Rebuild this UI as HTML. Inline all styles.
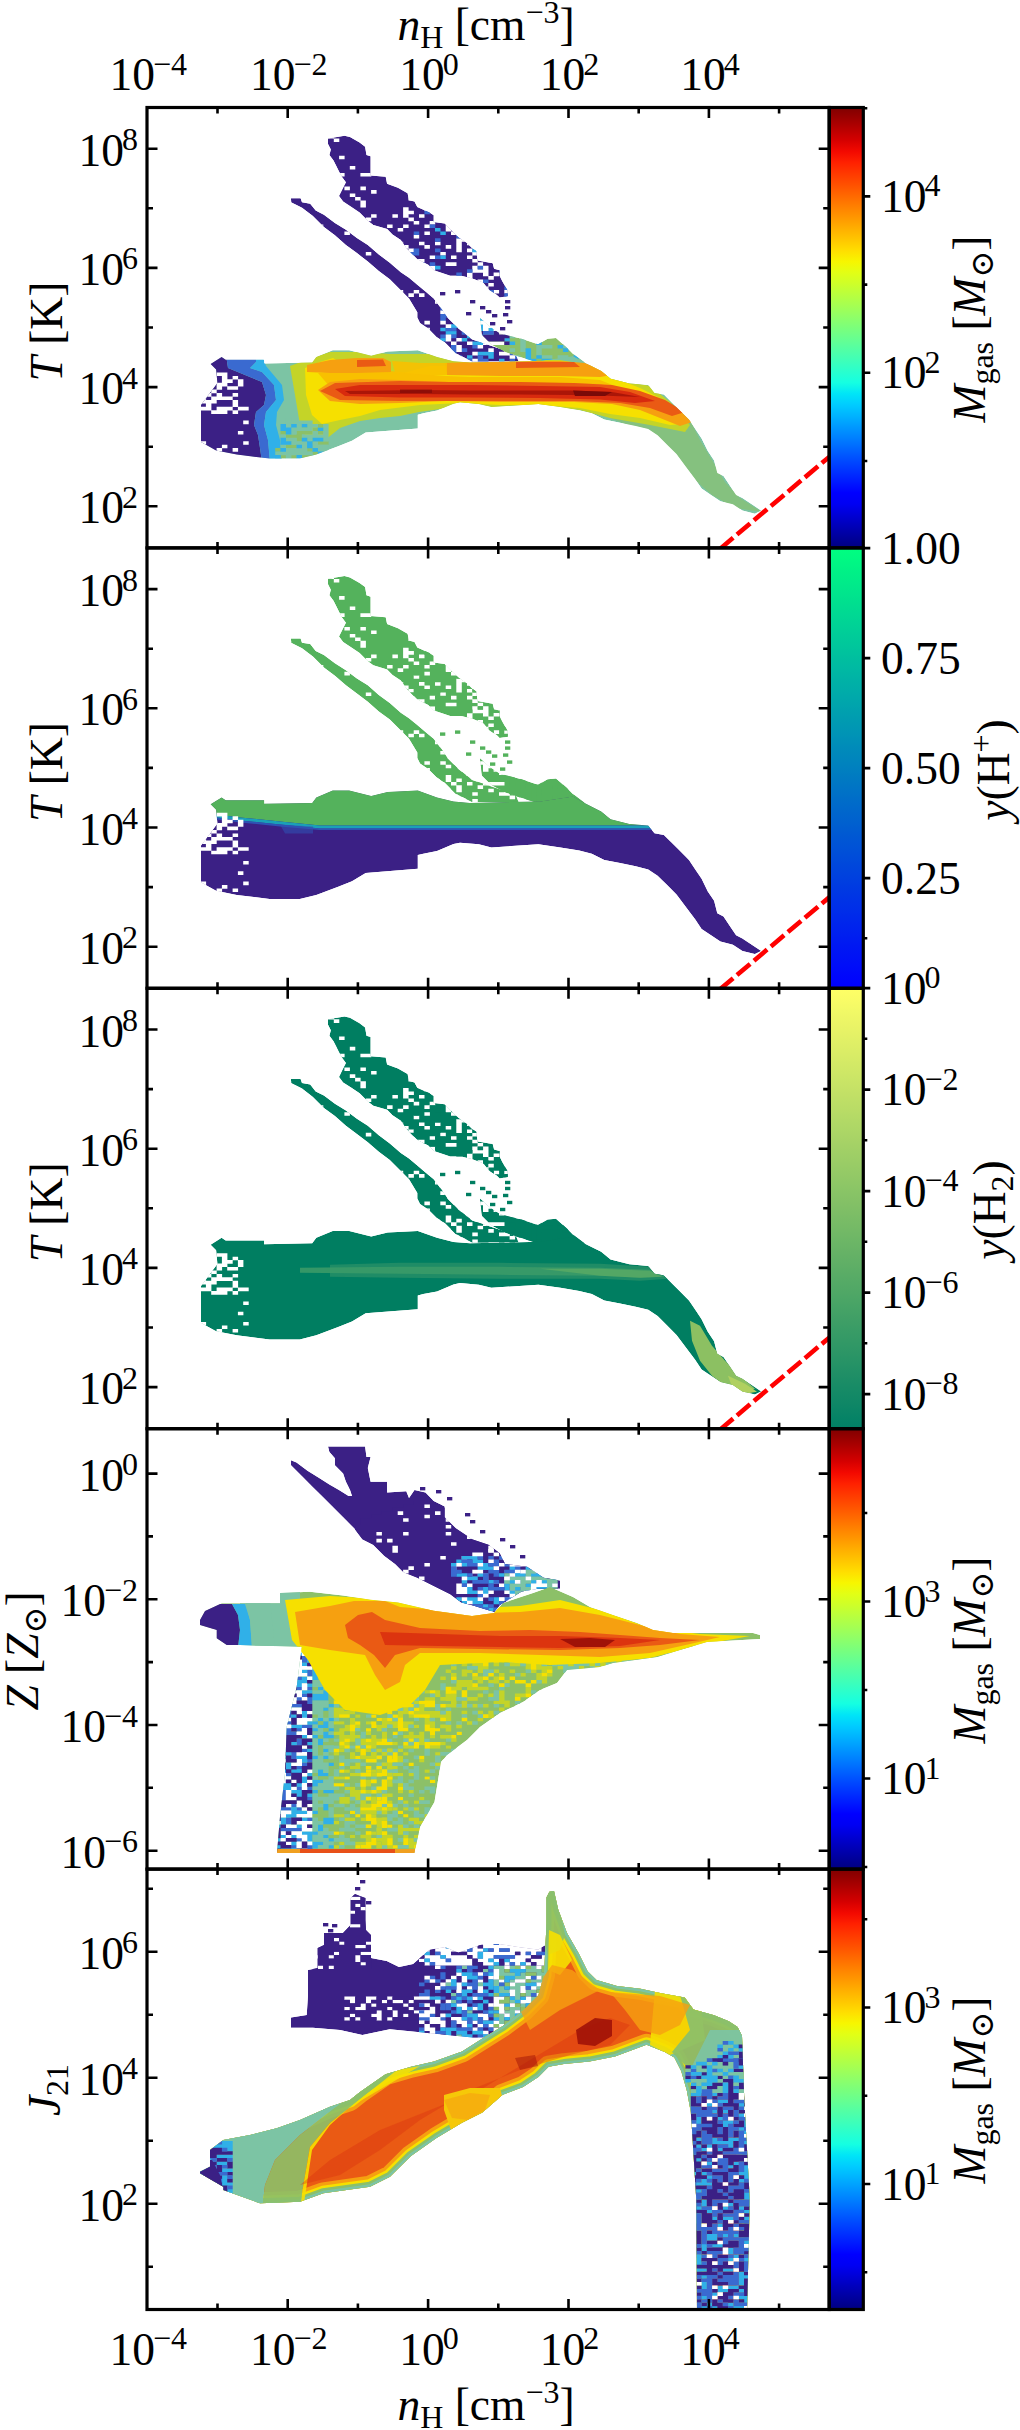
<!DOCTYPE html>
<html><head><meta charset="utf-8"><title>Phase diagrams</title>
<style>html,body{margin:0;padding:0;background:#fff;}svg{display:block;}</style>
</head><body>
<svg width="1020" height="2430" viewBox="0 0 1020 2430">
<defs><linearGradient id="gjet" x1="0" y1="0" x2="0" y2="1"><stop offset="0.0000" stop-color="#800000"/><stop offset="0.0250" stop-color="#9c0000"/><stop offset="0.0500" stop-color="#b90000"/><stop offset="0.0750" stop-color="#d60000"/><stop offset="0.1000" stop-color="#f30900"/><stop offset="0.1250" stop-color="#ff2100"/><stop offset="0.1500" stop-color="#ff3900"/><stop offset="0.1750" stop-color="#ff5000"/><stop offset="0.2000" stop-color="#ff6800"/><stop offset="0.2250" stop-color="#ff8000"/><stop offset="0.2500" stop-color="#ff9700"/><stop offset="0.2750" stop-color="#ffaf00"/><stop offset="0.3000" stop-color="#ffc600"/><stop offset="0.3250" stop-color="#ffde00"/><stop offset="0.3500" stop-color="#f7f600"/><stop offset="0.3750" stop-color="#e2ff15"/><stop offset="0.4000" stop-color="#ceff29"/><stop offset="0.4250" stop-color="#b9ff3e"/><stop offset="0.4500" stop-color="#a5ff52"/><stop offset="0.4750" stop-color="#90ff67"/><stop offset="0.5000" stop-color="#7bff7b"/><stop offset="0.5250" stop-color="#67ff90"/><stop offset="0.5500" stop-color="#52ffa5"/><stop offset="0.5750" stop-color="#3effb9"/><stop offset="0.6000" stop-color="#29ffce"/><stop offset="0.6250" stop-color="#15ffe2"/><stop offset="0.6500" stop-color="#00e5f7"/><stop offset="0.6750" stop-color="#00ccff"/><stop offset="0.7000" stop-color="#00b3ff"/><stop offset="0.7250" stop-color="#0099ff"/><stop offset="0.7500" stop-color="#0080ff"/><stop offset="0.7750" stop-color="#0066ff"/><stop offset="0.8000" stop-color="#004cff"/><stop offset="0.8250" stop-color="#0033ff"/><stop offset="0.8500" stop-color="#001aff"/><stop offset="0.8750" stop-color="#0000ff"/><stop offset="0.9000" stop-color="#0000f3"/><stop offset="0.9250" stop-color="#0000d6"/><stop offset="0.9500" stop-color="#0000b9"/><stop offset="0.9750" stop-color="#00009c"/><stop offset="1.0000" stop-color="#000080"/></linearGradient><linearGradient id="gwin" x1="0" y1="0" x2="0" y2="1"><stop offset="0.0000" stop-color="#00ff80"/><stop offset="0.0250" stop-color="#00f983"/><stop offset="0.0500" stop-color="#00f286"/><stop offset="0.0750" stop-color="#00ec89"/><stop offset="0.1000" stop-color="#00e68c"/><stop offset="0.1250" stop-color="#00df8f"/><stop offset="0.1500" stop-color="#00d993"/><stop offset="0.1750" stop-color="#00d296"/><stop offset="0.2000" stop-color="#00cc99"/><stop offset="0.2250" stop-color="#00c69c"/><stop offset="0.2500" stop-color="#00bf9f"/><stop offset="0.2750" stop-color="#00b9a3"/><stop offset="0.3000" stop-color="#00b2a6"/><stop offset="0.3250" stop-color="#00aca9"/><stop offset="0.3500" stop-color="#00a6ac"/><stop offset="0.3750" stop-color="#009faf"/><stop offset="0.4000" stop-color="#0099b2"/><stop offset="0.4250" stop-color="#0093b6"/><stop offset="0.4500" stop-color="#008cb9"/><stop offset="0.4750" stop-color="#0086bc"/><stop offset="0.5000" stop-color="#0080bf"/><stop offset="0.5250" stop-color="#0079c2"/><stop offset="0.5500" stop-color="#0073c6"/><stop offset="0.5750" stop-color="#006cc9"/><stop offset="0.6000" stop-color="#0066cc"/><stop offset="0.6250" stop-color="#0060cf"/><stop offset="0.6500" stop-color="#0059d2"/><stop offset="0.6750" stop-color="#0053d6"/><stop offset="0.7000" stop-color="#004dd9"/><stop offset="0.7250" stop-color="#0046dc"/><stop offset="0.7500" stop-color="#0040df"/><stop offset="0.7750" stop-color="#0039e2"/><stop offset="0.8000" stop-color="#0033e6"/><stop offset="0.8250" stop-color="#002de9"/><stop offset="0.8500" stop-color="#0026ec"/><stop offset="0.8750" stop-color="#0020ef"/><stop offset="0.9000" stop-color="#0019f2"/><stop offset="0.9250" stop-color="#0013f5"/><stop offset="0.9500" stop-color="#000df9"/><stop offset="0.9750" stop-color="#0006fc"/><stop offset="1.0000" stop-color="#0000ff"/></linearGradient><linearGradient id="gsum" x1="0" y1="0" x2="0" y2="1"><stop offset="0.0000" stop-color="#ffff66"/><stop offset="0.0250" stop-color="#f9fc66"/><stop offset="0.0500" stop-color="#f2f966"/><stop offset="0.0750" stop-color="#ecf566"/><stop offset="0.1000" stop-color="#e6f266"/><stop offset="0.1250" stop-color="#dfef66"/><stop offset="0.1500" stop-color="#d9ec66"/><stop offset="0.1750" stop-color="#d2e966"/><stop offset="0.2000" stop-color="#cce666"/><stop offset="0.2250" stop-color="#c6e266"/><stop offset="0.2500" stop-color="#bfdf66"/><stop offset="0.2750" stop-color="#b9dc66"/><stop offset="0.3000" stop-color="#b2d966"/><stop offset="0.3250" stop-color="#acd666"/><stop offset="0.3500" stop-color="#a6d266"/><stop offset="0.3750" stop-color="#9fcf66"/><stop offset="0.4000" stop-color="#99cc66"/><stop offset="0.4250" stop-color="#93c966"/><stop offset="0.4500" stop-color="#8cc666"/><stop offset="0.4750" stop-color="#86c266"/><stop offset="0.5000" stop-color="#80bf66"/><stop offset="0.5250" stop-color="#79bc66"/><stop offset="0.5500" stop-color="#73b966"/><stop offset="0.5750" stop-color="#6cb666"/><stop offset="0.6000" stop-color="#66b266"/><stop offset="0.6250" stop-color="#60af66"/><stop offset="0.6500" stop-color="#59ac66"/><stop offset="0.6750" stop-color="#53a966"/><stop offset="0.7000" stop-color="#4da666"/><stop offset="0.7250" stop-color="#46a366"/><stop offset="0.7500" stop-color="#409f66"/><stop offset="0.7750" stop-color="#399c66"/><stop offset="0.8000" stop-color="#339966"/><stop offset="0.8250" stop-color="#2d9666"/><stop offset="0.8500" stop-color="#269366"/><stop offset="0.8750" stop-color="#208f66"/><stop offset="0.9000" stop-color="#198c66"/><stop offset="0.9250" stop-color="#138966"/><stop offset="0.9500" stop-color="#0d8666"/><stop offset="0.9750" stop-color="#068366"/><stop offset="1.0000" stop-color="#008066"/></linearGradient><clipPath id="clip0"><rect x="147.0" y="107.5" width="682.2" height="440.4"/></clipPath><clipPath id="clip1"><rect x="147.0" y="547.9" width="682.2" height="440.4"/></clipPath><clipPath id="clip2"><rect x="147.0" y="988.3" width="682.2" height="440.4"/></clipPath><clipPath id="clip3"><rect x="147.0" y="1428.7" width="682.2" height="440.4"/></clipPath><clipPath id="clip4"><rect x="147.0" y="1869.1" width="682.2" height="440.4"/></clipPath><clipPath id="cpl0"><polygon points="328.0,138.4 344.5,135.7 350.0,137.0 359.6,142.5 365.1,146.7 366.5,154.9 370.6,156.3 370.6,175.5 385.7,176.8 387.1,183.7 398.0,187.8 407.6,193.3 409.0,200.2 414.5,201.6 417.3,207.0 429.6,212.5 433.7,215.3 433.7,222.1 444.7,223.5 450.2,229.0 458.4,237.2 466.7,242.7 472.2,248.2 476.3,251.0 477.6,260.6 492.7,263.3 494.1,268.8 499.6,270.2 499.6,275.7 502.3,281.2 507.8,290.8 507.8,296.3 499.6,297.6 496.9,294.9 488.6,289.4 483.1,282.5 472.2,278.4 461.2,275.7 450.2,275.7 442.0,272.9 433.7,270.2 428.2,264.7 417.3,259.2 411.8,253.7 406.3,248.2 400.8,240.0 392.5,234.5 387.1,229.0 373.3,224.9 367.8,220.8 359.6,212.5 351.4,207.0 343.1,201.6 339.0,196.1 343.1,187.8 345.9,182.3 341.8,176.8 339.0,171.4 336.3,165.9 333.5,160.4 329.4,154.9 330.8,149.4 328.0,143.9"/></clipPath><clipPath id="cst0"><polygon points="291.0,198.2 300.6,198.2 302.0,202.3 310.2,203.7 315.7,210.6 323.9,214.7 334.9,222.9 345.9,229.8 356.9,238.0 367.8,244.9 378.8,254.5 389.8,262.7 400.8,272.3 409.0,277.8 417.3,284.7 425.5,291.6 433.7,298.4 442.0,309.4 447.4,317.6 458.4,328.6 472.2,339.6 488.6,345.1 505.1,350.6 516.1,356.1 518.8,361.6 472.2,361.6 455.7,353.3 444.7,342.3 436.5,336.9 428.2,328.6 420.0,323.1 417.3,317.6 417.3,312.2 409.0,298.4 400.8,290.2 389.8,279.2 378.8,271.0 367.8,261.4 356.9,253.1 345.9,244.9 334.9,235.3 323.9,227.1 312.9,216.1 302.0,207.8 291.0,202.3"/></clipPath><clipPath id="cbr0"><polygon points="480.0,318.0 491.4,327.8 499.6,333.3 521.6,338.8 538.0,344.3 547.6,338.8 556.0,338.0 566.7,347.4 572.9,353.7 585.5,363.1 560.0,363.0 536.0,362.0 520.0,357.0 505.0,352.0 492.0,345.0 482.0,335.0"/></clipPath><clipPath id="cm0"><polygon points="210.6,363.9 221.6,357.0 225.7,359.8 264.1,359.8 264.1,363.4 312.2,362.5 316.3,357.0 332.7,350.2 349.2,350.2 371.2,355.7 387.6,351.6 417.8,350.2 437.0,357.0 453.5,361.2 470.0,362.5 540.0,361.0 572.9,356.0 585.5,363.1 601.2,371.0 610.6,378.8 629.4,383.5 648.2,385.1 654.5,392.9 663.9,394.5 673.3,403.9 679.6,410.2 689.0,419.6 695.3,429.0 701.6,438.4 707.8,451.0 714.1,460.4 717.3,472.9 723.5,476.1 729.8,485.5 736.1,494.9 742.4,498.0 751.8,504.3 761.2,510.6 754.9,513.7 742.4,510.6 732.9,504.3 720.4,501.2 711.0,494.9 701.6,488.6 695.3,479.2 685.9,466.7 676.5,454.1 667.1,444.7 657.6,435.3 648.2,429.0 635.7,425.9 620.0,422.7 604.3,419.6 591.8,413.3 579.2,410.2 560.4,407.0 538.4,403.9 491.4,407.0 478.8,403.9 460.0,402.3 453.5,403.7 437.0,410.6 423.3,413.3 417.8,414.7 417.8,428.4 365.7,432.5 352.0,440.8 338.2,446.3 316.3,454.5 299.8,458.6 269.6,458.6 236.7,454.5 216.1,450.4 201.0,442.1 201.0,405.1 209.2,394.1 217.4,383.1 216.1,369.4"/></clipPath><clipPath id="cpl440"><polygon points="328.0,578.8 344.5,576.1 350.0,577.4 359.6,582.9 365.1,587.1 366.5,595.3 370.6,596.7 370.6,615.9 385.7,617.2 387.1,624.1 398.0,628.2 407.6,633.7 409.0,640.6 414.5,642.0 417.3,647.4 429.6,652.9 433.7,655.7 433.7,662.5 444.7,663.9 450.2,669.4 458.4,677.6 466.7,683.1 472.2,688.6 476.3,691.4 477.6,701.0 492.7,703.7 494.1,709.2 499.6,710.6 499.6,716.1 502.3,721.6 507.8,731.2 507.8,736.7 499.6,738.0 496.9,735.3 488.6,729.8 483.1,722.9 472.2,718.8 461.2,716.1 450.2,716.1 442.0,713.3 433.7,710.6 428.2,705.1 417.3,699.6 411.8,694.1 406.3,688.6 400.8,680.4 392.5,674.9 387.1,669.4 373.3,665.3 367.8,661.2 359.6,652.9 351.4,647.4 343.1,642.0 339.0,636.5 343.1,628.2 345.9,622.7 341.8,617.2 339.0,611.8 336.3,606.3 333.5,600.8 329.4,595.3 330.8,589.8 328.0,584.3"/></clipPath><clipPath id="cst440"><polygon points="291.0,638.6 300.6,638.6 302.0,642.7 310.2,644.1 315.7,651.0 323.9,655.1 334.9,663.3 345.9,670.2 356.9,678.4 367.8,685.3 378.8,694.9 389.8,703.1 400.8,712.7 409.0,718.2 417.3,725.1 425.5,732.0 433.7,738.8 442.0,749.8 447.4,758.0 458.4,769.0 472.2,780.0 488.6,785.5 505.1,791.0 516.1,796.5 518.8,802.0 472.2,802.0 455.7,793.7 444.7,782.7 436.5,777.3 428.2,769.0 420.0,763.5 417.3,758.0 417.3,752.6 409.0,738.8 400.8,730.6 389.8,719.6 378.8,711.4 367.8,701.8 356.9,693.5 345.9,685.3 334.9,675.7 323.9,667.5 312.9,656.5 302.0,648.2 291.0,642.7"/></clipPath><clipPath id="cbr440"><polygon points="480.0,758.4 491.4,768.2 499.6,773.7 521.6,779.2 538.0,784.7 547.6,779.2 556.0,778.4 566.7,787.8 572.9,794.1 585.5,803.5 560.0,803.4 536.0,802.4 520.0,797.4 505.0,792.4 492.0,785.4 482.0,775.4"/></clipPath><clipPath id="cm1"><polygon points="210.6,804.3 221.6,797.4 225.7,800.2 264.1,800.2 264.1,803.8 312.2,802.9 316.3,797.4 332.7,790.6 349.2,790.6 371.2,796.1 387.6,792.0 417.8,790.6 437.0,797.4 453.5,801.6 470.0,802.9 540.0,801.4 572.9,796.4 585.5,803.5 601.2,811.4 610.6,819.2 629.4,823.9 648.2,825.5 654.5,833.3 663.9,834.9 673.3,844.3 679.6,850.6 689.0,860.0 695.3,869.4 701.6,878.8 707.8,891.4 714.1,900.8 717.3,913.3 723.5,916.5 729.8,925.9 736.1,935.3 742.4,938.4 751.8,944.7 761.2,951.0 754.9,954.1 742.4,951.0 732.9,944.7 720.4,941.6 711.0,935.3 701.6,929.0 695.3,919.6 685.9,907.1 676.5,894.5 667.1,885.1 657.6,875.7 648.2,869.4 635.7,866.3 620.0,863.1 604.3,860.0 591.8,853.7 579.2,850.6 560.4,847.4 538.4,844.3 491.4,847.4 478.8,844.3 460.0,842.7 453.5,844.1 437.0,851.0 423.3,853.7 417.8,855.1 417.8,868.8 365.7,872.9 352.0,881.2 338.2,886.7 316.3,894.9 299.8,899.0 269.6,899.0 236.7,894.9 216.1,890.8 201.0,882.5 201.0,845.5 209.2,834.5 217.4,823.5 216.1,809.8"/></clipPath><clipPath id="cpl880"><polygon points="328.0,1019.2 344.5,1016.5 350.0,1017.8 359.6,1023.3 365.1,1027.5 366.5,1035.7 370.6,1037.1 370.6,1056.3 385.7,1057.6 387.1,1064.5 398.0,1068.6 407.6,1074.1 409.0,1081.0 414.5,1082.4 417.3,1087.8 429.6,1093.3 433.7,1096.1 433.7,1102.9 444.7,1104.3 450.2,1109.8 458.4,1118.0 466.7,1123.5 472.2,1129.0 476.3,1131.8 477.6,1141.4 492.7,1144.1 494.1,1149.6 499.6,1151.0 499.6,1156.5 502.3,1162.0 507.8,1171.6 507.8,1177.1 499.6,1178.4 496.9,1175.7 488.6,1170.2 483.1,1163.3 472.2,1159.2 461.2,1156.5 450.2,1156.5 442.0,1153.7 433.7,1151.0 428.2,1145.5 417.3,1140.0 411.8,1134.5 406.3,1129.0 400.8,1120.8 392.5,1115.3 387.1,1109.8 373.3,1105.7 367.8,1101.6 359.6,1093.3 351.4,1087.8 343.1,1082.4 339.0,1076.9 343.1,1068.6 345.9,1063.1 341.8,1057.6 339.0,1052.2 336.3,1046.7 333.5,1041.2 329.4,1035.7 330.8,1030.2 328.0,1024.7"/></clipPath><clipPath id="cst880"><polygon points="291.0,1079.0 300.6,1079.0 302.0,1083.1 310.2,1084.5 315.7,1091.4 323.9,1095.5 334.9,1103.7 345.9,1110.6 356.9,1118.8 367.8,1125.7 378.8,1135.3 389.8,1143.5 400.8,1153.1 409.0,1158.6 417.3,1165.5 425.5,1172.4 433.7,1179.2 442.0,1190.2 447.4,1198.4 458.4,1209.4 472.2,1220.4 488.6,1225.9 505.1,1231.4 516.1,1236.9 518.8,1242.4 472.2,1242.4 455.7,1234.1 444.7,1223.1 436.5,1217.7 428.2,1209.4 420.0,1203.9 417.3,1198.4 417.3,1193.0 409.0,1179.2 400.8,1171.0 389.8,1160.0 378.8,1151.8 367.8,1142.2 356.9,1133.9 345.9,1125.7 334.9,1116.1 323.9,1107.9 312.9,1096.9 302.0,1088.6 291.0,1083.1"/></clipPath><clipPath id="cbr880"><polygon points="480.0,1198.8 491.4,1208.6 499.6,1214.1 521.6,1219.6 538.0,1225.1 547.6,1219.6 556.0,1218.8 566.7,1228.2 572.9,1234.5 585.5,1243.9 560.0,1243.8 536.0,1242.8 520.0,1237.8 505.0,1232.8 492.0,1225.8 482.0,1215.8"/></clipPath><clipPath id="cm2"><polygon points="210.6,1244.7 221.6,1237.8 225.7,1240.6 264.1,1240.6 264.1,1244.2 312.2,1243.3 316.3,1237.8 332.7,1231.0 349.2,1231.0 371.2,1236.5 387.6,1232.4 417.8,1231.0 437.0,1237.8 453.5,1242.0 470.0,1243.3 540.0,1241.8 572.9,1236.8 585.5,1243.9 601.2,1251.8 610.6,1259.6 629.4,1264.3 648.2,1265.9 654.5,1273.7 663.9,1275.3 673.3,1284.7 679.6,1291.0 689.0,1300.4 695.3,1309.8 701.6,1319.2 707.8,1331.8 714.1,1341.2 717.3,1353.7 723.5,1356.9 729.8,1366.3 736.1,1375.7 742.4,1378.8 751.8,1385.1 761.2,1391.4 754.9,1394.5 742.4,1391.4 732.9,1385.1 720.4,1382.0 711.0,1375.7 701.6,1369.4 695.3,1360.0 685.9,1347.5 676.5,1334.9 667.1,1325.5 657.6,1316.1 648.2,1309.8 635.7,1306.7 620.0,1303.5 604.3,1300.4 591.8,1294.1 579.2,1291.0 560.4,1287.8 538.4,1284.7 491.4,1287.8 478.8,1284.7 460.0,1283.1 453.5,1284.5 437.0,1291.4 423.3,1294.1 417.8,1295.5 417.8,1309.2 365.7,1313.3 352.0,1321.6 338.2,1327.1 316.3,1335.3 299.8,1339.4 269.6,1339.4 236.7,1335.3 216.1,1331.2 201.0,1322.9 201.0,1285.9 209.2,1274.9 217.4,1263.9 216.1,1250.2"/></clipPath><clipPath id="cp3"><polygon points="291.0,1460.3 296.5,1462.4 307.5,1470.7 318.4,1477.5 329.4,1484.4 339.0,1489.9 348.6,1496.0 352.0,1496.0 350.0,1489.9 345.9,1481.7 343.1,1473.4 334.9,1465.2 334.9,1458.3 329.4,1452.0 328.0,1446.5 365.1,1446.5 366.5,1457.0 370.6,1457.0 367.8,1468.0 370.6,1481.7 387.1,1481.7 387.1,1492.6 406.3,1491.3 409.0,1498.1 414.5,1490.0 425.5,1492.6 433.7,1500.9 444.7,1506.4 444.7,1517.3 455.7,1528.3 472.2,1539.3 488.6,1544.8 499.6,1553.0 505.1,1564.0 527.0,1566.8 535.3,1572.2 543.5,1577.7 560.0,1580.5 560.0,1588.7 538.0,1588.7 521.6,1591.5 499.6,1605.2 494.1,1612.0 472.2,1605.2 461.2,1602.4 450.2,1594.2 433.7,1586.0 417.3,1577.7 403.5,1572.2 395.3,1564.0 384.3,1555.8 373.3,1544.8 362.4,1539.3 354.1,1528.3 345.9,1520.1 334.9,1509.1 323.9,1498.1 312.9,1487.2 302.0,1476.2 291.0,1465.2"/></clipPath><clipPath id="cm3"><polygon points="200.0,1620.0 205.0,1611.0 221.7,1603.3 280.0,1603.3 280.0,1593.0 310.0,1591.7 343.0,1595.6 370.6,1599.7 398.0,1602.4 433.7,1610.7 472.0,1616.0 494.0,1613.0 503.0,1603.0 533.0,1593.0 550.0,1587.0 573.0,1597.0 590.0,1607.0 613.0,1615.0 637.0,1623.0 653.0,1630.0 673.0,1633.0 753.0,1633.0 760.0,1635.0 760.0,1639.0 707.0,1642.0 680.0,1650.0 657.0,1657.0 613.0,1663.0 600.0,1667.0 567.0,1670.0 557.0,1683.0 540.0,1690.0 523.0,1702.0 500.0,1713.0 480.0,1727.0 467.0,1740.0 447.0,1755.0 441.0,1762.0 434.5,1802.0 420.0,1826.7 414.5,1853.0 277.0,1853.0 280.0,1816.7 285.0,1773.3 286.7,1726.7 296.7,1686.7 301.7,1646.7 240.0,1645.0 226.7,1645.0 216.7,1638.3 216.7,1630.0 200.0,1625.0"/></clipPath><clipPath id="cp4"><polygon points="291.0,2017.5 306.7,2015.0 308.0,1995.0 308.0,1970.0 317.6,1968.0 317.6,1948.0 324.0,1945.0 324.0,1933.0 343.0,1933.0 350.6,1925.0 350.6,1898.0 355.0,1894.0 360.0,1896.0 365.5,1898.0 365.5,1920.0 366.0,1930.0 371.0,1935.0 371.0,1958.0 386.7,1961.0 399.0,1967.0 413.0,1964.0 429.0,1950.0 444.7,1946.9 458.4,1952.4 483.1,1944.1 499.6,1944.1 518.8,1946.9 538.0,1949.6 546.0,1945.0 546.0,2034.7 527.0,2034.7 499.6,2037.4 472.2,2037.4 444.7,2034.7 417.3,2032.0 389.8,2029.2 362.4,2035.0 340.0,2030.0 312.9,2027.8 291.0,2027.8"/></clipPath><clipPath id="cm4"><polygon points="200.0,2171.7 210.0,2166.7 210.0,2150.0 223.3,2140.0 250.0,2135.0 276.7,2128.3 300.0,2120.0 330.0,2106.7 350.0,2100.0 360.0,2092.0 385.5,2074.3 411.0,2066.7 433.9,2061.6 462.0,2051.4 482.4,2038.6 502.7,2025.9 523.1,2010.6 538.4,1995.3 544.0,1975.0 546.5,1924.1 546.5,1897.6 549.4,1891.8 554.0,1891.0 558.2,1909.4 567.0,1933.0 578.8,1953.5 587.6,1971.2 596.5,1980.0 617.0,1985.9 640.6,1988.8 661.2,1993.2 684.7,1997.6 693.5,2009.4 714.1,2015.3 728.8,2021.2 737.6,2027.0 742.0,2036.0 744.3,2100.0 749.8,2200.0 747.0,2312.0 697.0,2312.0 696.3,2200.0 692.0,2130.0 690.8,2112.0 686.7,2090.0 681.2,2071.0 674.3,2057.5 664.7,2052.0 646.5,2044.7 614.9,2056.5 589.4,2061.6 563.9,2064.1 548.6,2066.7 538.4,2076.9 523.1,2087.1 502.7,2094.7 482.4,2112.6 462.0,2122.7 436.5,2138.0 411.0,2155.9 390.0,2176.7 370.0,2186.7 323.3,2193.3 300.0,2201.7 260.0,2203.3 223.3,2190.0 223.3,2186.7 200.0,2173.3"/></clipPath></defs>
<rect width="1020" height="2430" fill="#fff"/>
<g clip-path="url(#clip0)">
<g clip-path="url(#cpl0)"><polygon points="328.0,138.4 344.5,135.7 350.0,137.0 359.6,142.5 365.1,146.7 366.5,154.9 370.6,156.3 370.6,175.5 385.7,176.8 387.1,183.7 398.0,187.8 407.6,193.3 409.0,200.2 414.5,201.6 417.3,207.0 429.6,212.5 433.7,215.3 433.7,222.1 444.7,223.5 450.2,229.0 458.4,237.2 466.7,242.7 472.2,248.2 476.3,251.0 477.6,260.6 492.7,263.3 494.1,268.8 499.6,270.2 499.6,275.7 502.3,281.2 507.8,290.8 507.8,296.3 499.6,297.6 496.9,294.9 488.6,289.4 483.1,282.5 472.2,278.4 461.2,275.7 450.2,275.7 442.0,272.9 433.7,270.2 428.2,264.7 417.3,259.2 411.8,253.7 406.3,248.2 400.8,240.0 392.5,234.5 387.1,229.0 373.3,224.9 367.8,220.8 359.6,212.5 351.4,207.0 343.1,201.6 339.0,196.1 343.1,187.8 345.9,182.3 341.8,176.8 339.0,171.4 336.3,165.9 333.5,160.4 329.4,154.9 330.8,149.4 328.0,143.9" fill="#3b2085"/><path d="M317.8 203.8h5.5v3.6h-5.5zM317.8 207.3h5.5v3.6h-5.5zM323.1 152.2h5.5v3.6h-5.5zM323.1 159.1h5.5v3.6h-5.5zM323.1 183.2h5.5v3.6h-5.5zM328.5 135.0h5.5v3.6h-5.5zM328.5 214.2h5.5v3.6h-5.5zM328.5 241.7h5.5v3.6h-5.5zM333.8 138.5h5.5v3.6h-5.5zM333.8 214.2h5.5v3.6h-5.5zM333.8 224.5h5.5v3.6h-5.5zM333.8 227.9h5.5v3.6h-5.5zM333.8 231.4h5.5v3.6h-5.5zM339.1 155.7h5.5v3.6h-5.5zM339.1 172.9h5.5v3.6h-5.5zM339.1 207.3h5.5v3.6h-5.5zM344.4 186.6h5.5v3.6h-5.5zM344.4 210.7h5.5v3.6h-5.5zM349.8 166.0h5.5v3.6h-5.5zM349.8 193.5h5.5v3.6h-5.5zM349.8 214.2h5.5v3.6h-5.5zM355.1 197.0h5.5v3.6h-5.5zM360.4 172.9h5.5v3.6h-5.5zM360.4 186.6h5.5v3.6h-5.5zM360.4 200.4h5.5v3.6h-5.5zM360.4 203.8h5.5v3.6h-5.5zM365.8 172.9h5.5v3.6h-5.5zM365.8 217.6h5.5v3.6h-5.5zM371.1 190.1h5.5v3.6h-5.5zM371.1 214.2h5.5v3.6h-5.5zM376.4 135.0h5.5v3.6h-5.5zM376.4 138.5h5.5v3.6h-5.5zM376.4 152.2h5.5v3.6h-5.5zM376.4 231.4h5.5v3.6h-5.5zM381.7 234.8h5.5v3.6h-5.5zM387.1 131.6h5.5v3.6h-5.5zM387.1 159.1h5.5v3.6h-5.5zM387.1 224.5h5.5v3.6h-5.5zM392.4 214.2h5.5v3.6h-5.5z" fill="#ffffff"/><path d="M397.7 227.9h5.5v3.6h-5.5zM397.7 241.7h5.5v3.6h-5.5zM403.1 179.8h5.5v3.6h-5.5zM403.1 207.3h5.5v3.6h-5.5zM403.1 210.7h5.5v3.6h-5.5zM403.1 214.2h5.5v3.6h-5.5zM403.1 224.5h5.5v3.6h-5.5zM403.1 245.1h5.5v3.6h-5.5zM403.1 283.0h5.5v3.6h-5.5zM408.4 190.1h5.5v3.6h-5.5zM408.4 197.0h5.5v3.6h-5.5zM408.4 210.7h5.5v3.6h-5.5zM408.4 217.6h5.5v3.6h-5.5zM408.4 248.6h5.5v3.6h-5.5zM408.4 279.5h5.5v3.6h-5.5zM408.4 286.4h5.5v3.6h-5.5zM413.7 221.0h5.5v3.6h-5.5zM413.7 234.8h5.5v3.6h-5.5zM413.7 258.9h5.5v3.6h-5.5zM413.7 276.1h5.5v3.6h-5.5zM419.0 203.8h5.5v3.6h-5.5zM419.0 214.2h5.5v3.6h-5.5zM419.0 241.7h5.5v3.6h-5.5zM419.0 258.9h5.5v3.6h-5.5zM419.0 276.1h5.5v3.6h-5.5zM424.4 190.1h5.5v3.6h-5.5zM424.4 203.8h5.5v3.6h-5.5zM424.4 207.3h5.5v3.6h-5.5zM424.4 224.5h5.5v3.6h-5.5zM424.4 231.4h5.5v3.6h-5.5zM424.4 245.1h5.5v3.6h-5.5zM429.7 186.6h5.5v3.6h-5.5zM429.7 221.0h5.5v3.6h-5.5zM429.7 255.4h5.5v3.6h-5.5zM429.7 265.8h5.5v3.6h-5.5zM429.7 269.2h5.5v3.6h-5.5zM429.7 272.6h5.5v3.6h-5.5zM435.0 190.1h5.5v3.6h-5.5zM435.0 241.7h5.5v3.6h-5.5zM440.3 200.4h5.5v3.6h-5.5zM440.3 210.7h5.5v3.6h-5.5zM440.3 252.0h5.5v3.6h-5.5zM440.3 286.4h5.5v3.6h-5.5zM445.7 183.2h5.5v3.6h-5.5zM445.7 200.4h5.5v3.6h-5.5zM445.7 210.7h5.5v3.6h-5.5zM445.7 214.2h5.5v3.6h-5.5zM445.7 217.6h5.5v3.6h-5.5zM445.7 224.5h5.5v3.6h-5.5zM445.7 227.9h5.5v3.6h-5.5zM445.7 245.1h5.5v3.6h-5.5zM445.7 262.3h5.5v3.6h-5.5zM451.0 231.4h5.5v3.6h-5.5zM451.0 255.4h5.5v3.6h-5.5zM451.0 262.3h5.5v3.6h-5.5z" fill="#ffffff"/><path d="M397.7 262.3h5.5v3.6h-5.5zM397.7 286.4h5.5v3.6h-5.5zM403.1 252.0h5.5v3.6h-5.5zM403.1 265.8h5.5v3.6h-5.5zM403.1 269.2h5.5v3.6h-5.5zM403.1 286.4h5.5v3.6h-5.5zM408.4 186.6h5.5v3.6h-5.5zM408.4 252.0h5.5v3.6h-5.5zM413.7 186.6h5.5v3.6h-5.5zM413.7 231.4h5.5v3.6h-5.5zM413.7 248.6h5.5v3.6h-5.5zM413.7 252.0h5.5v3.6h-5.5zM419.0 262.3h5.5v3.6h-5.5zM419.0 286.4h5.5v3.6h-5.5zM424.4 210.7h5.5v3.6h-5.5zM424.4 276.1h5.5v3.6h-5.5zM424.4 286.4h5.5v3.6h-5.5zM429.7 190.1h5.5v3.6h-5.5zM429.7 193.5h5.5v3.6h-5.5zM429.7 224.5h5.5v3.6h-5.5zM429.7 262.3h5.5v3.6h-5.5zM435.0 238.2h5.5v3.6h-5.5zM435.0 248.6h5.5v3.6h-5.5zM435.0 255.4h5.5v3.6h-5.5zM445.7 186.6h5.5v3.6h-5.5zM445.7 276.1h5.5v3.6h-5.5zM451.0 224.5h5.5v3.6h-5.5zM451.0 276.1h5.5v3.6h-5.5zM451.0 283.0h5.5v3.6h-5.5z" fill="#3a6ad0"/><path d="M413.7 179.8h5.5v3.6h-5.5zM413.7 183.2h5.5v3.6h-5.5zM435.0 227.9h5.5v3.6h-5.5zM435.0 265.8h5.5v3.6h-5.5zM440.3 231.4h5.5v3.6h-5.5zM440.3 255.4h5.5v3.6h-5.5zM440.3 279.5h5.5v3.6h-5.5z" fill="#30b0e8"/><path d="M456.3 227.9h5.5v3.6h-5.5zM456.3 231.4h5.5v3.6h-5.5zM456.3 238.2h5.5v3.6h-5.5zM456.3 241.7h5.5v3.6h-5.5zM456.3 245.1h5.5v3.6h-5.5zM456.3 248.6h5.5v3.6h-5.5zM456.3 279.5h5.5v3.6h-5.5zM456.3 300.2h5.5v3.6h-5.5zM461.7 221.0h5.5v3.6h-5.5zM461.7 238.2h5.5v3.6h-5.5zM461.7 279.5h5.5v3.6h-5.5zM461.7 296.7h5.5v3.6h-5.5zM467.0 227.9h5.5v3.6h-5.5zM467.0 234.8h5.5v3.6h-5.5zM467.0 238.2h5.5v3.6h-5.5zM467.0 241.7h5.5v3.6h-5.5zM467.0 248.6h5.5v3.6h-5.5zM467.0 255.4h5.5v3.6h-5.5zM467.0 272.6h5.5v3.6h-5.5zM467.0 276.1h5.5v3.6h-5.5zM467.0 279.5h5.5v3.6h-5.5zM467.0 286.4h5.5v3.6h-5.5zM467.0 296.7h5.5v3.6h-5.5zM472.3 227.9h5.5v3.6h-5.5zM472.3 252.0h5.5v3.6h-5.5zM472.3 258.9h5.5v3.6h-5.5zM472.3 265.8h5.5v3.6h-5.5zM472.3 269.2h5.5v3.6h-5.5zM472.3 283.0h5.5v3.6h-5.5zM472.3 293.3h5.5v3.6h-5.5zM472.3 296.7h5.5v3.6h-5.5zM477.6 241.7h5.5v3.6h-5.5zM477.6 262.3h5.5v3.6h-5.5zM477.6 269.2h5.5v3.6h-5.5zM477.6 279.5h5.5v3.6h-5.5zM477.6 286.4h5.5v3.6h-5.5zM477.6 289.9h5.5v3.6h-5.5zM477.6 296.7h5.5v3.6h-5.5zM483.0 231.4h5.5v3.6h-5.5zM483.0 252.0h5.5v3.6h-5.5zM483.0 265.8h5.5v3.6h-5.5zM483.0 269.2h5.5v3.6h-5.5zM483.0 272.6h5.5v3.6h-5.5zM483.0 286.4h5.5v3.6h-5.5zM483.0 293.3h5.5v3.6h-5.5zM483.0 296.7h5.5v3.6h-5.5zM488.3 221.0h5.5v3.6h-5.5zM488.3 231.4h5.5v3.6h-5.5zM488.3 241.7h5.5v3.6h-5.5zM488.3 245.1h5.5v3.6h-5.5zM488.3 252.0h5.5v3.6h-5.5zM488.3 258.9h5.5v3.6h-5.5zM488.3 276.1h5.5v3.6h-5.5zM488.3 283.0h5.5v3.6h-5.5zM488.3 293.3h5.5v3.6h-5.5zM488.3 300.2h5.5v3.6h-5.5zM493.6 221.0h5.5v3.6h-5.5zM493.6 262.3h5.5v3.6h-5.5zM493.6 272.6h5.5v3.6h-5.5zM493.6 289.9h5.5v3.6h-5.5zM493.6 300.2h5.5v3.6h-5.5zM499.0 238.2h5.5v3.6h-5.5zM499.0 241.7h5.5v3.6h-5.5zM499.0 245.1h5.5v3.6h-5.5zM499.0 262.3h5.5v3.6h-5.5zM504.3 224.5h5.5v3.6h-5.5zM504.3 252.0h5.5v3.6h-5.5zM504.3 276.1h5.5v3.6h-5.5zM504.3 289.9h5.5v3.6h-5.5zM504.3 300.2h5.5v3.6h-5.5zM509.6 221.0h5.5v3.6h-5.5zM509.6 241.7h5.5v3.6h-5.5zM509.6 252.0h5.5v3.6h-5.5zM509.6 255.4h5.5v3.6h-5.5zM509.6 258.9h5.5v3.6h-5.5zM509.6 262.3h5.5v3.6h-5.5zM509.6 272.6h5.5v3.6h-5.5zM509.6 276.1h5.5v3.6h-5.5zM509.6 289.9h5.5v3.6h-5.5zM509.6 293.3h5.5v3.6h-5.5z" fill="#ffffff"/><path d="M456.3 234.8h5.5v3.6h-5.5zM456.3 272.6h5.5v3.6h-5.5zM456.3 286.4h5.5v3.6h-5.5zM461.7 289.9h5.5v3.6h-5.5zM461.7 300.2h5.5v3.6h-5.5zM467.0 231.4h5.5v3.6h-5.5zM467.0 269.2h5.5v3.6h-5.5zM477.6 265.8h5.5v3.6h-5.5zM477.6 300.2h5.5v3.6h-5.5zM483.0 279.5h5.5v3.6h-5.5zM488.3 289.9h5.5v3.6h-5.5zM493.6 227.9h5.5v3.6h-5.5zM493.6 234.8h5.5v3.6h-5.5zM499.0 269.2h5.5v3.6h-5.5zM504.3 234.8h5.5v3.6h-5.5zM504.3 272.6h5.5v3.6h-5.5zM504.3 286.4h5.5v3.6h-5.5zM504.3 293.3h5.5v3.6h-5.5z" fill="#3a6ad0"/><path d="M456.3 283.0h5.5v3.6h-5.5zM461.7 231.4h5.5v3.6h-5.5zM461.7 286.4h5.5v3.6h-5.5zM467.0 289.9h5.5v3.6h-5.5zM472.3 248.6h5.5v3.6h-5.5zM477.6 227.9h5.5v3.6h-5.5zM477.6 293.3h5.5v3.6h-5.5zM488.3 255.4h5.5v3.6h-5.5zM488.3 296.7h5.5v3.6h-5.5zM499.0 224.5h5.5v3.6h-5.5zM499.0 234.8h5.5v3.6h-5.5zM509.6 245.1h5.5v3.6h-5.5zM509.6 269.2h5.5v3.6h-5.5z" fill="#30b0e8"/></g>
<g clip-path="url(#cst0)"><polygon points="291.0,198.2 300.6,198.2 302.0,202.3 310.2,203.7 315.7,210.6 323.9,214.7 334.9,222.9 345.9,229.8 356.9,238.0 367.8,244.9 378.8,254.5 389.8,262.7 400.8,272.3 409.0,277.8 417.3,284.7 425.5,291.6 433.7,298.4 442.0,309.4 447.4,317.6 458.4,328.6 472.2,339.6 488.6,345.1 505.1,350.6 516.1,356.1 518.8,361.6 472.2,361.6 455.7,353.3 444.7,342.3 436.5,336.9 428.2,328.6 420.0,323.1 417.3,317.6 417.3,312.2 409.0,298.4 400.8,290.2 389.8,279.2 378.8,271.0 367.8,261.4 356.9,253.1 345.9,244.9 334.9,235.3 323.9,227.1 312.9,216.1 302.0,207.8 291.0,202.3" fill="#3b2085"/><path d="M285.8 200.4h5.5v3.6h-5.5zM285.8 252.0h5.5v3.6h-5.5zM285.8 279.5h5.5v3.6h-5.5zM285.8 313.9h5.5v3.6h-5.5zM291.2 210.7h5.5v3.6h-5.5zM291.2 255.4h5.5v3.6h-5.5zM291.2 265.8h5.5v3.6h-5.5zM291.2 338.0h5.5v3.6h-5.5zM296.5 193.5h5.5v3.6h-5.5zM296.5 245.1h5.5v3.6h-5.5zM296.5 276.1h5.5v3.6h-5.5zM296.5 313.9h5.5v3.6h-5.5zM296.5 324.3h5.5v3.6h-5.5zM301.8 190.1h5.5v3.6h-5.5zM307.1 227.9h5.5v3.6h-5.5zM307.1 269.2h5.5v3.6h-5.5zM317.8 224.5h5.5v3.6h-5.5zM328.5 238.2h5.5v3.6h-5.5zM328.5 276.1h5.5v3.6h-5.5zM328.5 279.5h5.5v3.6h-5.5zM328.5 331.1h5.5v3.6h-5.5zM333.8 190.1h5.5v3.6h-5.5zM333.8 207.3h5.5v3.6h-5.5zM333.8 272.6h5.5v3.6h-5.5zM333.8 289.9h5.5v3.6h-5.5zM339.1 258.9h5.5v3.6h-5.5zM344.4 231.4h5.5v3.6h-5.5zM344.4 255.4h5.5v3.6h-5.5zM349.8 190.1h5.5v3.6h-5.5zM349.8 307.1h5.5v3.6h-5.5zM349.8 324.3h5.5v3.6h-5.5zM349.8 327.7h5.5v3.6h-5.5zM355.1 262.3h5.5v3.6h-5.5zM355.1 276.1h5.5v3.6h-5.5zM355.1 300.2h5.5v3.6h-5.5zM355.1 334.6h5.5v3.6h-5.5zM360.4 286.4h5.5v3.6h-5.5zM360.4 300.2h5.5v3.6h-5.5zM365.8 190.1h5.5v3.6h-5.5zM365.8 234.8h5.5v3.6h-5.5zM365.8 252.0h5.5v3.6h-5.5zM365.8 272.6h5.5v3.6h-5.5zM371.1 289.9h5.5v3.6h-5.5zM376.4 293.3h5.5v3.6h-5.5zM381.7 210.7h5.5v3.6h-5.5zM381.7 283.0h5.5v3.6h-5.5zM381.7 303.6h5.5v3.6h-5.5zM381.7 317.4h5.5v3.6h-5.5zM387.1 227.9h5.5v3.6h-5.5zM392.4 214.2h5.5v3.6h-5.5zM392.4 227.9h5.5v3.6h-5.5zM392.4 241.7h5.5v3.6h-5.5zM397.7 227.9h5.5v3.6h-5.5zM397.7 289.9h5.5v3.6h-5.5zM397.7 303.6h5.5v3.6h-5.5zM403.1 234.8h5.5v3.6h-5.5zM403.1 255.4h5.5v3.6h-5.5zM403.1 313.9h5.5v3.6h-5.5zM408.4 241.7h5.5v3.6h-5.5zM408.4 252.0h5.5v3.6h-5.5zM408.4 293.3h5.5v3.6h-5.5zM413.7 231.4h5.5v3.6h-5.5zM413.7 289.9h5.5v3.6h-5.5zM419.0 197.0h5.5v3.6h-5.5zM419.0 234.8h5.5v3.6h-5.5zM419.0 255.4h5.5v3.6h-5.5zM419.0 276.1h5.5v3.6h-5.5zM419.0 293.3h5.5v3.6h-5.5zM419.0 331.1h5.5v3.6h-5.5zM424.4 255.4h5.5v3.6h-5.5zM424.4 279.5h5.5v3.6h-5.5zM424.4 320.8h5.5v3.6h-5.5zM424.4 327.7h5.5v3.6h-5.5zM429.7 203.8h5.5v3.6h-5.5zM429.7 283.0h5.5v3.6h-5.5zM435.0 248.6h5.5v3.6h-5.5zM435.0 296.7h5.5v3.6h-5.5zM435.0 300.2h5.5v3.6h-5.5z" fill="#ffffff"/><path d="M440.3 303.6h5.5v3.6h-5.5zM440.3 327.7h5.5v3.6h-5.5zM440.3 338.0h5.5v3.6h-5.5zM440.3 344.9h5.5v3.6h-5.5zM440.3 355.2h5.5v3.6h-5.5zM445.7 303.6h5.5v3.6h-5.5zM445.7 331.1h5.5v3.6h-5.5zM445.7 348.3h5.5v3.6h-5.5zM445.7 362.1h5.5v3.6h-5.5zM451.0 303.6h5.5v3.6h-5.5zM451.0 324.3h5.5v3.6h-5.5zM451.0 331.1h5.5v3.6h-5.5zM451.0 355.2h5.5v3.6h-5.5zM456.3 303.6h5.5v3.6h-5.5zM456.3 313.9h5.5v3.6h-5.5zM456.3 324.3h5.5v3.6h-5.5zM461.7 307.1h5.5v3.6h-5.5zM461.7 317.4h5.5v3.6h-5.5zM461.7 338.0h5.5v3.6h-5.5zM461.7 358.7h5.5v3.6h-5.5zM467.0 313.9h5.5v3.6h-5.5zM467.0 334.6h5.5v3.6h-5.5zM467.0 355.2h5.5v3.6h-5.5zM472.3 303.6h5.5v3.6h-5.5zM472.3 313.9h5.5v3.6h-5.5zM472.3 334.6h5.5v3.6h-5.5zM472.3 341.5h5.5v3.6h-5.5zM477.6 303.6h5.5v3.6h-5.5zM477.6 338.0h5.5v3.6h-5.5zM477.6 341.5h5.5v3.6h-5.5zM477.6 351.8h5.5v3.6h-5.5zM483.0 300.2h5.5v3.6h-5.5zM483.0 313.9h5.5v3.6h-5.5zM483.0 317.4h5.5v3.6h-5.5zM483.0 320.8h5.5v3.6h-5.5zM483.0 351.8h5.5v3.6h-5.5zM488.3 320.8h5.5v3.6h-5.5zM488.3 327.7h5.5v3.6h-5.5zM488.3 351.8h5.5v3.6h-5.5zM488.3 355.2h5.5v3.6h-5.5zM493.6 320.8h5.5v3.6h-5.5zM493.6 331.1h5.5v3.6h-5.5zM499.0 313.9h5.5v3.6h-5.5zM499.0 320.8h5.5v3.6h-5.5zM499.0 324.3h5.5v3.6h-5.5zM499.0 327.7h5.5v3.6h-5.5zM499.0 334.6h5.5v3.6h-5.5zM499.0 358.7h5.5v3.6h-5.5zM504.3 327.7h5.5v3.6h-5.5zM504.3 331.1h5.5v3.6h-5.5zM504.3 338.0h5.5v3.6h-5.5zM509.6 313.9h5.5v3.6h-5.5zM509.6 338.0h5.5v3.6h-5.5zM514.9 310.5h5.5v3.6h-5.5zM514.9 341.5h5.5v3.6h-5.5zM520.3 317.4h5.5v3.6h-5.5zM520.3 331.1h5.5v3.6h-5.5zM520.3 338.0h5.5v3.6h-5.5z" fill="#30b0e8"/><path d="M440.3 307.1h5.5v3.6h-5.5zM440.3 313.9h5.5v3.6h-5.5zM440.3 317.4h5.5v3.6h-5.5zM440.3 334.6h5.5v3.6h-5.5zM440.3 351.8h5.5v3.6h-5.5zM440.3 358.7h5.5v3.6h-5.5zM445.7 300.2h5.5v3.6h-5.5zM445.7 307.1h5.5v3.6h-5.5zM445.7 310.5h5.5v3.6h-5.5zM445.7 313.9h5.5v3.6h-5.5zM445.7 327.7h5.5v3.6h-5.5zM451.0 327.7h5.5v3.6h-5.5zM451.0 334.6h5.5v3.6h-5.5zM451.0 344.9h5.5v3.6h-5.5zM451.0 348.3h5.5v3.6h-5.5zM451.0 351.8h5.5v3.6h-5.5zM451.0 358.7h5.5v3.6h-5.5zM456.3 300.2h5.5v3.6h-5.5zM456.3 320.8h5.5v3.6h-5.5zM456.3 355.2h5.5v3.6h-5.5zM456.3 362.1h5.5v3.6h-5.5zM461.7 313.9h5.5v3.6h-5.5zM461.7 324.3h5.5v3.6h-5.5zM461.7 331.1h5.5v3.6h-5.5zM461.7 348.3h5.5v3.6h-5.5zM467.0 327.7h5.5v3.6h-5.5zM467.0 331.1h5.5v3.6h-5.5zM467.0 358.7h5.5v3.6h-5.5zM467.0 362.1h5.5v3.6h-5.5zM472.3 317.4h5.5v3.6h-5.5zM472.3 344.9h5.5v3.6h-5.5zM477.6 313.9h5.5v3.6h-5.5zM477.6 317.4h5.5v3.6h-5.5zM477.6 320.8h5.5v3.6h-5.5zM477.6 324.3h5.5v3.6h-5.5zM477.6 355.2h5.5v3.6h-5.5zM477.6 358.7h5.5v3.6h-5.5zM483.0 324.3h5.5v3.6h-5.5zM483.0 331.1h5.5v3.6h-5.5zM483.0 334.6h5.5v3.6h-5.5zM483.0 358.7h5.5v3.6h-5.5zM483.0 362.1h5.5v3.6h-5.5zM488.3 303.6h5.5v3.6h-5.5zM488.3 313.9h5.5v3.6h-5.5zM488.3 341.5h5.5v3.6h-5.5zM493.6 300.2h5.5v3.6h-5.5zM493.6 307.1h5.5v3.6h-5.5zM493.6 317.4h5.5v3.6h-5.5zM493.6 341.5h5.5v3.6h-5.5zM499.0 303.6h5.5v3.6h-5.5zM499.0 341.5h5.5v3.6h-5.5zM499.0 362.1h5.5v3.6h-5.5zM504.3 320.8h5.5v3.6h-5.5zM504.3 324.3h5.5v3.6h-5.5zM504.3 362.1h5.5v3.6h-5.5zM509.6 300.2h5.5v3.6h-5.5zM509.6 303.6h5.5v3.6h-5.5zM509.6 307.1h5.5v3.6h-5.5zM509.6 320.8h5.5v3.6h-5.5zM509.6 327.7h5.5v3.6h-5.5zM509.6 341.5h5.5v3.6h-5.5zM509.6 348.3h5.5v3.6h-5.5zM509.6 351.8h5.5v3.6h-5.5zM509.6 358.7h5.5v3.6h-5.5zM514.9 313.9h5.5v3.6h-5.5zM514.9 317.4h5.5v3.6h-5.5zM514.9 334.6h5.5v3.6h-5.5zM514.9 344.9h5.5v3.6h-5.5zM514.9 348.3h5.5v3.6h-5.5zM514.9 351.8h5.5v3.6h-5.5zM514.9 355.2h5.5v3.6h-5.5zM520.3 313.9h5.5v3.6h-5.5zM520.3 334.6h5.5v3.6h-5.5zM520.3 341.5h5.5v3.6h-5.5zM520.3 344.9h5.5v3.6h-5.5z" fill="#3a6ad0"/><path d="M440.3 310.5h5.5v3.6h-5.5zM440.3 320.8h5.5v3.6h-5.5zM440.3 348.3h5.5v3.6h-5.5zM445.7 324.3h5.5v3.6h-5.5zM445.7 334.6h5.5v3.6h-5.5zM445.7 338.0h5.5v3.6h-5.5zM445.7 351.8h5.5v3.6h-5.5zM451.0 300.2h5.5v3.6h-5.5zM451.0 307.1h5.5v3.6h-5.5zM451.0 313.9h5.5v3.6h-5.5zM451.0 341.5h5.5v3.6h-5.5zM456.3 317.4h5.5v3.6h-5.5zM456.3 338.0h5.5v3.6h-5.5zM456.3 344.9h5.5v3.6h-5.5zM456.3 348.3h5.5v3.6h-5.5zM456.3 358.7h5.5v3.6h-5.5zM461.7 320.8h5.5v3.6h-5.5zM467.0 310.5h5.5v3.6h-5.5zM467.0 341.5h5.5v3.6h-5.5zM472.3 300.2h5.5v3.6h-5.5zM472.3 307.1h5.5v3.6h-5.5zM472.3 310.5h5.5v3.6h-5.5zM472.3 351.8h5.5v3.6h-5.5zM472.3 358.7h5.5v3.6h-5.5zM477.6 300.2h5.5v3.6h-5.5zM477.6 310.5h5.5v3.6h-5.5zM477.6 327.7h5.5v3.6h-5.5zM477.6 334.6h5.5v3.6h-5.5zM477.6 344.9h5.5v3.6h-5.5zM483.0 310.5h5.5v3.6h-5.5zM483.0 327.7h5.5v3.6h-5.5zM483.0 338.0h5.5v3.6h-5.5zM483.0 341.5h5.5v3.6h-5.5zM488.3 307.1h5.5v3.6h-5.5zM488.3 348.3h5.5v3.6h-5.5zM493.6 303.6h5.5v3.6h-5.5zM493.6 327.7h5.5v3.6h-5.5zM493.6 334.6h5.5v3.6h-5.5zM499.0 300.2h5.5v3.6h-5.5zM499.0 307.1h5.5v3.6h-5.5zM499.0 310.5h5.5v3.6h-5.5zM499.0 331.1h5.5v3.6h-5.5zM499.0 338.0h5.5v3.6h-5.5zM499.0 351.8h5.5v3.6h-5.5zM504.3 317.4h5.5v3.6h-5.5zM504.3 348.3h5.5v3.6h-5.5zM504.3 351.8h5.5v3.6h-5.5zM509.6 334.6h5.5v3.6h-5.5zM509.6 355.2h5.5v3.6h-5.5zM514.9 300.2h5.5v3.6h-5.5zM514.9 303.6h5.5v3.6h-5.5zM514.9 362.1h5.5v3.6h-5.5zM520.3 303.6h5.5v3.6h-5.5zM520.3 307.1h5.5v3.6h-5.5zM520.3 310.5h5.5v3.6h-5.5zM520.3 348.3h5.5v3.6h-5.5zM520.3 355.2h5.5v3.6h-5.5zM520.3 358.7h5.5v3.6h-5.5z" fill="#ffffff"/></g>
<g clip-path="url(#cbr0)"><polygon points="480.0,318.0 491.4,327.8 499.6,333.3 521.6,338.8 538.0,344.3 547.6,338.8 556.0,338.0 566.7,347.4 572.9,353.7 585.5,363.1 560.0,363.0 536.0,362.0 520.0,357.0 505.0,352.0 492.0,345.0 482.0,335.0" fill="#8cc068"/><path d="M477.6 313.9h5.5v3.6h-5.5zM477.6 317.4h5.5v3.6h-5.5zM477.6 324.3h5.5v3.6h-5.5zM477.6 327.7h5.5v3.6h-5.5zM488.3 327.7h5.5v3.6h-5.5zM493.6 317.4h5.5v3.6h-5.5zM504.3 338.0h5.5v3.6h-5.5z" fill="#30b0e8"/><path d="M477.6 320.8h5.5v3.6h-5.5zM477.6 338.0h5.5v3.6h-5.5zM477.6 341.5h5.5v3.6h-5.5zM483.0 320.8h5.5v3.6h-5.5zM483.0 324.3h5.5v3.6h-5.5zM483.0 327.7h5.5v3.6h-5.5zM483.0 341.5h5.5v3.6h-5.5zM488.3 313.9h5.5v3.6h-5.5zM488.3 320.8h5.5v3.6h-5.5zM488.3 324.3h5.5v3.6h-5.5zM488.3 341.5h5.5v3.6h-5.5zM493.6 320.8h5.5v3.6h-5.5zM493.6 327.7h5.5v3.6h-5.5zM493.6 341.5h5.5v3.6h-5.5zM499.0 317.4h5.5v3.6h-5.5zM499.0 324.3h5.5v3.6h-5.5zM499.0 331.1h5.5v3.6h-5.5zM499.0 341.5h5.5v3.6h-5.5zM504.3 313.9h5.5v3.6h-5.5zM504.3 320.8h5.5v3.6h-5.5zM504.3 324.3h5.5v3.6h-5.5z" fill="#ffffff"/><path d="M477.6 331.1h5.5v3.6h-5.5zM483.0 313.9h5.5v3.6h-5.5zM483.0 317.4h5.5v3.6h-5.5zM483.0 334.6h5.5v3.6h-5.5zM483.0 338.0h5.5v3.6h-5.5zM488.3 317.4h5.5v3.6h-5.5zM488.3 334.6h5.5v3.6h-5.5zM488.3 338.0h5.5v3.6h-5.5zM493.6 313.9h5.5v3.6h-5.5zM493.6 331.1h5.5v3.6h-5.5zM493.6 334.6h5.5v3.6h-5.5zM493.6 338.0h5.5v3.6h-5.5zM499.0 327.7h5.5v3.6h-5.5zM499.0 334.6h5.5v3.6h-5.5zM499.0 338.0h5.5v3.6h-5.5zM504.3 317.4h5.5v3.6h-5.5zM504.3 334.6h5.5v3.6h-5.5zM504.3 341.5h5.5v3.6h-5.5z" fill="#3b2085"/><path d="M477.6 334.6h5.5v3.6h-5.5zM483.0 331.1h5.5v3.6h-5.5zM488.3 331.1h5.5v3.6h-5.5zM493.6 324.3h5.5v3.6h-5.5zM499.0 313.9h5.5v3.6h-5.5zM499.0 320.8h5.5v3.6h-5.5zM504.3 327.7h5.5v3.6h-5.5zM504.3 331.1h5.5v3.6h-5.5z" fill="#3a6ad0"/><path d="M509.6 334.6h5.5v3.6h-5.5zM509.6 348.3h5.5v3.6h-5.5zM514.9 355.2h5.5v3.6h-5.5zM520.3 334.6h5.5v3.6h-5.5zM520.3 338.0h5.5v3.6h-5.5zM520.3 341.5h5.5v3.6h-5.5zM520.3 344.9h5.5v3.6h-5.5zM520.3 348.3h5.5v3.6h-5.5zM525.6 331.1h5.5v3.6h-5.5zM530.9 334.6h5.5v3.6h-5.5zM530.9 338.0h5.5v3.6h-5.5zM536.3 344.9h5.5v3.6h-5.5zM536.3 348.3h5.5v3.6h-5.5zM536.3 351.8h5.5v3.6h-5.5zM536.3 362.1h5.5v3.6h-5.5zM541.6 344.9h5.5v3.6h-5.5zM541.6 355.2h5.5v3.6h-5.5zM546.9 344.9h5.5v3.6h-5.5zM546.9 355.2h5.5v3.6h-5.5zM557.6 355.2h5.5v3.6h-5.5zM562.9 338.0h5.5v3.6h-5.5zM562.9 341.5h5.5v3.6h-5.5zM562.9 344.9h5.5v3.6h-5.5zM562.9 355.2h5.5v3.6h-5.5zM562.9 358.7h5.5v3.6h-5.5zM573.5 344.9h5.5v3.6h-5.5zM573.5 351.8h5.5v3.6h-5.5zM578.9 331.1h5.5v3.6h-5.5zM578.9 334.6h5.5v3.6h-5.5zM578.9 338.0h5.5v3.6h-5.5zM578.9 348.3h5.5v3.6h-5.5zM578.9 351.8h5.5v3.6h-5.5zM578.9 355.2h5.5v3.6h-5.5zM578.9 358.7h5.5v3.6h-5.5zM584.2 331.1h5.5v3.6h-5.5zM584.2 334.6h5.5v3.6h-5.5zM584.2 341.5h5.5v3.6h-5.5z" fill="#7cc4a4"/><path d="M509.6 341.5h5.5v3.6h-5.5zM509.6 358.7h5.5v3.6h-5.5zM514.9 358.7h5.5v3.6h-5.5zM525.6 334.6h5.5v3.6h-5.5zM525.6 348.3h5.5v3.6h-5.5zM525.6 351.8h5.5v3.6h-5.5zM525.6 355.2h5.5v3.6h-5.5zM525.6 358.7h5.5v3.6h-5.5zM525.6 362.1h5.5v3.6h-5.5zM530.9 358.7h5.5v3.6h-5.5zM536.3 338.0h5.5v3.6h-5.5zM536.3 341.5h5.5v3.6h-5.5zM536.3 355.2h5.5v3.6h-5.5zM541.6 331.1h5.5v3.6h-5.5zM541.6 358.7h5.5v3.6h-5.5zM546.9 358.7h5.5v3.6h-5.5zM552.2 362.1h5.5v3.6h-5.5zM557.6 344.9h5.5v3.6h-5.5zM562.9 348.3h5.5v3.6h-5.5zM568.2 331.1h5.5v3.6h-5.5zM568.2 338.0h5.5v3.6h-5.5zM568.2 358.7h5.5v3.6h-5.5zM573.5 331.1h5.5v3.6h-5.5zM573.5 355.2h5.5v3.6h-5.5z" fill="#30b0e8"/></g>
<rect x="505.0" y="300.0" width="5.3" height="3.4" fill="#3b2085"/><rect x="505.0" y="306.0" width="5.3" height="3.4" fill="#3b2085"/><rect x="503.0" y="313.0" width="5.3" height="3.4" fill="#3b2085"/><rect x="480.0" y="306.0" width="5.3" height="3.4" fill="#3b2085"/><rect x="486.0" y="310.0" width="5.3" height="3.4" fill="#3b2085"/><rect x="492.0" y="314.0" width="5.3" height="3.4" fill="#3b2085"/><rect x="470.0" y="300.0" width="5.3" height="3.4" fill="#3b2085"/><rect x="455.0" y="290.0" width="5.3" height="3.4" fill="#3b2085"/><rect x="440.0" y="292.0" width="5.3" height="3.4" fill="#3b2085"/><rect x="507.0" y="320.0" width="5.3" height="3.4" fill="#3b2085"/><rect x="466.0" y="312.0" width="5.3" height="3.4" fill="#3b2085"/><rect x="500.0" y="327.0" width="5.3" height="3.4" fill="#3b2085"/><rect x="490.0" y="322.0" width="5.3" height="3.4" fill="#3b2085"/>
<g clip-path="url(#cm0)"><polygon points="210.6,363.9 221.6,357.0 225.7,359.8 264.1,359.8 264.1,363.4 312.2,362.5 316.3,357.0 332.7,350.2 349.2,350.2 371.2,355.7 387.6,351.6 417.8,350.2 437.0,357.0 453.5,361.2 470.0,362.5 540.0,361.0 572.9,356.0 585.5,363.1 601.2,371.0 610.6,378.8 629.4,383.5 648.2,385.1 654.5,392.9 663.9,394.5 673.3,403.9 679.6,410.2 689.0,419.6 695.3,429.0 701.6,438.4 707.8,451.0 714.1,460.4 717.3,472.9 723.5,476.1 729.8,485.5 736.1,494.9 742.4,498.0 751.8,504.3 761.2,510.6 754.9,513.7 742.4,510.6 732.9,504.3 720.4,501.2 711.0,494.9 701.6,488.6 695.3,479.2 685.9,466.7 676.5,454.1 667.1,444.7 657.6,435.3 648.2,429.0 635.7,425.9 620.0,422.7 604.3,419.6 591.8,413.3 579.2,410.2 560.4,407.0 538.4,403.9 491.4,407.0 478.8,403.9 460.0,402.3 453.5,403.7 437.0,410.6 423.3,413.3 417.8,414.7 417.8,428.4 365.7,432.5 352.0,440.8 338.2,446.3 316.3,454.5 299.8,458.6 269.6,458.6 236.7,454.5 216.1,450.4 201.0,442.1 201.0,405.1 209.2,394.1 217.4,383.1 216.1,369.4" fill="#7cc4a4"/><polygon points="600.0,368.0 640.0,385.0 670.0,402.0 690.0,420.0 700.0,440.0 712.0,460.0 725.0,482.0 740.0,498.0 762.0,512.0 735.0,508.0 712.0,495.0 695.0,480.0 680.0,460.0 665.0,445.0 650.0,432.0 630.0,426.0 610.0,418.0" fill="#8cc068" fill-opacity="0.60"/><polygon points="195.0,355.0 226.0,355.0 228.0,368.0 245.0,375.0 262.0,382.0 266.0,395.0 264.0,405.0 256.0,412.0 254.0,425.0 258.0,435.0 260.0,448.0 262.0,462.0 195.0,462.0" fill="#3b2085"/><polygon points="226.0,355.0 256.0,355.0 256.0,362.0 250.0,368.0 262.0,372.0 274.0,385.0 276.0,400.0 266.0,412.0 264.0,425.0 268.0,440.0 270.0,462.0 262.0,462.0 260.0,448.0 258.0,435.0 254.0,425.0 256.0,412.0 264.0,405.0 266.0,395.0 262.0,382.0 245.0,375.0 228.0,368.0" fill="#3a6ad0"/><polygon points="256.0,355.0 262.0,355.0 266.0,366.0 282.0,385.0 284.0,400.0 277.0,412.0 276.0,425.0 280.0,440.0 282.0,462.0 270.0,462.0 268.0,440.0 264.0,425.0 266.0,412.0 276.0,400.0 274.0,385.0 262.0,372.0 250.0,368.0 256.0,362.0" fill="#30b0e8"/><polygon points="290.0,366.0 312.0,358.0 330.0,352.0 360.0,352.0 390.0,354.0 430.0,354.0 450.0,360.0 560.0,360.0 600.0,367.0 620.0,380.0 650.0,386.0 670.0,402.0 690.0,425.0 685.0,432.0 650.0,425.0 610.0,418.0 580.0,410.0 540.0,406.0 500.0,408.0 470.0,404.0 440.0,409.0 419.0,412.0 400.0,416.0 380.0,418.0 360.0,421.0 340.0,428.0 325.0,440.0 310.0,445.0 300.0,425.0 295.0,395.0" fill="#c4d428"/><polygon points="305.0,368.0 320.0,362.0 333.0,358.0 345.0,365.0 360.0,375.0 400.0,374.0 430.0,366.0 450.0,366.0 480.0,366.0 560.0,365.0 595.0,368.0 615.0,378.0 640.0,388.0 660.0,398.0 676.0,412.0 684.0,424.0 670.0,425.0 640.0,418.0 610.0,414.0 580.0,408.0 540.0,405.0 500.0,405.0 460.0,403.0 420.0,405.0 380.0,410.0 360.0,416.0 340.0,420.0 322.0,424.0 312.0,415.0 306.0,395.0" fill="#f6e000"/><polygon points="318.0,373.0 389.0,371.0 420.0,374.0 447.0,376.0 470.0,377.0 560.0,377.0 600.0,380.0 615.0,386.0 560.0,386.0 470.0,386.0 400.0,386.0 330.0,387.0" fill="#f8c000"/><polygon points="307.0,365.0 330.0,360.0 357.0,358.0 383.0,358.0 391.0,362.0 391.0,372.0 357.0,373.0 330.0,373.0 307.0,372.0" fill="#f6a010"/><polygon points="445.0,363.0 500.0,361.0 560.0,361.0 585.0,363.0 600.0,368.0 612.0,375.0 600.0,377.0 560.0,376.0 500.0,376.0 447.0,375.0" fill="#f6a010"/><polygon points="392.0,361.0 420.0,363.0 447.0,363.0 447.0,375.0 420.0,375.0 395.0,373.0" fill="#f8c000" fill-opacity="0.90"/><polygon points="318.0,390.0 330.0,382.0 360.0,379.0 400.0,380.0 447.0,382.0 500.0,382.0 560.0,383.0 600.0,384.0 625.0,390.0 645.0,395.0 665.0,402.0 682.0,412.0 692.0,422.0 680.0,426.0 660.0,418.0 640.0,410.0 612.0,404.0 574.0,402.0 500.0,402.0 447.0,401.0 400.0,403.0 360.0,404.0 330.0,401.0" fill="#f6a010"/><polygon points="357.0,360.0 383.0,359.5 386.0,366.0 357.0,367.0" fill="#ea5a14"/><polygon points="516.0,362.0 574.0,362.0 580.0,367.0 516.0,368.0" fill="#ea5a14"/><polygon points="320.0,391.0 335.0,383.0 400.0,381.0 450.0,382.0 520.0,382.0 574.0,383.0 612.0,385.0 640.0,391.0 665.0,400.0 685.0,412.0 672.0,416.0 650.0,408.0 620.0,403.0 574.0,401.0 520.0,401.0 450.0,401.0 400.0,401.0 340.0,400.0" fill="#ea5a14"/><polygon points="335.0,389.0 360.0,385.0 400.0,385.0 470.0,385.0 540.0,386.0 600.0,387.0 630.0,392.0 655.0,401.0 635.0,403.0 600.0,399.5 540.0,398.0 470.0,397.5 400.0,397.5 345.0,396.0" fill="#d82a0e"/><polygon points="345.0,391.0 420.0,390.0 470.0,390.5 520.0,390.5 570.0,390.5 612.0,392.0 640.0,397.0 600.0,395.5 570.0,395.0 520.0,394.5 470.0,394.5 420.0,394.0 350.0,394.0" fill="#a01208" fill-opacity="0.80"/><polygon points="573.0,390.5 612.0,392.0 605.0,396.0 575.0,396.0" fill="#7a0a08"/><polygon points="400.0,389.5 432.0,389.5 432.0,393.0 400.0,393.0" fill="#7a0a08" fill-opacity="0.60"/><path d="M200.6 375.9h5.5v3.6h-5.5zM200.6 379.3h5.5v3.6h-5.5zM200.6 382.8h5.5v3.6h-5.5zM200.6 389.6h5.5v3.6h-5.5zM200.6 396.5h5.5v3.6h-5.5zM200.6 400.0h5.5v3.6h-5.5zM200.6 406.8h5.5v3.6h-5.5zM205.9 372.4h5.5v3.6h-5.5zM205.9 379.3h5.5v3.6h-5.5zM205.9 393.1h5.5v3.6h-5.5zM205.9 400.0h5.5v3.6h-5.5zM205.9 403.4h5.5v3.6h-5.5zM205.9 406.8h5.5v3.6h-5.5zM211.2 389.6h5.5v3.6h-5.5zM211.2 396.5h5.5v3.6h-5.5zM211.2 400.0h5.5v3.6h-5.5zM211.2 410.3h5.5v3.6h-5.5zM216.6 372.4h5.5v3.6h-5.5zM216.6 382.8h5.5v3.6h-5.5zM216.6 386.2h5.5v3.6h-5.5zM216.6 393.1h5.5v3.6h-5.5zM216.6 396.5h5.5v3.6h-5.5zM216.6 406.8h5.5v3.6h-5.5zM216.6 410.3h5.5v3.6h-5.5zM221.9 372.4h5.5v3.6h-5.5zM221.9 375.9h5.5v3.6h-5.5zM221.9 379.3h5.5v3.6h-5.5zM221.9 382.8h5.5v3.6h-5.5zM221.9 396.5h5.5v3.6h-5.5zM221.9 406.8h5.5v3.6h-5.5zM221.9 410.3h5.5v3.6h-5.5zM227.2 379.3h5.5v3.6h-5.5zM227.2 386.2h5.5v3.6h-5.5zM227.2 396.5h5.5v3.6h-5.5zM227.2 406.8h5.5v3.6h-5.5zM232.6 375.9h5.5v3.6h-5.5zM232.6 386.2h5.5v3.6h-5.5zM232.6 393.1h5.5v3.6h-5.5zM232.6 400.0h5.5v3.6h-5.5zM232.6 403.4h5.5v3.6h-5.5zM232.6 410.3h5.5v3.6h-5.5zM237.9 379.3h5.5v3.6h-5.5zM237.9 382.8h5.5v3.6h-5.5zM237.9 406.8h5.5v3.6h-5.5zM243.2 406.8h5.5v3.6h-5.5z" fill="#ffffff"/><path d="M200.6 441.2h5.5v3.6h-5.5zM205.9 448.1h5.5v3.6h-5.5zM216.6 448.1h5.5v3.6h-5.5zM221.9 444.7h5.5v3.6h-5.5zM232.6 448.1h5.5v3.6h-5.5zM237.9 430.9h5.5v3.6h-5.5zM243.2 420.6h5.5v3.6h-5.5zM243.2 441.2h5.5v3.6h-5.5z" fill="#ffffff"/><path d="M275.2 448.1h5.5v3.6h-5.5zM280.5 430.9h5.5v3.6h-5.5zM280.5 455.0h5.5v3.6h-5.5zM285.8 434.4h5.5v3.6h-5.5zM285.8 444.7h5.5v3.6h-5.5zM291.2 434.4h5.5v3.6h-5.5zM291.2 444.7h5.5v3.6h-5.5zM291.2 455.0h5.5v3.6h-5.5zM296.5 430.9h5.5v3.6h-5.5zM296.5 434.4h5.5v3.6h-5.5zM296.5 437.8h5.5v3.6h-5.5zM301.8 430.9h5.5v3.6h-5.5zM301.8 455.0h5.5v3.6h-5.5zM307.1 430.9h5.5v3.6h-5.5zM307.1 448.1h5.5v3.6h-5.5zM307.1 455.0h5.5v3.6h-5.5zM312.5 427.5h5.5v3.6h-5.5zM312.5 451.6h5.5v3.6h-5.5zM317.8 424.0h5.5v3.6h-5.5zM317.8 430.9h5.5v3.6h-5.5zM317.8 441.2h5.5v3.6h-5.5zM317.8 455.0h5.5v3.6h-5.5zM323.1 441.2h5.5v3.6h-5.5z" fill="#8cc068"/><path d="M275.2 451.6h5.5v3.6h-5.5zM280.5 434.4h5.5v3.6h-5.5zM280.5 444.7h5.5v3.6h-5.5zM280.5 451.6h5.5v3.6h-5.5zM285.8 417.2h5.5v3.6h-5.5zM285.8 420.6h5.5v3.6h-5.5zM285.8 424.0h5.5v3.6h-5.5zM285.8 437.8h5.5v3.6h-5.5zM285.8 448.1h5.5v3.6h-5.5zM285.8 451.6h5.5v3.6h-5.5zM285.8 455.0h5.5v3.6h-5.5zM291.2 420.6h5.5v3.6h-5.5zM291.2 427.5h5.5v3.6h-5.5zM291.2 430.9h5.5v3.6h-5.5zM291.2 437.8h5.5v3.6h-5.5zM291.2 441.2h5.5v3.6h-5.5zM291.2 448.1h5.5v3.6h-5.5zM291.2 451.6h5.5v3.6h-5.5zM296.5 420.6h5.5v3.6h-5.5zM296.5 424.0h5.5v3.6h-5.5zM296.5 427.5h5.5v3.6h-5.5zM296.5 441.2h5.5v3.6h-5.5zM296.5 448.1h5.5v3.6h-5.5zM296.5 451.6h5.5v3.6h-5.5zM301.8 420.6h5.5v3.6h-5.5zM301.8 427.5h5.5v3.6h-5.5zM301.8 434.4h5.5v3.6h-5.5zM301.8 441.2h5.5v3.6h-5.5zM301.8 444.7h5.5v3.6h-5.5zM301.8 448.1h5.5v3.6h-5.5zM301.8 451.6h5.5v3.6h-5.5zM307.1 420.6h5.5v3.6h-5.5zM307.1 424.0h5.5v3.6h-5.5zM307.1 427.5h5.5v3.6h-5.5zM307.1 434.4h5.5v3.6h-5.5zM307.1 437.8h5.5v3.6h-5.5zM307.1 451.6h5.5v3.6h-5.5zM312.5 424.0h5.5v3.6h-5.5zM312.5 430.9h5.5v3.6h-5.5zM312.5 434.4h5.5v3.6h-5.5zM312.5 441.2h5.5v3.6h-5.5zM312.5 444.7h5.5v3.6h-5.5zM317.8 434.4h5.5v3.6h-5.5zM317.8 444.7h5.5v3.6h-5.5zM317.8 448.1h5.5v3.6h-5.5zM323.1 424.0h5.5v3.6h-5.5zM323.1 427.5h5.5v3.6h-5.5zM323.1 430.9h5.5v3.6h-5.5zM323.1 434.4h5.5v3.6h-5.5zM323.1 437.8h5.5v3.6h-5.5zM323.1 444.7h5.5v3.6h-5.5zM323.1 448.1h5.5v3.6h-5.5zM323.1 451.6h5.5v3.6h-5.5z" fill="#7cc4a4"/><path d="M275.2 455.0h5.5v3.6h-5.5zM280.5 424.0h5.5v3.6h-5.5zM280.5 427.5h5.5v3.6h-5.5zM280.5 437.8h5.5v3.6h-5.5zM280.5 441.2h5.5v3.6h-5.5zM280.5 448.1h5.5v3.6h-5.5zM285.8 427.5h5.5v3.6h-5.5zM285.8 430.9h5.5v3.6h-5.5zM285.8 441.2h5.5v3.6h-5.5zM291.2 424.0h5.5v3.6h-5.5zM296.5 444.7h5.5v3.6h-5.5zM296.5 455.0h5.5v3.6h-5.5zM301.8 424.0h5.5v3.6h-5.5zM301.8 437.8h5.5v3.6h-5.5zM307.1 441.2h5.5v3.6h-5.5zM307.1 444.7h5.5v3.6h-5.5zM312.5 437.8h5.5v3.6h-5.5zM312.5 448.1h5.5v3.6h-5.5zM312.5 455.0h5.5v3.6h-5.5zM317.8 427.5h5.5v3.6h-5.5zM317.8 437.8h5.5v3.6h-5.5zM317.8 451.6h5.5v3.6h-5.5zM323.1 455.0h5.5v3.6h-5.5z" fill="#30b0e8"/></g>
</g>
<g clip-path="url(#clip1)">
<g clip-path="url(#cpl440)"><polygon points="328.0,578.8 344.5,576.1 350.0,577.4 359.6,582.9 365.1,587.1 366.5,595.3 370.6,596.7 370.6,615.9 385.7,617.2 387.1,624.1 398.0,628.2 407.6,633.7 409.0,640.6 414.5,642.0 417.3,647.4 429.6,652.9 433.7,655.7 433.7,662.5 444.7,663.9 450.2,669.4 458.4,677.6 466.7,683.1 472.2,688.6 476.3,691.4 477.6,701.0 492.7,703.7 494.1,709.2 499.6,710.6 499.6,716.1 502.3,721.6 507.8,731.2 507.8,736.7 499.6,738.0 496.9,735.3 488.6,729.8 483.1,722.9 472.2,718.8 461.2,716.1 450.2,716.1 442.0,713.3 433.7,710.6 428.2,705.1 417.3,699.6 411.8,694.1 406.3,688.6 400.8,680.4 392.5,674.9 387.1,669.4 373.3,665.3 367.8,661.2 359.6,652.9 351.4,647.4 343.1,642.0 339.0,636.5 343.1,628.2 345.9,622.7 341.8,617.2 339.0,611.8 336.3,606.3 333.5,600.8 329.4,595.3 330.8,589.8 328.0,584.3" fill="#54b25c"/><path d="M317.8 644.2h5.5v3.6h-5.5zM317.8 647.7h5.5v3.6h-5.5zM323.1 592.6h5.5v3.6h-5.5zM323.1 599.5h5.5v3.6h-5.5zM323.1 623.6h5.5v3.6h-5.5zM328.5 575.4h5.5v3.6h-5.5zM328.5 654.6h5.5v3.6h-5.5zM328.5 682.1h5.5v3.6h-5.5zM333.8 578.9h5.5v3.6h-5.5zM333.8 654.6h5.5v3.6h-5.5zM333.8 664.9h5.5v3.6h-5.5zM333.8 668.3h5.5v3.6h-5.5zM333.8 671.8h5.5v3.6h-5.5zM339.1 596.1h5.5v3.6h-5.5zM339.1 613.3h5.5v3.6h-5.5zM339.1 647.7h5.5v3.6h-5.5zM344.4 627.0h5.5v3.6h-5.5zM344.4 651.1h5.5v3.6h-5.5zM349.8 606.4h5.5v3.6h-5.5zM349.8 633.9h5.5v3.6h-5.5zM349.8 654.6h5.5v3.6h-5.5zM355.1 637.4h5.5v3.6h-5.5zM360.4 613.3h5.5v3.6h-5.5zM360.4 627.0h5.5v3.6h-5.5zM360.4 640.8h5.5v3.6h-5.5zM360.4 644.2h5.5v3.6h-5.5zM365.8 613.3h5.5v3.6h-5.5zM365.8 658.0h5.5v3.6h-5.5zM371.1 630.5h5.5v3.6h-5.5zM371.1 654.6h5.5v3.6h-5.5zM376.4 575.4h5.5v3.6h-5.5zM376.4 578.9h5.5v3.6h-5.5zM376.4 592.6h5.5v3.6h-5.5zM376.4 671.8h5.5v3.6h-5.5zM381.7 675.2h5.5v3.6h-5.5zM387.1 572.0h5.5v3.6h-5.5zM387.1 599.5h5.5v3.6h-5.5zM387.1 664.9h5.5v3.6h-5.5zM392.4 654.6h5.5v3.6h-5.5z" fill="#ffffff"/><path d="M397.7 668.3h5.5v3.6h-5.5zM397.7 682.1h5.5v3.6h-5.5zM403.1 620.2h5.5v3.6h-5.5zM403.1 647.7h5.5v3.6h-5.5zM403.1 651.1h5.5v3.6h-5.5zM403.1 654.6h5.5v3.6h-5.5zM403.1 664.9h5.5v3.6h-5.5zM403.1 685.5h5.5v3.6h-5.5zM403.1 723.4h5.5v3.6h-5.5zM408.4 630.5h5.5v3.6h-5.5zM408.4 637.4h5.5v3.6h-5.5zM408.4 651.1h5.5v3.6h-5.5zM408.4 658.0h5.5v3.6h-5.5zM408.4 689.0h5.5v3.6h-5.5zM408.4 719.9h5.5v3.6h-5.5zM408.4 726.8h5.5v3.6h-5.5zM413.7 661.4h5.5v3.6h-5.5zM413.7 675.2h5.5v3.6h-5.5zM413.7 699.3h5.5v3.6h-5.5zM413.7 716.5h5.5v3.6h-5.5zM419.0 644.2h5.5v3.6h-5.5zM419.0 654.6h5.5v3.6h-5.5zM419.0 682.1h5.5v3.6h-5.5zM419.0 699.3h5.5v3.6h-5.5zM419.0 716.5h5.5v3.6h-5.5zM424.4 630.5h5.5v3.6h-5.5zM424.4 644.2h5.5v3.6h-5.5zM424.4 647.7h5.5v3.6h-5.5zM424.4 664.9h5.5v3.6h-5.5zM424.4 671.8h5.5v3.6h-5.5zM424.4 685.5h5.5v3.6h-5.5zM429.7 627.0h5.5v3.6h-5.5zM429.7 661.4h5.5v3.6h-5.5zM429.7 695.8h5.5v3.6h-5.5zM429.7 706.2h5.5v3.6h-5.5zM429.7 709.6h5.5v3.6h-5.5zM429.7 713.0h5.5v3.6h-5.5zM435.0 630.5h5.5v3.6h-5.5zM435.0 682.1h5.5v3.6h-5.5zM440.3 640.8h5.5v3.6h-5.5zM440.3 651.1h5.5v3.6h-5.5zM440.3 692.4h5.5v3.6h-5.5zM440.3 726.8h5.5v3.6h-5.5zM445.7 623.6h5.5v3.6h-5.5zM445.7 640.8h5.5v3.6h-5.5zM445.7 651.1h5.5v3.6h-5.5zM445.7 654.6h5.5v3.6h-5.5zM445.7 658.0h5.5v3.6h-5.5zM445.7 664.9h5.5v3.6h-5.5zM445.7 668.3h5.5v3.6h-5.5zM445.7 685.5h5.5v3.6h-5.5zM445.7 702.7h5.5v3.6h-5.5zM451.0 671.8h5.5v3.6h-5.5zM451.0 695.8h5.5v3.6h-5.5zM451.0 702.7h5.5v3.6h-5.5z" fill="#ffffff"/><path d="M397.7 702.7h5.5v3.6h-5.5zM397.7 726.8h5.5v3.6h-5.5zM403.1 692.4h5.5v3.6h-5.5zM403.1 706.2h5.5v3.6h-5.5zM403.1 709.6h5.5v3.6h-5.5zM403.1 726.8h5.5v3.6h-5.5zM408.4 627.0h5.5v3.6h-5.5zM408.4 692.4h5.5v3.6h-5.5zM413.7 620.2h5.5v3.6h-5.5zM413.7 623.6h5.5v3.6h-5.5zM413.7 627.0h5.5v3.6h-5.5zM413.7 671.8h5.5v3.6h-5.5zM413.7 689.0h5.5v3.6h-5.5zM413.7 692.4h5.5v3.6h-5.5zM419.0 702.7h5.5v3.6h-5.5zM419.0 726.8h5.5v3.6h-5.5zM424.4 651.1h5.5v3.6h-5.5zM424.4 716.5h5.5v3.6h-5.5zM424.4 726.8h5.5v3.6h-5.5zM429.7 630.5h5.5v3.6h-5.5zM429.7 633.9h5.5v3.6h-5.5zM429.7 664.9h5.5v3.6h-5.5zM429.7 702.7h5.5v3.6h-5.5zM435.0 668.3h5.5v3.6h-5.5zM435.0 678.6h5.5v3.6h-5.5zM435.0 689.0h5.5v3.6h-5.5zM435.0 695.8h5.5v3.6h-5.5zM435.0 706.2h5.5v3.6h-5.5zM440.3 671.8h5.5v3.6h-5.5zM440.3 695.8h5.5v3.6h-5.5zM440.3 719.9h5.5v3.6h-5.5zM445.7 627.0h5.5v3.6h-5.5zM445.7 716.5h5.5v3.6h-5.5zM451.0 664.9h5.5v3.6h-5.5zM451.0 716.5h5.5v3.6h-5.5zM451.0 723.4h5.5v3.6h-5.5z" fill="#54b25c"/><path d="M456.3 668.3h5.5v3.6h-5.5zM456.3 671.8h5.5v3.6h-5.5zM456.3 678.6h5.5v3.6h-5.5zM456.3 682.1h5.5v3.6h-5.5zM456.3 685.5h5.5v3.6h-5.5zM456.3 689.0h5.5v3.6h-5.5zM456.3 719.9h5.5v3.6h-5.5zM456.3 740.6h5.5v3.6h-5.5zM461.7 661.4h5.5v3.6h-5.5zM461.7 678.6h5.5v3.6h-5.5zM461.7 719.9h5.5v3.6h-5.5zM461.7 737.1h5.5v3.6h-5.5zM467.0 668.3h5.5v3.6h-5.5zM467.0 675.2h5.5v3.6h-5.5zM467.0 678.6h5.5v3.6h-5.5zM467.0 682.1h5.5v3.6h-5.5zM467.0 689.0h5.5v3.6h-5.5zM467.0 695.8h5.5v3.6h-5.5zM467.0 713.0h5.5v3.6h-5.5zM467.0 716.5h5.5v3.6h-5.5zM467.0 719.9h5.5v3.6h-5.5zM467.0 726.8h5.5v3.6h-5.5zM467.0 737.1h5.5v3.6h-5.5zM472.3 668.3h5.5v3.6h-5.5zM472.3 692.4h5.5v3.6h-5.5zM472.3 699.3h5.5v3.6h-5.5zM472.3 706.2h5.5v3.6h-5.5zM472.3 709.6h5.5v3.6h-5.5zM472.3 723.4h5.5v3.6h-5.5zM472.3 733.7h5.5v3.6h-5.5zM472.3 737.1h5.5v3.6h-5.5zM477.6 682.1h5.5v3.6h-5.5zM477.6 702.7h5.5v3.6h-5.5zM477.6 709.6h5.5v3.6h-5.5zM477.6 719.9h5.5v3.6h-5.5zM477.6 726.8h5.5v3.6h-5.5zM477.6 730.3h5.5v3.6h-5.5zM477.6 737.1h5.5v3.6h-5.5zM483.0 671.8h5.5v3.6h-5.5zM483.0 692.4h5.5v3.6h-5.5zM483.0 706.2h5.5v3.6h-5.5zM483.0 709.6h5.5v3.6h-5.5zM483.0 713.0h5.5v3.6h-5.5zM483.0 726.8h5.5v3.6h-5.5zM483.0 733.7h5.5v3.6h-5.5zM483.0 737.1h5.5v3.6h-5.5zM488.3 661.4h5.5v3.6h-5.5zM488.3 671.8h5.5v3.6h-5.5zM488.3 682.1h5.5v3.6h-5.5zM488.3 685.5h5.5v3.6h-5.5zM488.3 692.4h5.5v3.6h-5.5zM488.3 699.3h5.5v3.6h-5.5zM488.3 716.5h5.5v3.6h-5.5zM488.3 723.4h5.5v3.6h-5.5zM488.3 733.7h5.5v3.6h-5.5zM488.3 740.6h5.5v3.6h-5.5zM493.6 661.4h5.5v3.6h-5.5zM493.6 702.7h5.5v3.6h-5.5zM493.6 713.0h5.5v3.6h-5.5zM493.6 730.3h5.5v3.6h-5.5zM493.6 740.6h5.5v3.6h-5.5zM499.0 678.6h5.5v3.6h-5.5zM499.0 682.1h5.5v3.6h-5.5zM499.0 685.5h5.5v3.6h-5.5zM499.0 702.7h5.5v3.6h-5.5zM504.3 664.9h5.5v3.6h-5.5zM504.3 692.4h5.5v3.6h-5.5zM504.3 716.5h5.5v3.6h-5.5zM504.3 730.3h5.5v3.6h-5.5zM504.3 740.6h5.5v3.6h-5.5zM509.6 661.4h5.5v3.6h-5.5zM509.6 682.1h5.5v3.6h-5.5zM509.6 692.4h5.5v3.6h-5.5zM509.6 695.8h5.5v3.6h-5.5zM509.6 699.3h5.5v3.6h-5.5zM509.6 702.7h5.5v3.6h-5.5zM509.6 713.0h5.5v3.6h-5.5zM509.6 716.5h5.5v3.6h-5.5zM509.6 730.3h5.5v3.6h-5.5zM509.6 733.7h5.5v3.6h-5.5z" fill="#ffffff"/><path d="M456.3 675.2h5.5v3.6h-5.5zM456.3 713.0h5.5v3.6h-5.5zM456.3 723.4h5.5v3.6h-5.5zM456.3 726.8h5.5v3.6h-5.5zM461.7 671.8h5.5v3.6h-5.5zM461.7 726.8h5.5v3.6h-5.5zM461.7 730.3h5.5v3.6h-5.5zM461.7 740.6h5.5v3.6h-5.5zM467.0 671.8h5.5v3.6h-5.5zM467.0 709.6h5.5v3.6h-5.5zM467.0 730.3h5.5v3.6h-5.5zM472.3 689.0h5.5v3.6h-5.5zM477.6 668.3h5.5v3.6h-5.5zM477.6 706.2h5.5v3.6h-5.5zM477.6 733.7h5.5v3.6h-5.5zM477.6 740.6h5.5v3.6h-5.5zM483.0 719.9h5.5v3.6h-5.5zM488.3 695.8h5.5v3.6h-5.5zM488.3 730.3h5.5v3.6h-5.5zM488.3 737.1h5.5v3.6h-5.5zM493.6 668.3h5.5v3.6h-5.5zM493.6 675.2h5.5v3.6h-5.5zM499.0 664.9h5.5v3.6h-5.5zM499.0 675.2h5.5v3.6h-5.5zM499.0 709.6h5.5v3.6h-5.5zM504.3 675.2h5.5v3.6h-5.5zM504.3 713.0h5.5v3.6h-5.5zM504.3 726.8h5.5v3.6h-5.5zM504.3 733.7h5.5v3.6h-5.5zM509.6 685.5h5.5v3.6h-5.5zM509.6 709.6h5.5v3.6h-5.5z" fill="#54b25c"/></g>
<g clip-path="url(#cst440)"><polygon points="291.0,638.6 300.6,638.6 302.0,642.7 310.2,644.1 315.7,651.0 323.9,655.1 334.9,663.3 345.9,670.2 356.9,678.4 367.8,685.3 378.8,694.9 389.8,703.1 400.8,712.7 409.0,718.2 417.3,725.1 425.5,732.0 433.7,738.8 442.0,749.8 447.4,758.0 458.4,769.0 472.2,780.0 488.6,785.5 505.1,791.0 516.1,796.5 518.8,802.0 472.2,802.0 455.7,793.7 444.7,782.7 436.5,777.3 428.2,769.0 420.0,763.5 417.3,758.0 417.3,752.6 409.0,738.8 400.8,730.6 389.8,719.6 378.8,711.4 367.8,701.8 356.9,693.5 345.9,685.3 334.9,675.7 323.9,667.5 312.9,656.5 302.0,648.2 291.0,642.7" fill="#54b25c"/><path d="M285.8 640.8h5.5v3.6h-5.5zM285.8 692.4h5.5v3.6h-5.5zM285.8 719.9h5.5v3.6h-5.5zM285.8 754.3h5.5v3.6h-5.5zM291.2 651.1h5.5v3.6h-5.5zM291.2 695.8h5.5v3.6h-5.5zM291.2 706.2h5.5v3.6h-5.5zM291.2 778.4h5.5v3.6h-5.5zM296.5 633.9h5.5v3.6h-5.5zM296.5 685.5h5.5v3.6h-5.5zM296.5 716.5h5.5v3.6h-5.5zM296.5 754.3h5.5v3.6h-5.5zM296.5 764.7h5.5v3.6h-5.5zM301.8 630.5h5.5v3.6h-5.5zM307.1 668.3h5.5v3.6h-5.5zM307.1 709.6h5.5v3.6h-5.5zM317.8 664.9h5.5v3.6h-5.5zM328.5 678.6h5.5v3.6h-5.5zM328.5 716.5h5.5v3.6h-5.5zM328.5 719.9h5.5v3.6h-5.5zM328.5 771.5h5.5v3.6h-5.5zM333.8 630.5h5.5v3.6h-5.5zM333.8 647.7h5.5v3.6h-5.5zM333.8 713.0h5.5v3.6h-5.5zM333.8 730.3h5.5v3.6h-5.5zM339.1 699.3h5.5v3.6h-5.5zM344.4 671.8h5.5v3.6h-5.5zM344.4 695.8h5.5v3.6h-5.5zM349.8 630.5h5.5v3.6h-5.5zM349.8 747.5h5.5v3.6h-5.5zM349.8 764.7h5.5v3.6h-5.5zM349.8 768.1h5.5v3.6h-5.5zM355.1 702.7h5.5v3.6h-5.5zM355.1 716.5h5.5v3.6h-5.5zM355.1 740.6h5.5v3.6h-5.5zM355.1 775.0h5.5v3.6h-5.5zM360.4 726.8h5.5v3.6h-5.5zM360.4 740.6h5.5v3.6h-5.5zM365.8 630.5h5.5v3.6h-5.5zM365.8 675.2h5.5v3.6h-5.5zM365.8 692.4h5.5v3.6h-5.5zM365.8 713.0h5.5v3.6h-5.5zM371.1 730.3h5.5v3.6h-5.5zM376.4 733.7h5.5v3.6h-5.5zM381.7 651.1h5.5v3.6h-5.5zM381.7 723.4h5.5v3.6h-5.5zM381.7 744.0h5.5v3.6h-5.5zM381.7 757.8h5.5v3.6h-5.5zM387.1 668.3h5.5v3.6h-5.5zM392.4 654.6h5.5v3.6h-5.5zM392.4 668.3h5.5v3.6h-5.5zM392.4 682.1h5.5v3.6h-5.5zM397.7 668.3h5.5v3.6h-5.5zM397.7 730.3h5.5v3.6h-5.5zM397.7 744.0h5.5v3.6h-5.5zM403.1 675.2h5.5v3.6h-5.5zM403.1 695.8h5.5v3.6h-5.5zM403.1 754.3h5.5v3.6h-5.5zM408.4 682.1h5.5v3.6h-5.5zM408.4 692.4h5.5v3.6h-5.5zM408.4 733.7h5.5v3.6h-5.5zM413.7 671.8h5.5v3.6h-5.5zM413.7 730.3h5.5v3.6h-5.5zM419.0 637.4h5.5v3.6h-5.5zM419.0 675.2h5.5v3.6h-5.5zM419.0 695.8h5.5v3.6h-5.5zM419.0 716.5h5.5v3.6h-5.5zM419.0 733.7h5.5v3.6h-5.5zM419.0 771.5h5.5v3.6h-5.5zM424.4 695.8h5.5v3.6h-5.5zM424.4 719.9h5.5v3.6h-5.5zM424.4 761.2h5.5v3.6h-5.5zM424.4 768.1h5.5v3.6h-5.5zM429.7 644.2h5.5v3.6h-5.5zM429.7 723.4h5.5v3.6h-5.5zM435.0 689.0h5.5v3.6h-5.5zM435.0 737.1h5.5v3.6h-5.5zM435.0 740.6h5.5v3.6h-5.5z" fill="#ffffff"/><path d="M440.3 744.0h5.5v3.6h-5.5zM440.3 747.5h5.5v3.6h-5.5zM440.3 754.3h5.5v3.6h-5.5zM440.3 757.8h5.5v3.6h-5.5zM440.3 768.1h5.5v3.6h-5.5zM440.3 775.0h5.5v3.6h-5.5zM440.3 778.4h5.5v3.6h-5.5zM440.3 785.3h5.5v3.6h-5.5zM440.3 792.2h5.5v3.6h-5.5zM440.3 795.6h5.5v3.6h-5.5zM440.3 799.1h5.5v3.6h-5.5zM445.7 740.6h5.5v3.6h-5.5zM445.7 744.0h5.5v3.6h-5.5zM445.7 747.5h5.5v3.6h-5.5zM445.7 750.9h5.5v3.6h-5.5zM445.7 754.3h5.5v3.6h-5.5zM445.7 768.1h5.5v3.6h-5.5zM445.7 771.5h5.5v3.6h-5.5zM445.7 788.7h5.5v3.6h-5.5zM445.7 802.5h5.5v3.6h-5.5zM451.0 744.0h5.5v3.6h-5.5zM451.0 764.7h5.5v3.6h-5.5zM451.0 768.1h5.5v3.6h-5.5zM451.0 771.5h5.5v3.6h-5.5zM451.0 775.0h5.5v3.6h-5.5zM451.0 785.3h5.5v3.6h-5.5zM451.0 788.7h5.5v3.6h-5.5zM451.0 792.2h5.5v3.6h-5.5zM451.0 795.6h5.5v3.6h-5.5zM451.0 799.1h5.5v3.6h-5.5zM456.3 740.6h5.5v3.6h-5.5zM456.3 744.0h5.5v3.6h-5.5zM456.3 754.3h5.5v3.6h-5.5zM456.3 761.2h5.5v3.6h-5.5zM456.3 764.7h5.5v3.6h-5.5zM456.3 795.6h5.5v3.6h-5.5zM456.3 802.5h5.5v3.6h-5.5zM461.7 747.5h5.5v3.6h-5.5zM461.7 754.3h5.5v3.6h-5.5zM461.7 757.8h5.5v3.6h-5.5zM461.7 764.7h5.5v3.6h-5.5zM461.7 771.5h5.5v3.6h-5.5zM461.7 778.4h5.5v3.6h-5.5zM461.7 788.7h5.5v3.6h-5.5zM461.7 799.1h5.5v3.6h-5.5zM467.0 754.3h5.5v3.6h-5.5zM467.0 768.1h5.5v3.6h-5.5zM467.0 771.5h5.5v3.6h-5.5zM467.0 775.0h5.5v3.6h-5.5zM467.0 795.6h5.5v3.6h-5.5zM467.0 799.1h5.5v3.6h-5.5zM467.0 802.5h5.5v3.6h-5.5zM472.3 744.0h5.5v3.6h-5.5zM472.3 754.3h5.5v3.6h-5.5zM472.3 757.8h5.5v3.6h-5.5zM472.3 775.0h5.5v3.6h-5.5zM472.3 781.9h5.5v3.6h-5.5zM472.3 785.3h5.5v3.6h-5.5zM477.6 744.0h5.5v3.6h-5.5zM477.6 754.3h5.5v3.6h-5.5zM477.6 757.8h5.5v3.6h-5.5zM477.6 761.2h5.5v3.6h-5.5zM477.6 764.7h5.5v3.6h-5.5zM477.6 778.4h5.5v3.6h-5.5zM477.6 781.9h5.5v3.6h-5.5zM477.6 792.2h5.5v3.6h-5.5zM477.6 795.6h5.5v3.6h-5.5zM477.6 799.1h5.5v3.6h-5.5zM483.0 740.6h5.5v3.6h-5.5zM483.0 754.3h5.5v3.6h-5.5zM483.0 757.8h5.5v3.6h-5.5zM483.0 761.2h5.5v3.6h-5.5zM483.0 764.7h5.5v3.6h-5.5zM483.0 771.5h5.5v3.6h-5.5zM483.0 775.0h5.5v3.6h-5.5zM483.0 792.2h5.5v3.6h-5.5zM483.0 799.1h5.5v3.6h-5.5zM483.0 802.5h5.5v3.6h-5.5zM488.3 744.0h5.5v3.6h-5.5zM488.3 754.3h5.5v3.6h-5.5zM488.3 761.2h5.5v3.6h-5.5zM488.3 768.1h5.5v3.6h-5.5zM488.3 781.9h5.5v3.6h-5.5zM488.3 792.2h5.5v3.6h-5.5zM488.3 795.6h5.5v3.6h-5.5zM493.6 740.6h5.5v3.6h-5.5zM493.6 747.5h5.5v3.6h-5.5zM493.6 757.8h5.5v3.6h-5.5zM493.6 761.2h5.5v3.6h-5.5zM493.6 771.5h5.5v3.6h-5.5zM493.6 781.9h5.5v3.6h-5.5zM499.0 744.0h5.5v3.6h-5.5zM499.0 754.3h5.5v3.6h-5.5zM499.0 761.2h5.5v3.6h-5.5zM499.0 764.7h5.5v3.6h-5.5zM499.0 768.1h5.5v3.6h-5.5zM499.0 775.0h5.5v3.6h-5.5zM499.0 781.9h5.5v3.6h-5.5zM499.0 799.1h5.5v3.6h-5.5zM499.0 802.5h5.5v3.6h-5.5zM504.3 761.2h5.5v3.6h-5.5zM504.3 764.7h5.5v3.6h-5.5zM504.3 768.1h5.5v3.6h-5.5zM504.3 771.5h5.5v3.6h-5.5zM504.3 778.4h5.5v3.6h-5.5zM504.3 802.5h5.5v3.6h-5.5zM509.6 740.6h5.5v3.6h-5.5zM509.6 744.0h5.5v3.6h-5.5zM509.6 747.5h5.5v3.6h-5.5zM509.6 754.3h5.5v3.6h-5.5zM509.6 761.2h5.5v3.6h-5.5zM509.6 768.1h5.5v3.6h-5.5zM509.6 778.4h5.5v3.6h-5.5zM509.6 781.9h5.5v3.6h-5.5zM509.6 788.7h5.5v3.6h-5.5zM509.6 792.2h5.5v3.6h-5.5zM509.6 799.1h5.5v3.6h-5.5zM514.9 750.9h5.5v3.6h-5.5zM514.9 754.3h5.5v3.6h-5.5zM514.9 757.8h5.5v3.6h-5.5zM514.9 775.0h5.5v3.6h-5.5zM514.9 781.9h5.5v3.6h-5.5zM514.9 785.3h5.5v3.6h-5.5zM514.9 788.7h5.5v3.6h-5.5zM514.9 792.2h5.5v3.6h-5.5zM514.9 795.6h5.5v3.6h-5.5zM520.3 754.3h5.5v3.6h-5.5zM520.3 757.8h5.5v3.6h-5.5zM520.3 771.5h5.5v3.6h-5.5zM520.3 775.0h5.5v3.6h-5.5zM520.3 778.4h5.5v3.6h-5.5zM520.3 781.9h5.5v3.6h-5.5zM520.3 785.3h5.5v3.6h-5.5z" fill="#54b25c"/><path d="M440.3 750.9h5.5v3.6h-5.5zM440.3 761.2h5.5v3.6h-5.5zM440.3 788.7h5.5v3.6h-5.5zM445.7 764.7h5.5v3.6h-5.5zM445.7 775.0h5.5v3.6h-5.5zM445.7 778.4h5.5v3.6h-5.5zM445.7 792.2h5.5v3.6h-5.5zM451.0 740.6h5.5v3.6h-5.5zM451.0 747.5h5.5v3.6h-5.5zM451.0 754.3h5.5v3.6h-5.5zM451.0 781.9h5.5v3.6h-5.5zM456.3 757.8h5.5v3.6h-5.5zM456.3 778.4h5.5v3.6h-5.5zM456.3 785.3h5.5v3.6h-5.5zM456.3 788.7h5.5v3.6h-5.5zM456.3 799.1h5.5v3.6h-5.5zM461.7 761.2h5.5v3.6h-5.5zM467.0 750.9h5.5v3.6h-5.5zM467.0 781.9h5.5v3.6h-5.5zM472.3 740.6h5.5v3.6h-5.5zM472.3 747.5h5.5v3.6h-5.5zM472.3 750.9h5.5v3.6h-5.5zM472.3 792.2h5.5v3.6h-5.5zM472.3 799.1h5.5v3.6h-5.5zM477.6 740.6h5.5v3.6h-5.5zM477.6 750.9h5.5v3.6h-5.5zM477.6 768.1h5.5v3.6h-5.5zM477.6 775.0h5.5v3.6h-5.5zM477.6 785.3h5.5v3.6h-5.5zM483.0 750.9h5.5v3.6h-5.5zM483.0 768.1h5.5v3.6h-5.5zM483.0 778.4h5.5v3.6h-5.5zM483.0 781.9h5.5v3.6h-5.5zM488.3 747.5h5.5v3.6h-5.5zM488.3 788.7h5.5v3.6h-5.5zM493.6 744.0h5.5v3.6h-5.5zM493.6 768.1h5.5v3.6h-5.5zM493.6 775.0h5.5v3.6h-5.5zM499.0 740.6h5.5v3.6h-5.5zM499.0 747.5h5.5v3.6h-5.5zM499.0 750.9h5.5v3.6h-5.5zM499.0 771.5h5.5v3.6h-5.5zM499.0 778.4h5.5v3.6h-5.5zM499.0 792.2h5.5v3.6h-5.5zM504.3 757.8h5.5v3.6h-5.5zM504.3 788.7h5.5v3.6h-5.5zM504.3 792.2h5.5v3.6h-5.5zM509.6 775.0h5.5v3.6h-5.5zM509.6 795.6h5.5v3.6h-5.5zM514.9 740.6h5.5v3.6h-5.5zM514.9 744.0h5.5v3.6h-5.5zM514.9 802.5h5.5v3.6h-5.5zM520.3 744.0h5.5v3.6h-5.5zM520.3 747.5h5.5v3.6h-5.5zM520.3 750.9h5.5v3.6h-5.5zM520.3 788.7h5.5v3.6h-5.5zM520.3 795.6h5.5v3.6h-5.5zM520.3 799.1h5.5v3.6h-5.5z" fill="#ffffff"/></g>
<g clip-path="url(#cbr440)"><polygon points="480.0,758.4 491.4,768.2 499.6,773.7 521.6,779.2 538.0,784.7 547.6,779.2 556.0,778.4 566.7,787.8 572.9,794.1 585.5,803.5 560.0,803.4 536.0,802.4 520.0,797.4 505.0,792.4 492.0,785.4 482.0,775.4" fill="#54b25c"/><path d="M477.6 754.3h5.5v3.6h-5.5zM477.6 757.8h5.5v3.6h-5.5zM477.6 764.7h5.5v3.6h-5.5zM477.6 768.1h5.5v3.6h-5.5zM477.6 771.5h5.5v3.6h-5.5zM477.6 775.0h5.5v3.6h-5.5zM483.0 754.3h5.5v3.6h-5.5zM483.0 757.8h5.5v3.6h-5.5zM483.0 771.5h5.5v3.6h-5.5zM483.0 775.0h5.5v3.6h-5.5zM483.0 778.4h5.5v3.6h-5.5zM488.3 757.8h5.5v3.6h-5.5zM488.3 768.1h5.5v3.6h-5.5zM488.3 771.5h5.5v3.6h-5.5zM488.3 775.0h5.5v3.6h-5.5zM488.3 778.4h5.5v3.6h-5.5zM493.6 754.3h5.5v3.6h-5.5zM493.6 757.8h5.5v3.6h-5.5zM493.6 764.7h5.5v3.6h-5.5zM493.6 771.5h5.5v3.6h-5.5zM493.6 775.0h5.5v3.6h-5.5zM493.6 778.4h5.5v3.6h-5.5zM499.0 754.3h5.5v3.6h-5.5zM499.0 761.2h5.5v3.6h-5.5zM499.0 768.1h5.5v3.6h-5.5zM499.0 775.0h5.5v3.6h-5.5zM499.0 778.4h5.5v3.6h-5.5zM504.3 757.8h5.5v3.6h-5.5zM504.3 768.1h5.5v3.6h-5.5zM504.3 771.5h5.5v3.6h-5.5zM504.3 775.0h5.5v3.6h-5.5zM504.3 778.4h5.5v3.6h-5.5zM504.3 781.9h5.5v3.6h-5.5z" fill="#54b25c"/><path d="M477.6 761.2h5.5v3.6h-5.5zM477.6 778.4h5.5v3.6h-5.5zM477.6 781.9h5.5v3.6h-5.5zM483.0 761.2h5.5v3.6h-5.5zM483.0 764.7h5.5v3.6h-5.5zM483.0 768.1h5.5v3.6h-5.5zM483.0 781.9h5.5v3.6h-5.5zM488.3 754.3h5.5v3.6h-5.5zM488.3 761.2h5.5v3.6h-5.5zM488.3 764.7h5.5v3.6h-5.5zM488.3 781.9h5.5v3.6h-5.5zM493.6 761.2h5.5v3.6h-5.5zM493.6 768.1h5.5v3.6h-5.5zM493.6 781.9h5.5v3.6h-5.5zM499.0 757.8h5.5v3.6h-5.5zM499.0 764.7h5.5v3.6h-5.5zM499.0 771.5h5.5v3.6h-5.5zM499.0 781.9h5.5v3.6h-5.5zM504.3 754.3h5.5v3.6h-5.5zM504.3 761.2h5.5v3.6h-5.5zM504.3 764.7h5.5v3.6h-5.5z" fill="#ffffff"/><path d="M509.6 775.0h5.5v3.6h-5.5zM509.6 781.9h5.5v3.6h-5.5zM509.6 788.7h5.5v3.6h-5.5zM509.6 799.1h5.5v3.6h-5.5zM514.9 795.6h5.5v3.6h-5.5zM514.9 799.1h5.5v3.6h-5.5zM520.3 775.0h5.5v3.6h-5.5zM520.3 778.4h5.5v3.6h-5.5zM520.3 781.9h5.5v3.6h-5.5zM520.3 785.3h5.5v3.6h-5.5zM520.3 788.7h5.5v3.6h-5.5zM525.6 771.5h5.5v3.6h-5.5zM525.6 775.0h5.5v3.6h-5.5zM525.6 788.7h5.5v3.6h-5.5zM525.6 792.2h5.5v3.6h-5.5zM525.6 795.6h5.5v3.6h-5.5zM525.6 799.1h5.5v3.6h-5.5zM525.6 802.5h5.5v3.6h-5.5zM530.9 775.0h5.5v3.6h-5.5zM530.9 778.4h5.5v3.6h-5.5zM530.9 799.1h5.5v3.6h-5.5zM536.3 778.4h5.5v3.6h-5.5zM536.3 781.9h5.5v3.6h-5.5zM536.3 785.3h5.5v3.6h-5.5zM536.3 788.7h5.5v3.6h-5.5zM536.3 792.2h5.5v3.6h-5.5zM536.3 795.6h5.5v3.6h-5.5zM536.3 802.5h5.5v3.6h-5.5zM541.6 771.5h5.5v3.6h-5.5zM541.6 785.3h5.5v3.6h-5.5zM541.6 795.6h5.5v3.6h-5.5zM541.6 799.1h5.5v3.6h-5.5zM546.9 785.3h5.5v3.6h-5.5zM546.9 795.6h5.5v3.6h-5.5zM546.9 799.1h5.5v3.6h-5.5zM552.2 802.5h5.5v3.6h-5.5zM557.6 785.3h5.5v3.6h-5.5zM557.6 795.6h5.5v3.6h-5.5zM562.9 778.4h5.5v3.6h-5.5zM562.9 781.9h5.5v3.6h-5.5zM562.9 785.3h5.5v3.6h-5.5zM562.9 788.7h5.5v3.6h-5.5zM562.9 795.6h5.5v3.6h-5.5zM562.9 799.1h5.5v3.6h-5.5zM568.2 771.5h5.5v3.6h-5.5zM568.2 778.4h5.5v3.6h-5.5zM568.2 799.1h5.5v3.6h-5.5zM573.5 771.5h5.5v3.6h-5.5zM573.5 785.3h5.5v3.6h-5.5zM573.5 792.2h5.5v3.6h-5.5zM573.5 795.6h5.5v3.6h-5.5zM578.9 771.5h5.5v3.6h-5.5zM578.9 775.0h5.5v3.6h-5.5zM578.9 778.4h5.5v3.6h-5.5zM578.9 788.7h5.5v3.6h-5.5zM578.9 792.2h5.5v3.6h-5.5zM578.9 795.6h5.5v3.6h-5.5zM578.9 799.1h5.5v3.6h-5.5zM584.2 771.5h5.5v3.6h-5.5zM584.2 775.0h5.5v3.6h-5.5zM584.2 781.9h5.5v3.6h-5.5z" fill="#54b25c"/></g>
<rect x="505.0" y="740.4" width="5.3" height="3.4" fill="#54b25c"/><rect x="505.0" y="746.4" width="5.3" height="3.4" fill="#54b25c"/><rect x="503.0" y="753.4" width="5.3" height="3.4" fill="#54b25c"/><rect x="480.0" y="746.4" width="5.3" height="3.4" fill="#54b25c"/><rect x="486.0" y="750.4" width="5.3" height="3.4" fill="#54b25c"/><rect x="492.0" y="754.4" width="5.3" height="3.4" fill="#54b25c"/><rect x="470.0" y="740.4" width="5.3" height="3.4" fill="#54b25c"/><rect x="455.0" y="730.4" width="5.3" height="3.4" fill="#54b25c"/><rect x="440.0" y="732.4" width="5.3" height="3.4" fill="#54b25c"/><rect x="507.0" y="760.4" width="5.3" height="3.4" fill="#54b25c"/><rect x="466.0" y="752.4" width="5.3" height="3.4" fill="#54b25c"/><rect x="500.0" y="767.4" width="5.3" height="3.4" fill="#54b25c"/><rect x="490.0" y="762.4" width="5.3" height="3.4" fill="#54b25c"/>
<g clip-path="url(#cm1)"><polygon points="210.6,804.3 221.6,797.4 225.7,800.2 264.1,800.2 264.1,803.8 312.2,802.9 316.3,797.4 332.7,790.6 349.2,790.6 371.2,796.1 387.6,792.0 417.8,790.6 437.0,797.4 453.5,801.6 470.0,802.9 540.0,801.4 572.9,796.4 585.5,803.5 601.2,811.4 610.6,819.2 629.4,823.9 648.2,825.5 654.5,833.3 663.9,834.9 673.3,844.3 679.6,850.6 689.0,860.0 695.3,869.4 701.6,878.8 707.8,891.4 714.1,900.8 717.3,913.3 723.5,916.5 729.8,925.9 736.1,935.3 742.4,938.4 751.8,944.7 761.2,951.0 754.9,954.1 742.4,951.0 732.9,944.7 720.4,941.6 711.0,935.3 701.6,929.0 695.3,919.6 685.9,907.1 676.5,894.5 667.1,885.1 657.6,875.7 648.2,869.4 635.7,866.3 620.0,863.1 604.3,860.0 591.8,853.7 579.2,850.6 560.4,847.4 538.4,844.3 491.4,847.4 478.8,844.3 460.0,842.7 453.5,844.1 437.0,851.0 423.3,853.7 417.8,855.1 417.8,868.8 365.7,872.9 352.0,881.2 338.2,886.7 316.3,894.9 299.8,899.0 269.6,899.0 236.7,894.9 216.1,890.8 201.0,882.5 201.0,845.5 209.2,834.5 217.4,823.5 216.1,809.8" fill="#3b2085"/><polygon points="195.0,740.4 830.0,740.4 830.0,825.4 320.0,825.4 280.0,821.4 240.0,817.4 200.0,812.4" fill="#54b25c"/><polygon points="200.0,812.4 240.0,817.4 280.0,821.4 320.0,825.4 760.0,825.4 760.0,828.4 320.0,828.4 280.0,824.4 240.0,820.4 200.0,815.4" fill="#1aa0b8"/><polygon points="200.0,815.4 240.0,820.4 280.0,824.4 320.0,828.4 760.0,828.4 760.0,829.9 320.0,829.9 280.0,826.4 240.0,822.4 200.0,817.4" fill="#2a60c0" fill-opacity="0.80"/><polygon points="280.0,824.4 313.0,826.4 313.0,833.4 285.0,833.4" fill="#3050b0" fill-opacity="0.60"/><path d="M200.6 816.3h5.5v3.6h-5.5zM200.6 819.7h5.5v3.6h-5.5zM200.6 823.1h5.5v3.6h-5.5zM200.6 830.0h5.5v3.6h-5.5zM200.6 836.9h5.5v3.6h-5.5zM200.6 840.4h5.5v3.6h-5.5zM200.6 847.2h5.5v3.6h-5.5zM205.9 812.8h5.5v3.6h-5.5zM205.9 819.7h5.5v3.6h-5.5zM205.9 833.5h5.5v3.6h-5.5zM205.9 840.4h5.5v3.6h-5.5zM205.9 843.8h5.5v3.6h-5.5zM205.9 847.2h5.5v3.6h-5.5zM211.2 830.0h5.5v3.6h-5.5zM211.2 836.9h5.5v3.6h-5.5zM211.2 840.4h5.5v3.6h-5.5zM211.2 850.7h5.5v3.6h-5.5zM216.6 812.8h5.5v3.6h-5.5zM216.6 823.1h5.5v3.6h-5.5zM216.6 826.6h5.5v3.6h-5.5zM216.6 833.5h5.5v3.6h-5.5zM216.6 836.9h5.5v3.6h-5.5zM216.6 847.2h5.5v3.6h-5.5zM216.6 850.7h5.5v3.6h-5.5zM221.9 812.8h5.5v3.6h-5.5zM221.9 816.3h5.5v3.6h-5.5zM221.9 819.7h5.5v3.6h-5.5zM221.9 823.1h5.5v3.6h-5.5zM221.9 836.9h5.5v3.6h-5.5zM221.9 847.2h5.5v3.6h-5.5zM221.9 850.7h5.5v3.6h-5.5zM227.2 819.7h5.5v3.6h-5.5zM227.2 826.6h5.5v3.6h-5.5zM227.2 836.9h5.5v3.6h-5.5zM227.2 847.2h5.5v3.6h-5.5zM232.6 816.3h5.5v3.6h-5.5zM232.6 826.6h5.5v3.6h-5.5zM232.6 833.5h5.5v3.6h-5.5zM232.6 840.4h5.5v3.6h-5.5zM232.6 843.8h5.5v3.6h-5.5zM232.6 850.7h5.5v3.6h-5.5zM237.9 819.7h5.5v3.6h-5.5zM237.9 823.1h5.5v3.6h-5.5zM237.9 847.2h5.5v3.6h-5.5zM243.2 847.2h5.5v3.6h-5.5z" fill="#ffffff"/><path d="M200.6 881.6h5.5v3.6h-5.5zM205.9 888.5h5.5v3.6h-5.5zM216.6 888.5h5.5v3.6h-5.5zM221.9 885.1h5.5v3.6h-5.5zM232.6 888.5h5.5v3.6h-5.5zM237.9 871.3h5.5v3.6h-5.5zM243.2 861.0h5.5v3.6h-5.5zM243.2 881.6h5.5v3.6h-5.5z" fill="#ffffff"/></g>
</g>
<g clip-path="url(#clip2)">
<g clip-path="url(#cpl880)"><polygon points="328.0,1019.2 344.5,1016.5 350.0,1017.8 359.6,1023.3 365.1,1027.5 366.5,1035.7 370.6,1037.1 370.6,1056.3 385.7,1057.6 387.1,1064.5 398.0,1068.6 407.6,1074.1 409.0,1081.0 414.5,1082.4 417.3,1087.8 429.6,1093.3 433.7,1096.1 433.7,1102.9 444.7,1104.3 450.2,1109.8 458.4,1118.0 466.7,1123.5 472.2,1129.0 476.3,1131.8 477.6,1141.4 492.7,1144.1 494.1,1149.6 499.6,1151.0 499.6,1156.5 502.3,1162.0 507.8,1171.6 507.8,1177.1 499.6,1178.4 496.9,1175.7 488.6,1170.2 483.1,1163.3 472.2,1159.2 461.2,1156.5 450.2,1156.5 442.0,1153.7 433.7,1151.0 428.2,1145.5 417.3,1140.0 411.8,1134.5 406.3,1129.0 400.8,1120.8 392.5,1115.3 387.1,1109.8 373.3,1105.7 367.8,1101.6 359.6,1093.3 351.4,1087.8 343.1,1082.4 339.0,1076.9 343.1,1068.6 345.9,1063.1 341.8,1057.6 339.0,1052.2 336.3,1046.7 333.5,1041.2 329.4,1035.7 330.8,1030.2 328.0,1024.7" fill="#007e61"/><path d="M317.8 1084.6h5.5v3.6h-5.5zM317.8 1088.1h5.5v3.6h-5.5zM323.1 1033.0h5.5v3.6h-5.5zM323.1 1039.9h5.5v3.6h-5.5zM323.1 1064.0h5.5v3.6h-5.5zM328.5 1015.8h5.5v3.6h-5.5zM328.5 1095.0h5.5v3.6h-5.5zM328.5 1122.5h5.5v3.6h-5.5zM333.8 1019.3h5.5v3.6h-5.5zM333.8 1095.0h5.5v3.6h-5.5zM333.8 1105.3h5.5v3.6h-5.5zM333.8 1108.7h5.5v3.6h-5.5zM333.8 1112.2h5.5v3.6h-5.5zM339.1 1036.5h5.5v3.6h-5.5zM339.1 1053.7h5.5v3.6h-5.5zM339.1 1088.1h5.5v3.6h-5.5zM344.4 1067.4h5.5v3.6h-5.5zM344.4 1091.5h5.5v3.6h-5.5zM349.8 1046.8h5.5v3.6h-5.5zM349.8 1074.3h5.5v3.6h-5.5zM349.8 1095.0h5.5v3.6h-5.5zM355.1 1077.8h5.5v3.6h-5.5zM360.4 1053.7h5.5v3.6h-5.5zM360.4 1067.4h5.5v3.6h-5.5zM360.4 1081.2h5.5v3.6h-5.5zM360.4 1084.6h5.5v3.6h-5.5zM365.8 1053.7h5.5v3.6h-5.5zM365.8 1098.4h5.5v3.6h-5.5zM371.1 1070.9h5.5v3.6h-5.5zM371.1 1095.0h5.5v3.6h-5.5zM376.4 1015.8h5.5v3.6h-5.5zM376.4 1019.3h5.5v3.6h-5.5zM376.4 1033.0h5.5v3.6h-5.5zM376.4 1112.2h5.5v3.6h-5.5zM381.7 1115.6h5.5v3.6h-5.5zM387.1 1012.4h5.5v3.6h-5.5zM387.1 1039.9h5.5v3.6h-5.5zM387.1 1105.3h5.5v3.6h-5.5zM392.4 1095.0h5.5v3.6h-5.5z" fill="#ffffff"/><path d="M397.7 1108.7h5.5v3.6h-5.5zM397.7 1122.5h5.5v3.6h-5.5zM403.1 1060.6h5.5v3.6h-5.5zM403.1 1088.1h5.5v3.6h-5.5zM403.1 1091.5h5.5v3.6h-5.5zM403.1 1095.0h5.5v3.6h-5.5zM403.1 1105.3h5.5v3.6h-5.5zM403.1 1125.9h5.5v3.6h-5.5zM403.1 1163.8h5.5v3.6h-5.5zM408.4 1070.9h5.5v3.6h-5.5zM408.4 1077.8h5.5v3.6h-5.5zM408.4 1091.5h5.5v3.6h-5.5zM408.4 1098.4h5.5v3.6h-5.5zM408.4 1129.4h5.5v3.6h-5.5zM408.4 1160.3h5.5v3.6h-5.5zM408.4 1167.2h5.5v3.6h-5.5zM413.7 1101.8h5.5v3.6h-5.5zM413.7 1115.6h5.5v3.6h-5.5zM413.7 1139.7h5.5v3.6h-5.5zM413.7 1156.9h5.5v3.6h-5.5zM419.0 1084.6h5.5v3.6h-5.5zM419.0 1095.0h5.5v3.6h-5.5zM419.0 1122.5h5.5v3.6h-5.5zM419.0 1139.7h5.5v3.6h-5.5zM419.0 1156.9h5.5v3.6h-5.5zM424.4 1070.9h5.5v3.6h-5.5zM424.4 1084.6h5.5v3.6h-5.5zM424.4 1088.1h5.5v3.6h-5.5zM424.4 1105.3h5.5v3.6h-5.5zM424.4 1112.2h5.5v3.6h-5.5zM424.4 1125.9h5.5v3.6h-5.5zM429.7 1067.4h5.5v3.6h-5.5zM429.7 1101.8h5.5v3.6h-5.5zM429.7 1136.2h5.5v3.6h-5.5zM429.7 1146.6h5.5v3.6h-5.5zM429.7 1150.0h5.5v3.6h-5.5zM429.7 1153.4h5.5v3.6h-5.5zM435.0 1070.9h5.5v3.6h-5.5zM435.0 1122.5h5.5v3.6h-5.5zM440.3 1081.2h5.5v3.6h-5.5zM440.3 1091.5h5.5v3.6h-5.5zM440.3 1132.8h5.5v3.6h-5.5zM440.3 1167.2h5.5v3.6h-5.5zM445.7 1064.0h5.5v3.6h-5.5zM445.7 1081.2h5.5v3.6h-5.5zM445.7 1091.5h5.5v3.6h-5.5zM445.7 1095.0h5.5v3.6h-5.5zM445.7 1098.4h5.5v3.6h-5.5zM445.7 1105.3h5.5v3.6h-5.5zM445.7 1108.7h5.5v3.6h-5.5zM445.7 1125.9h5.5v3.6h-5.5zM445.7 1143.1h5.5v3.6h-5.5zM451.0 1112.2h5.5v3.6h-5.5zM451.0 1136.2h5.5v3.6h-5.5zM451.0 1143.1h5.5v3.6h-5.5z" fill="#ffffff"/><path d="M397.7 1143.1h5.5v3.6h-5.5zM397.7 1167.2h5.5v3.6h-5.5zM403.1 1132.8h5.5v3.6h-5.5zM403.1 1146.6h5.5v3.6h-5.5zM403.1 1150.0h5.5v3.6h-5.5zM403.1 1167.2h5.5v3.6h-5.5zM408.4 1067.4h5.5v3.6h-5.5zM408.4 1132.8h5.5v3.6h-5.5zM413.7 1060.6h5.5v3.6h-5.5zM413.7 1064.0h5.5v3.6h-5.5zM413.7 1067.4h5.5v3.6h-5.5zM413.7 1112.2h5.5v3.6h-5.5zM413.7 1129.4h5.5v3.6h-5.5zM413.7 1132.8h5.5v3.6h-5.5zM419.0 1143.1h5.5v3.6h-5.5zM419.0 1167.2h5.5v3.6h-5.5zM424.4 1091.5h5.5v3.6h-5.5zM424.4 1156.9h5.5v3.6h-5.5zM424.4 1167.2h5.5v3.6h-5.5zM429.7 1070.9h5.5v3.6h-5.5zM429.7 1074.3h5.5v3.6h-5.5zM429.7 1105.3h5.5v3.6h-5.5zM429.7 1143.1h5.5v3.6h-5.5zM435.0 1108.7h5.5v3.6h-5.5zM435.0 1119.0h5.5v3.6h-5.5zM435.0 1129.4h5.5v3.6h-5.5zM435.0 1136.2h5.5v3.6h-5.5zM435.0 1146.6h5.5v3.6h-5.5zM440.3 1112.2h5.5v3.6h-5.5zM440.3 1136.2h5.5v3.6h-5.5zM440.3 1160.3h5.5v3.6h-5.5zM445.7 1067.4h5.5v3.6h-5.5zM445.7 1156.9h5.5v3.6h-5.5zM451.0 1105.3h5.5v3.6h-5.5zM451.0 1156.9h5.5v3.6h-5.5zM451.0 1163.8h5.5v3.6h-5.5z" fill="#007e61"/><path d="M456.3 1108.7h5.5v3.6h-5.5zM456.3 1112.2h5.5v3.6h-5.5zM456.3 1119.0h5.5v3.6h-5.5zM456.3 1122.5h5.5v3.6h-5.5zM456.3 1125.9h5.5v3.6h-5.5zM456.3 1129.4h5.5v3.6h-5.5zM456.3 1160.3h5.5v3.6h-5.5zM456.3 1181.0h5.5v3.6h-5.5zM461.7 1101.8h5.5v3.6h-5.5zM461.7 1119.0h5.5v3.6h-5.5zM461.7 1160.3h5.5v3.6h-5.5zM461.7 1177.5h5.5v3.6h-5.5zM467.0 1108.7h5.5v3.6h-5.5zM467.0 1115.6h5.5v3.6h-5.5zM467.0 1119.0h5.5v3.6h-5.5zM467.0 1122.5h5.5v3.6h-5.5zM467.0 1129.4h5.5v3.6h-5.5zM467.0 1136.2h5.5v3.6h-5.5zM467.0 1153.4h5.5v3.6h-5.5zM467.0 1156.9h5.5v3.6h-5.5zM467.0 1160.3h5.5v3.6h-5.5zM467.0 1167.2h5.5v3.6h-5.5zM467.0 1177.5h5.5v3.6h-5.5zM472.3 1108.7h5.5v3.6h-5.5zM472.3 1132.8h5.5v3.6h-5.5zM472.3 1139.7h5.5v3.6h-5.5zM472.3 1146.6h5.5v3.6h-5.5zM472.3 1150.0h5.5v3.6h-5.5zM472.3 1163.8h5.5v3.6h-5.5zM472.3 1174.1h5.5v3.6h-5.5zM472.3 1177.5h5.5v3.6h-5.5zM477.6 1122.5h5.5v3.6h-5.5zM477.6 1143.1h5.5v3.6h-5.5zM477.6 1150.0h5.5v3.6h-5.5zM477.6 1160.3h5.5v3.6h-5.5zM477.6 1167.2h5.5v3.6h-5.5zM477.6 1170.7h5.5v3.6h-5.5zM477.6 1177.5h5.5v3.6h-5.5zM483.0 1112.2h5.5v3.6h-5.5zM483.0 1132.8h5.5v3.6h-5.5zM483.0 1146.6h5.5v3.6h-5.5zM483.0 1150.0h5.5v3.6h-5.5zM483.0 1153.4h5.5v3.6h-5.5zM483.0 1167.2h5.5v3.6h-5.5zM483.0 1174.1h5.5v3.6h-5.5zM483.0 1177.5h5.5v3.6h-5.5zM488.3 1101.8h5.5v3.6h-5.5zM488.3 1112.2h5.5v3.6h-5.5zM488.3 1122.5h5.5v3.6h-5.5zM488.3 1125.9h5.5v3.6h-5.5zM488.3 1132.8h5.5v3.6h-5.5zM488.3 1139.7h5.5v3.6h-5.5zM488.3 1156.9h5.5v3.6h-5.5zM488.3 1163.8h5.5v3.6h-5.5zM488.3 1174.1h5.5v3.6h-5.5zM488.3 1181.0h5.5v3.6h-5.5zM493.6 1101.8h5.5v3.6h-5.5zM493.6 1143.1h5.5v3.6h-5.5zM493.6 1153.4h5.5v3.6h-5.5zM493.6 1170.7h5.5v3.6h-5.5zM493.6 1181.0h5.5v3.6h-5.5zM499.0 1119.0h5.5v3.6h-5.5zM499.0 1122.5h5.5v3.6h-5.5zM499.0 1125.9h5.5v3.6h-5.5zM499.0 1143.1h5.5v3.6h-5.5zM504.3 1105.3h5.5v3.6h-5.5zM504.3 1132.8h5.5v3.6h-5.5zM504.3 1156.9h5.5v3.6h-5.5zM504.3 1170.7h5.5v3.6h-5.5zM504.3 1181.0h5.5v3.6h-5.5zM509.6 1101.8h5.5v3.6h-5.5zM509.6 1122.5h5.5v3.6h-5.5zM509.6 1132.8h5.5v3.6h-5.5zM509.6 1136.2h5.5v3.6h-5.5zM509.6 1139.7h5.5v3.6h-5.5zM509.6 1143.1h5.5v3.6h-5.5zM509.6 1153.4h5.5v3.6h-5.5zM509.6 1156.9h5.5v3.6h-5.5zM509.6 1170.7h5.5v3.6h-5.5zM509.6 1174.1h5.5v3.6h-5.5z" fill="#ffffff"/><path d="M456.3 1115.6h5.5v3.6h-5.5zM456.3 1153.4h5.5v3.6h-5.5zM456.3 1163.8h5.5v3.6h-5.5zM456.3 1167.2h5.5v3.6h-5.5zM461.7 1112.2h5.5v3.6h-5.5zM461.7 1167.2h5.5v3.6h-5.5zM461.7 1170.7h5.5v3.6h-5.5zM461.7 1181.0h5.5v3.6h-5.5zM467.0 1112.2h5.5v3.6h-5.5zM467.0 1150.0h5.5v3.6h-5.5zM467.0 1170.7h5.5v3.6h-5.5zM472.3 1129.4h5.5v3.6h-5.5zM477.6 1108.7h5.5v3.6h-5.5zM477.6 1146.6h5.5v3.6h-5.5zM477.6 1174.1h5.5v3.6h-5.5zM477.6 1181.0h5.5v3.6h-5.5zM483.0 1160.3h5.5v3.6h-5.5zM488.3 1136.2h5.5v3.6h-5.5zM488.3 1170.7h5.5v3.6h-5.5zM488.3 1177.5h5.5v3.6h-5.5zM493.6 1108.7h5.5v3.6h-5.5zM493.6 1115.6h5.5v3.6h-5.5zM499.0 1105.3h5.5v3.6h-5.5zM499.0 1115.6h5.5v3.6h-5.5zM499.0 1150.0h5.5v3.6h-5.5zM504.3 1115.6h5.5v3.6h-5.5zM504.3 1153.4h5.5v3.6h-5.5zM504.3 1167.2h5.5v3.6h-5.5zM504.3 1174.1h5.5v3.6h-5.5zM509.6 1125.9h5.5v3.6h-5.5zM509.6 1150.0h5.5v3.6h-5.5z" fill="#007e61"/></g>
<g clip-path="url(#cst880)"><polygon points="291.0,1079.0 300.6,1079.0 302.0,1083.1 310.2,1084.5 315.7,1091.4 323.9,1095.5 334.9,1103.7 345.9,1110.6 356.9,1118.8 367.8,1125.7 378.8,1135.3 389.8,1143.5 400.8,1153.1 409.0,1158.6 417.3,1165.5 425.5,1172.4 433.7,1179.2 442.0,1190.2 447.4,1198.4 458.4,1209.4 472.2,1220.4 488.6,1225.9 505.1,1231.4 516.1,1236.9 518.8,1242.4 472.2,1242.4 455.7,1234.1 444.7,1223.1 436.5,1217.7 428.2,1209.4 420.0,1203.9 417.3,1198.4 417.3,1193.0 409.0,1179.2 400.8,1171.0 389.8,1160.0 378.8,1151.8 367.8,1142.2 356.9,1133.9 345.9,1125.7 334.9,1116.1 323.9,1107.9 312.9,1096.9 302.0,1088.6 291.0,1083.1" fill="#007e61"/><path d="M285.8 1081.2h5.5v3.6h-5.5zM285.8 1132.8h5.5v3.6h-5.5zM285.8 1160.3h5.5v3.6h-5.5zM285.8 1194.7h5.5v3.6h-5.5zM291.2 1091.5h5.5v3.6h-5.5zM291.2 1136.2h5.5v3.6h-5.5zM291.2 1146.6h5.5v3.6h-5.5zM291.2 1218.8h5.5v3.6h-5.5zM296.5 1074.3h5.5v3.6h-5.5zM296.5 1125.9h5.5v3.6h-5.5zM296.5 1156.9h5.5v3.6h-5.5zM296.5 1194.7h5.5v3.6h-5.5zM296.5 1205.1h5.5v3.6h-5.5zM301.8 1070.9h5.5v3.6h-5.5zM307.1 1108.7h5.5v3.6h-5.5zM307.1 1150.0h5.5v3.6h-5.5zM317.8 1105.3h5.5v3.6h-5.5zM328.5 1119.0h5.5v3.6h-5.5zM328.5 1156.9h5.5v3.6h-5.5zM328.5 1160.3h5.5v3.6h-5.5zM328.5 1211.9h5.5v3.6h-5.5zM333.8 1070.9h5.5v3.6h-5.5zM333.8 1088.1h5.5v3.6h-5.5zM333.8 1153.4h5.5v3.6h-5.5zM333.8 1170.7h5.5v3.6h-5.5zM339.1 1139.7h5.5v3.6h-5.5zM344.4 1112.2h5.5v3.6h-5.5zM344.4 1136.2h5.5v3.6h-5.5zM349.8 1070.9h5.5v3.6h-5.5zM349.8 1187.9h5.5v3.6h-5.5zM349.8 1205.1h5.5v3.6h-5.5zM349.8 1208.5h5.5v3.6h-5.5zM355.1 1143.1h5.5v3.6h-5.5zM355.1 1156.9h5.5v3.6h-5.5zM355.1 1181.0h5.5v3.6h-5.5zM355.1 1215.4h5.5v3.6h-5.5zM360.4 1167.2h5.5v3.6h-5.5zM360.4 1181.0h5.5v3.6h-5.5zM365.8 1070.9h5.5v3.6h-5.5zM365.8 1115.6h5.5v3.6h-5.5zM365.8 1132.8h5.5v3.6h-5.5zM365.8 1153.4h5.5v3.6h-5.5zM371.1 1170.7h5.5v3.6h-5.5zM376.4 1174.1h5.5v3.6h-5.5zM381.7 1091.5h5.5v3.6h-5.5zM381.7 1163.8h5.5v3.6h-5.5zM381.7 1184.4h5.5v3.6h-5.5zM381.7 1198.2h5.5v3.6h-5.5zM387.1 1108.7h5.5v3.6h-5.5zM392.4 1095.0h5.5v3.6h-5.5zM392.4 1108.7h5.5v3.6h-5.5zM392.4 1122.5h5.5v3.6h-5.5zM397.7 1108.7h5.5v3.6h-5.5zM397.7 1170.7h5.5v3.6h-5.5zM397.7 1184.4h5.5v3.6h-5.5zM403.1 1115.6h5.5v3.6h-5.5zM403.1 1136.2h5.5v3.6h-5.5zM403.1 1194.7h5.5v3.6h-5.5zM408.4 1122.5h5.5v3.6h-5.5zM408.4 1132.8h5.5v3.6h-5.5zM408.4 1174.1h5.5v3.6h-5.5zM413.7 1112.2h5.5v3.6h-5.5zM413.7 1170.7h5.5v3.6h-5.5zM419.0 1077.8h5.5v3.6h-5.5zM419.0 1115.6h5.5v3.6h-5.5zM419.0 1136.2h5.5v3.6h-5.5zM419.0 1156.9h5.5v3.6h-5.5zM419.0 1174.1h5.5v3.6h-5.5zM419.0 1211.9h5.5v3.6h-5.5zM424.4 1136.2h5.5v3.6h-5.5zM424.4 1160.3h5.5v3.6h-5.5zM424.4 1201.6h5.5v3.6h-5.5zM424.4 1208.5h5.5v3.6h-5.5zM429.7 1084.6h5.5v3.6h-5.5zM429.7 1163.8h5.5v3.6h-5.5zM435.0 1129.4h5.5v3.6h-5.5zM435.0 1177.5h5.5v3.6h-5.5zM435.0 1181.0h5.5v3.6h-5.5z" fill="#ffffff"/><path d="M440.3 1184.4h5.5v3.6h-5.5zM440.3 1187.9h5.5v3.6h-5.5zM440.3 1194.7h5.5v3.6h-5.5zM440.3 1198.2h5.5v3.6h-5.5zM440.3 1208.5h5.5v3.6h-5.5zM440.3 1215.4h5.5v3.6h-5.5zM440.3 1218.8h5.5v3.6h-5.5zM440.3 1225.7h5.5v3.6h-5.5zM440.3 1232.6h5.5v3.6h-5.5zM440.3 1236.0h5.5v3.6h-5.5zM440.3 1239.5h5.5v3.6h-5.5zM445.7 1181.0h5.5v3.6h-5.5zM445.7 1184.4h5.5v3.6h-5.5zM445.7 1187.9h5.5v3.6h-5.5zM445.7 1191.3h5.5v3.6h-5.5zM445.7 1194.7h5.5v3.6h-5.5zM445.7 1208.5h5.5v3.6h-5.5zM445.7 1211.9h5.5v3.6h-5.5zM445.7 1229.1h5.5v3.6h-5.5zM445.7 1242.9h5.5v3.6h-5.5zM451.0 1184.4h5.5v3.6h-5.5zM451.0 1205.1h5.5v3.6h-5.5zM451.0 1208.5h5.5v3.6h-5.5zM451.0 1211.9h5.5v3.6h-5.5zM451.0 1215.4h5.5v3.6h-5.5zM451.0 1225.7h5.5v3.6h-5.5zM451.0 1229.1h5.5v3.6h-5.5zM451.0 1232.6h5.5v3.6h-5.5zM451.0 1236.0h5.5v3.6h-5.5zM451.0 1239.5h5.5v3.6h-5.5zM456.3 1181.0h5.5v3.6h-5.5zM456.3 1184.4h5.5v3.6h-5.5zM456.3 1194.7h5.5v3.6h-5.5zM456.3 1201.6h5.5v3.6h-5.5zM456.3 1205.1h5.5v3.6h-5.5zM456.3 1236.0h5.5v3.6h-5.5zM456.3 1242.9h5.5v3.6h-5.5zM461.7 1187.9h5.5v3.6h-5.5zM461.7 1194.7h5.5v3.6h-5.5zM461.7 1198.2h5.5v3.6h-5.5zM461.7 1205.1h5.5v3.6h-5.5zM461.7 1211.9h5.5v3.6h-5.5zM461.7 1218.8h5.5v3.6h-5.5zM461.7 1229.1h5.5v3.6h-5.5zM461.7 1239.5h5.5v3.6h-5.5zM467.0 1194.7h5.5v3.6h-5.5zM467.0 1208.5h5.5v3.6h-5.5zM467.0 1211.9h5.5v3.6h-5.5zM467.0 1215.4h5.5v3.6h-5.5zM467.0 1236.0h5.5v3.6h-5.5zM467.0 1239.5h5.5v3.6h-5.5zM467.0 1242.9h5.5v3.6h-5.5zM472.3 1184.4h5.5v3.6h-5.5zM472.3 1194.7h5.5v3.6h-5.5zM472.3 1198.2h5.5v3.6h-5.5zM472.3 1215.4h5.5v3.6h-5.5zM472.3 1222.3h5.5v3.6h-5.5zM472.3 1225.7h5.5v3.6h-5.5zM477.6 1184.4h5.5v3.6h-5.5zM477.6 1194.7h5.5v3.6h-5.5zM477.6 1198.2h5.5v3.6h-5.5zM477.6 1201.6h5.5v3.6h-5.5zM477.6 1205.1h5.5v3.6h-5.5zM477.6 1218.8h5.5v3.6h-5.5zM477.6 1222.3h5.5v3.6h-5.5zM477.6 1232.6h5.5v3.6h-5.5zM477.6 1236.0h5.5v3.6h-5.5zM477.6 1239.5h5.5v3.6h-5.5zM483.0 1181.0h5.5v3.6h-5.5zM483.0 1194.7h5.5v3.6h-5.5zM483.0 1198.2h5.5v3.6h-5.5zM483.0 1201.6h5.5v3.6h-5.5zM483.0 1205.1h5.5v3.6h-5.5zM483.0 1211.9h5.5v3.6h-5.5zM483.0 1215.4h5.5v3.6h-5.5zM483.0 1232.6h5.5v3.6h-5.5zM483.0 1239.5h5.5v3.6h-5.5zM483.0 1242.9h5.5v3.6h-5.5zM488.3 1184.4h5.5v3.6h-5.5zM488.3 1194.7h5.5v3.6h-5.5zM488.3 1201.6h5.5v3.6h-5.5zM488.3 1208.5h5.5v3.6h-5.5zM488.3 1222.3h5.5v3.6h-5.5zM488.3 1232.6h5.5v3.6h-5.5zM488.3 1236.0h5.5v3.6h-5.5zM493.6 1181.0h5.5v3.6h-5.5zM493.6 1187.9h5.5v3.6h-5.5zM493.6 1198.2h5.5v3.6h-5.5zM493.6 1201.6h5.5v3.6h-5.5zM493.6 1211.9h5.5v3.6h-5.5zM493.6 1222.3h5.5v3.6h-5.5zM499.0 1184.4h5.5v3.6h-5.5zM499.0 1194.7h5.5v3.6h-5.5zM499.0 1201.6h5.5v3.6h-5.5zM499.0 1205.1h5.5v3.6h-5.5zM499.0 1208.5h5.5v3.6h-5.5zM499.0 1215.4h5.5v3.6h-5.5zM499.0 1222.3h5.5v3.6h-5.5zM499.0 1239.5h5.5v3.6h-5.5zM499.0 1242.9h5.5v3.6h-5.5zM504.3 1201.6h5.5v3.6h-5.5zM504.3 1205.1h5.5v3.6h-5.5zM504.3 1208.5h5.5v3.6h-5.5zM504.3 1211.9h5.5v3.6h-5.5zM504.3 1218.8h5.5v3.6h-5.5zM504.3 1242.9h5.5v3.6h-5.5zM509.6 1181.0h5.5v3.6h-5.5zM509.6 1184.4h5.5v3.6h-5.5zM509.6 1187.9h5.5v3.6h-5.5zM509.6 1194.7h5.5v3.6h-5.5zM509.6 1201.6h5.5v3.6h-5.5zM509.6 1208.5h5.5v3.6h-5.5zM509.6 1218.8h5.5v3.6h-5.5zM509.6 1222.3h5.5v3.6h-5.5zM509.6 1229.1h5.5v3.6h-5.5zM509.6 1232.6h5.5v3.6h-5.5zM509.6 1239.5h5.5v3.6h-5.5zM514.9 1191.3h5.5v3.6h-5.5zM514.9 1194.7h5.5v3.6h-5.5zM514.9 1198.2h5.5v3.6h-5.5zM514.9 1215.4h5.5v3.6h-5.5zM514.9 1222.3h5.5v3.6h-5.5zM514.9 1225.7h5.5v3.6h-5.5zM514.9 1229.1h5.5v3.6h-5.5zM514.9 1232.6h5.5v3.6h-5.5zM514.9 1236.0h5.5v3.6h-5.5zM520.3 1194.7h5.5v3.6h-5.5zM520.3 1198.2h5.5v3.6h-5.5zM520.3 1211.9h5.5v3.6h-5.5zM520.3 1215.4h5.5v3.6h-5.5zM520.3 1218.8h5.5v3.6h-5.5zM520.3 1222.3h5.5v3.6h-5.5zM520.3 1225.7h5.5v3.6h-5.5z" fill="#007e61"/><path d="M440.3 1191.3h5.5v3.6h-5.5zM440.3 1201.6h5.5v3.6h-5.5zM440.3 1229.1h5.5v3.6h-5.5zM445.7 1205.1h5.5v3.6h-5.5zM445.7 1215.4h5.5v3.6h-5.5zM445.7 1218.8h5.5v3.6h-5.5zM445.7 1232.6h5.5v3.6h-5.5zM451.0 1181.0h5.5v3.6h-5.5zM451.0 1187.9h5.5v3.6h-5.5zM451.0 1194.7h5.5v3.6h-5.5zM451.0 1222.3h5.5v3.6h-5.5zM456.3 1198.2h5.5v3.6h-5.5zM456.3 1218.8h5.5v3.6h-5.5zM456.3 1225.7h5.5v3.6h-5.5zM456.3 1229.1h5.5v3.6h-5.5zM456.3 1239.5h5.5v3.6h-5.5zM461.7 1201.6h5.5v3.6h-5.5zM467.0 1191.3h5.5v3.6h-5.5zM467.0 1222.3h5.5v3.6h-5.5zM472.3 1181.0h5.5v3.6h-5.5zM472.3 1187.9h5.5v3.6h-5.5zM472.3 1191.3h5.5v3.6h-5.5zM472.3 1232.6h5.5v3.6h-5.5zM472.3 1239.5h5.5v3.6h-5.5zM477.6 1181.0h5.5v3.6h-5.5zM477.6 1191.3h5.5v3.6h-5.5zM477.6 1208.5h5.5v3.6h-5.5zM477.6 1215.4h5.5v3.6h-5.5zM477.6 1225.7h5.5v3.6h-5.5zM483.0 1191.3h5.5v3.6h-5.5zM483.0 1208.5h5.5v3.6h-5.5zM483.0 1218.8h5.5v3.6h-5.5zM483.0 1222.3h5.5v3.6h-5.5zM488.3 1187.9h5.5v3.6h-5.5zM488.3 1229.1h5.5v3.6h-5.5zM493.6 1184.4h5.5v3.6h-5.5zM493.6 1208.5h5.5v3.6h-5.5zM493.6 1215.4h5.5v3.6h-5.5zM499.0 1181.0h5.5v3.6h-5.5zM499.0 1187.9h5.5v3.6h-5.5zM499.0 1191.3h5.5v3.6h-5.5zM499.0 1211.9h5.5v3.6h-5.5zM499.0 1218.8h5.5v3.6h-5.5zM499.0 1232.6h5.5v3.6h-5.5zM504.3 1198.2h5.5v3.6h-5.5zM504.3 1229.1h5.5v3.6h-5.5zM504.3 1232.6h5.5v3.6h-5.5zM509.6 1215.4h5.5v3.6h-5.5zM509.6 1236.0h5.5v3.6h-5.5zM514.9 1181.0h5.5v3.6h-5.5zM514.9 1184.4h5.5v3.6h-5.5zM514.9 1242.9h5.5v3.6h-5.5zM520.3 1184.4h5.5v3.6h-5.5zM520.3 1187.9h5.5v3.6h-5.5zM520.3 1191.3h5.5v3.6h-5.5zM520.3 1229.1h5.5v3.6h-5.5zM520.3 1236.0h5.5v3.6h-5.5zM520.3 1239.5h5.5v3.6h-5.5z" fill="#ffffff"/></g>
<g clip-path="url(#cbr880)"><polygon points="480.0,1198.8 491.4,1208.6 499.6,1214.1 521.6,1219.6 538.0,1225.1 547.6,1219.6 556.0,1218.8 566.7,1228.2 572.9,1234.5 585.5,1243.9 560.0,1243.8 536.0,1242.8 520.0,1237.8 505.0,1232.8 492.0,1225.8 482.0,1215.8" fill="#007e61"/><path d="M477.6 1194.7h5.5v3.6h-5.5zM477.6 1198.2h5.5v3.6h-5.5zM477.6 1205.1h5.5v3.6h-5.5zM477.6 1208.5h5.5v3.6h-5.5zM477.6 1211.9h5.5v3.6h-5.5zM477.6 1215.4h5.5v3.6h-5.5zM483.0 1194.7h5.5v3.6h-5.5zM483.0 1198.2h5.5v3.6h-5.5zM483.0 1211.9h5.5v3.6h-5.5zM483.0 1215.4h5.5v3.6h-5.5zM483.0 1218.8h5.5v3.6h-5.5zM488.3 1198.2h5.5v3.6h-5.5zM488.3 1208.5h5.5v3.6h-5.5zM488.3 1211.9h5.5v3.6h-5.5zM488.3 1215.4h5.5v3.6h-5.5zM488.3 1218.8h5.5v3.6h-5.5zM493.6 1194.7h5.5v3.6h-5.5zM493.6 1198.2h5.5v3.6h-5.5zM493.6 1205.1h5.5v3.6h-5.5zM493.6 1211.9h5.5v3.6h-5.5zM493.6 1215.4h5.5v3.6h-5.5zM493.6 1218.8h5.5v3.6h-5.5zM499.0 1194.7h5.5v3.6h-5.5zM499.0 1201.6h5.5v3.6h-5.5zM499.0 1208.5h5.5v3.6h-5.5zM499.0 1215.4h5.5v3.6h-5.5zM499.0 1218.8h5.5v3.6h-5.5zM504.3 1198.2h5.5v3.6h-5.5zM504.3 1208.5h5.5v3.6h-5.5zM504.3 1211.9h5.5v3.6h-5.5zM504.3 1215.4h5.5v3.6h-5.5zM504.3 1218.8h5.5v3.6h-5.5zM504.3 1222.3h5.5v3.6h-5.5z" fill="#007e61"/><path d="M477.6 1201.6h5.5v3.6h-5.5zM477.6 1218.8h5.5v3.6h-5.5zM477.6 1222.3h5.5v3.6h-5.5zM483.0 1201.6h5.5v3.6h-5.5zM483.0 1205.1h5.5v3.6h-5.5zM483.0 1208.5h5.5v3.6h-5.5zM483.0 1222.3h5.5v3.6h-5.5zM488.3 1194.7h5.5v3.6h-5.5zM488.3 1201.6h5.5v3.6h-5.5zM488.3 1205.1h5.5v3.6h-5.5zM488.3 1222.3h5.5v3.6h-5.5zM493.6 1201.6h5.5v3.6h-5.5zM493.6 1208.5h5.5v3.6h-5.5zM493.6 1222.3h5.5v3.6h-5.5zM499.0 1198.2h5.5v3.6h-5.5zM499.0 1205.1h5.5v3.6h-5.5zM499.0 1211.9h5.5v3.6h-5.5zM499.0 1222.3h5.5v3.6h-5.5zM504.3 1194.7h5.5v3.6h-5.5zM504.3 1201.6h5.5v3.6h-5.5zM504.3 1205.1h5.5v3.6h-5.5z" fill="#ffffff"/><path d="M509.6 1215.4h5.5v3.6h-5.5zM509.6 1222.3h5.5v3.6h-5.5zM509.6 1229.1h5.5v3.6h-5.5zM509.6 1239.5h5.5v3.6h-5.5zM514.9 1236.0h5.5v3.6h-5.5zM514.9 1239.5h5.5v3.6h-5.5zM520.3 1215.4h5.5v3.6h-5.5zM520.3 1218.8h5.5v3.6h-5.5zM520.3 1222.3h5.5v3.6h-5.5zM520.3 1225.7h5.5v3.6h-5.5zM520.3 1229.1h5.5v3.6h-5.5zM525.6 1211.9h5.5v3.6h-5.5zM525.6 1215.4h5.5v3.6h-5.5zM525.6 1229.1h5.5v3.6h-5.5zM525.6 1232.6h5.5v3.6h-5.5zM525.6 1236.0h5.5v3.6h-5.5zM525.6 1239.5h5.5v3.6h-5.5zM525.6 1242.9h5.5v3.6h-5.5zM530.9 1215.4h5.5v3.6h-5.5zM530.9 1218.8h5.5v3.6h-5.5zM530.9 1239.5h5.5v3.6h-5.5zM536.3 1218.8h5.5v3.6h-5.5zM536.3 1222.3h5.5v3.6h-5.5zM536.3 1225.7h5.5v3.6h-5.5zM536.3 1229.1h5.5v3.6h-5.5zM536.3 1232.6h5.5v3.6h-5.5zM536.3 1236.0h5.5v3.6h-5.5zM536.3 1242.9h5.5v3.6h-5.5zM541.6 1211.9h5.5v3.6h-5.5zM541.6 1225.7h5.5v3.6h-5.5zM541.6 1236.0h5.5v3.6h-5.5zM541.6 1239.5h5.5v3.6h-5.5zM546.9 1225.7h5.5v3.6h-5.5zM546.9 1236.0h5.5v3.6h-5.5zM546.9 1239.5h5.5v3.6h-5.5zM552.2 1242.9h5.5v3.6h-5.5zM557.6 1225.7h5.5v3.6h-5.5zM557.6 1236.0h5.5v3.6h-5.5zM562.9 1218.8h5.5v3.6h-5.5zM562.9 1222.3h5.5v3.6h-5.5zM562.9 1225.7h5.5v3.6h-5.5zM562.9 1229.1h5.5v3.6h-5.5zM562.9 1236.0h5.5v3.6h-5.5zM562.9 1239.5h5.5v3.6h-5.5zM568.2 1211.9h5.5v3.6h-5.5zM568.2 1218.8h5.5v3.6h-5.5zM568.2 1239.5h5.5v3.6h-5.5zM573.5 1211.9h5.5v3.6h-5.5zM573.5 1225.7h5.5v3.6h-5.5zM573.5 1232.6h5.5v3.6h-5.5zM573.5 1236.0h5.5v3.6h-5.5zM578.9 1211.9h5.5v3.6h-5.5zM578.9 1215.4h5.5v3.6h-5.5zM578.9 1218.8h5.5v3.6h-5.5zM578.9 1229.1h5.5v3.6h-5.5zM578.9 1232.6h5.5v3.6h-5.5zM578.9 1236.0h5.5v3.6h-5.5zM578.9 1239.5h5.5v3.6h-5.5zM584.2 1211.9h5.5v3.6h-5.5zM584.2 1215.4h5.5v3.6h-5.5zM584.2 1222.3h5.5v3.6h-5.5z" fill="#007e61"/></g>
<rect x="505.0" y="1180.8" width="5.3" height="3.4" fill="#007e61"/><rect x="505.0" y="1186.8" width="5.3" height="3.4" fill="#007e61"/><rect x="503.0" y="1193.8" width="5.3" height="3.4" fill="#007e61"/><rect x="480.0" y="1186.8" width="5.3" height="3.4" fill="#007e61"/><rect x="486.0" y="1190.8" width="5.3" height="3.4" fill="#007e61"/><rect x="492.0" y="1194.8" width="5.3" height="3.4" fill="#007e61"/><rect x="470.0" y="1180.8" width="5.3" height="3.4" fill="#007e61"/><rect x="455.0" y="1170.8" width="5.3" height="3.4" fill="#007e61"/><rect x="440.0" y="1172.8" width="5.3" height="3.4" fill="#007e61"/><rect x="507.0" y="1200.8" width="5.3" height="3.4" fill="#007e61"/><rect x="466.0" y="1192.8" width="5.3" height="3.4" fill="#007e61"/><rect x="500.0" y="1207.8" width="5.3" height="3.4" fill="#007e61"/><rect x="490.0" y="1202.8" width="5.3" height="3.4" fill="#007e61"/>
<g clip-path="url(#cm2)"><polygon points="210.6,1244.7 221.6,1237.8 225.7,1240.6 264.1,1240.6 264.1,1244.2 312.2,1243.3 316.3,1237.8 332.7,1231.0 349.2,1231.0 371.2,1236.5 387.6,1232.4 417.8,1231.0 437.0,1237.8 453.5,1242.0 470.0,1243.3 540.0,1241.8 572.9,1236.8 585.5,1243.9 601.2,1251.8 610.6,1259.6 629.4,1264.3 648.2,1265.9 654.5,1273.7 663.9,1275.3 673.3,1284.7 679.6,1291.0 689.0,1300.4 695.3,1309.8 701.6,1319.2 707.8,1331.8 714.1,1341.2 717.3,1353.7 723.5,1356.9 729.8,1366.3 736.1,1375.7 742.4,1378.8 751.8,1385.1 761.2,1391.4 754.9,1394.5 742.4,1391.4 732.9,1385.1 720.4,1382.0 711.0,1375.7 701.6,1369.4 695.3,1360.0 685.9,1347.5 676.5,1334.9 667.1,1325.5 657.6,1316.1 648.2,1309.8 635.7,1306.7 620.0,1303.5 604.3,1300.4 591.8,1294.1 579.2,1291.0 560.4,1287.8 538.4,1284.7 491.4,1287.8 478.8,1284.7 460.0,1283.1 453.5,1284.5 437.0,1291.4 423.3,1294.1 417.8,1295.5 417.8,1309.2 365.7,1313.3 352.0,1321.6 338.2,1327.1 316.3,1335.3 299.8,1339.4 269.6,1339.4 236.7,1335.3 216.1,1331.2 201.0,1322.9 201.0,1285.9 209.2,1274.9 217.4,1263.9 216.1,1250.2" fill="#007e61"/><polygon points="330.0,1264.8 400.0,1262.8 500.0,1262.8 600.0,1263.8 650.0,1266.8 668.0,1278.8 640.0,1280.8 600.0,1278.8 500.0,1278.8 400.0,1277.8 330.0,1276.8" fill="#1f8c66"/><polygon points="300.0,1267.8 400.0,1266.8 500.0,1266.8 600.0,1267.8 650.0,1269.8 665.0,1276.8 640.0,1277.8 600.0,1275.8 500.0,1274.8 400.0,1273.8 300.0,1272.8" fill="#3a9a68" fill-opacity="0.90"/><polygon points="540.0,1268.8 600.0,1268.8 650.0,1270.8 662.0,1276.8 640.0,1277.8 600.0,1275.8" fill="#5aaa64" fill-opacity="0.80"/><polygon points="690.0,1320.8 700.0,1325.8 712.0,1345.8 725.0,1360.8 740.0,1375.8 755.0,1388.8 745.0,1392.8 725.0,1385.8 712.0,1375.8 700.0,1360.8 692.0,1340.8" fill="#8cc062"/><polygon points="728.0,1375.8 745.0,1383.8 757.0,1391.8 745.0,1393.8 732.0,1386.8" fill="#b0d060"/><path d="M200.6 1256.7h5.5v3.6h-5.5zM200.6 1260.1h5.5v3.6h-5.5zM200.6 1263.5h5.5v3.6h-5.5zM200.6 1270.4h5.5v3.6h-5.5zM200.6 1277.3h5.5v3.6h-5.5zM200.6 1280.8h5.5v3.6h-5.5zM200.6 1287.6h5.5v3.6h-5.5zM205.9 1253.2h5.5v3.6h-5.5zM205.9 1260.1h5.5v3.6h-5.5zM205.9 1273.9h5.5v3.6h-5.5zM205.9 1280.8h5.5v3.6h-5.5zM205.9 1284.2h5.5v3.6h-5.5zM205.9 1287.6h5.5v3.6h-5.5zM211.2 1270.4h5.5v3.6h-5.5zM211.2 1277.3h5.5v3.6h-5.5zM211.2 1280.8h5.5v3.6h-5.5zM211.2 1291.1h5.5v3.6h-5.5zM216.6 1253.2h5.5v3.6h-5.5zM216.6 1263.5h5.5v3.6h-5.5zM216.6 1267.0h5.5v3.6h-5.5zM216.6 1273.9h5.5v3.6h-5.5zM216.6 1277.3h5.5v3.6h-5.5zM216.6 1287.6h5.5v3.6h-5.5zM216.6 1291.1h5.5v3.6h-5.5zM221.9 1253.2h5.5v3.6h-5.5zM221.9 1256.7h5.5v3.6h-5.5zM221.9 1260.1h5.5v3.6h-5.5zM221.9 1263.5h5.5v3.6h-5.5zM221.9 1277.3h5.5v3.6h-5.5zM221.9 1287.6h5.5v3.6h-5.5zM221.9 1291.1h5.5v3.6h-5.5zM227.2 1260.1h5.5v3.6h-5.5zM227.2 1267.0h5.5v3.6h-5.5zM227.2 1277.3h5.5v3.6h-5.5zM227.2 1287.6h5.5v3.6h-5.5zM232.6 1256.7h5.5v3.6h-5.5zM232.6 1267.0h5.5v3.6h-5.5zM232.6 1273.9h5.5v3.6h-5.5zM232.6 1280.8h5.5v3.6h-5.5zM232.6 1284.2h5.5v3.6h-5.5zM232.6 1291.1h5.5v3.6h-5.5zM237.9 1260.1h5.5v3.6h-5.5zM237.9 1263.5h5.5v3.6h-5.5zM237.9 1287.6h5.5v3.6h-5.5zM243.2 1287.6h5.5v3.6h-5.5z" fill="#ffffff"/><path d="M200.6 1322.0h5.5v3.6h-5.5zM205.9 1328.9h5.5v3.6h-5.5zM216.6 1328.9h5.5v3.6h-5.5zM221.9 1325.5h5.5v3.6h-5.5zM232.6 1328.9h5.5v3.6h-5.5zM237.9 1311.7h5.5v3.6h-5.5zM243.2 1301.4h5.5v3.6h-5.5zM243.2 1322.0h5.5v3.6h-5.5z" fill="#ffffff"/></g>
</g>
<g clip-path="url(#clip3)">
<g clip-path="url(#cp3)"><polygon points="291.0,1460.3 296.5,1462.4 307.5,1470.7 318.4,1477.5 329.4,1484.4 339.0,1489.9 348.6,1496.0 352.0,1496.0 350.0,1489.9 345.9,1481.7 343.1,1473.4 334.9,1465.2 334.9,1458.3 329.4,1452.0 328.0,1446.5 365.1,1446.5 366.5,1457.0 370.6,1457.0 367.8,1468.0 370.6,1481.7 387.1,1481.7 387.1,1492.6 406.3,1491.3 409.0,1498.1 414.5,1490.0 425.5,1492.6 433.7,1500.9 444.7,1506.4 444.7,1517.3 455.7,1528.3 472.2,1539.3 488.6,1544.8 499.6,1553.0 505.1,1564.0 527.0,1566.8 535.3,1572.2 543.5,1577.7 560.0,1580.5 560.0,1588.7 538.0,1588.7 521.6,1591.5 499.6,1605.2 494.1,1612.0 472.2,1605.2 461.2,1602.4 450.2,1594.2 433.7,1586.0 417.3,1577.7 403.5,1572.2 395.3,1564.0 384.3,1555.8 373.3,1544.8 362.4,1539.3 354.1,1528.3 345.9,1520.1 334.9,1509.1 323.9,1498.1 312.9,1487.2 302.0,1476.2 291.0,1465.2" fill="#3b2085"/><path d="M349.8 1535.4h5.5v3.6h-5.5zM349.8 1538.8h5.5v3.6h-5.5zM355.1 1525.0h5.5v3.6h-5.5zM355.1 1528.5h5.5v3.6h-5.5zM355.1 1531.9h5.5v3.6h-5.5zM355.1 1535.4h5.5v3.6h-5.5zM355.1 1538.8h5.5v3.6h-5.5zM355.1 1542.2h5.5v3.6h-5.5zM360.4 1518.2h5.5v3.6h-5.5zM360.4 1521.6h5.5v3.6h-5.5zM360.4 1525.0h5.5v3.6h-5.5zM360.4 1528.5h5.5v3.6h-5.5zM360.4 1531.9h5.5v3.6h-5.5zM360.4 1535.4h5.5v3.6h-5.5zM360.4 1538.8h5.5v3.6h-5.5zM360.4 1542.2h5.5v3.6h-5.5zM360.4 1545.7h5.5v3.6h-5.5zM360.4 1549.1h5.5v3.6h-5.5zM365.8 1518.2h5.5v3.6h-5.5zM365.8 1521.6h5.5v3.6h-5.5zM365.8 1525.0h5.5v3.6h-5.5zM365.8 1528.5h5.5v3.6h-5.5zM365.8 1531.9h5.5v3.6h-5.5zM365.8 1535.4h5.5v3.6h-5.5zM365.8 1538.8h5.5v3.6h-5.5zM365.8 1542.2h5.5v3.6h-5.5zM365.8 1545.7h5.5v3.6h-5.5zM365.8 1549.1h5.5v3.6h-5.5zM365.8 1552.6h5.5v3.6h-5.5zM365.8 1556.0h5.5v3.6h-5.5zM371.1 1514.7h5.5v3.6h-5.5zM371.1 1518.2h5.5v3.6h-5.5zM371.1 1521.6h5.5v3.6h-5.5zM371.1 1525.0h5.5v3.6h-5.5zM371.1 1528.5h5.5v3.6h-5.5zM371.1 1531.9h5.5v3.6h-5.5zM371.1 1535.4h5.5v3.6h-5.5zM371.1 1538.8h5.5v3.6h-5.5zM371.1 1542.2h5.5v3.6h-5.5zM371.1 1545.7h5.5v3.6h-5.5zM371.1 1549.1h5.5v3.6h-5.5zM371.1 1552.6h5.5v3.6h-5.5zM371.1 1556.0h5.5v3.6h-5.5zM371.1 1559.4h5.5v3.6h-5.5zM376.4 1514.7h5.5v3.6h-5.5zM376.4 1518.2h5.5v3.6h-5.5zM376.4 1521.6h5.5v3.6h-5.5zM376.4 1525.0h5.5v3.6h-5.5zM376.4 1528.5h5.5v3.6h-5.5zM376.4 1535.4h5.5v3.6h-5.5zM376.4 1542.2h5.5v3.6h-5.5zM376.4 1545.7h5.5v3.6h-5.5zM376.4 1549.1h5.5v3.6h-5.5zM376.4 1552.6h5.5v3.6h-5.5zM376.4 1556.0h5.5v3.6h-5.5zM376.4 1559.4h5.5v3.6h-5.5zM376.4 1562.9h5.5v3.6h-5.5zM376.4 1566.3h5.5v3.6h-5.5zM381.7 1511.3h5.5v3.6h-5.5zM381.7 1514.7h5.5v3.6h-5.5zM381.7 1518.2h5.5v3.6h-5.5zM381.7 1521.6h5.5v3.6h-5.5zM381.7 1525.0h5.5v3.6h-5.5zM381.7 1528.5h5.5v3.6h-5.5zM381.7 1531.9h5.5v3.6h-5.5zM381.7 1535.4h5.5v3.6h-5.5zM381.7 1538.8h5.5v3.6h-5.5zM381.7 1542.2h5.5v3.6h-5.5zM381.7 1545.7h5.5v3.6h-5.5zM381.7 1549.1h5.5v3.6h-5.5zM381.7 1552.6h5.5v3.6h-5.5zM381.7 1556.0h5.5v3.6h-5.5zM381.7 1559.4h5.5v3.6h-5.5zM381.7 1562.9h5.5v3.6h-5.5zM381.7 1566.3h5.5v3.6h-5.5zM381.7 1569.8h5.5v3.6h-5.5zM387.1 1511.3h5.5v3.6h-5.5zM387.1 1514.7h5.5v3.6h-5.5zM387.1 1518.2h5.5v3.6h-5.5zM387.1 1521.6h5.5v3.6h-5.5zM387.1 1525.0h5.5v3.6h-5.5zM387.1 1528.5h5.5v3.6h-5.5zM387.1 1531.9h5.5v3.6h-5.5zM387.1 1535.4h5.5v3.6h-5.5zM387.1 1542.2h5.5v3.6h-5.5zM387.1 1545.7h5.5v3.6h-5.5zM387.1 1549.1h5.5v3.6h-5.5zM387.1 1552.6h5.5v3.6h-5.5zM387.1 1556.0h5.5v3.6h-5.5zM387.1 1559.4h5.5v3.6h-5.5zM387.1 1562.9h5.5v3.6h-5.5zM387.1 1566.3h5.5v3.6h-5.5zM387.1 1569.8h5.5v3.6h-5.5zM392.4 1507.8h5.5v3.6h-5.5zM392.4 1511.3h5.5v3.6h-5.5zM392.4 1514.7h5.5v3.6h-5.5zM392.4 1518.2h5.5v3.6h-5.5zM392.4 1521.6h5.5v3.6h-5.5zM392.4 1525.0h5.5v3.6h-5.5zM392.4 1528.5h5.5v3.6h-5.5zM392.4 1531.9h5.5v3.6h-5.5zM392.4 1535.4h5.5v3.6h-5.5zM392.4 1538.8h5.5v3.6h-5.5zM392.4 1542.2h5.5v3.6h-5.5zM392.4 1552.6h5.5v3.6h-5.5zM392.4 1556.0h5.5v3.6h-5.5zM392.4 1559.4h5.5v3.6h-5.5zM392.4 1562.9h5.5v3.6h-5.5zM392.4 1566.3h5.5v3.6h-5.5zM392.4 1569.8h5.5v3.6h-5.5zM392.4 1573.2h5.5v3.6h-5.5zM397.7 1507.8h5.5v3.6h-5.5zM397.7 1514.7h5.5v3.6h-5.5zM397.7 1518.2h5.5v3.6h-5.5zM397.7 1521.6h5.5v3.6h-5.5zM397.7 1525.0h5.5v3.6h-5.5zM397.7 1528.5h5.5v3.6h-5.5zM397.7 1531.9h5.5v3.6h-5.5zM397.7 1535.4h5.5v3.6h-5.5zM397.7 1538.8h5.5v3.6h-5.5zM397.7 1542.2h5.5v3.6h-5.5zM397.7 1545.7h5.5v3.6h-5.5zM397.7 1549.1h5.5v3.6h-5.5zM397.7 1552.6h5.5v3.6h-5.5zM397.7 1556.0h5.5v3.6h-5.5zM397.7 1559.4h5.5v3.6h-5.5zM397.7 1562.9h5.5v3.6h-5.5zM397.7 1566.3h5.5v3.6h-5.5zM397.7 1569.8h5.5v3.6h-5.5zM397.7 1573.2h5.5v3.6h-5.5zM397.7 1576.6h5.5v3.6h-5.5zM403.1 1504.4h5.5v3.6h-5.5zM403.1 1507.8h5.5v3.6h-5.5zM403.1 1511.3h5.5v3.6h-5.5zM403.1 1514.7h5.5v3.6h-5.5zM403.1 1521.6h5.5v3.6h-5.5zM403.1 1525.0h5.5v3.6h-5.5zM403.1 1528.5h5.5v3.6h-5.5zM403.1 1535.4h5.5v3.6h-5.5zM403.1 1538.8h5.5v3.6h-5.5zM403.1 1542.2h5.5v3.6h-5.5zM403.1 1545.7h5.5v3.6h-5.5zM403.1 1549.1h5.5v3.6h-5.5zM403.1 1552.6h5.5v3.6h-5.5zM403.1 1556.0h5.5v3.6h-5.5zM403.1 1559.4h5.5v3.6h-5.5zM403.1 1562.9h5.5v3.6h-5.5zM403.1 1566.3h5.5v3.6h-5.5zM403.1 1573.2h5.5v3.6h-5.5zM403.1 1576.6h5.5v3.6h-5.5zM403.1 1580.1h5.5v3.6h-5.5zM408.4 1504.4h5.5v3.6h-5.5zM408.4 1507.8h5.5v3.6h-5.5zM408.4 1511.3h5.5v3.6h-5.5zM408.4 1514.7h5.5v3.6h-5.5zM408.4 1518.2h5.5v3.6h-5.5zM408.4 1521.6h5.5v3.6h-5.5zM408.4 1525.0h5.5v3.6h-5.5zM408.4 1528.5h5.5v3.6h-5.5zM408.4 1531.9h5.5v3.6h-5.5zM408.4 1535.4h5.5v3.6h-5.5zM408.4 1538.8h5.5v3.6h-5.5zM408.4 1542.2h5.5v3.6h-5.5zM408.4 1545.7h5.5v3.6h-5.5zM408.4 1549.1h5.5v3.6h-5.5zM408.4 1552.6h5.5v3.6h-5.5zM408.4 1556.0h5.5v3.6h-5.5zM408.4 1559.4h5.5v3.6h-5.5zM408.4 1562.9h5.5v3.6h-5.5zM408.4 1569.8h5.5v3.6h-5.5zM408.4 1573.2h5.5v3.6h-5.5zM408.4 1576.6h5.5v3.6h-5.5zM408.4 1583.5h5.5v3.6h-5.5zM413.7 1501.0h5.5v3.6h-5.5zM413.7 1504.4h5.5v3.6h-5.5zM413.7 1507.8h5.5v3.6h-5.5zM413.7 1511.3h5.5v3.6h-5.5zM413.7 1514.7h5.5v3.6h-5.5zM413.7 1518.2h5.5v3.6h-5.5zM413.7 1521.6h5.5v3.6h-5.5zM413.7 1525.0h5.5v3.6h-5.5zM413.7 1528.5h5.5v3.6h-5.5zM413.7 1531.9h5.5v3.6h-5.5zM413.7 1535.4h5.5v3.6h-5.5zM413.7 1538.8h5.5v3.6h-5.5zM413.7 1542.2h5.5v3.6h-5.5zM413.7 1545.7h5.5v3.6h-5.5zM413.7 1549.1h5.5v3.6h-5.5zM413.7 1552.6h5.5v3.6h-5.5zM413.7 1556.0h5.5v3.6h-5.5zM413.7 1559.4h5.5v3.6h-5.5zM413.7 1562.9h5.5v3.6h-5.5zM413.7 1566.3h5.5v3.6h-5.5zM413.7 1569.8h5.5v3.6h-5.5zM413.7 1573.2h5.5v3.6h-5.5zM413.7 1576.6h5.5v3.6h-5.5zM413.7 1580.1h5.5v3.6h-5.5zM413.7 1583.5h5.5v3.6h-5.5zM419.0 1501.0h5.5v3.6h-5.5zM419.0 1504.4h5.5v3.6h-5.5zM419.0 1507.8h5.5v3.6h-5.5zM419.0 1511.3h5.5v3.6h-5.5zM419.0 1514.7h5.5v3.6h-5.5zM419.0 1518.2h5.5v3.6h-5.5zM419.0 1521.6h5.5v3.6h-5.5zM419.0 1525.0h5.5v3.6h-5.5zM419.0 1528.5h5.5v3.6h-5.5zM419.0 1531.9h5.5v3.6h-5.5zM419.0 1535.4h5.5v3.6h-5.5zM419.0 1538.8h5.5v3.6h-5.5zM419.0 1542.2h5.5v3.6h-5.5zM419.0 1545.7h5.5v3.6h-5.5zM419.0 1549.1h5.5v3.6h-5.5zM419.0 1552.6h5.5v3.6h-5.5zM419.0 1556.0h5.5v3.6h-5.5zM419.0 1559.4h5.5v3.6h-5.5zM419.0 1562.9h5.5v3.6h-5.5zM419.0 1566.3h5.5v3.6h-5.5zM419.0 1569.8h5.5v3.6h-5.5zM419.0 1573.2h5.5v3.6h-5.5zM419.0 1580.1h5.5v3.6h-5.5zM419.0 1583.5h5.5v3.6h-5.5zM419.0 1587.0h5.5v3.6h-5.5zM424.4 1501.0h5.5v3.6h-5.5zM424.4 1507.8h5.5v3.6h-5.5zM424.4 1511.3h5.5v3.6h-5.5zM424.4 1518.2h5.5v3.6h-5.5zM424.4 1521.6h5.5v3.6h-5.5zM424.4 1525.0h5.5v3.6h-5.5zM424.4 1528.5h5.5v3.6h-5.5zM424.4 1531.9h5.5v3.6h-5.5zM424.4 1535.4h5.5v3.6h-5.5zM424.4 1538.8h5.5v3.6h-5.5zM424.4 1542.2h5.5v3.6h-5.5zM424.4 1545.7h5.5v3.6h-5.5zM424.4 1549.1h5.5v3.6h-5.5zM424.4 1552.6h5.5v3.6h-5.5zM424.4 1556.0h5.5v3.6h-5.5zM424.4 1559.4h5.5v3.6h-5.5zM424.4 1566.3h5.5v3.6h-5.5zM424.4 1569.8h5.5v3.6h-5.5zM424.4 1573.2h5.5v3.6h-5.5zM424.4 1576.6h5.5v3.6h-5.5zM424.4 1580.1h5.5v3.6h-5.5zM424.4 1583.5h5.5v3.6h-5.5zM424.4 1587.0h5.5v3.6h-5.5zM424.4 1590.4h5.5v3.6h-5.5zM429.7 1504.4h5.5v3.6h-5.5zM429.7 1507.8h5.5v3.6h-5.5zM429.7 1511.3h5.5v3.6h-5.5zM429.7 1514.7h5.5v3.6h-5.5zM429.7 1518.2h5.5v3.6h-5.5zM429.7 1521.6h5.5v3.6h-5.5zM429.7 1525.0h5.5v3.6h-5.5zM429.7 1528.5h5.5v3.6h-5.5zM429.7 1531.9h5.5v3.6h-5.5zM429.7 1535.4h5.5v3.6h-5.5zM429.7 1538.8h5.5v3.6h-5.5zM429.7 1542.2h5.5v3.6h-5.5zM429.7 1545.7h5.5v3.6h-5.5zM429.7 1549.1h5.5v3.6h-5.5zM429.7 1552.6h5.5v3.6h-5.5zM429.7 1556.0h5.5v3.6h-5.5zM429.7 1559.4h5.5v3.6h-5.5zM429.7 1562.9h5.5v3.6h-5.5zM429.7 1566.3h5.5v3.6h-5.5zM429.7 1569.8h5.5v3.6h-5.5zM429.7 1573.2h5.5v3.6h-5.5zM429.7 1576.6h5.5v3.6h-5.5zM429.7 1580.1h5.5v3.6h-5.5zM429.7 1583.5h5.5v3.6h-5.5zM429.7 1587.0h5.5v3.6h-5.5zM429.7 1590.4h5.5v3.6h-5.5zM429.7 1593.8h5.5v3.6h-5.5zM435.0 1504.4h5.5v3.6h-5.5zM435.0 1507.8h5.5v3.6h-5.5zM435.0 1514.7h5.5v3.6h-5.5zM435.0 1518.2h5.5v3.6h-5.5zM435.0 1521.6h5.5v3.6h-5.5zM435.0 1525.0h5.5v3.6h-5.5zM435.0 1528.5h5.5v3.6h-5.5zM435.0 1531.9h5.5v3.6h-5.5zM435.0 1535.4h5.5v3.6h-5.5zM435.0 1538.8h5.5v3.6h-5.5zM435.0 1542.2h5.5v3.6h-5.5zM435.0 1545.7h5.5v3.6h-5.5zM435.0 1549.1h5.5v3.6h-5.5zM435.0 1552.6h5.5v3.6h-5.5zM435.0 1556.0h5.5v3.6h-5.5zM435.0 1559.4h5.5v3.6h-5.5zM435.0 1562.9h5.5v3.6h-5.5zM435.0 1566.3h5.5v3.6h-5.5zM435.0 1569.8h5.5v3.6h-5.5zM435.0 1573.2h5.5v3.6h-5.5zM435.0 1576.6h5.5v3.6h-5.5zM435.0 1580.1h5.5v3.6h-5.5zM435.0 1583.5h5.5v3.6h-5.5zM435.0 1587.0h5.5v3.6h-5.5zM435.0 1590.4h5.5v3.6h-5.5zM435.0 1593.8h5.5v3.6h-5.5zM440.3 1507.8h5.5v3.6h-5.5zM440.3 1511.3h5.5v3.6h-5.5zM440.3 1514.7h5.5v3.6h-5.5zM440.3 1518.2h5.5v3.6h-5.5zM440.3 1521.6h5.5v3.6h-5.5zM440.3 1525.0h5.5v3.6h-5.5zM440.3 1528.5h5.5v3.6h-5.5zM440.3 1531.9h5.5v3.6h-5.5zM440.3 1535.4h5.5v3.6h-5.5zM440.3 1538.8h5.5v3.6h-5.5zM440.3 1542.2h5.5v3.6h-5.5zM440.3 1545.7h5.5v3.6h-5.5zM440.3 1549.1h5.5v3.6h-5.5zM440.3 1552.6h5.5v3.6h-5.5zM440.3 1559.4h5.5v3.6h-5.5zM440.3 1562.9h5.5v3.6h-5.5zM440.3 1566.3h5.5v3.6h-5.5zM440.3 1569.8h5.5v3.6h-5.5zM440.3 1573.2h5.5v3.6h-5.5zM440.3 1576.6h5.5v3.6h-5.5zM440.3 1580.1h5.5v3.6h-5.5zM440.3 1583.5h5.5v3.6h-5.5zM440.3 1587.0h5.5v3.6h-5.5zM440.3 1590.4h5.5v3.6h-5.5zM440.3 1593.8h5.5v3.6h-5.5zM440.3 1597.3h5.5v3.6h-5.5zM445.7 1507.8h5.5v3.6h-5.5zM445.7 1511.3h5.5v3.6h-5.5zM445.7 1514.7h5.5v3.6h-5.5zM445.7 1521.6h5.5v3.6h-5.5zM445.7 1528.5h5.5v3.6h-5.5zM445.7 1535.4h5.5v3.6h-5.5zM445.7 1538.8h5.5v3.6h-5.5zM445.7 1542.2h5.5v3.6h-5.5zM445.7 1545.7h5.5v3.6h-5.5zM445.7 1549.1h5.5v3.6h-5.5zM445.7 1552.6h5.5v3.6h-5.5zM445.7 1556.0h5.5v3.6h-5.5zM445.7 1559.4h5.5v3.6h-5.5zM445.7 1562.9h5.5v3.6h-5.5zM445.7 1566.3h5.5v3.6h-5.5zM445.7 1569.8h5.5v3.6h-5.5zM445.7 1573.2h5.5v3.6h-5.5zM445.7 1576.6h5.5v3.6h-5.5zM445.7 1580.1h5.5v3.6h-5.5zM445.7 1583.5h5.5v3.6h-5.5zM445.7 1587.0h5.5v3.6h-5.5zM445.7 1590.4h5.5v3.6h-5.5zM445.7 1593.8h5.5v3.6h-5.5zM445.7 1597.3h5.5v3.6h-5.5zM451.0 1511.3h5.5v3.6h-5.5zM451.0 1518.2h5.5v3.6h-5.5zM451.0 1521.6h5.5v3.6h-5.5zM451.0 1525.0h5.5v3.6h-5.5zM451.0 1528.5h5.5v3.6h-5.5zM451.0 1531.9h5.5v3.6h-5.5zM451.0 1535.4h5.5v3.6h-5.5zM451.0 1538.8h5.5v3.6h-5.5zM451.0 1545.7h5.5v3.6h-5.5zM451.0 1549.1h5.5v3.6h-5.5zM451.0 1552.6h5.5v3.6h-5.5zM451.0 1556.0h5.5v3.6h-5.5zM451.0 1559.4h5.5v3.6h-5.5zM451.0 1562.9h5.5v3.6h-5.5zM451.0 1569.8h5.5v3.6h-5.5zM451.0 1573.2h5.5v3.6h-5.5zM451.0 1576.6h5.5v3.6h-5.5zM451.0 1580.1h5.5v3.6h-5.5zM451.0 1583.5h5.5v3.6h-5.5zM451.0 1587.0h5.5v3.6h-5.5zM451.0 1590.4h5.5v3.6h-5.5zM451.0 1593.8h5.5v3.6h-5.5zM451.0 1597.3h5.5v3.6h-5.5zM456.3 1514.7h5.5v3.6h-5.5zM456.3 1518.2h5.5v3.6h-5.5zM456.3 1521.6h5.5v3.6h-5.5zM456.3 1525.0h5.5v3.6h-5.5zM456.3 1528.5h5.5v3.6h-5.5zM456.3 1531.9h5.5v3.6h-5.5zM456.3 1535.4h5.5v3.6h-5.5zM456.3 1538.8h5.5v3.6h-5.5zM456.3 1542.2h5.5v3.6h-5.5zM456.3 1545.7h5.5v3.6h-5.5zM456.3 1549.1h5.5v3.6h-5.5zM456.3 1552.6h5.5v3.6h-5.5zM456.3 1556.0h5.5v3.6h-5.5zM456.3 1559.4h5.5v3.6h-5.5zM456.3 1562.9h5.5v3.6h-5.5zM456.3 1569.8h5.5v3.6h-5.5zM456.3 1573.2h5.5v3.6h-5.5zM456.3 1576.6h5.5v3.6h-5.5zM456.3 1580.1h5.5v3.6h-5.5zM456.3 1583.5h5.5v3.6h-5.5zM456.3 1587.0h5.5v3.6h-5.5zM456.3 1590.4h5.5v3.6h-5.5zM456.3 1593.8h5.5v3.6h-5.5zM456.3 1597.3h5.5v3.6h-5.5zM456.3 1600.7h5.5v3.6h-5.5zM461.7 1518.2h5.5v3.6h-5.5zM461.7 1521.6h5.5v3.6h-5.5zM461.7 1528.5h5.5v3.6h-5.5zM461.7 1531.9h5.5v3.6h-5.5zM461.7 1535.4h5.5v3.6h-5.5zM461.7 1538.8h5.5v3.6h-5.5zM461.7 1542.2h5.5v3.6h-5.5zM461.7 1545.7h5.5v3.6h-5.5zM461.7 1549.1h5.5v3.6h-5.5zM461.7 1552.6h5.5v3.6h-5.5zM461.7 1559.4h5.5v3.6h-5.5zM461.7 1562.9h5.5v3.6h-5.5zM461.7 1566.3h5.5v3.6h-5.5zM461.7 1569.8h5.5v3.6h-5.5zM461.7 1573.2h5.5v3.6h-5.5zM461.7 1576.6h5.5v3.6h-5.5zM461.7 1580.1h5.5v3.6h-5.5zM461.7 1583.5h5.5v3.6h-5.5zM461.7 1587.0h5.5v3.6h-5.5zM461.7 1590.4h5.5v3.6h-5.5zM461.7 1593.8h5.5v3.6h-5.5zM461.7 1597.3h5.5v3.6h-5.5zM461.7 1600.7h5.5v3.6h-5.5zM461.7 1604.2h5.5v3.6h-5.5zM467.0 1521.6h5.5v3.6h-5.5zM467.0 1525.0h5.5v3.6h-5.5zM467.0 1531.9h5.5v3.6h-5.5zM467.0 1538.8h5.5v3.6h-5.5zM467.0 1542.2h5.5v3.6h-5.5zM467.0 1545.7h5.5v3.6h-5.5zM467.0 1549.1h5.5v3.6h-5.5zM467.0 1552.6h5.5v3.6h-5.5zM467.0 1556.0h5.5v3.6h-5.5zM467.0 1559.4h5.5v3.6h-5.5zM467.0 1562.9h5.5v3.6h-5.5zM467.0 1566.3h5.5v3.6h-5.5zM467.0 1569.8h5.5v3.6h-5.5zM467.0 1573.2h5.5v3.6h-5.5zM467.0 1576.6h5.5v3.6h-5.5zM467.0 1580.1h5.5v3.6h-5.5zM467.0 1583.5h5.5v3.6h-5.5zM467.0 1587.0h5.5v3.6h-5.5zM467.0 1590.4h5.5v3.6h-5.5zM467.0 1593.8h5.5v3.6h-5.5zM467.0 1597.3h5.5v3.6h-5.5zM467.0 1604.2h5.5v3.6h-5.5zM472.3 1528.5h5.5v3.6h-5.5zM472.3 1531.9h5.5v3.6h-5.5zM472.3 1535.4h5.5v3.6h-5.5zM472.3 1538.8h5.5v3.6h-5.5zM472.3 1542.2h5.5v3.6h-5.5zM472.3 1545.7h5.5v3.6h-5.5zM472.3 1549.1h5.5v3.6h-5.5zM472.3 1552.6h5.5v3.6h-5.5zM472.3 1556.0h5.5v3.6h-5.5zM472.3 1559.4h5.5v3.6h-5.5zM472.3 1562.9h5.5v3.6h-5.5zM472.3 1566.3h5.5v3.6h-5.5zM472.3 1569.8h5.5v3.6h-5.5zM472.3 1576.6h5.5v3.6h-5.5zM472.3 1580.1h5.5v3.6h-5.5zM472.3 1583.5h5.5v3.6h-5.5zM472.3 1587.0h5.5v3.6h-5.5zM472.3 1590.4h5.5v3.6h-5.5zM472.3 1593.8h5.5v3.6h-5.5zM472.3 1597.3h5.5v3.6h-5.5zM472.3 1600.7h5.5v3.6h-5.5zM472.3 1604.2h5.5v3.6h-5.5zM477.6 1531.9h5.5v3.6h-5.5zM477.6 1535.4h5.5v3.6h-5.5zM477.6 1538.8h5.5v3.6h-5.5zM477.6 1542.2h5.5v3.6h-5.5zM477.6 1545.7h5.5v3.6h-5.5zM477.6 1549.1h5.5v3.6h-5.5zM477.6 1552.6h5.5v3.6h-5.5zM477.6 1556.0h5.5v3.6h-5.5zM477.6 1559.4h5.5v3.6h-5.5zM477.6 1562.9h5.5v3.6h-5.5zM477.6 1566.3h5.5v3.6h-5.5zM477.6 1569.8h5.5v3.6h-5.5zM477.6 1573.2h5.5v3.6h-5.5zM477.6 1576.6h5.5v3.6h-5.5zM477.6 1580.1h5.5v3.6h-5.5zM477.6 1583.5h5.5v3.6h-5.5zM477.6 1587.0h5.5v3.6h-5.5zM477.6 1590.4h5.5v3.6h-5.5zM477.6 1593.8h5.5v3.6h-5.5zM477.6 1597.3h5.5v3.6h-5.5zM477.6 1600.7h5.5v3.6h-5.5zM477.6 1604.2h5.5v3.6h-5.5zM477.6 1607.6h5.5v3.6h-5.5zM483.0 1535.4h5.5v3.6h-5.5zM483.0 1538.8h5.5v3.6h-5.5zM483.0 1542.2h5.5v3.6h-5.5zM483.0 1545.7h5.5v3.6h-5.5zM483.0 1549.1h5.5v3.6h-5.5zM483.0 1552.6h5.5v3.6h-5.5zM483.0 1556.0h5.5v3.6h-5.5zM483.0 1559.4h5.5v3.6h-5.5zM483.0 1562.9h5.5v3.6h-5.5zM483.0 1566.3h5.5v3.6h-5.5zM483.0 1569.8h5.5v3.6h-5.5zM483.0 1576.6h5.5v3.6h-5.5zM483.0 1580.1h5.5v3.6h-5.5zM483.0 1583.5h5.5v3.6h-5.5zM483.0 1587.0h5.5v3.6h-5.5zM483.0 1590.4h5.5v3.6h-5.5zM483.0 1597.3h5.5v3.6h-5.5zM483.0 1600.7h5.5v3.6h-5.5zM483.0 1604.2h5.5v3.6h-5.5zM483.0 1607.6h5.5v3.6h-5.5zM488.3 1538.8h5.5v3.6h-5.5zM488.3 1542.2h5.5v3.6h-5.5zM488.3 1552.6h5.5v3.6h-5.5zM488.3 1556.0h5.5v3.6h-5.5zM488.3 1559.4h5.5v3.6h-5.5zM488.3 1562.9h5.5v3.6h-5.5zM488.3 1566.3h5.5v3.6h-5.5zM488.3 1569.8h5.5v3.6h-5.5zM488.3 1573.2h5.5v3.6h-5.5zM488.3 1580.1h5.5v3.6h-5.5zM488.3 1583.5h5.5v3.6h-5.5zM488.3 1587.0h5.5v3.6h-5.5zM488.3 1590.4h5.5v3.6h-5.5zM488.3 1593.8h5.5v3.6h-5.5zM488.3 1597.3h5.5v3.6h-5.5zM488.3 1600.7h5.5v3.6h-5.5zM488.3 1604.2h5.5v3.6h-5.5zM488.3 1607.6h5.5v3.6h-5.5zM493.6 1542.2h5.5v3.6h-5.5zM493.6 1545.7h5.5v3.6h-5.5zM493.6 1549.1h5.5v3.6h-5.5zM493.6 1552.6h5.5v3.6h-5.5zM493.6 1556.0h5.5v3.6h-5.5zM493.6 1559.4h5.5v3.6h-5.5zM493.6 1562.9h5.5v3.6h-5.5zM493.6 1566.3h5.5v3.6h-5.5zM493.6 1569.8h5.5v3.6h-5.5zM493.6 1573.2h5.5v3.6h-5.5zM493.6 1576.6h5.5v3.6h-5.5zM493.6 1583.5h5.5v3.6h-5.5zM493.6 1587.0h5.5v3.6h-5.5zM493.6 1590.4h5.5v3.6h-5.5zM493.6 1593.8h5.5v3.6h-5.5zM493.6 1597.3h5.5v3.6h-5.5zM493.6 1600.7h5.5v3.6h-5.5zM493.6 1604.2h5.5v3.6h-5.5zM493.6 1607.6h5.5v3.6h-5.5zM493.6 1611.1h5.5v3.6h-5.5zM499.0 1545.7h5.5v3.6h-5.5zM499.0 1552.6h5.5v3.6h-5.5zM499.0 1559.4h5.5v3.6h-5.5zM499.0 1562.9h5.5v3.6h-5.5zM499.0 1566.3h5.5v3.6h-5.5zM499.0 1573.2h5.5v3.6h-5.5zM499.0 1576.6h5.5v3.6h-5.5zM499.0 1580.1h5.5v3.6h-5.5zM499.0 1583.5h5.5v3.6h-5.5zM499.0 1587.0h5.5v3.6h-5.5zM499.0 1590.4h5.5v3.6h-5.5zM499.0 1593.8h5.5v3.6h-5.5zM499.0 1600.7h5.5v3.6h-5.5zM499.0 1604.2h5.5v3.6h-5.5zM499.0 1607.6h5.5v3.6h-5.5zM499.0 1611.1h5.5v3.6h-5.5zM504.3 1549.1h5.5v3.6h-5.5zM504.3 1556.0h5.5v3.6h-5.5zM504.3 1559.4h5.5v3.6h-5.5zM504.3 1562.9h5.5v3.6h-5.5zM504.3 1566.3h5.5v3.6h-5.5zM504.3 1569.8h5.5v3.6h-5.5zM504.3 1573.2h5.5v3.6h-5.5zM504.3 1576.6h5.5v3.6h-5.5zM504.3 1580.1h5.5v3.6h-5.5zM504.3 1583.5h5.5v3.6h-5.5zM504.3 1587.0h5.5v3.6h-5.5zM504.3 1590.4h5.5v3.6h-5.5zM504.3 1593.8h5.5v3.6h-5.5zM504.3 1600.7h5.5v3.6h-5.5zM504.3 1604.2h5.5v3.6h-5.5zM504.3 1607.6h5.5v3.6h-5.5zM504.3 1611.1h5.5v3.6h-5.5zM509.6 1552.6h5.5v3.6h-5.5zM509.6 1556.0h5.5v3.6h-5.5zM509.6 1559.4h5.5v3.6h-5.5zM509.6 1562.9h5.5v3.6h-5.5zM509.6 1569.8h5.5v3.6h-5.5zM509.6 1573.2h5.5v3.6h-5.5zM509.6 1576.6h5.5v3.6h-5.5zM509.6 1580.1h5.5v3.6h-5.5zM509.6 1583.5h5.5v3.6h-5.5zM509.6 1587.0h5.5v3.6h-5.5zM509.6 1590.4h5.5v3.6h-5.5zM509.6 1593.8h5.5v3.6h-5.5zM509.6 1597.3h5.5v3.6h-5.5zM509.6 1600.7h5.5v3.6h-5.5zM509.6 1604.2h5.5v3.6h-5.5zM509.6 1607.6h5.5v3.6h-5.5zM514.9 1559.4h5.5v3.6h-5.5zM514.9 1562.9h5.5v3.6h-5.5zM514.9 1566.3h5.5v3.6h-5.5zM514.9 1569.8h5.5v3.6h-5.5zM514.9 1573.2h5.5v3.6h-5.5zM514.9 1576.6h5.5v3.6h-5.5zM514.9 1580.1h5.5v3.6h-5.5zM514.9 1583.5h5.5v3.6h-5.5zM514.9 1587.0h5.5v3.6h-5.5zM514.9 1590.4h5.5v3.6h-5.5zM514.9 1593.8h5.5v3.6h-5.5zM514.9 1597.3h5.5v3.6h-5.5zM514.9 1600.7h5.5v3.6h-5.5zM514.9 1604.2h5.5v3.6h-5.5zM520.3 1559.4h5.5v3.6h-5.5zM520.3 1562.9h5.5v3.6h-5.5zM520.3 1566.3h5.5v3.6h-5.5zM520.3 1569.8h5.5v3.6h-5.5zM520.3 1573.2h5.5v3.6h-5.5zM520.3 1576.6h5.5v3.6h-5.5zM520.3 1580.1h5.5v3.6h-5.5zM520.3 1583.5h5.5v3.6h-5.5zM520.3 1587.0h5.5v3.6h-5.5zM520.3 1590.4h5.5v3.6h-5.5zM520.3 1593.8h5.5v3.6h-5.5zM520.3 1597.3h5.5v3.6h-5.5zM520.3 1600.7h5.5v3.6h-5.5zM520.3 1604.2h5.5v3.6h-5.5zM525.6 1562.9h5.5v3.6h-5.5zM525.6 1566.3h5.5v3.6h-5.5zM525.6 1569.8h5.5v3.6h-5.5zM525.6 1573.2h5.5v3.6h-5.5zM525.6 1576.6h5.5v3.6h-5.5zM525.6 1580.1h5.5v3.6h-5.5zM525.6 1583.5h5.5v3.6h-5.5zM525.6 1590.4h5.5v3.6h-5.5zM525.6 1593.8h5.5v3.6h-5.5zM525.6 1600.7h5.5v3.6h-5.5zM525.6 1604.2h5.5v3.6h-5.5zM530.9 1566.3h5.5v3.6h-5.5zM530.9 1569.8h5.5v3.6h-5.5zM530.9 1573.2h5.5v3.6h-5.5zM530.9 1576.6h5.5v3.6h-5.5zM530.9 1580.1h5.5v3.6h-5.5zM530.9 1583.5h5.5v3.6h-5.5zM530.9 1587.0h5.5v3.6h-5.5zM530.9 1590.4h5.5v3.6h-5.5zM530.9 1593.8h5.5v3.6h-5.5zM530.9 1597.3h5.5v3.6h-5.5zM530.9 1600.7h5.5v3.6h-5.5zM530.9 1604.2h5.5v3.6h-5.5zM536.3 1566.3h5.5v3.6h-5.5zM536.3 1569.8h5.5v3.6h-5.5zM536.3 1573.2h5.5v3.6h-5.5zM536.3 1576.6h5.5v3.6h-5.5zM536.3 1580.1h5.5v3.6h-5.5zM536.3 1583.5h5.5v3.6h-5.5zM536.3 1587.0h5.5v3.6h-5.5zM536.3 1590.4h5.5v3.6h-5.5zM536.3 1593.8h5.5v3.6h-5.5zM536.3 1597.3h5.5v3.6h-5.5zM536.3 1600.7h5.5v3.6h-5.5zM541.6 1569.8h5.5v3.6h-5.5zM541.6 1573.2h5.5v3.6h-5.5zM541.6 1576.6h5.5v3.6h-5.5zM541.6 1580.1h5.5v3.6h-5.5zM541.6 1583.5h5.5v3.6h-5.5zM541.6 1587.0h5.5v3.6h-5.5zM541.6 1590.4h5.5v3.6h-5.5zM541.6 1593.8h5.5v3.6h-5.5zM541.6 1597.3h5.5v3.6h-5.5zM541.6 1600.7h5.5v3.6h-5.5zM546.9 1573.2h5.5v3.6h-5.5zM546.9 1576.6h5.5v3.6h-5.5zM546.9 1580.1h5.5v3.6h-5.5zM546.9 1583.5h5.5v3.6h-5.5zM546.9 1587.0h5.5v3.6h-5.5zM546.9 1590.4h5.5v3.6h-5.5zM546.9 1593.8h5.5v3.6h-5.5zM546.9 1597.3h5.5v3.6h-5.5zM552.2 1573.2h5.5v3.6h-5.5zM552.2 1576.6h5.5v3.6h-5.5zM552.2 1580.1h5.5v3.6h-5.5zM552.2 1583.5h5.5v3.6h-5.5zM552.2 1587.0h5.5v3.6h-5.5zM552.2 1590.4h5.5v3.6h-5.5zM552.2 1593.8h5.5v3.6h-5.5zM552.2 1597.3h5.5v3.6h-5.5z" fill="#3b2085"/><path d="M355.1 1545.7h5.5v3.6h-5.5zM376.4 1531.9h5.5v3.6h-5.5zM376.4 1538.8h5.5v3.6h-5.5zM387.1 1538.8h5.5v3.6h-5.5zM392.4 1545.7h5.5v3.6h-5.5zM392.4 1549.1h5.5v3.6h-5.5zM397.7 1511.3h5.5v3.6h-5.5zM403.1 1518.2h5.5v3.6h-5.5zM403.1 1531.9h5.5v3.6h-5.5zM403.1 1569.8h5.5v3.6h-5.5zM408.4 1566.3h5.5v3.6h-5.5zM408.4 1580.1h5.5v3.6h-5.5zM419.0 1576.6h5.5v3.6h-5.5zM424.4 1504.4h5.5v3.6h-5.5zM424.4 1514.7h5.5v3.6h-5.5zM424.4 1562.9h5.5v3.6h-5.5zM435.0 1511.3h5.5v3.6h-5.5zM440.3 1556.0h5.5v3.6h-5.5zM445.7 1518.2h5.5v3.6h-5.5zM445.7 1525.0h5.5v3.6h-5.5zM445.7 1531.9h5.5v3.6h-5.5zM451.0 1514.7h5.5v3.6h-5.5zM451.0 1542.2h5.5v3.6h-5.5zM451.0 1566.3h5.5v3.6h-5.5zM451.0 1600.7h5.5v3.6h-5.5zM456.3 1566.3h5.5v3.6h-5.5zM461.7 1525.0h5.5v3.6h-5.5zM461.7 1556.0h5.5v3.6h-5.5zM467.0 1528.5h5.5v3.6h-5.5zM467.0 1535.4h5.5v3.6h-5.5zM467.0 1600.7h5.5v3.6h-5.5zM472.3 1525.0h5.5v3.6h-5.5zM472.3 1573.2h5.5v3.6h-5.5zM483.0 1573.2h5.5v3.6h-5.5zM483.0 1593.8h5.5v3.6h-5.5zM488.3 1545.7h5.5v3.6h-5.5zM488.3 1549.1h5.5v3.6h-5.5zM488.3 1576.6h5.5v3.6h-5.5zM493.6 1580.1h5.5v3.6h-5.5zM499.0 1549.1h5.5v3.6h-5.5zM499.0 1556.0h5.5v3.6h-5.5zM499.0 1569.8h5.5v3.6h-5.5zM499.0 1597.3h5.5v3.6h-5.5zM504.3 1552.6h5.5v3.6h-5.5zM504.3 1597.3h5.5v3.6h-5.5zM509.6 1566.3h5.5v3.6h-5.5zM514.9 1607.6h5.5v3.6h-5.5zM525.6 1587.0h5.5v3.6h-5.5zM525.6 1597.3h5.5v3.6h-5.5zM546.9 1569.8h5.5v3.6h-5.5zM546.9 1600.7h5.5v3.6h-5.5z" fill="#ffffff"/><path d="M451.0 1559.4h5.5v3.6h-5.5zM456.3 1566.3h5.5v3.6h-5.5zM456.3 1576.6h5.5v3.6h-5.5zM456.3 1580.1h5.5v3.6h-5.5zM456.3 1593.8h5.5v3.6h-5.5zM461.7 1566.3h5.5v3.6h-5.5zM461.7 1569.8h5.5v3.6h-5.5zM461.7 1593.8h5.5v3.6h-5.5zM467.0 1566.3h5.5v3.6h-5.5zM467.0 1569.8h5.5v3.6h-5.5zM467.0 1580.1h5.5v3.6h-5.5zM467.0 1593.8h5.5v3.6h-5.5zM467.0 1604.2h5.5v3.6h-5.5zM472.3 1566.3h5.5v3.6h-5.5zM472.3 1573.2h5.5v3.6h-5.5zM472.3 1583.5h5.5v3.6h-5.5zM472.3 1587.0h5.5v3.6h-5.5zM472.3 1593.8h5.5v3.6h-5.5zM477.6 1576.6h5.5v3.6h-5.5zM477.6 1583.5h5.5v3.6h-5.5zM483.0 1552.6h5.5v3.6h-5.5zM483.0 1556.0h5.5v3.6h-5.5zM483.0 1559.4h5.5v3.6h-5.5zM483.0 1569.8h5.5v3.6h-5.5zM483.0 1583.5h5.5v3.6h-5.5zM483.0 1597.3h5.5v3.6h-5.5zM483.0 1600.7h5.5v3.6h-5.5zM488.3 1552.6h5.5v3.6h-5.5zM488.3 1573.2h5.5v3.6h-5.5zM488.3 1576.6h5.5v3.6h-5.5zM488.3 1593.8h5.5v3.6h-5.5zM488.3 1600.7h5.5v3.6h-5.5zM493.6 1556.0h5.5v3.6h-5.5zM493.6 1576.6h5.5v3.6h-5.5zM493.6 1583.5h5.5v3.6h-5.5zM493.6 1590.4h5.5v3.6h-5.5zM493.6 1593.8h5.5v3.6h-5.5zM493.6 1604.2h5.5v3.6h-5.5zM493.6 1611.1h5.5v3.6h-5.5zM499.0 1559.4h5.5v3.6h-5.5zM499.0 1566.3h5.5v3.6h-5.5zM499.0 1569.8h5.5v3.6h-5.5zM499.0 1573.2h5.5v3.6h-5.5zM499.0 1576.6h5.5v3.6h-5.5zM499.0 1580.1h5.5v3.6h-5.5zM499.0 1590.4h5.5v3.6h-5.5zM499.0 1593.8h5.5v3.6h-5.5zM504.3 1566.3h5.5v3.6h-5.5zM504.3 1573.2h5.5v3.6h-5.5zM504.3 1583.5h5.5v3.6h-5.5zM504.3 1593.8h5.5v3.6h-5.5zM504.3 1600.7h5.5v3.6h-5.5zM504.3 1604.2h5.5v3.6h-5.5zM504.3 1607.6h5.5v3.6h-5.5zM504.3 1611.1h5.5v3.6h-5.5zM509.6 1559.4h5.5v3.6h-5.5zM509.6 1573.2h5.5v3.6h-5.5zM509.6 1576.6h5.5v3.6h-5.5zM509.6 1600.7h5.5v3.6h-5.5zM514.9 1576.6h5.5v3.6h-5.5zM514.9 1583.5h5.5v3.6h-5.5zM514.9 1600.7h5.5v3.6h-5.5zM514.9 1604.2h5.5v3.6h-5.5zM514.9 1607.6h5.5v3.6h-5.5zM520.3 1566.3h5.5v3.6h-5.5zM520.3 1583.5h5.5v3.6h-5.5zM520.3 1587.0h5.5v3.6h-5.5zM520.3 1593.8h5.5v3.6h-5.5zM520.3 1604.2h5.5v3.6h-5.5zM525.6 1573.2h5.5v3.6h-5.5zM525.6 1583.5h5.5v3.6h-5.5zM525.6 1597.3h5.5v3.6h-5.5zM525.6 1604.2h5.5v3.6h-5.5zM530.9 1580.1h5.5v3.6h-5.5zM536.3 1576.6h5.5v3.6h-5.5zM536.3 1587.0h5.5v3.6h-5.5zM541.6 1573.2h5.5v3.6h-5.5zM541.6 1583.5h5.5v3.6h-5.5zM541.6 1587.0h5.5v3.6h-5.5zM541.6 1590.4h5.5v3.6h-5.5zM541.6 1593.8h5.5v3.6h-5.5zM546.9 1573.2h5.5v3.6h-5.5zM546.9 1576.6h5.5v3.6h-5.5zM552.2 1580.1h5.5v3.6h-5.5zM552.2 1587.0h5.5v3.6h-5.5z" fill="#3b2085"/><path d="M451.0 1562.9h5.5v3.6h-5.5zM456.3 1559.4h5.5v3.6h-5.5zM456.3 1573.2h5.5v3.6h-5.5zM456.3 1597.3h5.5v3.6h-5.5zM461.7 1556.0h5.5v3.6h-5.5zM461.7 1562.9h5.5v3.6h-5.5zM461.7 1573.2h5.5v3.6h-5.5zM461.7 1580.1h5.5v3.6h-5.5zM461.7 1600.7h5.5v3.6h-5.5zM461.7 1604.2h5.5v3.6h-5.5zM467.0 1556.0h5.5v3.6h-5.5zM467.0 1576.6h5.5v3.6h-5.5zM467.0 1587.0h5.5v3.6h-5.5zM467.0 1590.4h5.5v3.6h-5.5zM467.0 1597.3h5.5v3.6h-5.5zM472.3 1556.0h5.5v3.6h-5.5zM472.3 1559.4h5.5v3.6h-5.5zM472.3 1576.6h5.5v3.6h-5.5zM472.3 1590.4h5.5v3.6h-5.5zM472.3 1597.3h5.5v3.6h-5.5zM472.3 1600.7h5.5v3.6h-5.5zM477.6 1559.4h5.5v3.6h-5.5zM477.6 1566.3h5.5v3.6h-5.5zM477.6 1573.2h5.5v3.6h-5.5zM477.6 1600.7h5.5v3.6h-5.5zM483.0 1562.9h5.5v3.6h-5.5zM483.0 1566.3h5.5v3.6h-5.5zM483.0 1587.0h5.5v3.6h-5.5zM483.0 1590.4h5.5v3.6h-5.5zM483.0 1604.2h5.5v3.6h-5.5zM488.3 1566.3h5.5v3.6h-5.5zM488.3 1580.1h5.5v3.6h-5.5zM488.3 1607.6h5.5v3.6h-5.5zM493.6 1597.3h5.5v3.6h-5.5zM493.6 1600.7h5.5v3.6h-5.5zM499.0 1611.1h5.5v3.6h-5.5zM504.3 1556.0h5.5v3.6h-5.5zM504.3 1580.1h5.5v3.6h-5.5zM504.3 1587.0h5.5v3.6h-5.5zM509.6 1566.3h5.5v3.6h-5.5zM509.6 1580.1h5.5v3.6h-5.5zM509.6 1597.3h5.5v3.6h-5.5zM509.6 1604.2h5.5v3.6h-5.5zM509.6 1607.6h5.5v3.6h-5.5zM514.9 1573.2h5.5v3.6h-5.5zM514.9 1593.8h5.5v3.6h-5.5zM520.3 1580.1h5.5v3.6h-5.5zM520.3 1600.7h5.5v3.6h-5.5zM525.6 1566.3h5.5v3.6h-5.5zM525.6 1569.8h5.5v3.6h-5.5zM525.6 1576.6h5.5v3.6h-5.5zM525.6 1593.8h5.5v3.6h-5.5zM530.9 1593.8h5.5v3.6h-5.5zM530.9 1597.3h5.5v3.6h-5.5zM530.9 1600.7h5.5v3.6h-5.5zM530.9 1604.2h5.5v3.6h-5.5zM536.3 1573.2h5.5v3.6h-5.5zM536.3 1583.5h5.5v3.6h-5.5zM541.6 1600.7h5.5v3.6h-5.5zM546.9 1580.1h5.5v3.6h-5.5zM546.9 1583.5h5.5v3.6h-5.5zM552.2 1576.6h5.5v3.6h-5.5z" fill="#30b0e8"/><path d="M451.0 1566.3h5.5v3.6h-5.5zM451.0 1569.8h5.5v3.6h-5.5zM451.0 1573.2h5.5v3.6h-5.5zM456.3 1569.8h5.5v3.6h-5.5zM461.7 1559.4h5.5v3.6h-5.5zM461.7 1583.5h5.5v3.6h-5.5zM467.0 1559.4h5.5v3.6h-5.5zM467.0 1562.9h5.5v3.6h-5.5zM467.0 1573.2h5.5v3.6h-5.5zM472.3 1562.9h5.5v3.6h-5.5zM472.3 1580.1h5.5v3.6h-5.5zM472.3 1604.2h5.5v3.6h-5.5zM477.6 1556.0h5.5v3.6h-5.5zM477.6 1580.1h5.5v3.6h-5.5zM477.6 1587.0h5.5v3.6h-5.5zM477.6 1593.8h5.5v3.6h-5.5zM477.6 1604.2h5.5v3.6h-5.5zM477.6 1607.6h5.5v3.6h-5.5zM483.0 1573.2h5.5v3.6h-5.5zM483.0 1576.6h5.5v3.6h-5.5zM483.0 1580.1h5.5v3.6h-5.5zM483.0 1607.6h5.5v3.6h-5.5zM488.3 1556.0h5.5v3.6h-5.5zM488.3 1562.9h5.5v3.6h-5.5zM488.3 1569.8h5.5v3.6h-5.5zM488.3 1583.5h5.5v3.6h-5.5zM488.3 1587.0h5.5v3.6h-5.5zM488.3 1597.3h5.5v3.6h-5.5zM488.3 1604.2h5.5v3.6h-5.5zM493.6 1559.4h5.5v3.6h-5.5zM493.6 1562.9h5.5v3.6h-5.5zM493.6 1569.8h5.5v3.6h-5.5zM493.6 1573.2h5.5v3.6h-5.5zM493.6 1580.1h5.5v3.6h-5.5zM493.6 1587.0h5.5v3.6h-5.5zM493.6 1607.6h5.5v3.6h-5.5zM499.0 1556.0h5.5v3.6h-5.5zM499.0 1587.0h5.5v3.6h-5.5zM499.0 1600.7h5.5v3.6h-5.5zM499.0 1604.2h5.5v3.6h-5.5zM499.0 1607.6h5.5v3.6h-5.5zM504.3 1559.4h5.5v3.6h-5.5zM504.3 1562.9h5.5v3.6h-5.5zM504.3 1569.8h5.5v3.6h-5.5zM504.3 1597.3h5.5v3.6h-5.5zM509.6 1569.8h5.5v3.6h-5.5zM509.6 1583.5h5.5v3.6h-5.5zM509.6 1587.0h5.5v3.6h-5.5zM509.6 1593.8h5.5v3.6h-5.5zM514.9 1559.4h5.5v3.6h-5.5zM514.9 1566.3h5.5v3.6h-5.5zM514.9 1580.1h5.5v3.6h-5.5zM514.9 1587.0h5.5v3.6h-5.5zM514.9 1590.4h5.5v3.6h-5.5zM520.3 1569.8h5.5v3.6h-5.5zM520.3 1573.2h5.5v3.6h-5.5zM520.3 1576.6h5.5v3.6h-5.5zM520.3 1590.4h5.5v3.6h-5.5zM520.3 1597.3h5.5v3.6h-5.5zM525.6 1580.1h5.5v3.6h-5.5zM525.6 1590.4h5.5v3.6h-5.5zM525.6 1600.7h5.5v3.6h-5.5zM530.9 1566.3h5.5v3.6h-5.5zM530.9 1573.2h5.5v3.6h-5.5zM530.9 1576.6h5.5v3.6h-5.5zM530.9 1590.4h5.5v3.6h-5.5zM536.3 1569.8h5.5v3.6h-5.5zM536.3 1580.1h5.5v3.6h-5.5zM536.3 1590.4h5.5v3.6h-5.5zM536.3 1593.8h5.5v3.6h-5.5zM536.3 1600.7h5.5v3.6h-5.5zM541.6 1576.6h5.5v3.6h-5.5zM541.6 1597.3h5.5v3.6h-5.5zM546.9 1587.0h5.5v3.6h-5.5zM546.9 1590.4h5.5v3.6h-5.5zM546.9 1593.8h5.5v3.6h-5.5zM546.9 1597.3h5.5v3.6h-5.5zM546.9 1600.7h5.5v3.6h-5.5zM552.2 1583.5h5.5v3.6h-5.5z" fill="#3a6ad0"/><path d="M456.3 1562.9h5.5v3.6h-5.5zM456.3 1583.5h5.5v3.6h-5.5zM456.3 1587.0h5.5v3.6h-5.5zM456.3 1590.4h5.5v3.6h-5.5zM461.7 1576.6h5.5v3.6h-5.5zM461.7 1587.0h5.5v3.6h-5.5zM461.7 1590.4h5.5v3.6h-5.5zM461.7 1597.3h5.5v3.6h-5.5zM467.0 1583.5h5.5v3.6h-5.5zM467.0 1600.7h5.5v3.6h-5.5zM472.3 1552.6h5.5v3.6h-5.5zM472.3 1569.8h5.5v3.6h-5.5zM477.6 1552.6h5.5v3.6h-5.5zM477.6 1562.9h5.5v3.6h-5.5zM477.6 1569.8h5.5v3.6h-5.5zM477.6 1590.4h5.5v3.6h-5.5zM477.6 1597.3h5.5v3.6h-5.5zM483.0 1593.8h5.5v3.6h-5.5zM488.3 1549.1h5.5v3.6h-5.5zM488.3 1559.4h5.5v3.6h-5.5zM488.3 1590.4h5.5v3.6h-5.5zM493.6 1552.6h5.5v3.6h-5.5zM493.6 1566.3h5.5v3.6h-5.5zM499.0 1562.9h5.5v3.6h-5.5zM499.0 1583.5h5.5v3.6h-5.5zM499.0 1597.3h5.5v3.6h-5.5zM504.3 1576.6h5.5v3.6h-5.5zM504.3 1590.4h5.5v3.6h-5.5zM509.6 1562.9h5.5v3.6h-5.5zM509.6 1590.4h5.5v3.6h-5.5zM514.9 1562.9h5.5v3.6h-5.5zM514.9 1569.8h5.5v3.6h-5.5zM514.9 1597.3h5.5v3.6h-5.5zM520.3 1562.9h5.5v3.6h-5.5zM525.6 1587.0h5.5v3.6h-5.5zM530.9 1569.8h5.5v3.6h-5.5zM530.9 1583.5h5.5v3.6h-5.5zM530.9 1587.0h5.5v3.6h-5.5zM536.3 1597.3h5.5v3.6h-5.5zM541.6 1580.1h5.5v3.6h-5.5zM552.2 1590.4h5.5v3.6h-5.5zM552.2 1593.8h5.5v3.6h-5.5zM552.2 1597.3h5.5v3.6h-5.5z" fill="#ffffff"/><path d="M499.0 1573.2h5.5v3.6h-5.5zM504.3 1583.5h5.5v3.6h-5.5zM509.6 1580.1h5.5v3.6h-5.5zM509.6 1590.4h5.5v3.6h-5.5zM514.9 1573.2h5.5v3.6h-5.5zM514.9 1587.0h5.5v3.6h-5.5zM514.9 1597.3h5.5v3.6h-5.5zM520.3 1573.2h5.5v3.6h-5.5zM520.3 1597.3h5.5v3.6h-5.5zM525.6 1583.5h5.5v3.6h-5.5zM525.6 1590.4h5.5v3.6h-5.5zM530.9 1573.2h5.5v3.6h-5.5zM530.9 1580.1h5.5v3.6h-5.5zM530.9 1593.8h5.5v3.6h-5.5zM530.9 1600.7h5.5v3.6h-5.5zM536.3 1573.2h5.5v3.6h-5.5zM536.3 1587.0h5.5v3.6h-5.5zM536.3 1590.4h5.5v3.6h-5.5zM541.6 1573.2h5.5v3.6h-5.5zM541.6 1580.1h5.5v3.6h-5.5zM541.6 1587.0h5.5v3.6h-5.5zM546.9 1593.8h5.5v3.6h-5.5zM546.9 1597.3h5.5v3.6h-5.5z" fill="#30b0e8"/><path d="M504.3 1573.2h5.5v3.6h-5.5zM504.3 1580.1h5.5v3.6h-5.5zM509.6 1576.6h5.5v3.6h-5.5zM509.6 1583.5h5.5v3.6h-5.5zM509.6 1587.0h5.5v3.6h-5.5zM514.9 1576.6h5.5v3.6h-5.5zM514.9 1583.5h5.5v3.6h-5.5zM514.9 1590.4h5.5v3.6h-5.5zM514.9 1593.8h5.5v3.6h-5.5zM514.9 1600.7h5.5v3.6h-5.5zM514.9 1604.2h5.5v3.6h-5.5zM520.3 1576.6h5.5v3.6h-5.5zM520.3 1580.1h5.5v3.6h-5.5zM520.3 1583.5h5.5v3.6h-5.5zM520.3 1587.0h5.5v3.6h-5.5zM520.3 1590.4h5.5v3.6h-5.5zM520.3 1593.8h5.5v3.6h-5.5zM520.3 1600.7h5.5v3.6h-5.5zM520.3 1604.2h5.5v3.6h-5.5zM520.3 1607.6h5.5v3.6h-5.5zM525.6 1569.8h5.5v3.6h-5.5zM525.6 1573.2h5.5v3.6h-5.5zM525.6 1580.1h5.5v3.6h-5.5zM525.6 1587.0h5.5v3.6h-5.5zM525.6 1593.8h5.5v3.6h-5.5zM525.6 1597.3h5.5v3.6h-5.5zM525.6 1604.2h5.5v3.6h-5.5zM530.9 1569.8h5.5v3.6h-5.5zM530.9 1576.6h5.5v3.6h-5.5zM530.9 1604.2h5.5v3.6h-5.5zM536.3 1576.6h5.5v3.6h-5.5zM536.3 1600.7h5.5v3.6h-5.5zM536.3 1604.2h5.5v3.6h-5.5zM541.6 1576.6h5.5v3.6h-5.5zM541.6 1590.4h5.5v3.6h-5.5zM541.6 1597.3h5.5v3.6h-5.5zM541.6 1600.7h5.5v3.6h-5.5zM546.9 1576.6h5.5v3.6h-5.5zM546.9 1580.1h5.5v3.6h-5.5zM546.9 1583.5h5.5v3.6h-5.5zM546.9 1587.0h5.5v3.6h-5.5zM546.9 1590.4h5.5v3.6h-5.5zM546.9 1600.7h5.5v3.6h-5.5zM552.2 1576.6h5.5v3.6h-5.5zM552.2 1580.1h5.5v3.6h-5.5zM552.2 1587.0h5.5v3.6h-5.5zM552.2 1590.4h5.5v3.6h-5.5zM552.2 1593.8h5.5v3.6h-5.5zM552.2 1597.3h5.5v3.6h-5.5z" fill="#7cc4a4"/><path d="M504.3 1576.6h5.5v3.6h-5.5zM509.6 1573.2h5.5v3.6h-5.5zM509.6 1593.8h5.5v3.6h-5.5zM514.9 1580.1h5.5v3.6h-5.5zM520.3 1569.8h5.5v3.6h-5.5zM525.6 1576.6h5.5v3.6h-5.5zM525.6 1600.7h5.5v3.6h-5.5zM525.6 1607.6h5.5v3.6h-5.5zM530.9 1583.5h5.5v3.6h-5.5zM530.9 1587.0h5.5v3.6h-5.5zM530.9 1590.4h5.5v3.6h-5.5zM530.9 1597.3h5.5v3.6h-5.5zM536.3 1580.1h5.5v3.6h-5.5zM536.3 1583.5h5.5v3.6h-5.5zM536.3 1593.8h5.5v3.6h-5.5zM536.3 1597.3h5.5v3.6h-5.5zM541.6 1583.5h5.5v3.6h-5.5zM541.6 1593.8h5.5v3.6h-5.5zM552.2 1583.5h5.5v3.6h-5.5z" fill="#ffffff"/></g>
<rect x="420.0" y="1487.0" width="5.3" height="3.4" fill="#3b2085"/><rect x="436.0" y="1490.0" width="5.3" height="3.4" fill="#3b2085"/><rect x="447.0" y="1497.0" width="5.3" height="3.4" fill="#3b2085"/><rect x="465.0" y="1513.0" width="5.3" height="3.4" fill="#3b2085"/><rect x="470.0" y="1520.0" width="5.3" height="3.4" fill="#3b2085"/><rect x="480.0" y="1530.0" width="5.3" height="3.4" fill="#3b2085"/><rect x="500.0" y="1538.0" width="5.3" height="3.4" fill="#3b2085"/><rect x="510.0" y="1545.0" width="5.3" height="3.4" fill="#3b2085"/><rect x="520.0" y="1555.0" width="5.3" height="3.4" fill="#3b2085"/>
<g clip-path="url(#cm3)"><polygon points="200.0,1620.0 205.0,1611.0 221.7,1603.3 280.0,1603.3 280.0,1593.0 310.0,1591.7 343.0,1595.6 370.6,1599.7 398.0,1602.4 433.7,1610.7 472.0,1616.0 494.0,1613.0 503.0,1603.0 533.0,1593.0 550.0,1587.0 573.0,1597.0 590.0,1607.0 613.0,1615.0 637.0,1623.0 653.0,1630.0 673.0,1633.0 753.0,1633.0 760.0,1635.0 760.0,1639.0 707.0,1642.0 680.0,1650.0 657.0,1657.0 613.0,1663.0 600.0,1667.0 567.0,1670.0 557.0,1683.0 540.0,1690.0 523.0,1702.0 500.0,1713.0 480.0,1727.0 467.0,1740.0 447.0,1755.0 441.0,1762.0 434.5,1802.0 420.0,1826.7 414.5,1853.0 277.0,1853.0 280.0,1816.7 285.0,1773.3 286.7,1726.7 296.7,1686.7 301.7,1646.7 240.0,1645.0 226.7,1645.0 216.7,1638.3 216.7,1630.0 200.0,1625.0" fill="#8cc068"/><polygon points="240.0,1590.0 300.0,1590.0 300.0,1860.0 270.0,1860.0 270.0,1650.0 240.0,1650.0" fill="#7cc4a4"/><path d="M275.2 1648.9h5.5v3.6h-5.5zM275.2 1673.0h5.5v3.6h-5.5zM275.2 1686.7h5.5v3.6h-5.5zM275.2 1690.2h5.5v3.6h-5.5zM275.2 1697.1h5.5v3.6h-5.5zM275.2 1710.8h5.5v3.6h-5.5zM275.2 1714.3h5.5v3.6h-5.5zM275.2 1717.7h5.5v3.6h-5.5zM275.2 1721.2h5.5v3.6h-5.5zM275.2 1748.7h5.5v3.6h-5.5zM275.2 1779.6h5.5v3.6h-5.5zM275.2 1786.5h5.5v3.6h-5.5zM275.2 1790.0h5.5v3.6h-5.5zM275.2 1796.8h5.5v3.6h-5.5zM275.2 1803.7h5.5v3.6h-5.5zM275.2 1810.6h5.5v3.6h-5.5zM280.5 1648.9h5.5v3.6h-5.5zM280.5 1652.3h5.5v3.6h-5.5zM280.5 1673.0h5.5v3.6h-5.5zM280.5 1741.8h5.5v3.6h-5.5zM280.5 1790.0h5.5v3.6h-5.5zM280.5 1793.4h5.5v3.6h-5.5zM280.5 1796.8h5.5v3.6h-5.5zM280.5 1807.2h5.5v3.6h-5.5zM280.5 1827.8h5.5v3.6h-5.5zM285.8 1655.8h5.5v3.6h-5.5zM285.8 1679.9h5.5v3.6h-5.5zM285.8 1700.5h5.5v3.6h-5.5zM285.8 1710.8h5.5v3.6h-5.5zM285.8 1714.3h5.5v3.6h-5.5zM285.8 1721.2h5.5v3.6h-5.5zM285.8 1728.0h5.5v3.6h-5.5zM285.8 1731.5h5.5v3.6h-5.5zM285.8 1772.8h5.5v3.6h-5.5zM285.8 1807.2h5.5v3.6h-5.5zM285.8 1817.5h5.5v3.6h-5.5zM285.8 1820.9h5.5v3.6h-5.5zM285.8 1827.8h5.5v3.6h-5.5zM285.8 1851.9h5.5v3.6h-5.5zM285.8 1855.3h5.5v3.6h-5.5zM291.2 1669.5h5.5v3.6h-5.5zM291.2 1683.3h5.5v3.6h-5.5zM291.2 1704.0h5.5v3.6h-5.5zM291.2 1731.5h5.5v3.6h-5.5zM291.2 1752.1h5.5v3.6h-5.5zM291.2 1755.6h5.5v3.6h-5.5zM291.2 1803.7h5.5v3.6h-5.5zM291.2 1827.8h5.5v3.6h-5.5zM291.2 1845.0h5.5v3.6h-5.5zM291.2 1851.9h5.5v3.6h-5.5zM296.5 1676.4h5.5v3.6h-5.5zM296.5 1686.7h5.5v3.6h-5.5zM296.5 1697.1h5.5v3.6h-5.5zM296.5 1704.0h5.5v3.6h-5.5zM296.5 1728.0h5.5v3.6h-5.5zM296.5 1738.4h5.5v3.6h-5.5zM296.5 1741.8h5.5v3.6h-5.5zM296.5 1765.9h5.5v3.6h-5.5zM296.5 1786.5h5.5v3.6h-5.5zM296.5 1807.2h5.5v3.6h-5.5zM296.5 1827.8h5.5v3.6h-5.5zM296.5 1838.1h5.5v3.6h-5.5zM296.5 1851.9h5.5v3.6h-5.5zM301.8 1655.8h5.5v3.6h-5.5zM301.8 1659.2h5.5v3.6h-5.5zM301.8 1693.6h5.5v3.6h-5.5zM301.8 1724.6h5.5v3.6h-5.5zM301.8 1748.7h5.5v3.6h-5.5zM301.8 1762.4h5.5v3.6h-5.5zM307.1 1655.8h5.5v3.6h-5.5zM307.1 1669.5h5.5v3.6h-5.5zM307.1 1673.0h5.5v3.6h-5.5zM307.1 1686.7h5.5v3.6h-5.5zM307.1 1697.1h5.5v3.6h-5.5zM307.1 1700.5h5.5v3.6h-5.5zM307.1 1724.6h5.5v3.6h-5.5zM307.1 1759.0h5.5v3.6h-5.5zM307.1 1786.5h5.5v3.6h-5.5zM307.1 1796.8h5.5v3.6h-5.5zM307.1 1817.5h5.5v3.6h-5.5zM307.1 1845.0h5.5v3.6h-5.5zM307.1 1848.5h5.5v3.6h-5.5zM307.1 1855.3h5.5v3.6h-5.5z" fill="#3a6ad0"/><path d="M275.2 1652.3h5.5v3.6h-5.5zM275.2 1679.9h5.5v3.6h-5.5zM275.2 1683.3h5.5v3.6h-5.5zM275.2 1693.6h5.5v3.6h-5.5zM275.2 1755.6h5.5v3.6h-5.5zM275.2 1762.4h5.5v3.6h-5.5zM275.2 1769.3h5.5v3.6h-5.5zM275.2 1772.8h5.5v3.6h-5.5zM275.2 1776.2h5.5v3.6h-5.5zM275.2 1783.1h5.5v3.6h-5.5zM275.2 1824.4h5.5v3.6h-5.5zM275.2 1838.1h5.5v3.6h-5.5zM275.2 1845.0h5.5v3.6h-5.5zM280.5 1710.8h5.5v3.6h-5.5zM280.5 1717.7h5.5v3.6h-5.5zM280.5 1721.2h5.5v3.6h-5.5zM280.5 1738.4h5.5v3.6h-5.5zM280.5 1745.2h5.5v3.6h-5.5zM280.5 1748.7h5.5v3.6h-5.5zM280.5 1755.6h5.5v3.6h-5.5zM280.5 1769.3h5.5v3.6h-5.5zM280.5 1783.1h5.5v3.6h-5.5zM280.5 1786.5h5.5v3.6h-5.5zM280.5 1817.5h5.5v3.6h-5.5zM280.5 1820.9h5.5v3.6h-5.5zM280.5 1834.7h5.5v3.6h-5.5zM280.5 1848.5h5.5v3.6h-5.5zM285.8 1652.3h5.5v3.6h-5.5zM285.8 1704.0h5.5v3.6h-5.5zM285.8 1707.4h5.5v3.6h-5.5zM285.8 1752.1h5.5v3.6h-5.5zM285.8 1762.4h5.5v3.6h-5.5zM285.8 1765.9h5.5v3.6h-5.5zM285.8 1783.1h5.5v3.6h-5.5zM285.8 1786.5h5.5v3.6h-5.5zM285.8 1814.0h5.5v3.6h-5.5zM285.8 1848.5h5.5v3.6h-5.5zM291.2 1648.9h5.5v3.6h-5.5zM291.2 1714.3h5.5v3.6h-5.5zM291.2 1724.6h5.5v3.6h-5.5zM291.2 1741.8h5.5v3.6h-5.5zM291.2 1769.3h5.5v3.6h-5.5zM291.2 1790.0h5.5v3.6h-5.5zM291.2 1807.2h5.5v3.6h-5.5zM291.2 1810.6h5.5v3.6h-5.5zM291.2 1814.0h5.5v3.6h-5.5zM291.2 1834.7h5.5v3.6h-5.5zM291.2 1841.6h5.5v3.6h-5.5zM291.2 1848.5h5.5v3.6h-5.5zM296.5 1652.3h5.5v3.6h-5.5zM296.5 1679.9h5.5v3.6h-5.5zM296.5 1683.3h5.5v3.6h-5.5zM296.5 1724.6h5.5v3.6h-5.5zM296.5 1755.6h5.5v3.6h-5.5zM296.5 1769.3h5.5v3.6h-5.5zM296.5 1783.1h5.5v3.6h-5.5zM296.5 1790.0h5.5v3.6h-5.5zM296.5 1793.4h5.5v3.6h-5.5zM296.5 1810.6h5.5v3.6h-5.5zM296.5 1824.4h5.5v3.6h-5.5zM301.8 1662.7h5.5v3.6h-5.5zM301.8 1669.5h5.5v3.6h-5.5zM301.8 1676.4h5.5v3.6h-5.5zM301.8 1679.9h5.5v3.6h-5.5zM301.8 1690.2h5.5v3.6h-5.5zM301.8 1710.8h5.5v3.6h-5.5zM301.8 1714.3h5.5v3.6h-5.5zM301.8 1734.9h5.5v3.6h-5.5zM301.8 1755.6h5.5v3.6h-5.5zM301.8 1759.0h5.5v3.6h-5.5zM301.8 1776.2h5.5v3.6h-5.5zM301.8 1779.6h5.5v3.6h-5.5zM301.8 1810.6h5.5v3.6h-5.5zM301.8 1817.5h5.5v3.6h-5.5zM301.8 1831.3h5.5v3.6h-5.5zM307.1 1659.2h5.5v3.6h-5.5zM307.1 1683.3h5.5v3.6h-5.5zM307.1 1690.2h5.5v3.6h-5.5zM307.1 1721.2h5.5v3.6h-5.5zM307.1 1741.8h5.5v3.6h-5.5zM307.1 1748.7h5.5v3.6h-5.5zM307.1 1772.8h5.5v3.6h-5.5zM307.1 1793.4h5.5v3.6h-5.5zM307.1 1831.3h5.5v3.6h-5.5zM307.1 1834.7h5.5v3.6h-5.5zM307.1 1838.1h5.5v3.6h-5.5z" fill="#30b0e8"/><path d="M275.2 1655.8h5.5v3.6h-5.5zM275.2 1659.2h5.5v3.6h-5.5zM275.2 1662.7h5.5v3.6h-5.5zM275.2 1666.1h5.5v3.6h-5.5zM275.2 1676.4h5.5v3.6h-5.5zM275.2 1707.4h5.5v3.6h-5.5zM275.2 1724.6h5.5v3.6h-5.5zM275.2 1741.8h5.5v3.6h-5.5zM275.2 1759.0h5.5v3.6h-5.5zM275.2 1765.9h5.5v3.6h-5.5zM275.2 1800.3h5.5v3.6h-5.5zM275.2 1807.2h5.5v3.6h-5.5zM275.2 1820.9h5.5v3.6h-5.5zM275.2 1851.9h5.5v3.6h-5.5zM280.5 1655.8h5.5v3.6h-5.5zM280.5 1662.7h5.5v3.6h-5.5zM280.5 1676.4h5.5v3.6h-5.5zM280.5 1679.9h5.5v3.6h-5.5zM280.5 1686.7h5.5v3.6h-5.5zM280.5 1690.2h5.5v3.6h-5.5zM280.5 1693.6h5.5v3.6h-5.5zM280.5 1697.1h5.5v3.6h-5.5zM280.5 1704.0h5.5v3.6h-5.5zM280.5 1724.6h5.5v3.6h-5.5zM280.5 1728.0h5.5v3.6h-5.5zM280.5 1731.5h5.5v3.6h-5.5zM280.5 1759.0h5.5v3.6h-5.5zM280.5 1772.8h5.5v3.6h-5.5zM280.5 1776.2h5.5v3.6h-5.5zM280.5 1779.6h5.5v3.6h-5.5zM280.5 1810.6h5.5v3.6h-5.5zM280.5 1814.0h5.5v3.6h-5.5zM280.5 1831.3h5.5v3.6h-5.5zM280.5 1838.1h5.5v3.6h-5.5zM280.5 1851.9h5.5v3.6h-5.5zM285.8 1662.7h5.5v3.6h-5.5zM285.8 1666.1h5.5v3.6h-5.5zM285.8 1669.5h5.5v3.6h-5.5zM285.8 1676.4h5.5v3.6h-5.5zM285.8 1693.6h5.5v3.6h-5.5zM285.8 1717.7h5.5v3.6h-5.5zM285.8 1724.6h5.5v3.6h-5.5zM285.8 1776.2h5.5v3.6h-5.5zM285.8 1790.0h5.5v3.6h-5.5zM285.8 1793.4h5.5v3.6h-5.5zM285.8 1796.8h5.5v3.6h-5.5zM285.8 1803.7h5.5v3.6h-5.5zM285.8 1810.6h5.5v3.6h-5.5zM285.8 1824.4h5.5v3.6h-5.5zM285.8 1834.7h5.5v3.6h-5.5zM285.8 1841.6h5.5v3.6h-5.5zM291.2 1652.3h5.5v3.6h-5.5zM291.2 1655.8h5.5v3.6h-5.5zM291.2 1659.2h5.5v3.6h-5.5zM291.2 1662.7h5.5v3.6h-5.5zM291.2 1676.4h5.5v3.6h-5.5zM291.2 1679.9h5.5v3.6h-5.5zM291.2 1690.2h5.5v3.6h-5.5zM291.2 1697.1h5.5v3.6h-5.5zM291.2 1700.5h5.5v3.6h-5.5zM291.2 1707.4h5.5v3.6h-5.5zM291.2 1762.4h5.5v3.6h-5.5zM291.2 1779.6h5.5v3.6h-5.5zM291.2 1786.5h5.5v3.6h-5.5zM291.2 1796.8h5.5v3.6h-5.5zM291.2 1824.4h5.5v3.6h-5.5zM291.2 1831.3h5.5v3.6h-5.5zM291.2 1855.3h5.5v3.6h-5.5zM296.5 1648.9h5.5v3.6h-5.5zM296.5 1659.2h5.5v3.6h-5.5zM296.5 1662.7h5.5v3.6h-5.5zM296.5 1666.1h5.5v3.6h-5.5zM296.5 1669.5h5.5v3.6h-5.5zM296.5 1673.0h5.5v3.6h-5.5zM296.5 1690.2h5.5v3.6h-5.5zM296.5 1693.6h5.5v3.6h-5.5zM296.5 1707.4h5.5v3.6h-5.5zM296.5 1710.8h5.5v3.6h-5.5zM296.5 1717.7h5.5v3.6h-5.5zM296.5 1721.2h5.5v3.6h-5.5zM296.5 1731.5h5.5v3.6h-5.5zM296.5 1752.1h5.5v3.6h-5.5zM296.5 1759.0h5.5v3.6h-5.5zM296.5 1762.4h5.5v3.6h-5.5zM296.5 1800.3h5.5v3.6h-5.5zM296.5 1803.7h5.5v3.6h-5.5zM296.5 1814.0h5.5v3.6h-5.5zM296.5 1820.9h5.5v3.6h-5.5zM296.5 1831.3h5.5v3.6h-5.5zM296.5 1834.7h5.5v3.6h-5.5zM296.5 1841.6h5.5v3.6h-5.5zM296.5 1845.0h5.5v3.6h-5.5zM301.8 1648.9h5.5v3.6h-5.5zM301.8 1652.3h5.5v3.6h-5.5zM301.8 1666.1h5.5v3.6h-5.5zM301.8 1673.0h5.5v3.6h-5.5zM301.8 1683.3h5.5v3.6h-5.5zM301.8 1686.7h5.5v3.6h-5.5zM301.8 1697.1h5.5v3.6h-5.5zM301.8 1717.7h5.5v3.6h-5.5zM301.8 1721.2h5.5v3.6h-5.5zM301.8 1728.0h5.5v3.6h-5.5zM301.8 1731.5h5.5v3.6h-5.5zM301.8 1745.2h5.5v3.6h-5.5zM301.8 1752.1h5.5v3.6h-5.5zM301.8 1772.8h5.5v3.6h-5.5zM301.8 1783.1h5.5v3.6h-5.5zM301.8 1786.5h5.5v3.6h-5.5zM301.8 1807.2h5.5v3.6h-5.5zM301.8 1814.0h5.5v3.6h-5.5zM301.8 1820.9h5.5v3.6h-5.5zM301.8 1824.4h5.5v3.6h-5.5zM301.8 1827.8h5.5v3.6h-5.5zM301.8 1834.7h5.5v3.6h-5.5zM301.8 1838.1h5.5v3.6h-5.5zM301.8 1848.5h5.5v3.6h-5.5zM301.8 1851.9h5.5v3.6h-5.5zM301.8 1855.3h5.5v3.6h-5.5zM307.1 1648.9h5.5v3.6h-5.5zM307.1 1652.3h5.5v3.6h-5.5zM307.1 1666.1h5.5v3.6h-5.5zM307.1 1676.4h5.5v3.6h-5.5zM307.1 1710.8h5.5v3.6h-5.5zM307.1 1717.7h5.5v3.6h-5.5zM307.1 1734.9h5.5v3.6h-5.5zM307.1 1769.3h5.5v3.6h-5.5zM307.1 1779.6h5.5v3.6h-5.5zM307.1 1803.7h5.5v3.6h-5.5zM307.1 1810.6h5.5v3.6h-5.5zM307.1 1814.0h5.5v3.6h-5.5zM307.1 1820.9h5.5v3.6h-5.5zM307.1 1827.8h5.5v3.6h-5.5zM307.1 1841.6h5.5v3.6h-5.5zM307.1 1851.9h5.5v3.6h-5.5z" fill="#ffffff"/><path d="M275.2 1669.5h5.5v3.6h-5.5zM275.2 1700.5h5.5v3.6h-5.5zM275.2 1704.0h5.5v3.6h-5.5zM275.2 1728.0h5.5v3.6h-5.5zM275.2 1731.5h5.5v3.6h-5.5zM275.2 1734.9h5.5v3.6h-5.5zM275.2 1738.4h5.5v3.6h-5.5zM275.2 1745.2h5.5v3.6h-5.5zM275.2 1752.1h5.5v3.6h-5.5zM275.2 1793.4h5.5v3.6h-5.5zM275.2 1814.0h5.5v3.6h-5.5zM275.2 1817.5h5.5v3.6h-5.5zM275.2 1827.8h5.5v3.6h-5.5zM275.2 1831.3h5.5v3.6h-5.5zM275.2 1834.7h5.5v3.6h-5.5zM275.2 1841.6h5.5v3.6h-5.5zM275.2 1848.5h5.5v3.6h-5.5zM275.2 1855.3h5.5v3.6h-5.5zM280.5 1659.2h5.5v3.6h-5.5zM280.5 1666.1h5.5v3.6h-5.5zM280.5 1669.5h5.5v3.6h-5.5zM280.5 1683.3h5.5v3.6h-5.5zM280.5 1700.5h5.5v3.6h-5.5zM280.5 1707.4h5.5v3.6h-5.5zM280.5 1714.3h5.5v3.6h-5.5zM280.5 1734.9h5.5v3.6h-5.5zM280.5 1752.1h5.5v3.6h-5.5zM280.5 1762.4h5.5v3.6h-5.5zM280.5 1765.9h5.5v3.6h-5.5zM280.5 1800.3h5.5v3.6h-5.5zM280.5 1803.7h5.5v3.6h-5.5zM280.5 1824.4h5.5v3.6h-5.5zM280.5 1841.6h5.5v3.6h-5.5zM280.5 1845.0h5.5v3.6h-5.5zM280.5 1855.3h5.5v3.6h-5.5zM285.8 1648.9h5.5v3.6h-5.5zM285.8 1659.2h5.5v3.6h-5.5zM285.8 1673.0h5.5v3.6h-5.5zM285.8 1683.3h5.5v3.6h-5.5zM285.8 1686.7h5.5v3.6h-5.5zM285.8 1690.2h5.5v3.6h-5.5zM285.8 1697.1h5.5v3.6h-5.5zM285.8 1734.9h5.5v3.6h-5.5zM285.8 1738.4h5.5v3.6h-5.5zM285.8 1741.8h5.5v3.6h-5.5zM285.8 1745.2h5.5v3.6h-5.5zM285.8 1748.7h5.5v3.6h-5.5zM285.8 1755.6h5.5v3.6h-5.5zM285.8 1759.0h5.5v3.6h-5.5zM285.8 1769.3h5.5v3.6h-5.5zM285.8 1779.6h5.5v3.6h-5.5zM285.8 1800.3h5.5v3.6h-5.5zM285.8 1831.3h5.5v3.6h-5.5zM285.8 1838.1h5.5v3.6h-5.5zM285.8 1845.0h5.5v3.6h-5.5zM291.2 1666.1h5.5v3.6h-5.5zM291.2 1673.0h5.5v3.6h-5.5zM291.2 1686.7h5.5v3.6h-5.5zM291.2 1693.6h5.5v3.6h-5.5zM291.2 1710.8h5.5v3.6h-5.5zM291.2 1717.7h5.5v3.6h-5.5zM291.2 1721.2h5.5v3.6h-5.5zM291.2 1728.0h5.5v3.6h-5.5zM291.2 1734.9h5.5v3.6h-5.5zM291.2 1738.4h5.5v3.6h-5.5zM291.2 1745.2h5.5v3.6h-5.5zM291.2 1748.7h5.5v3.6h-5.5zM291.2 1759.0h5.5v3.6h-5.5zM291.2 1765.9h5.5v3.6h-5.5zM291.2 1772.8h5.5v3.6h-5.5zM291.2 1776.2h5.5v3.6h-5.5zM291.2 1783.1h5.5v3.6h-5.5zM291.2 1793.4h5.5v3.6h-5.5zM291.2 1800.3h5.5v3.6h-5.5zM291.2 1817.5h5.5v3.6h-5.5zM291.2 1820.9h5.5v3.6h-5.5zM291.2 1838.1h5.5v3.6h-5.5zM296.5 1655.8h5.5v3.6h-5.5zM296.5 1700.5h5.5v3.6h-5.5zM296.5 1714.3h5.5v3.6h-5.5zM296.5 1734.9h5.5v3.6h-5.5zM296.5 1745.2h5.5v3.6h-5.5zM296.5 1748.7h5.5v3.6h-5.5zM296.5 1772.8h5.5v3.6h-5.5zM296.5 1776.2h5.5v3.6h-5.5zM296.5 1779.6h5.5v3.6h-5.5zM296.5 1796.8h5.5v3.6h-5.5zM296.5 1817.5h5.5v3.6h-5.5zM296.5 1848.5h5.5v3.6h-5.5zM296.5 1855.3h5.5v3.6h-5.5zM301.8 1700.5h5.5v3.6h-5.5zM301.8 1704.0h5.5v3.6h-5.5zM301.8 1707.4h5.5v3.6h-5.5zM301.8 1738.4h5.5v3.6h-5.5zM301.8 1741.8h5.5v3.6h-5.5zM301.8 1765.9h5.5v3.6h-5.5zM301.8 1769.3h5.5v3.6h-5.5zM301.8 1790.0h5.5v3.6h-5.5zM301.8 1793.4h5.5v3.6h-5.5zM301.8 1796.8h5.5v3.6h-5.5zM301.8 1800.3h5.5v3.6h-5.5zM301.8 1803.7h5.5v3.6h-5.5zM301.8 1841.6h5.5v3.6h-5.5zM301.8 1845.0h5.5v3.6h-5.5zM307.1 1662.7h5.5v3.6h-5.5zM307.1 1679.9h5.5v3.6h-5.5zM307.1 1693.6h5.5v3.6h-5.5zM307.1 1704.0h5.5v3.6h-5.5zM307.1 1707.4h5.5v3.6h-5.5zM307.1 1714.3h5.5v3.6h-5.5zM307.1 1728.0h5.5v3.6h-5.5zM307.1 1731.5h5.5v3.6h-5.5zM307.1 1738.4h5.5v3.6h-5.5zM307.1 1745.2h5.5v3.6h-5.5zM307.1 1752.1h5.5v3.6h-5.5zM307.1 1755.6h5.5v3.6h-5.5zM307.1 1762.4h5.5v3.6h-5.5zM307.1 1765.9h5.5v3.6h-5.5zM307.1 1776.2h5.5v3.6h-5.5zM307.1 1783.1h5.5v3.6h-5.5zM307.1 1790.0h5.5v3.6h-5.5zM307.1 1800.3h5.5v3.6h-5.5zM307.1 1807.2h5.5v3.6h-5.5zM307.1 1824.4h5.5v3.6h-5.5z" fill="#3b2085"/><path d="M312.5 1659.2h5.5v3.6h-5.5zM312.5 1669.5h5.5v3.6h-5.5zM312.5 1673.0h5.5v3.6h-5.5zM312.5 1676.4h5.5v3.6h-5.5zM312.5 1693.6h5.5v3.6h-5.5zM312.5 1697.1h5.5v3.6h-5.5zM312.5 1721.2h5.5v3.6h-5.5zM312.5 1728.0h5.5v3.6h-5.5zM312.5 1734.9h5.5v3.6h-5.5zM312.5 1755.6h5.5v3.6h-5.5zM312.5 1779.6h5.5v3.6h-5.5zM312.5 1783.1h5.5v3.6h-5.5zM312.5 1790.0h5.5v3.6h-5.5zM312.5 1810.6h5.5v3.6h-5.5zM312.5 1831.3h5.5v3.6h-5.5zM312.5 1841.6h5.5v3.6h-5.5zM312.5 1845.0h5.5v3.6h-5.5zM317.8 1666.1h5.5v3.6h-5.5zM317.8 1673.0h5.5v3.6h-5.5zM317.8 1686.7h5.5v3.6h-5.5zM317.8 1693.6h5.5v3.6h-5.5zM317.8 1697.1h5.5v3.6h-5.5zM317.8 1717.7h5.5v3.6h-5.5zM317.8 1724.6h5.5v3.6h-5.5zM317.8 1738.4h5.5v3.6h-5.5zM317.8 1741.8h5.5v3.6h-5.5zM317.8 1769.3h5.5v3.6h-5.5zM317.8 1772.8h5.5v3.6h-5.5zM317.8 1779.6h5.5v3.6h-5.5zM317.8 1824.4h5.5v3.6h-5.5zM317.8 1827.8h5.5v3.6h-5.5zM317.8 1841.6h5.5v3.6h-5.5zM323.1 1673.0h5.5v3.6h-5.5zM323.1 1676.4h5.5v3.6h-5.5zM323.1 1683.3h5.5v3.6h-5.5zM323.1 1690.2h5.5v3.6h-5.5zM323.1 1693.6h5.5v3.6h-5.5zM323.1 1697.1h5.5v3.6h-5.5zM323.1 1707.4h5.5v3.6h-5.5zM323.1 1721.2h5.5v3.6h-5.5zM323.1 1724.6h5.5v3.6h-5.5zM323.1 1731.5h5.5v3.6h-5.5zM323.1 1734.9h5.5v3.6h-5.5zM323.1 1748.7h5.5v3.6h-5.5zM323.1 1755.6h5.5v3.6h-5.5zM323.1 1772.8h5.5v3.6h-5.5zM323.1 1790.0h5.5v3.6h-5.5zM323.1 1803.7h5.5v3.6h-5.5zM323.1 1807.2h5.5v3.6h-5.5zM323.1 1817.5h5.5v3.6h-5.5zM323.1 1820.9h5.5v3.6h-5.5zM323.1 1834.7h5.5v3.6h-5.5zM328.5 1659.2h5.5v3.6h-5.5zM328.5 1676.4h5.5v3.6h-5.5zM328.5 1704.0h5.5v3.6h-5.5zM328.5 1717.7h5.5v3.6h-5.5zM328.5 1728.0h5.5v3.6h-5.5zM328.5 1734.9h5.5v3.6h-5.5zM328.5 1762.4h5.5v3.6h-5.5zM328.5 1790.0h5.5v3.6h-5.5zM328.5 1817.5h5.5v3.6h-5.5zM328.5 1820.9h5.5v3.6h-5.5zM328.5 1838.1h5.5v3.6h-5.5zM328.5 1845.0h5.5v3.6h-5.5z" fill="#30b0e8"/><path d="M312.5 1662.7h5.5v3.6h-5.5zM312.5 1686.7h5.5v3.6h-5.5zM312.5 1714.3h5.5v3.6h-5.5zM312.5 1772.8h5.5v3.6h-5.5zM312.5 1814.0h5.5v3.6h-5.5zM317.8 1659.2h5.5v3.6h-5.5zM317.8 1676.4h5.5v3.6h-5.5zM317.8 1721.2h5.5v3.6h-5.5zM317.8 1734.9h5.5v3.6h-5.5zM317.8 1745.2h5.5v3.6h-5.5zM317.8 1748.7h5.5v3.6h-5.5zM317.8 1752.1h5.5v3.6h-5.5zM317.8 1776.2h5.5v3.6h-5.5zM317.8 1790.0h5.5v3.6h-5.5zM317.8 1793.4h5.5v3.6h-5.5zM317.8 1800.3h5.5v3.6h-5.5zM317.8 1807.2h5.5v3.6h-5.5zM317.8 1810.6h5.5v3.6h-5.5zM317.8 1814.0h5.5v3.6h-5.5zM317.8 1817.5h5.5v3.6h-5.5zM323.1 1666.1h5.5v3.6h-5.5zM323.1 1710.8h5.5v3.6h-5.5zM323.1 1714.3h5.5v3.6h-5.5zM323.1 1728.0h5.5v3.6h-5.5zM323.1 1741.8h5.5v3.6h-5.5zM323.1 1759.0h5.5v3.6h-5.5zM323.1 1776.2h5.5v3.6h-5.5zM323.1 1793.4h5.5v3.6h-5.5zM323.1 1810.6h5.5v3.6h-5.5zM323.1 1814.0h5.5v3.6h-5.5zM323.1 1824.4h5.5v3.6h-5.5zM328.5 1679.9h5.5v3.6h-5.5zM328.5 1690.2h5.5v3.6h-5.5zM328.5 1693.6h5.5v3.6h-5.5zM328.5 1697.1h5.5v3.6h-5.5zM328.5 1700.5h5.5v3.6h-5.5zM328.5 1738.4h5.5v3.6h-5.5zM328.5 1741.8h5.5v3.6h-5.5zM328.5 1752.1h5.5v3.6h-5.5zM328.5 1759.0h5.5v3.6h-5.5zM328.5 1765.9h5.5v3.6h-5.5zM328.5 1769.3h5.5v3.6h-5.5zM328.5 1772.8h5.5v3.6h-5.5zM328.5 1803.7h5.5v3.6h-5.5zM328.5 1824.4h5.5v3.6h-5.5zM328.5 1827.8h5.5v3.6h-5.5zM328.5 1834.7h5.5v3.6h-5.5z" fill="#8cc068"/><path d="M312.5 1666.1h5.5v3.6h-5.5zM312.5 1679.9h5.5v3.6h-5.5zM312.5 1683.3h5.5v3.6h-5.5zM312.5 1690.2h5.5v3.6h-5.5zM312.5 1700.5h5.5v3.6h-5.5zM312.5 1704.0h5.5v3.6h-5.5zM312.5 1707.4h5.5v3.6h-5.5zM312.5 1710.8h5.5v3.6h-5.5zM312.5 1717.7h5.5v3.6h-5.5zM312.5 1724.6h5.5v3.6h-5.5zM312.5 1731.5h5.5v3.6h-5.5zM312.5 1738.4h5.5v3.6h-5.5zM312.5 1741.8h5.5v3.6h-5.5zM312.5 1745.2h5.5v3.6h-5.5zM312.5 1748.7h5.5v3.6h-5.5zM312.5 1752.1h5.5v3.6h-5.5zM312.5 1759.0h5.5v3.6h-5.5zM312.5 1762.4h5.5v3.6h-5.5zM312.5 1765.9h5.5v3.6h-5.5zM312.5 1769.3h5.5v3.6h-5.5zM312.5 1776.2h5.5v3.6h-5.5zM312.5 1786.5h5.5v3.6h-5.5zM312.5 1793.4h5.5v3.6h-5.5zM312.5 1796.8h5.5v3.6h-5.5zM312.5 1800.3h5.5v3.6h-5.5zM312.5 1803.7h5.5v3.6h-5.5zM312.5 1807.2h5.5v3.6h-5.5zM312.5 1817.5h5.5v3.6h-5.5zM312.5 1820.9h5.5v3.6h-5.5zM312.5 1824.4h5.5v3.6h-5.5zM312.5 1827.8h5.5v3.6h-5.5zM312.5 1834.7h5.5v3.6h-5.5zM312.5 1838.1h5.5v3.6h-5.5zM317.8 1662.7h5.5v3.6h-5.5zM317.8 1669.5h5.5v3.6h-5.5zM317.8 1679.9h5.5v3.6h-5.5zM317.8 1683.3h5.5v3.6h-5.5zM317.8 1690.2h5.5v3.6h-5.5zM317.8 1700.5h5.5v3.6h-5.5zM317.8 1704.0h5.5v3.6h-5.5zM317.8 1707.4h5.5v3.6h-5.5zM317.8 1710.8h5.5v3.6h-5.5zM317.8 1714.3h5.5v3.6h-5.5zM317.8 1728.0h5.5v3.6h-5.5zM317.8 1731.5h5.5v3.6h-5.5zM317.8 1755.6h5.5v3.6h-5.5zM317.8 1759.0h5.5v3.6h-5.5zM317.8 1762.4h5.5v3.6h-5.5zM317.8 1765.9h5.5v3.6h-5.5zM317.8 1783.1h5.5v3.6h-5.5zM317.8 1786.5h5.5v3.6h-5.5zM317.8 1796.8h5.5v3.6h-5.5zM317.8 1803.7h5.5v3.6h-5.5zM317.8 1820.9h5.5v3.6h-5.5zM317.8 1831.3h5.5v3.6h-5.5zM317.8 1834.7h5.5v3.6h-5.5zM317.8 1838.1h5.5v3.6h-5.5zM317.8 1845.0h5.5v3.6h-5.5zM323.1 1659.2h5.5v3.6h-5.5zM323.1 1662.7h5.5v3.6h-5.5zM323.1 1669.5h5.5v3.6h-5.5zM323.1 1679.9h5.5v3.6h-5.5zM323.1 1686.7h5.5v3.6h-5.5zM323.1 1700.5h5.5v3.6h-5.5zM323.1 1704.0h5.5v3.6h-5.5zM323.1 1717.7h5.5v3.6h-5.5zM323.1 1738.4h5.5v3.6h-5.5zM323.1 1745.2h5.5v3.6h-5.5zM323.1 1752.1h5.5v3.6h-5.5zM323.1 1762.4h5.5v3.6h-5.5zM323.1 1765.9h5.5v3.6h-5.5zM323.1 1769.3h5.5v3.6h-5.5zM323.1 1779.6h5.5v3.6h-5.5zM323.1 1783.1h5.5v3.6h-5.5zM323.1 1786.5h5.5v3.6h-5.5zM323.1 1796.8h5.5v3.6h-5.5zM323.1 1800.3h5.5v3.6h-5.5zM323.1 1827.8h5.5v3.6h-5.5zM323.1 1831.3h5.5v3.6h-5.5zM323.1 1838.1h5.5v3.6h-5.5zM323.1 1841.6h5.5v3.6h-5.5zM323.1 1845.0h5.5v3.6h-5.5zM328.5 1662.7h5.5v3.6h-5.5zM328.5 1666.1h5.5v3.6h-5.5zM328.5 1669.5h5.5v3.6h-5.5zM328.5 1673.0h5.5v3.6h-5.5zM328.5 1683.3h5.5v3.6h-5.5zM328.5 1686.7h5.5v3.6h-5.5zM328.5 1707.4h5.5v3.6h-5.5zM328.5 1710.8h5.5v3.6h-5.5zM328.5 1714.3h5.5v3.6h-5.5zM328.5 1721.2h5.5v3.6h-5.5zM328.5 1724.6h5.5v3.6h-5.5zM328.5 1731.5h5.5v3.6h-5.5zM328.5 1745.2h5.5v3.6h-5.5zM328.5 1748.7h5.5v3.6h-5.5zM328.5 1755.6h5.5v3.6h-5.5zM328.5 1776.2h5.5v3.6h-5.5zM328.5 1779.6h5.5v3.6h-5.5zM328.5 1783.1h5.5v3.6h-5.5zM328.5 1786.5h5.5v3.6h-5.5zM328.5 1793.4h5.5v3.6h-5.5zM328.5 1796.8h5.5v3.6h-5.5zM328.5 1800.3h5.5v3.6h-5.5zM328.5 1807.2h5.5v3.6h-5.5zM328.5 1810.6h5.5v3.6h-5.5zM328.5 1814.0h5.5v3.6h-5.5zM328.5 1831.3h5.5v3.6h-5.5zM328.5 1841.6h5.5v3.6h-5.5z" fill="#7cc4a4"/><path d="M333.8 1690.2h5.5v3.6h-5.5zM333.8 1693.6h5.5v3.6h-5.5zM333.8 1697.1h5.5v3.6h-5.5zM333.8 1707.4h5.5v3.6h-5.5zM333.8 1710.8h5.5v3.6h-5.5zM333.8 1714.3h5.5v3.6h-5.5zM333.8 1721.2h5.5v3.6h-5.5zM333.8 1731.5h5.5v3.6h-5.5zM339.1 1693.6h5.5v3.6h-5.5zM339.1 1707.4h5.5v3.6h-5.5zM339.1 1710.8h5.5v3.6h-5.5zM339.1 1721.2h5.5v3.6h-5.5zM339.1 1728.0h5.5v3.6h-5.5zM339.1 1731.5h5.5v3.6h-5.5zM339.1 1734.9h5.5v3.6h-5.5zM339.1 1738.4h5.5v3.6h-5.5zM339.1 1745.2h5.5v3.6h-5.5zM344.4 1697.1h5.5v3.6h-5.5zM344.4 1704.0h5.5v3.6h-5.5zM344.4 1710.8h5.5v3.6h-5.5zM344.4 1724.6h5.5v3.6h-5.5zM344.4 1728.0h5.5v3.6h-5.5zM344.4 1734.9h5.5v3.6h-5.5zM344.4 1741.8h5.5v3.6h-5.5zM349.8 1700.5h5.5v3.6h-5.5zM349.8 1710.8h5.5v3.6h-5.5zM349.8 1717.7h5.5v3.6h-5.5zM349.8 1721.2h5.5v3.6h-5.5zM349.8 1731.5h5.5v3.6h-5.5zM349.8 1734.9h5.5v3.6h-5.5zM349.8 1738.4h5.5v3.6h-5.5zM355.1 1714.3h5.5v3.6h-5.5zM355.1 1724.6h5.5v3.6h-5.5zM355.1 1734.9h5.5v3.6h-5.5zM360.4 1704.0h5.5v3.6h-5.5zM360.4 1707.4h5.5v3.6h-5.5zM360.4 1738.4h5.5v3.6h-5.5zM360.4 1741.8h5.5v3.6h-5.5zM365.8 1707.4h5.5v3.6h-5.5zM365.8 1721.2h5.5v3.6h-5.5zM365.8 1731.5h5.5v3.6h-5.5zM365.8 1741.8h5.5v3.6h-5.5zM371.1 1693.6h5.5v3.6h-5.5zM371.1 1697.1h5.5v3.6h-5.5zM371.1 1734.9h5.5v3.6h-5.5zM371.1 1738.4h5.5v3.6h-5.5zM371.1 1741.8h5.5v3.6h-5.5zM371.1 1745.2h5.5v3.6h-5.5zM376.4 1693.6h5.5v3.6h-5.5zM376.4 1700.5h5.5v3.6h-5.5zM376.4 1724.6h5.5v3.6h-5.5zM376.4 1728.0h5.5v3.6h-5.5zM376.4 1738.4h5.5v3.6h-5.5zM381.7 1704.0h5.5v3.6h-5.5zM381.7 1707.4h5.5v3.6h-5.5zM381.7 1717.7h5.5v3.6h-5.5zM381.7 1721.2h5.5v3.6h-5.5zM381.7 1724.6h5.5v3.6h-5.5zM381.7 1731.5h5.5v3.6h-5.5zM381.7 1734.9h5.5v3.6h-5.5zM387.1 1690.2h5.5v3.6h-5.5zM387.1 1704.0h5.5v3.6h-5.5zM387.1 1707.4h5.5v3.6h-5.5zM387.1 1721.2h5.5v3.6h-5.5zM392.4 1693.6h5.5v3.6h-5.5zM392.4 1697.1h5.5v3.6h-5.5zM392.4 1704.0h5.5v3.6h-5.5zM392.4 1721.2h5.5v3.6h-5.5zM392.4 1724.6h5.5v3.6h-5.5zM392.4 1741.8h5.5v3.6h-5.5zM397.7 1697.1h5.5v3.6h-5.5zM397.7 1704.0h5.5v3.6h-5.5zM397.7 1710.8h5.5v3.6h-5.5zM397.7 1714.3h5.5v3.6h-5.5zM403.1 1700.5h5.5v3.6h-5.5zM403.1 1707.4h5.5v3.6h-5.5zM403.1 1710.8h5.5v3.6h-5.5zM403.1 1721.2h5.5v3.6h-5.5zM403.1 1724.6h5.5v3.6h-5.5zM403.1 1734.9h5.5v3.6h-5.5zM403.1 1745.2h5.5v3.6h-5.5zM408.4 1693.6h5.5v3.6h-5.5zM408.4 1714.3h5.5v3.6h-5.5zM408.4 1721.2h5.5v3.6h-5.5zM408.4 1731.5h5.5v3.6h-5.5zM408.4 1734.9h5.5v3.6h-5.5zM408.4 1745.2h5.5v3.6h-5.5zM413.7 1700.5h5.5v3.6h-5.5zM413.7 1710.8h5.5v3.6h-5.5zM413.7 1724.6h5.5v3.6h-5.5zM413.7 1734.9h5.5v3.6h-5.5zM419.0 1704.0h5.5v3.6h-5.5zM419.0 1707.4h5.5v3.6h-5.5zM419.0 1710.8h5.5v3.6h-5.5zM419.0 1731.5h5.5v3.6h-5.5zM419.0 1734.9h5.5v3.6h-5.5zM419.0 1738.4h5.5v3.6h-5.5zM419.0 1741.8h5.5v3.6h-5.5zM424.4 1690.2h5.5v3.6h-5.5zM424.4 1697.1h5.5v3.6h-5.5zM424.4 1710.8h5.5v3.6h-5.5zM424.4 1717.7h5.5v3.6h-5.5zM424.4 1721.2h5.5v3.6h-5.5zM429.7 1697.1h5.5v3.6h-5.5zM429.7 1710.8h5.5v3.6h-5.5zM429.7 1714.3h5.5v3.6h-5.5zM429.7 1721.2h5.5v3.6h-5.5zM429.7 1724.6h5.5v3.6h-5.5zM429.7 1734.9h5.5v3.6h-5.5zM429.7 1745.2h5.5v3.6h-5.5zM435.0 1690.2h5.5v3.6h-5.5zM435.0 1693.6h5.5v3.6h-5.5zM435.0 1710.8h5.5v3.6h-5.5zM435.0 1714.3h5.5v3.6h-5.5zM435.0 1745.2h5.5v3.6h-5.5zM440.3 1693.6h5.5v3.6h-5.5zM440.3 1707.4h5.5v3.6h-5.5zM440.3 1714.3h5.5v3.6h-5.5zM440.3 1724.6h5.5v3.6h-5.5zM440.3 1731.5h5.5v3.6h-5.5zM440.3 1741.8h5.5v3.6h-5.5zM445.7 1690.2h5.5v3.6h-5.5zM445.7 1704.0h5.5v3.6h-5.5zM445.7 1714.3h5.5v3.6h-5.5zM445.7 1724.6h5.5v3.6h-5.5zM445.7 1731.5h5.5v3.6h-5.5zM445.7 1745.2h5.5v3.6h-5.5zM451.0 1704.0h5.5v3.6h-5.5zM451.0 1710.8h5.5v3.6h-5.5zM451.0 1724.6h5.5v3.6h-5.5zM451.0 1738.4h5.5v3.6h-5.5zM456.3 1697.1h5.5v3.6h-5.5zM456.3 1704.0h5.5v3.6h-5.5zM456.3 1707.4h5.5v3.6h-5.5zM461.7 1697.1h5.5v3.6h-5.5zM461.7 1704.0h5.5v3.6h-5.5zM461.7 1707.4h5.5v3.6h-5.5z" fill="#c4d428"/><path d="M333.8 1700.5h5.5v3.6h-5.5zM339.1 1700.5h5.5v3.6h-5.5zM339.1 1714.3h5.5v3.6h-5.5zM339.1 1741.8h5.5v3.6h-5.5zM344.4 1714.3h5.5v3.6h-5.5zM344.4 1738.4h5.5v3.6h-5.5zM344.4 1745.2h5.5v3.6h-5.5zM349.8 1693.6h5.5v3.6h-5.5zM349.8 1724.6h5.5v3.6h-5.5zM349.8 1728.0h5.5v3.6h-5.5zM355.1 1690.2h5.5v3.6h-5.5zM355.1 1693.6h5.5v3.6h-5.5zM355.1 1697.1h5.5v3.6h-5.5zM355.1 1700.5h5.5v3.6h-5.5zM355.1 1721.2h5.5v3.6h-5.5zM355.1 1745.2h5.5v3.6h-5.5zM360.4 1693.6h5.5v3.6h-5.5zM360.4 1697.1h5.5v3.6h-5.5zM365.8 1697.1h5.5v3.6h-5.5zM365.8 1700.5h5.5v3.6h-5.5zM365.8 1728.0h5.5v3.6h-5.5zM365.8 1738.4h5.5v3.6h-5.5zM365.8 1745.2h5.5v3.6h-5.5zM371.1 1704.0h5.5v3.6h-5.5zM371.1 1714.3h5.5v3.6h-5.5zM371.1 1721.2h5.5v3.6h-5.5zM371.1 1724.6h5.5v3.6h-5.5zM376.4 1690.2h5.5v3.6h-5.5zM376.4 1717.7h5.5v3.6h-5.5zM376.4 1741.8h5.5v3.6h-5.5zM381.7 1690.2h5.5v3.6h-5.5zM381.7 1693.6h5.5v3.6h-5.5zM381.7 1738.4h5.5v3.6h-5.5zM381.7 1741.8h5.5v3.6h-5.5zM387.1 1700.5h5.5v3.6h-5.5zM387.1 1710.8h5.5v3.6h-5.5zM387.1 1717.7h5.5v3.6h-5.5zM387.1 1741.8h5.5v3.6h-5.5zM392.4 1707.4h5.5v3.6h-5.5zM392.4 1714.3h5.5v3.6h-5.5zM392.4 1731.5h5.5v3.6h-5.5zM397.7 1693.6h5.5v3.6h-5.5zM397.7 1717.7h5.5v3.6h-5.5zM397.7 1721.2h5.5v3.6h-5.5zM397.7 1724.6h5.5v3.6h-5.5zM397.7 1728.0h5.5v3.6h-5.5zM403.1 1693.6h5.5v3.6h-5.5zM403.1 1704.0h5.5v3.6h-5.5zM403.1 1728.0h5.5v3.6h-5.5zM403.1 1741.8h5.5v3.6h-5.5zM408.4 1697.1h5.5v3.6h-5.5zM408.4 1704.0h5.5v3.6h-5.5zM408.4 1710.8h5.5v3.6h-5.5zM408.4 1738.4h5.5v3.6h-5.5zM413.7 1690.2h5.5v3.6h-5.5zM413.7 1693.6h5.5v3.6h-5.5zM413.7 1707.4h5.5v3.6h-5.5zM413.7 1714.3h5.5v3.6h-5.5zM413.7 1741.8h5.5v3.6h-5.5zM413.7 1745.2h5.5v3.6h-5.5zM419.0 1700.5h5.5v3.6h-5.5zM419.0 1714.3h5.5v3.6h-5.5zM424.4 1700.5h5.5v3.6h-5.5zM424.4 1704.0h5.5v3.6h-5.5zM424.4 1714.3h5.5v3.6h-5.5zM424.4 1724.6h5.5v3.6h-5.5zM424.4 1728.0h5.5v3.6h-5.5zM424.4 1741.8h5.5v3.6h-5.5zM424.4 1745.2h5.5v3.6h-5.5zM429.7 1690.2h5.5v3.6h-5.5zM429.7 1700.5h5.5v3.6h-5.5zM429.7 1704.0h5.5v3.6h-5.5zM429.7 1728.0h5.5v3.6h-5.5zM429.7 1731.5h5.5v3.6h-5.5zM429.7 1741.8h5.5v3.6h-5.5zM435.0 1728.0h5.5v3.6h-5.5zM435.0 1741.8h5.5v3.6h-5.5zM440.3 1717.7h5.5v3.6h-5.5zM440.3 1734.9h5.5v3.6h-5.5zM445.7 1693.6h5.5v3.6h-5.5zM445.7 1697.1h5.5v3.6h-5.5zM445.7 1700.5h5.5v3.6h-5.5zM445.7 1710.8h5.5v3.6h-5.5zM445.7 1717.7h5.5v3.6h-5.5zM451.0 1700.5h5.5v3.6h-5.5zM451.0 1717.7h5.5v3.6h-5.5zM451.0 1728.0h5.5v3.6h-5.5zM451.0 1734.9h5.5v3.6h-5.5zM456.3 1710.8h5.5v3.6h-5.5zM456.3 1721.2h5.5v3.6h-5.5zM456.3 1731.5h5.5v3.6h-5.5zM461.7 1700.5h5.5v3.6h-5.5z" fill="#f6e000"/><path d="M333.8 1704.0h5.5v3.6h-5.5zM333.8 1717.7h5.5v3.6h-5.5zM333.8 1738.4h5.5v3.6h-5.5zM333.8 1745.2h5.5v3.6h-5.5zM339.1 1690.2h5.5v3.6h-5.5zM339.1 1697.1h5.5v3.6h-5.5zM344.4 1693.6h5.5v3.6h-5.5zM344.4 1700.5h5.5v3.6h-5.5zM349.8 1690.2h5.5v3.6h-5.5zM349.8 1704.0h5.5v3.6h-5.5zM349.8 1707.4h5.5v3.6h-5.5zM349.8 1745.2h5.5v3.6h-5.5zM355.1 1728.0h5.5v3.6h-5.5zM355.1 1738.4h5.5v3.6h-5.5zM355.1 1741.8h5.5v3.6h-5.5zM360.4 1700.5h5.5v3.6h-5.5zM360.4 1731.5h5.5v3.6h-5.5zM360.4 1734.9h5.5v3.6h-5.5zM360.4 1745.2h5.5v3.6h-5.5zM365.8 1714.3h5.5v3.6h-5.5zM371.1 1700.5h5.5v3.6h-5.5zM376.4 1704.0h5.5v3.6h-5.5zM376.4 1710.8h5.5v3.6h-5.5zM381.7 1700.5h5.5v3.6h-5.5zM381.7 1728.0h5.5v3.6h-5.5zM387.1 1693.6h5.5v3.6h-5.5zM387.1 1697.1h5.5v3.6h-5.5zM387.1 1714.3h5.5v3.6h-5.5zM387.1 1724.6h5.5v3.6h-5.5zM387.1 1738.4h5.5v3.6h-5.5zM392.4 1690.2h5.5v3.6h-5.5zM392.4 1717.7h5.5v3.6h-5.5zM392.4 1734.9h5.5v3.6h-5.5zM397.7 1690.2h5.5v3.6h-5.5zM397.7 1700.5h5.5v3.6h-5.5zM397.7 1707.4h5.5v3.6h-5.5zM397.7 1731.5h5.5v3.6h-5.5zM397.7 1745.2h5.5v3.6h-5.5zM403.1 1738.4h5.5v3.6h-5.5zM408.4 1690.2h5.5v3.6h-5.5zM408.4 1700.5h5.5v3.6h-5.5zM408.4 1707.4h5.5v3.6h-5.5zM408.4 1724.6h5.5v3.6h-5.5zM408.4 1741.8h5.5v3.6h-5.5zM413.7 1697.1h5.5v3.6h-5.5zM413.7 1704.0h5.5v3.6h-5.5zM413.7 1717.7h5.5v3.6h-5.5zM413.7 1738.4h5.5v3.6h-5.5zM419.0 1690.2h5.5v3.6h-5.5zM424.4 1738.4h5.5v3.6h-5.5zM429.7 1693.6h5.5v3.6h-5.5zM429.7 1717.7h5.5v3.6h-5.5zM435.0 1704.0h5.5v3.6h-5.5zM435.0 1707.4h5.5v3.6h-5.5zM440.3 1700.5h5.5v3.6h-5.5zM440.3 1721.2h5.5v3.6h-5.5zM445.7 1734.9h5.5v3.6h-5.5zM445.7 1738.4h5.5v3.6h-5.5zM451.0 1731.5h5.5v3.6h-5.5zM456.3 1693.6h5.5v3.6h-5.5zM456.3 1724.6h5.5v3.6h-5.5zM456.3 1728.0h5.5v3.6h-5.5zM461.7 1710.8h5.5v3.6h-5.5z" fill="#7cc4a4"/><path d="M333.8 1724.6h5.5v3.6h-5.5zM333.8 1728.0h5.5v3.6h-5.5zM333.8 1734.9h5.5v3.6h-5.5zM333.8 1741.8h5.5v3.6h-5.5zM339.1 1704.0h5.5v3.6h-5.5zM339.1 1717.7h5.5v3.6h-5.5zM339.1 1724.6h5.5v3.6h-5.5zM344.4 1690.2h5.5v3.6h-5.5zM344.4 1707.4h5.5v3.6h-5.5zM344.4 1717.7h5.5v3.6h-5.5zM344.4 1721.2h5.5v3.6h-5.5zM344.4 1731.5h5.5v3.6h-5.5zM349.8 1697.1h5.5v3.6h-5.5zM349.8 1714.3h5.5v3.6h-5.5zM349.8 1741.8h5.5v3.6h-5.5zM355.1 1704.0h5.5v3.6h-5.5zM355.1 1707.4h5.5v3.6h-5.5zM355.1 1710.8h5.5v3.6h-5.5zM355.1 1717.7h5.5v3.6h-5.5zM355.1 1731.5h5.5v3.6h-5.5zM360.4 1690.2h5.5v3.6h-5.5zM360.4 1710.8h5.5v3.6h-5.5zM360.4 1714.3h5.5v3.6h-5.5zM360.4 1717.7h5.5v3.6h-5.5zM360.4 1721.2h5.5v3.6h-5.5zM360.4 1724.6h5.5v3.6h-5.5zM360.4 1728.0h5.5v3.6h-5.5zM365.8 1690.2h5.5v3.6h-5.5zM365.8 1693.6h5.5v3.6h-5.5zM365.8 1704.0h5.5v3.6h-5.5zM365.8 1710.8h5.5v3.6h-5.5zM365.8 1717.7h5.5v3.6h-5.5zM365.8 1724.6h5.5v3.6h-5.5zM365.8 1734.9h5.5v3.6h-5.5zM371.1 1690.2h5.5v3.6h-5.5zM371.1 1707.4h5.5v3.6h-5.5zM371.1 1710.8h5.5v3.6h-5.5zM371.1 1717.7h5.5v3.6h-5.5zM371.1 1728.0h5.5v3.6h-5.5zM371.1 1731.5h5.5v3.6h-5.5zM376.4 1697.1h5.5v3.6h-5.5zM376.4 1707.4h5.5v3.6h-5.5zM376.4 1714.3h5.5v3.6h-5.5zM376.4 1721.2h5.5v3.6h-5.5zM376.4 1731.5h5.5v3.6h-5.5zM376.4 1734.9h5.5v3.6h-5.5zM376.4 1745.2h5.5v3.6h-5.5zM381.7 1697.1h5.5v3.6h-5.5zM381.7 1710.8h5.5v3.6h-5.5zM381.7 1714.3h5.5v3.6h-5.5zM381.7 1745.2h5.5v3.6h-5.5zM387.1 1728.0h5.5v3.6h-5.5zM387.1 1731.5h5.5v3.6h-5.5zM387.1 1734.9h5.5v3.6h-5.5zM387.1 1745.2h5.5v3.6h-5.5zM392.4 1700.5h5.5v3.6h-5.5zM392.4 1710.8h5.5v3.6h-5.5zM392.4 1728.0h5.5v3.6h-5.5zM392.4 1738.4h5.5v3.6h-5.5zM392.4 1745.2h5.5v3.6h-5.5zM397.7 1734.9h5.5v3.6h-5.5zM397.7 1738.4h5.5v3.6h-5.5zM397.7 1741.8h5.5v3.6h-5.5zM403.1 1690.2h5.5v3.6h-5.5zM403.1 1697.1h5.5v3.6h-5.5zM403.1 1714.3h5.5v3.6h-5.5zM403.1 1717.7h5.5v3.6h-5.5zM403.1 1731.5h5.5v3.6h-5.5zM408.4 1717.7h5.5v3.6h-5.5zM408.4 1728.0h5.5v3.6h-5.5zM413.7 1721.2h5.5v3.6h-5.5zM413.7 1728.0h5.5v3.6h-5.5zM413.7 1731.5h5.5v3.6h-5.5zM419.0 1693.6h5.5v3.6h-5.5zM419.0 1697.1h5.5v3.6h-5.5zM419.0 1717.7h5.5v3.6h-5.5zM419.0 1721.2h5.5v3.6h-5.5zM419.0 1724.6h5.5v3.6h-5.5zM419.0 1728.0h5.5v3.6h-5.5zM419.0 1745.2h5.5v3.6h-5.5zM424.4 1693.6h5.5v3.6h-5.5zM424.4 1707.4h5.5v3.6h-5.5zM424.4 1731.5h5.5v3.6h-5.5zM424.4 1734.9h5.5v3.6h-5.5zM429.7 1707.4h5.5v3.6h-5.5zM429.7 1738.4h5.5v3.6h-5.5zM435.0 1697.1h5.5v3.6h-5.5zM435.0 1700.5h5.5v3.6h-5.5zM435.0 1717.7h5.5v3.6h-5.5zM435.0 1721.2h5.5v3.6h-5.5zM435.0 1724.6h5.5v3.6h-5.5zM435.0 1731.5h5.5v3.6h-5.5zM435.0 1734.9h5.5v3.6h-5.5zM435.0 1738.4h5.5v3.6h-5.5zM440.3 1690.2h5.5v3.6h-5.5zM440.3 1697.1h5.5v3.6h-5.5zM440.3 1704.0h5.5v3.6h-5.5zM440.3 1710.8h5.5v3.6h-5.5zM440.3 1728.0h5.5v3.6h-5.5zM440.3 1738.4h5.5v3.6h-5.5zM440.3 1745.2h5.5v3.6h-5.5zM445.7 1707.4h5.5v3.6h-5.5zM445.7 1721.2h5.5v3.6h-5.5zM445.7 1728.0h5.5v3.6h-5.5zM445.7 1741.8h5.5v3.6h-5.5zM451.0 1690.2h5.5v3.6h-5.5zM451.0 1693.6h5.5v3.6h-5.5zM451.0 1697.1h5.5v3.6h-5.5zM451.0 1707.4h5.5v3.6h-5.5zM451.0 1714.3h5.5v3.6h-5.5zM451.0 1721.2h5.5v3.6h-5.5zM451.0 1741.8h5.5v3.6h-5.5zM451.0 1745.2h5.5v3.6h-5.5zM456.3 1700.5h5.5v3.6h-5.5zM456.3 1714.3h5.5v3.6h-5.5zM456.3 1717.7h5.5v3.6h-5.5zM456.3 1734.9h5.5v3.6h-5.5zM461.7 1714.3h5.5v3.6h-5.5z" fill="#8cc068"/><path d="M333.8 1748.7h5.5v3.6h-5.5zM333.8 1783.1h5.5v3.6h-5.5zM333.8 1831.3h5.5v3.6h-5.5zM339.1 1762.4h5.5v3.6h-5.5zM339.1 1769.3h5.5v3.6h-5.5zM339.1 1783.1h5.5v3.6h-5.5zM344.4 1776.2h5.5v3.6h-5.5zM349.8 1810.6h5.5v3.6h-5.5zM355.1 1755.6h5.5v3.6h-5.5zM355.1 1814.0h5.5v3.6h-5.5zM355.1 1845.0h5.5v3.6h-5.5zM360.4 1810.6h5.5v3.6h-5.5zM365.8 1769.3h5.5v3.6h-5.5zM365.8 1814.0h5.5v3.6h-5.5zM371.1 1752.1h5.5v3.6h-5.5zM371.1 1779.6h5.5v3.6h-5.5zM371.1 1803.7h5.5v3.6h-5.5zM371.1 1820.9h5.5v3.6h-5.5zM376.4 1772.8h5.5v3.6h-5.5zM376.4 1796.8h5.5v3.6h-5.5zM381.7 1772.8h5.5v3.6h-5.5zM387.1 1748.7h5.5v3.6h-5.5zM387.1 1759.0h5.5v3.6h-5.5zM387.1 1824.4h5.5v3.6h-5.5zM392.4 1752.1h5.5v3.6h-5.5zM392.4 1755.6h5.5v3.6h-5.5zM392.4 1759.0h5.5v3.6h-5.5zM392.4 1845.0h5.5v3.6h-5.5zM397.7 1786.5h5.5v3.6h-5.5zM397.7 1796.8h5.5v3.6h-5.5zM397.7 1810.6h5.5v3.6h-5.5zM403.1 1814.0h5.5v3.6h-5.5zM403.1 1838.1h5.5v3.6h-5.5zM403.1 1841.6h5.5v3.6h-5.5zM408.4 1762.4h5.5v3.6h-5.5zM413.7 1845.0h5.5v3.6h-5.5zM419.0 1755.6h5.5v3.6h-5.5zM419.0 1827.8h5.5v3.6h-5.5zM424.4 1776.2h5.5v3.6h-5.5zM429.7 1779.6h5.5v3.6h-5.5z" fill="#f6e000"/><path d="M333.8 1752.1h5.5v3.6h-5.5zM333.8 1776.2h5.5v3.6h-5.5zM333.8 1814.0h5.5v3.6h-5.5zM333.8 1820.9h5.5v3.6h-5.5zM333.8 1845.0h5.5v3.6h-5.5zM339.1 1748.7h5.5v3.6h-5.5zM339.1 1776.2h5.5v3.6h-5.5zM339.1 1796.8h5.5v3.6h-5.5zM339.1 1800.3h5.5v3.6h-5.5zM339.1 1814.0h5.5v3.6h-5.5zM339.1 1831.3h5.5v3.6h-5.5zM339.1 1841.6h5.5v3.6h-5.5zM344.4 1769.3h5.5v3.6h-5.5zM344.4 1786.5h5.5v3.6h-5.5zM344.4 1796.8h5.5v3.6h-5.5zM344.4 1800.3h5.5v3.6h-5.5zM344.4 1817.5h5.5v3.6h-5.5zM349.8 1752.1h5.5v3.6h-5.5zM349.8 1755.6h5.5v3.6h-5.5zM349.8 1765.9h5.5v3.6h-5.5zM349.8 1772.8h5.5v3.6h-5.5zM349.8 1786.5h5.5v3.6h-5.5zM349.8 1790.0h5.5v3.6h-5.5zM349.8 1793.4h5.5v3.6h-5.5zM349.8 1817.5h5.5v3.6h-5.5zM349.8 1834.7h5.5v3.6h-5.5zM355.1 1748.7h5.5v3.6h-5.5zM355.1 1762.4h5.5v3.6h-5.5zM355.1 1765.9h5.5v3.6h-5.5zM355.1 1772.8h5.5v3.6h-5.5zM355.1 1790.0h5.5v3.6h-5.5zM355.1 1793.4h5.5v3.6h-5.5zM355.1 1796.8h5.5v3.6h-5.5zM355.1 1841.6h5.5v3.6h-5.5zM360.4 1755.6h5.5v3.6h-5.5zM360.4 1783.1h5.5v3.6h-5.5zM360.4 1786.5h5.5v3.6h-5.5zM360.4 1807.2h5.5v3.6h-5.5zM360.4 1817.5h5.5v3.6h-5.5zM360.4 1841.6h5.5v3.6h-5.5zM365.8 1748.7h5.5v3.6h-5.5zM365.8 1755.6h5.5v3.6h-5.5zM365.8 1772.8h5.5v3.6h-5.5zM365.8 1779.6h5.5v3.6h-5.5zM365.8 1783.1h5.5v3.6h-5.5zM365.8 1796.8h5.5v3.6h-5.5zM365.8 1831.3h5.5v3.6h-5.5zM365.8 1838.1h5.5v3.6h-5.5zM365.8 1845.0h5.5v3.6h-5.5zM371.1 1755.6h5.5v3.6h-5.5zM371.1 1769.3h5.5v3.6h-5.5zM371.1 1807.2h5.5v3.6h-5.5zM371.1 1814.0h5.5v3.6h-5.5zM371.1 1831.3h5.5v3.6h-5.5zM371.1 1838.1h5.5v3.6h-5.5zM376.4 1790.0h5.5v3.6h-5.5zM376.4 1817.5h5.5v3.6h-5.5zM376.4 1820.9h5.5v3.6h-5.5zM376.4 1824.4h5.5v3.6h-5.5zM376.4 1841.6h5.5v3.6h-5.5zM381.7 1783.1h5.5v3.6h-5.5zM381.7 1786.5h5.5v3.6h-5.5zM381.7 1793.4h5.5v3.6h-5.5zM381.7 1807.2h5.5v3.6h-5.5zM381.7 1817.5h5.5v3.6h-5.5zM381.7 1820.9h5.5v3.6h-5.5zM381.7 1834.7h5.5v3.6h-5.5zM387.1 1762.4h5.5v3.6h-5.5zM387.1 1765.9h5.5v3.6h-5.5zM387.1 1779.6h5.5v3.6h-5.5zM387.1 1800.3h5.5v3.6h-5.5zM387.1 1803.7h5.5v3.6h-5.5zM387.1 1834.7h5.5v3.6h-5.5zM387.1 1838.1h5.5v3.6h-5.5zM387.1 1841.6h5.5v3.6h-5.5zM387.1 1845.0h5.5v3.6h-5.5zM392.4 1765.9h5.5v3.6h-5.5zM392.4 1772.8h5.5v3.6h-5.5zM392.4 1807.2h5.5v3.6h-5.5zM397.7 1748.7h5.5v3.6h-5.5zM397.7 1755.6h5.5v3.6h-5.5zM397.7 1759.0h5.5v3.6h-5.5zM397.7 1772.8h5.5v3.6h-5.5zM397.7 1783.1h5.5v3.6h-5.5zM397.7 1790.0h5.5v3.6h-5.5zM397.7 1824.4h5.5v3.6h-5.5zM397.7 1827.8h5.5v3.6h-5.5zM397.7 1831.3h5.5v3.6h-5.5zM403.1 1752.1h5.5v3.6h-5.5zM403.1 1800.3h5.5v3.6h-5.5zM403.1 1807.2h5.5v3.6h-5.5zM403.1 1827.8h5.5v3.6h-5.5zM403.1 1834.7h5.5v3.6h-5.5zM408.4 1772.8h5.5v3.6h-5.5zM408.4 1790.0h5.5v3.6h-5.5zM408.4 1817.5h5.5v3.6h-5.5zM408.4 1827.8h5.5v3.6h-5.5zM408.4 1838.1h5.5v3.6h-5.5zM408.4 1841.6h5.5v3.6h-5.5zM408.4 1845.0h5.5v3.6h-5.5zM413.7 1800.3h5.5v3.6h-5.5zM413.7 1807.2h5.5v3.6h-5.5zM413.7 1817.5h5.5v3.6h-5.5zM413.7 1820.9h5.5v3.6h-5.5zM413.7 1827.8h5.5v3.6h-5.5zM413.7 1834.7h5.5v3.6h-5.5zM413.7 1841.6h5.5v3.6h-5.5zM419.0 1759.0h5.5v3.6h-5.5zM419.0 1796.8h5.5v3.6h-5.5zM419.0 1820.9h5.5v3.6h-5.5zM419.0 1838.1h5.5v3.6h-5.5zM424.4 1769.3h5.5v3.6h-5.5zM424.4 1814.0h5.5v3.6h-5.5zM435.0 1752.1h5.5v3.6h-5.5zM435.0 1762.4h5.5v3.6h-5.5z" fill="#c4d428"/><path d="M333.8 1755.6h5.5v3.6h-5.5zM333.8 1759.0h5.5v3.6h-5.5zM333.8 1762.4h5.5v3.6h-5.5zM333.8 1765.9h5.5v3.6h-5.5zM333.8 1779.6h5.5v3.6h-5.5zM333.8 1790.0h5.5v3.6h-5.5zM333.8 1800.3h5.5v3.6h-5.5zM333.8 1807.2h5.5v3.6h-5.5zM333.8 1810.6h5.5v3.6h-5.5zM333.8 1817.5h5.5v3.6h-5.5zM333.8 1824.4h5.5v3.6h-5.5zM333.8 1827.8h5.5v3.6h-5.5zM333.8 1834.7h5.5v3.6h-5.5zM333.8 1841.6h5.5v3.6h-5.5zM339.1 1752.1h5.5v3.6h-5.5zM339.1 1772.8h5.5v3.6h-5.5zM339.1 1779.6h5.5v3.6h-5.5zM339.1 1786.5h5.5v3.6h-5.5zM339.1 1790.0h5.5v3.6h-5.5zM339.1 1807.2h5.5v3.6h-5.5zM339.1 1810.6h5.5v3.6h-5.5zM339.1 1820.9h5.5v3.6h-5.5zM339.1 1824.4h5.5v3.6h-5.5zM344.4 1752.1h5.5v3.6h-5.5zM344.4 1755.6h5.5v3.6h-5.5zM344.4 1765.9h5.5v3.6h-5.5zM344.4 1772.8h5.5v3.6h-5.5zM344.4 1779.6h5.5v3.6h-5.5zM344.4 1793.4h5.5v3.6h-5.5zM344.4 1803.7h5.5v3.6h-5.5zM344.4 1810.6h5.5v3.6h-5.5zM344.4 1831.3h5.5v3.6h-5.5zM344.4 1834.7h5.5v3.6h-5.5zM344.4 1845.0h5.5v3.6h-5.5zM349.8 1748.7h5.5v3.6h-5.5zM349.8 1762.4h5.5v3.6h-5.5zM349.8 1769.3h5.5v3.6h-5.5zM349.8 1776.2h5.5v3.6h-5.5zM349.8 1779.6h5.5v3.6h-5.5zM349.8 1783.1h5.5v3.6h-5.5zM349.8 1800.3h5.5v3.6h-5.5zM349.8 1814.0h5.5v3.6h-5.5zM349.8 1824.4h5.5v3.6h-5.5zM349.8 1831.3h5.5v3.6h-5.5zM349.8 1838.1h5.5v3.6h-5.5zM349.8 1845.0h5.5v3.6h-5.5zM355.1 1752.1h5.5v3.6h-5.5zM355.1 1776.2h5.5v3.6h-5.5zM355.1 1779.6h5.5v3.6h-5.5zM355.1 1786.5h5.5v3.6h-5.5zM355.1 1803.7h5.5v3.6h-5.5zM355.1 1817.5h5.5v3.6h-5.5zM355.1 1820.9h5.5v3.6h-5.5zM355.1 1827.8h5.5v3.6h-5.5zM355.1 1834.7h5.5v3.6h-5.5zM355.1 1838.1h5.5v3.6h-5.5zM360.4 1748.7h5.5v3.6h-5.5zM360.4 1752.1h5.5v3.6h-5.5zM360.4 1759.0h5.5v3.6h-5.5zM360.4 1765.9h5.5v3.6h-5.5zM360.4 1769.3h5.5v3.6h-5.5zM360.4 1779.6h5.5v3.6h-5.5zM360.4 1803.7h5.5v3.6h-5.5zM360.4 1814.0h5.5v3.6h-5.5zM360.4 1820.9h5.5v3.6h-5.5zM360.4 1827.8h5.5v3.6h-5.5zM360.4 1831.3h5.5v3.6h-5.5zM360.4 1834.7h5.5v3.6h-5.5zM360.4 1838.1h5.5v3.6h-5.5zM360.4 1845.0h5.5v3.6h-5.5zM365.8 1752.1h5.5v3.6h-5.5zM365.8 1762.4h5.5v3.6h-5.5zM365.8 1776.2h5.5v3.6h-5.5zM365.8 1786.5h5.5v3.6h-5.5zM365.8 1790.0h5.5v3.6h-5.5zM365.8 1800.3h5.5v3.6h-5.5zM365.8 1803.7h5.5v3.6h-5.5zM365.8 1807.2h5.5v3.6h-5.5zM365.8 1810.6h5.5v3.6h-5.5zM365.8 1817.5h5.5v3.6h-5.5zM365.8 1820.9h5.5v3.6h-5.5zM365.8 1827.8h5.5v3.6h-5.5zM365.8 1834.7h5.5v3.6h-5.5zM371.1 1762.4h5.5v3.6h-5.5zM371.1 1765.9h5.5v3.6h-5.5zM371.1 1772.8h5.5v3.6h-5.5zM371.1 1783.1h5.5v3.6h-5.5zM371.1 1793.4h5.5v3.6h-5.5zM371.1 1796.8h5.5v3.6h-5.5zM371.1 1800.3h5.5v3.6h-5.5zM371.1 1810.6h5.5v3.6h-5.5zM371.1 1817.5h5.5v3.6h-5.5zM371.1 1824.4h5.5v3.6h-5.5zM371.1 1827.8h5.5v3.6h-5.5zM371.1 1834.7h5.5v3.6h-5.5zM371.1 1841.6h5.5v3.6h-5.5zM371.1 1845.0h5.5v3.6h-5.5zM376.4 1748.7h5.5v3.6h-5.5zM376.4 1752.1h5.5v3.6h-5.5zM376.4 1759.0h5.5v3.6h-5.5zM376.4 1776.2h5.5v3.6h-5.5zM376.4 1779.6h5.5v3.6h-5.5zM376.4 1783.1h5.5v3.6h-5.5zM376.4 1814.0h5.5v3.6h-5.5zM376.4 1831.3h5.5v3.6h-5.5zM376.4 1838.1h5.5v3.6h-5.5zM376.4 1845.0h5.5v3.6h-5.5zM381.7 1752.1h5.5v3.6h-5.5zM381.7 1755.6h5.5v3.6h-5.5zM381.7 1759.0h5.5v3.6h-5.5zM381.7 1765.9h5.5v3.6h-5.5zM381.7 1776.2h5.5v3.6h-5.5zM381.7 1800.3h5.5v3.6h-5.5zM381.7 1814.0h5.5v3.6h-5.5zM381.7 1827.8h5.5v3.6h-5.5zM381.7 1831.3h5.5v3.6h-5.5zM381.7 1841.6h5.5v3.6h-5.5zM387.1 1755.6h5.5v3.6h-5.5zM387.1 1776.2h5.5v3.6h-5.5zM387.1 1783.1h5.5v3.6h-5.5zM387.1 1786.5h5.5v3.6h-5.5zM387.1 1790.0h5.5v3.6h-5.5zM387.1 1793.4h5.5v3.6h-5.5zM387.1 1796.8h5.5v3.6h-5.5zM387.1 1807.2h5.5v3.6h-5.5zM387.1 1810.6h5.5v3.6h-5.5zM387.1 1820.9h5.5v3.6h-5.5zM387.1 1831.3h5.5v3.6h-5.5zM392.4 1776.2h5.5v3.6h-5.5zM392.4 1783.1h5.5v3.6h-5.5zM392.4 1786.5h5.5v3.6h-5.5zM392.4 1790.0h5.5v3.6h-5.5zM392.4 1793.4h5.5v3.6h-5.5zM392.4 1796.8h5.5v3.6h-5.5zM392.4 1800.3h5.5v3.6h-5.5zM392.4 1817.5h5.5v3.6h-5.5zM392.4 1824.4h5.5v3.6h-5.5zM392.4 1831.3h5.5v3.6h-5.5zM392.4 1834.7h5.5v3.6h-5.5zM392.4 1838.1h5.5v3.6h-5.5zM392.4 1841.6h5.5v3.6h-5.5zM397.7 1752.1h5.5v3.6h-5.5zM397.7 1765.9h5.5v3.6h-5.5zM397.7 1769.3h5.5v3.6h-5.5zM397.7 1793.4h5.5v3.6h-5.5zM397.7 1803.7h5.5v3.6h-5.5zM397.7 1807.2h5.5v3.6h-5.5zM397.7 1814.0h5.5v3.6h-5.5zM397.7 1834.7h5.5v3.6h-5.5zM397.7 1841.6h5.5v3.6h-5.5zM403.1 1748.7h5.5v3.6h-5.5zM403.1 1755.6h5.5v3.6h-5.5zM403.1 1762.4h5.5v3.6h-5.5zM403.1 1769.3h5.5v3.6h-5.5zM403.1 1772.8h5.5v3.6h-5.5zM403.1 1776.2h5.5v3.6h-5.5zM403.1 1779.6h5.5v3.6h-5.5zM403.1 1790.0h5.5v3.6h-5.5zM403.1 1793.4h5.5v3.6h-5.5zM403.1 1796.8h5.5v3.6h-5.5zM403.1 1810.6h5.5v3.6h-5.5zM403.1 1817.5h5.5v3.6h-5.5zM403.1 1820.9h5.5v3.6h-5.5zM408.4 1752.1h5.5v3.6h-5.5zM408.4 1755.6h5.5v3.6h-5.5zM408.4 1759.0h5.5v3.6h-5.5zM408.4 1765.9h5.5v3.6h-5.5zM408.4 1776.2h5.5v3.6h-5.5zM408.4 1783.1h5.5v3.6h-5.5zM408.4 1796.8h5.5v3.6h-5.5zM408.4 1800.3h5.5v3.6h-5.5zM408.4 1803.7h5.5v3.6h-5.5zM408.4 1810.6h5.5v3.6h-5.5zM408.4 1814.0h5.5v3.6h-5.5zM408.4 1824.4h5.5v3.6h-5.5zM408.4 1831.3h5.5v3.6h-5.5zM408.4 1834.7h5.5v3.6h-5.5zM413.7 1748.7h5.5v3.6h-5.5zM413.7 1752.1h5.5v3.6h-5.5zM413.7 1759.0h5.5v3.6h-5.5zM413.7 1762.4h5.5v3.6h-5.5zM413.7 1779.6h5.5v3.6h-5.5zM413.7 1783.1h5.5v3.6h-5.5zM413.7 1786.5h5.5v3.6h-5.5zM413.7 1790.0h5.5v3.6h-5.5zM413.7 1793.4h5.5v3.6h-5.5zM413.7 1796.8h5.5v3.6h-5.5zM413.7 1803.7h5.5v3.6h-5.5zM413.7 1831.3h5.5v3.6h-5.5zM419.0 1748.7h5.5v3.6h-5.5zM419.0 1752.1h5.5v3.6h-5.5zM419.0 1762.4h5.5v3.6h-5.5zM419.0 1765.9h5.5v3.6h-5.5zM419.0 1769.3h5.5v3.6h-5.5zM419.0 1772.8h5.5v3.6h-5.5zM419.0 1776.2h5.5v3.6h-5.5zM419.0 1779.6h5.5v3.6h-5.5zM419.0 1783.1h5.5v3.6h-5.5zM419.0 1786.5h5.5v3.6h-5.5zM419.0 1793.4h5.5v3.6h-5.5zM419.0 1803.7h5.5v3.6h-5.5zM419.0 1807.2h5.5v3.6h-5.5zM419.0 1810.6h5.5v3.6h-5.5zM419.0 1817.5h5.5v3.6h-5.5zM419.0 1824.4h5.5v3.6h-5.5zM419.0 1831.3h5.5v3.6h-5.5zM424.4 1755.6h5.5v3.6h-5.5zM424.4 1759.0h5.5v3.6h-5.5zM424.4 1762.4h5.5v3.6h-5.5zM424.4 1765.9h5.5v3.6h-5.5zM424.4 1772.8h5.5v3.6h-5.5zM424.4 1779.6h5.5v3.6h-5.5zM424.4 1783.1h5.5v3.6h-5.5zM424.4 1790.0h5.5v3.6h-5.5zM424.4 1793.4h5.5v3.6h-5.5zM424.4 1796.8h5.5v3.6h-5.5zM424.4 1803.7h5.5v3.6h-5.5zM429.7 1748.7h5.5v3.6h-5.5zM429.7 1752.1h5.5v3.6h-5.5zM429.7 1755.6h5.5v3.6h-5.5zM429.7 1759.0h5.5v3.6h-5.5zM429.7 1765.9h5.5v3.6h-5.5zM429.7 1772.8h5.5v3.6h-5.5zM429.7 1783.1h5.5v3.6h-5.5zM435.0 1748.7h5.5v3.6h-5.5zM440.3 1748.7h5.5v3.6h-5.5zM440.3 1755.6h5.5v3.6h-5.5zM445.7 1748.7h5.5v3.6h-5.5z" fill="#8cc068"/><path d="M333.8 1769.3h5.5v3.6h-5.5zM333.8 1772.8h5.5v3.6h-5.5zM333.8 1786.5h5.5v3.6h-5.5zM333.8 1793.4h5.5v3.6h-5.5zM333.8 1796.8h5.5v3.6h-5.5zM333.8 1803.7h5.5v3.6h-5.5zM333.8 1838.1h5.5v3.6h-5.5zM339.1 1755.6h5.5v3.6h-5.5zM339.1 1759.0h5.5v3.6h-5.5zM339.1 1765.9h5.5v3.6h-5.5zM339.1 1793.4h5.5v3.6h-5.5zM339.1 1803.7h5.5v3.6h-5.5zM339.1 1817.5h5.5v3.6h-5.5zM339.1 1827.8h5.5v3.6h-5.5zM339.1 1834.7h5.5v3.6h-5.5zM339.1 1838.1h5.5v3.6h-5.5zM339.1 1845.0h5.5v3.6h-5.5zM344.4 1748.7h5.5v3.6h-5.5zM344.4 1759.0h5.5v3.6h-5.5zM344.4 1762.4h5.5v3.6h-5.5zM344.4 1783.1h5.5v3.6h-5.5zM344.4 1790.0h5.5v3.6h-5.5zM344.4 1807.2h5.5v3.6h-5.5zM344.4 1814.0h5.5v3.6h-5.5zM344.4 1820.9h5.5v3.6h-5.5zM344.4 1824.4h5.5v3.6h-5.5zM344.4 1827.8h5.5v3.6h-5.5zM344.4 1838.1h5.5v3.6h-5.5zM344.4 1841.6h5.5v3.6h-5.5zM349.8 1759.0h5.5v3.6h-5.5zM349.8 1796.8h5.5v3.6h-5.5zM349.8 1803.7h5.5v3.6h-5.5zM349.8 1807.2h5.5v3.6h-5.5zM349.8 1820.9h5.5v3.6h-5.5zM349.8 1827.8h5.5v3.6h-5.5zM349.8 1841.6h5.5v3.6h-5.5zM355.1 1759.0h5.5v3.6h-5.5zM355.1 1769.3h5.5v3.6h-5.5zM355.1 1783.1h5.5v3.6h-5.5zM355.1 1800.3h5.5v3.6h-5.5zM355.1 1807.2h5.5v3.6h-5.5zM355.1 1810.6h5.5v3.6h-5.5zM355.1 1824.4h5.5v3.6h-5.5zM355.1 1831.3h5.5v3.6h-5.5zM360.4 1762.4h5.5v3.6h-5.5zM360.4 1772.8h5.5v3.6h-5.5zM360.4 1776.2h5.5v3.6h-5.5zM360.4 1790.0h5.5v3.6h-5.5zM360.4 1793.4h5.5v3.6h-5.5zM360.4 1796.8h5.5v3.6h-5.5zM360.4 1800.3h5.5v3.6h-5.5zM360.4 1824.4h5.5v3.6h-5.5zM365.8 1759.0h5.5v3.6h-5.5zM365.8 1765.9h5.5v3.6h-5.5zM365.8 1793.4h5.5v3.6h-5.5zM365.8 1824.4h5.5v3.6h-5.5zM365.8 1841.6h5.5v3.6h-5.5zM371.1 1748.7h5.5v3.6h-5.5zM371.1 1759.0h5.5v3.6h-5.5zM371.1 1776.2h5.5v3.6h-5.5zM371.1 1786.5h5.5v3.6h-5.5zM371.1 1790.0h5.5v3.6h-5.5zM376.4 1755.6h5.5v3.6h-5.5zM376.4 1762.4h5.5v3.6h-5.5zM376.4 1765.9h5.5v3.6h-5.5zM376.4 1769.3h5.5v3.6h-5.5zM376.4 1786.5h5.5v3.6h-5.5zM376.4 1793.4h5.5v3.6h-5.5zM376.4 1800.3h5.5v3.6h-5.5zM376.4 1803.7h5.5v3.6h-5.5zM376.4 1807.2h5.5v3.6h-5.5zM376.4 1810.6h5.5v3.6h-5.5zM376.4 1827.8h5.5v3.6h-5.5zM376.4 1834.7h5.5v3.6h-5.5zM381.7 1748.7h5.5v3.6h-5.5zM381.7 1762.4h5.5v3.6h-5.5zM381.7 1769.3h5.5v3.6h-5.5zM381.7 1779.6h5.5v3.6h-5.5zM381.7 1790.0h5.5v3.6h-5.5zM381.7 1796.8h5.5v3.6h-5.5zM381.7 1803.7h5.5v3.6h-5.5zM381.7 1810.6h5.5v3.6h-5.5zM381.7 1824.4h5.5v3.6h-5.5zM381.7 1838.1h5.5v3.6h-5.5zM381.7 1845.0h5.5v3.6h-5.5zM387.1 1752.1h5.5v3.6h-5.5zM387.1 1769.3h5.5v3.6h-5.5zM387.1 1772.8h5.5v3.6h-5.5zM387.1 1814.0h5.5v3.6h-5.5zM387.1 1817.5h5.5v3.6h-5.5zM387.1 1827.8h5.5v3.6h-5.5zM392.4 1748.7h5.5v3.6h-5.5zM392.4 1762.4h5.5v3.6h-5.5zM392.4 1769.3h5.5v3.6h-5.5zM392.4 1779.6h5.5v3.6h-5.5zM392.4 1803.7h5.5v3.6h-5.5zM392.4 1810.6h5.5v3.6h-5.5zM392.4 1814.0h5.5v3.6h-5.5zM392.4 1820.9h5.5v3.6h-5.5zM392.4 1827.8h5.5v3.6h-5.5zM397.7 1762.4h5.5v3.6h-5.5zM397.7 1776.2h5.5v3.6h-5.5zM397.7 1779.6h5.5v3.6h-5.5zM397.7 1800.3h5.5v3.6h-5.5zM397.7 1817.5h5.5v3.6h-5.5zM397.7 1820.9h5.5v3.6h-5.5zM397.7 1838.1h5.5v3.6h-5.5zM397.7 1845.0h5.5v3.6h-5.5zM403.1 1759.0h5.5v3.6h-5.5zM403.1 1765.9h5.5v3.6h-5.5zM403.1 1783.1h5.5v3.6h-5.5zM403.1 1786.5h5.5v3.6h-5.5zM403.1 1803.7h5.5v3.6h-5.5zM403.1 1824.4h5.5v3.6h-5.5zM403.1 1831.3h5.5v3.6h-5.5zM403.1 1845.0h5.5v3.6h-5.5zM408.4 1748.7h5.5v3.6h-5.5zM408.4 1769.3h5.5v3.6h-5.5zM408.4 1779.6h5.5v3.6h-5.5zM408.4 1786.5h5.5v3.6h-5.5zM408.4 1793.4h5.5v3.6h-5.5zM408.4 1807.2h5.5v3.6h-5.5zM408.4 1820.9h5.5v3.6h-5.5zM413.7 1755.6h5.5v3.6h-5.5zM413.7 1765.9h5.5v3.6h-5.5zM413.7 1769.3h5.5v3.6h-5.5zM413.7 1772.8h5.5v3.6h-5.5zM413.7 1776.2h5.5v3.6h-5.5zM413.7 1810.6h5.5v3.6h-5.5zM413.7 1814.0h5.5v3.6h-5.5zM413.7 1824.4h5.5v3.6h-5.5zM413.7 1838.1h5.5v3.6h-5.5zM419.0 1790.0h5.5v3.6h-5.5zM419.0 1800.3h5.5v3.6h-5.5zM419.0 1814.0h5.5v3.6h-5.5zM419.0 1834.7h5.5v3.6h-5.5zM424.4 1748.7h5.5v3.6h-5.5zM424.4 1752.1h5.5v3.6h-5.5zM424.4 1786.5h5.5v3.6h-5.5zM424.4 1800.3h5.5v3.6h-5.5zM424.4 1807.2h5.5v3.6h-5.5zM424.4 1810.6h5.5v3.6h-5.5zM429.7 1762.4h5.5v3.6h-5.5zM429.7 1769.3h5.5v3.6h-5.5zM429.7 1776.2h5.5v3.6h-5.5zM429.7 1786.5h5.5v3.6h-5.5zM429.7 1790.0h5.5v3.6h-5.5zM435.0 1755.6h5.5v3.6h-5.5zM435.0 1759.0h5.5v3.6h-5.5zM435.0 1765.9h5.5v3.6h-5.5zM440.3 1752.1h5.5v3.6h-5.5zM445.7 1752.1h5.5v3.6h-5.5zM451.0 1748.7h5.5v3.6h-5.5z" fill="#7cc4a4"/><path d="M360.4 1748.7h5.5v3.6h-5.5zM360.4 1752.1h5.5v3.6h-5.5zM360.4 1772.8h5.5v3.6h-5.5zM360.4 1779.6h5.5v3.6h-5.5zM360.4 1783.1h5.5v3.6h-5.5zM360.4 1790.0h5.5v3.6h-5.5zM360.4 1807.2h5.5v3.6h-5.5zM360.4 1845.0h5.5v3.6h-5.5zM365.8 1759.0h5.5v3.6h-5.5zM365.8 1765.9h5.5v3.6h-5.5zM365.8 1772.8h5.5v3.6h-5.5zM365.8 1796.8h5.5v3.6h-5.5zM365.8 1807.2h5.5v3.6h-5.5zM365.8 1814.0h5.5v3.6h-5.5zM365.8 1817.5h5.5v3.6h-5.5zM365.8 1824.4h5.5v3.6h-5.5zM365.8 1831.3h5.5v3.6h-5.5zM365.8 1841.6h5.5v3.6h-5.5zM365.8 1845.0h5.5v3.6h-5.5zM371.1 1759.0h5.5v3.6h-5.5zM371.1 1779.6h5.5v3.6h-5.5zM371.1 1790.0h5.5v3.6h-5.5zM371.1 1803.7h5.5v3.6h-5.5zM371.1 1807.2h5.5v3.6h-5.5zM371.1 1817.5h5.5v3.6h-5.5zM371.1 1820.9h5.5v3.6h-5.5zM371.1 1838.1h5.5v3.6h-5.5zM371.1 1841.6h5.5v3.6h-5.5zM376.4 1755.6h5.5v3.6h-5.5zM376.4 1765.9h5.5v3.6h-5.5zM376.4 1772.8h5.5v3.6h-5.5zM376.4 1786.5h5.5v3.6h-5.5zM376.4 1800.3h5.5v3.6h-5.5zM376.4 1803.7h5.5v3.6h-5.5zM381.7 1769.3h5.5v3.6h-5.5zM381.7 1779.6h5.5v3.6h-5.5zM381.7 1783.1h5.5v3.6h-5.5zM381.7 1786.5h5.5v3.6h-5.5zM381.7 1796.8h5.5v3.6h-5.5zM381.7 1800.3h5.5v3.6h-5.5zM381.7 1807.2h5.5v3.6h-5.5zM381.7 1820.9h5.5v3.6h-5.5zM381.7 1824.4h5.5v3.6h-5.5zM381.7 1831.3h5.5v3.6h-5.5zM387.1 1755.6h5.5v3.6h-5.5zM387.1 1759.0h5.5v3.6h-5.5zM387.1 1776.2h5.5v3.6h-5.5zM387.1 1803.7h5.5v3.6h-5.5zM387.1 1838.1h5.5v3.6h-5.5zM387.1 1841.6h5.5v3.6h-5.5z" fill="#f6e000"/><path d="M360.4 1755.6h5.5v3.6h-5.5zM360.4 1800.3h5.5v3.6h-5.5zM360.4 1803.7h5.5v3.6h-5.5zM360.4 1810.6h5.5v3.6h-5.5zM360.4 1834.7h5.5v3.6h-5.5zM365.8 1790.0h5.5v3.6h-5.5zM365.8 1803.7h5.5v3.6h-5.5zM365.8 1810.6h5.5v3.6h-5.5zM365.8 1834.7h5.5v3.6h-5.5zM365.8 1838.1h5.5v3.6h-5.5zM371.1 1752.1h5.5v3.6h-5.5zM371.1 1772.8h5.5v3.6h-5.5zM371.1 1796.8h5.5v3.6h-5.5zM371.1 1800.3h5.5v3.6h-5.5zM371.1 1810.6h5.5v3.6h-5.5zM376.4 1748.7h5.5v3.6h-5.5zM376.4 1769.3h5.5v3.6h-5.5zM376.4 1807.2h5.5v3.6h-5.5zM376.4 1827.8h5.5v3.6h-5.5zM376.4 1831.3h5.5v3.6h-5.5zM376.4 1838.1h5.5v3.6h-5.5zM376.4 1845.0h5.5v3.6h-5.5zM381.7 1752.1h5.5v3.6h-5.5zM381.7 1762.4h5.5v3.6h-5.5zM381.7 1810.6h5.5v3.6h-5.5zM381.7 1817.5h5.5v3.6h-5.5zM381.7 1838.1h5.5v3.6h-5.5zM381.7 1841.6h5.5v3.6h-5.5zM387.1 1748.7h5.5v3.6h-5.5zM387.1 1765.9h5.5v3.6h-5.5zM387.1 1772.8h5.5v3.6h-5.5zM387.1 1783.1h5.5v3.6h-5.5zM387.1 1793.4h5.5v3.6h-5.5zM387.1 1807.2h5.5v3.6h-5.5zM387.1 1834.7h5.5v3.6h-5.5z" fill="#c4d428"/><path d="M440.3 1659.2h5.5v3.6h-5.5zM440.3 1662.7h5.5v3.6h-5.5zM440.3 1666.1h5.5v3.6h-5.5zM440.3 1669.5h5.5v3.6h-5.5zM440.3 1673.0h5.5v3.6h-5.5zM440.3 1679.9h5.5v3.6h-5.5zM440.3 1690.2h5.5v3.6h-5.5zM440.3 1693.6h5.5v3.6h-5.5zM440.3 1700.5h5.5v3.6h-5.5zM440.3 1707.4h5.5v3.6h-5.5zM440.3 1721.2h5.5v3.6h-5.5zM440.3 1728.0h5.5v3.6h-5.5zM440.3 1731.5h5.5v3.6h-5.5zM440.3 1738.4h5.5v3.6h-5.5zM445.7 1659.2h5.5v3.6h-5.5zM445.7 1662.7h5.5v3.6h-5.5zM445.7 1666.1h5.5v3.6h-5.5zM445.7 1673.0h5.5v3.6h-5.5zM445.7 1676.4h5.5v3.6h-5.5zM445.7 1679.9h5.5v3.6h-5.5zM445.7 1683.3h5.5v3.6h-5.5zM445.7 1700.5h5.5v3.6h-5.5zM445.7 1731.5h5.5v3.6h-5.5zM451.0 1669.5h5.5v3.6h-5.5zM451.0 1683.3h5.5v3.6h-5.5zM451.0 1707.4h5.5v3.6h-5.5zM451.0 1710.8h5.5v3.6h-5.5zM451.0 1714.3h5.5v3.6h-5.5zM451.0 1717.7h5.5v3.6h-5.5zM451.0 1721.2h5.5v3.6h-5.5zM451.0 1724.6h5.5v3.6h-5.5zM451.0 1728.0h5.5v3.6h-5.5zM451.0 1731.5h5.5v3.6h-5.5zM456.3 1659.2h5.5v3.6h-5.5zM456.3 1662.7h5.5v3.6h-5.5zM456.3 1666.1h5.5v3.6h-5.5zM456.3 1669.5h5.5v3.6h-5.5zM456.3 1673.0h5.5v3.6h-5.5zM456.3 1676.4h5.5v3.6h-5.5zM456.3 1690.2h5.5v3.6h-5.5zM456.3 1693.6h5.5v3.6h-5.5zM456.3 1700.5h5.5v3.6h-5.5zM456.3 1707.4h5.5v3.6h-5.5zM456.3 1710.8h5.5v3.6h-5.5zM456.3 1714.3h5.5v3.6h-5.5zM456.3 1717.7h5.5v3.6h-5.5zM456.3 1728.0h5.5v3.6h-5.5zM461.7 1666.1h5.5v3.6h-5.5zM461.7 1676.4h5.5v3.6h-5.5zM461.7 1686.7h5.5v3.6h-5.5zM461.7 1707.4h5.5v3.6h-5.5zM461.7 1721.2h5.5v3.6h-5.5zM461.7 1724.6h5.5v3.6h-5.5zM467.0 1662.7h5.5v3.6h-5.5zM467.0 1673.0h5.5v3.6h-5.5zM467.0 1676.4h5.5v3.6h-5.5zM467.0 1690.2h5.5v3.6h-5.5zM467.0 1693.6h5.5v3.6h-5.5zM467.0 1700.5h5.5v3.6h-5.5zM467.0 1707.4h5.5v3.6h-5.5zM467.0 1710.8h5.5v3.6h-5.5zM467.0 1714.3h5.5v3.6h-5.5zM467.0 1717.7h5.5v3.6h-5.5zM472.3 1669.5h5.5v3.6h-5.5zM472.3 1679.9h5.5v3.6h-5.5zM472.3 1690.2h5.5v3.6h-5.5zM472.3 1693.6h5.5v3.6h-5.5zM472.3 1700.5h5.5v3.6h-5.5zM472.3 1707.4h5.5v3.6h-5.5zM472.3 1714.3h5.5v3.6h-5.5zM472.3 1717.7h5.5v3.6h-5.5zM477.6 1673.0h5.5v3.6h-5.5zM477.6 1683.3h5.5v3.6h-5.5zM477.6 1690.2h5.5v3.6h-5.5zM477.6 1697.1h5.5v3.6h-5.5zM477.6 1700.5h5.5v3.6h-5.5zM477.6 1707.4h5.5v3.6h-5.5zM483.0 1679.9h5.5v3.6h-5.5zM483.0 1683.3h5.5v3.6h-5.5zM483.0 1693.6h5.5v3.6h-5.5zM483.0 1697.1h5.5v3.6h-5.5zM483.0 1700.5h5.5v3.6h-5.5zM483.0 1707.4h5.5v3.6h-5.5zM483.0 1710.8h5.5v3.6h-5.5zM488.3 1659.2h5.5v3.6h-5.5zM488.3 1662.7h5.5v3.6h-5.5zM488.3 1666.1h5.5v3.6h-5.5zM488.3 1676.4h5.5v3.6h-5.5zM488.3 1686.7h5.5v3.6h-5.5zM488.3 1690.2h5.5v3.6h-5.5zM488.3 1700.5h5.5v3.6h-5.5zM488.3 1704.0h5.5v3.6h-5.5zM488.3 1707.4h5.5v3.6h-5.5zM493.6 1666.1h5.5v3.6h-5.5zM493.6 1673.0h5.5v3.6h-5.5zM493.6 1683.3h5.5v3.6h-5.5zM493.6 1686.7h5.5v3.6h-5.5zM493.6 1707.4h5.5v3.6h-5.5zM499.0 1662.7h5.5v3.6h-5.5zM499.0 1666.1h5.5v3.6h-5.5zM499.0 1669.5h5.5v3.6h-5.5zM499.0 1679.9h5.5v3.6h-5.5zM499.0 1704.0h5.5v3.6h-5.5zM504.3 1659.2h5.5v3.6h-5.5zM504.3 1666.1h5.5v3.6h-5.5zM504.3 1669.5h5.5v3.6h-5.5zM504.3 1673.0h5.5v3.6h-5.5zM504.3 1676.4h5.5v3.6h-5.5zM504.3 1686.7h5.5v3.6h-5.5zM504.3 1690.2h5.5v3.6h-5.5zM504.3 1693.6h5.5v3.6h-5.5zM504.3 1697.1h5.5v3.6h-5.5zM509.6 1666.1h5.5v3.6h-5.5zM509.6 1673.0h5.5v3.6h-5.5zM509.6 1679.9h5.5v3.6h-5.5zM509.6 1683.3h5.5v3.6h-5.5zM509.6 1686.7h5.5v3.6h-5.5zM509.6 1690.2h5.5v3.6h-5.5zM509.6 1693.6h5.5v3.6h-5.5zM509.6 1697.1h5.5v3.6h-5.5zM509.6 1700.5h5.5v3.6h-5.5zM509.6 1704.0h5.5v3.6h-5.5zM514.9 1666.1h5.5v3.6h-5.5zM514.9 1669.5h5.5v3.6h-5.5zM514.9 1676.4h5.5v3.6h-5.5zM514.9 1683.3h5.5v3.6h-5.5zM514.9 1686.7h5.5v3.6h-5.5zM514.9 1690.2h5.5v3.6h-5.5zM520.3 1666.1h5.5v3.6h-5.5zM520.3 1669.5h5.5v3.6h-5.5zM520.3 1676.4h5.5v3.6h-5.5zM520.3 1683.3h5.5v3.6h-5.5zM520.3 1686.7h5.5v3.6h-5.5zM520.3 1690.2h5.5v3.6h-5.5zM520.3 1697.1h5.5v3.6h-5.5zM525.6 1673.0h5.5v3.6h-5.5zM525.6 1676.4h5.5v3.6h-5.5zM525.6 1679.9h5.5v3.6h-5.5zM530.9 1673.0h5.5v3.6h-5.5zM530.9 1676.4h5.5v3.6h-5.5zM530.9 1683.3h5.5v3.6h-5.5zM530.9 1686.7h5.5v3.6h-5.5zM536.3 1669.5h5.5v3.6h-5.5zM536.3 1683.3h5.5v3.6h-5.5zM536.3 1686.7h5.5v3.6h-5.5zM546.9 1662.7h5.5v3.6h-5.5z" fill="#8cc068"/><path d="M440.3 1676.4h5.5v3.6h-5.5zM440.3 1697.1h5.5v3.6h-5.5zM440.3 1714.3h5.5v3.6h-5.5zM440.3 1724.6h5.5v3.6h-5.5zM440.3 1734.9h5.5v3.6h-5.5zM445.7 1669.5h5.5v3.6h-5.5zM445.7 1693.6h5.5v3.6h-5.5zM445.7 1697.1h5.5v3.6h-5.5zM445.7 1704.0h5.5v3.6h-5.5zM445.7 1710.8h5.5v3.6h-5.5zM445.7 1714.3h5.5v3.6h-5.5zM445.7 1717.7h5.5v3.6h-5.5zM445.7 1724.6h5.5v3.6h-5.5zM445.7 1728.0h5.5v3.6h-5.5zM445.7 1734.9h5.5v3.6h-5.5zM451.0 1659.2h5.5v3.6h-5.5zM451.0 1666.1h5.5v3.6h-5.5zM451.0 1673.0h5.5v3.6h-5.5zM451.0 1686.7h5.5v3.6h-5.5zM451.0 1693.6h5.5v3.6h-5.5zM451.0 1697.1h5.5v3.6h-5.5zM451.0 1700.5h5.5v3.6h-5.5zM451.0 1704.0h5.5v3.6h-5.5zM456.3 1679.9h5.5v3.6h-5.5zM456.3 1683.3h5.5v3.6h-5.5zM456.3 1686.7h5.5v3.6h-5.5zM456.3 1724.6h5.5v3.6h-5.5zM461.7 1662.7h5.5v3.6h-5.5zM461.7 1669.5h5.5v3.6h-5.5zM461.7 1673.0h5.5v3.6h-5.5zM461.7 1679.9h5.5v3.6h-5.5zM461.7 1683.3h5.5v3.6h-5.5zM461.7 1700.5h5.5v3.6h-5.5zM461.7 1704.0h5.5v3.6h-5.5zM461.7 1710.8h5.5v3.6h-5.5zM467.0 1669.5h5.5v3.6h-5.5zM467.0 1679.9h5.5v3.6h-5.5zM467.0 1683.3h5.5v3.6h-5.5zM467.0 1686.7h5.5v3.6h-5.5zM467.0 1697.1h5.5v3.6h-5.5zM467.0 1721.2h5.5v3.6h-5.5zM472.3 1662.7h5.5v3.6h-5.5zM472.3 1676.4h5.5v3.6h-5.5zM472.3 1686.7h5.5v3.6h-5.5zM472.3 1697.1h5.5v3.6h-5.5zM472.3 1704.0h5.5v3.6h-5.5zM477.6 1662.7h5.5v3.6h-5.5zM477.6 1666.1h5.5v3.6h-5.5zM477.6 1669.5h5.5v3.6h-5.5zM477.6 1676.4h5.5v3.6h-5.5zM477.6 1679.9h5.5v3.6h-5.5zM477.6 1686.7h5.5v3.6h-5.5zM477.6 1693.6h5.5v3.6h-5.5zM477.6 1710.8h5.5v3.6h-5.5zM477.6 1717.7h5.5v3.6h-5.5zM483.0 1666.1h5.5v3.6h-5.5zM483.0 1686.7h5.5v3.6h-5.5zM483.0 1704.0h5.5v3.6h-5.5zM488.3 1679.9h5.5v3.6h-5.5zM488.3 1693.6h5.5v3.6h-5.5zM488.3 1710.8h5.5v3.6h-5.5zM488.3 1714.3h5.5v3.6h-5.5zM493.6 1662.7h5.5v3.6h-5.5zM493.6 1669.5h5.5v3.6h-5.5zM493.6 1676.4h5.5v3.6h-5.5zM493.6 1679.9h5.5v3.6h-5.5zM493.6 1700.5h5.5v3.6h-5.5zM499.0 1659.2h5.5v3.6h-5.5zM499.0 1673.0h5.5v3.6h-5.5zM499.0 1690.2h5.5v3.6h-5.5zM499.0 1693.6h5.5v3.6h-5.5zM499.0 1697.1h5.5v3.6h-5.5zM499.0 1700.5h5.5v3.6h-5.5zM499.0 1707.4h5.5v3.6h-5.5zM504.3 1679.9h5.5v3.6h-5.5zM504.3 1700.5h5.5v3.6h-5.5zM504.3 1704.0h5.5v3.6h-5.5zM509.6 1662.7h5.5v3.6h-5.5zM509.6 1669.5h5.5v3.6h-5.5zM514.9 1662.7h5.5v3.6h-5.5zM514.9 1693.6h5.5v3.6h-5.5zM520.3 1659.2h5.5v3.6h-5.5zM520.3 1673.0h5.5v3.6h-5.5zM520.3 1693.6h5.5v3.6h-5.5zM525.6 1662.7h5.5v3.6h-5.5zM525.6 1666.1h5.5v3.6h-5.5zM525.6 1686.7h5.5v3.6h-5.5zM525.6 1690.2h5.5v3.6h-5.5zM530.9 1659.2h5.5v3.6h-5.5zM530.9 1669.5h5.5v3.6h-5.5zM536.3 1662.7h5.5v3.6h-5.5zM536.3 1666.1h5.5v3.6h-5.5zM536.3 1673.0h5.5v3.6h-5.5zM536.3 1676.4h5.5v3.6h-5.5zM541.6 1659.2h5.5v3.6h-5.5zM541.6 1666.1h5.5v3.6h-5.5zM541.6 1669.5h5.5v3.6h-5.5zM541.6 1676.4h5.5v3.6h-5.5zM541.6 1679.9h5.5v3.6h-5.5zM546.9 1659.2h5.5v3.6h-5.5zM546.9 1666.1h5.5v3.6h-5.5zM546.9 1673.0h5.5v3.6h-5.5z" fill="#c4d428"/><path d="M440.3 1683.3h5.5v3.6h-5.5zM440.3 1686.7h5.5v3.6h-5.5zM440.3 1710.8h5.5v3.6h-5.5zM445.7 1707.4h5.5v3.6h-5.5zM445.7 1721.2h5.5v3.6h-5.5zM451.0 1662.7h5.5v3.6h-5.5zM451.0 1679.9h5.5v3.6h-5.5zM456.3 1697.1h5.5v3.6h-5.5zM456.3 1704.0h5.5v3.6h-5.5zM456.3 1721.2h5.5v3.6h-5.5zM461.7 1697.1h5.5v3.6h-5.5zM461.7 1714.3h5.5v3.6h-5.5zM467.0 1659.2h5.5v3.6h-5.5zM467.0 1666.1h5.5v3.6h-5.5zM467.0 1704.0h5.5v3.6h-5.5zM472.3 1659.2h5.5v3.6h-5.5zM472.3 1666.1h5.5v3.6h-5.5zM472.3 1710.8h5.5v3.6h-5.5zM472.3 1721.2h5.5v3.6h-5.5zM477.6 1704.0h5.5v3.6h-5.5zM477.6 1714.3h5.5v3.6h-5.5zM483.0 1669.5h5.5v3.6h-5.5zM483.0 1673.0h5.5v3.6h-5.5zM483.0 1690.2h5.5v3.6h-5.5zM488.3 1669.5h5.5v3.6h-5.5zM488.3 1683.3h5.5v3.6h-5.5zM488.3 1697.1h5.5v3.6h-5.5zM493.6 1690.2h5.5v3.6h-5.5zM493.6 1693.6h5.5v3.6h-5.5zM493.6 1697.1h5.5v3.6h-5.5zM493.6 1704.0h5.5v3.6h-5.5zM493.6 1710.8h5.5v3.6h-5.5zM499.0 1686.7h5.5v3.6h-5.5zM504.3 1662.7h5.5v3.6h-5.5zM504.3 1683.3h5.5v3.6h-5.5zM509.6 1659.2h5.5v3.6h-5.5zM514.9 1673.0h5.5v3.6h-5.5zM514.9 1700.5h5.5v3.6h-5.5zM520.3 1662.7h5.5v3.6h-5.5zM525.6 1659.2h5.5v3.6h-5.5zM525.6 1669.5h5.5v3.6h-5.5zM530.9 1690.2h5.5v3.6h-5.5zM536.3 1679.9h5.5v3.6h-5.5zM541.6 1662.7h5.5v3.6h-5.5zM552.2 1659.2h5.5v3.6h-5.5zM552.2 1662.7h5.5v3.6h-5.5z" fill="#7cc4a4"/><path d="M440.3 1704.0h5.5v3.6h-5.5zM440.3 1717.7h5.5v3.6h-5.5zM445.7 1686.7h5.5v3.6h-5.5zM445.7 1690.2h5.5v3.6h-5.5zM451.0 1676.4h5.5v3.6h-5.5zM451.0 1690.2h5.5v3.6h-5.5zM461.7 1659.2h5.5v3.6h-5.5zM461.7 1690.2h5.5v3.6h-5.5zM461.7 1693.6h5.5v3.6h-5.5zM461.7 1717.7h5.5v3.6h-5.5zM472.3 1673.0h5.5v3.6h-5.5zM472.3 1683.3h5.5v3.6h-5.5zM477.6 1659.2h5.5v3.6h-5.5zM483.0 1659.2h5.5v3.6h-5.5zM483.0 1662.7h5.5v3.6h-5.5zM483.0 1676.4h5.5v3.6h-5.5zM483.0 1714.3h5.5v3.6h-5.5zM488.3 1673.0h5.5v3.6h-5.5zM493.6 1659.2h5.5v3.6h-5.5zM499.0 1676.4h5.5v3.6h-5.5zM499.0 1683.3h5.5v3.6h-5.5zM509.6 1676.4h5.5v3.6h-5.5zM514.9 1659.2h5.5v3.6h-5.5zM514.9 1679.9h5.5v3.6h-5.5zM514.9 1697.1h5.5v3.6h-5.5zM520.3 1679.9h5.5v3.6h-5.5zM525.6 1683.3h5.5v3.6h-5.5zM525.6 1693.6h5.5v3.6h-5.5zM530.9 1662.7h5.5v3.6h-5.5zM530.9 1666.1h5.5v3.6h-5.5zM530.9 1679.9h5.5v3.6h-5.5zM536.3 1659.2h5.5v3.6h-5.5zM541.6 1673.0h5.5v3.6h-5.5zM546.9 1669.5h5.5v3.6h-5.5z" fill="#f6e000"/><path d="M557.6 1655.8h5.5v3.6h-5.5zM557.6 1662.7h5.5v3.6h-5.5zM562.9 1662.7h5.5v3.6h-5.5zM562.9 1666.1h5.5v3.6h-5.5zM562.9 1669.5h5.5v3.6h-5.5zM568.2 1666.1h5.5v3.6h-5.5zM573.5 1655.8h5.5v3.6h-5.5zM573.5 1659.2h5.5v3.6h-5.5zM573.5 1662.7h5.5v3.6h-5.5zM573.5 1666.1h5.5v3.6h-5.5zM578.9 1655.8h5.5v3.6h-5.5zM578.9 1659.2h5.5v3.6h-5.5zM578.9 1662.7h5.5v3.6h-5.5zM584.2 1652.3h5.5v3.6h-5.5zM584.2 1659.2h5.5v3.6h-5.5zM584.2 1662.7h5.5v3.6h-5.5zM589.5 1652.3h5.5v3.6h-5.5zM589.5 1659.2h5.5v3.6h-5.5zM589.5 1666.1h5.5v3.6h-5.5zM594.9 1655.8h5.5v3.6h-5.5zM594.9 1662.7h5.5v3.6h-5.5zM600.2 1652.3h5.5v3.6h-5.5zM600.2 1655.8h5.5v3.6h-5.5zM605.5 1662.7h5.5v3.6h-5.5zM610.8 1659.2h5.5v3.6h-5.5zM621.5 1659.2h5.5v3.6h-5.5zM626.8 1659.2h5.5v3.6h-5.5zM632.2 1655.8h5.5v3.6h-5.5zM637.5 1652.3h5.5v3.6h-5.5zM642.8 1655.8h5.5v3.6h-5.5zM642.8 1659.2h5.5v3.6h-5.5zM648.1 1652.3h5.5v3.6h-5.5zM648.1 1659.2h5.5v3.6h-5.5zM653.5 1652.3h5.5v3.6h-5.5zM658.8 1648.9h5.5v3.6h-5.5zM664.1 1652.3h5.5v3.6h-5.5zM664.1 1659.2h5.5v3.6h-5.5zM669.5 1645.5h5.5v3.6h-5.5zM680.1 1648.9h5.5v3.6h-5.5zM685.4 1648.9h5.5v3.6h-5.5z" fill="#7cc4a4"/><path d="M557.6 1659.2h5.5v3.6h-5.5zM557.6 1666.1h5.5v3.6h-5.5zM562.9 1655.8h5.5v3.6h-5.5zM568.2 1655.8h5.5v3.6h-5.5zM568.2 1662.7h5.5v3.6h-5.5zM578.9 1666.1h5.5v3.6h-5.5zM589.5 1662.7h5.5v3.6h-5.5zM594.9 1666.1h5.5v3.6h-5.5zM600.2 1662.7h5.5v3.6h-5.5zM605.5 1652.3h5.5v3.6h-5.5zM605.5 1655.8h5.5v3.6h-5.5zM610.8 1652.3h5.5v3.6h-5.5zM610.8 1655.8h5.5v3.6h-5.5zM616.2 1652.3h5.5v3.6h-5.5zM616.2 1655.8h5.5v3.6h-5.5zM616.2 1659.2h5.5v3.6h-5.5zM616.2 1662.7h5.5v3.6h-5.5zM621.5 1662.7h5.5v3.6h-5.5zM626.8 1648.9h5.5v3.6h-5.5zM626.8 1652.3h5.5v3.6h-5.5zM637.5 1648.9h5.5v3.6h-5.5zM642.8 1652.3h5.5v3.6h-5.5zM648.1 1648.9h5.5v3.6h-5.5zM653.5 1648.9h5.5v3.6h-5.5zM653.5 1659.2h5.5v3.6h-5.5zM669.5 1648.9h5.5v3.6h-5.5zM669.5 1652.3h5.5v3.6h-5.5zM674.8 1645.5h5.5v3.6h-5.5zM674.8 1648.9h5.5v3.6h-5.5zM674.8 1652.3h5.5v3.6h-5.5zM680.1 1652.3h5.5v3.6h-5.5z" fill="#c4d428"/><path d="M557.6 1669.5h5.5v3.6h-5.5zM562.9 1659.2h5.5v3.6h-5.5zM568.2 1659.2h5.5v3.6h-5.5zM573.5 1652.3h5.5v3.6h-5.5zM578.9 1652.3h5.5v3.6h-5.5zM584.2 1655.8h5.5v3.6h-5.5zM584.2 1666.1h5.5v3.6h-5.5zM589.5 1655.8h5.5v3.6h-5.5zM594.9 1652.3h5.5v3.6h-5.5zM594.9 1659.2h5.5v3.6h-5.5zM600.2 1659.2h5.5v3.6h-5.5zM605.5 1659.2h5.5v3.6h-5.5zM610.8 1662.7h5.5v3.6h-5.5zM621.5 1648.9h5.5v3.6h-5.5zM621.5 1652.3h5.5v3.6h-5.5zM621.5 1655.8h5.5v3.6h-5.5zM626.8 1655.8h5.5v3.6h-5.5zM626.8 1662.7h5.5v3.6h-5.5zM632.2 1648.9h5.5v3.6h-5.5zM632.2 1652.3h5.5v3.6h-5.5zM632.2 1659.2h5.5v3.6h-5.5zM632.2 1662.7h5.5v3.6h-5.5zM637.5 1655.8h5.5v3.6h-5.5zM637.5 1659.2h5.5v3.6h-5.5zM642.8 1648.9h5.5v3.6h-5.5zM648.1 1655.8h5.5v3.6h-5.5zM653.5 1655.8h5.5v3.6h-5.5zM658.8 1652.3h5.5v3.6h-5.5zM658.8 1655.8h5.5v3.6h-5.5zM658.8 1659.2h5.5v3.6h-5.5zM664.1 1648.9h5.5v3.6h-5.5zM664.1 1655.8h5.5v3.6h-5.5zM669.5 1655.8h5.5v3.6h-5.5zM674.8 1655.8h5.5v3.6h-5.5zM680.1 1645.5h5.5v3.6h-5.5zM680.1 1655.8h5.5v3.6h-5.5zM685.4 1645.5h5.5v3.6h-5.5zM690.8 1645.5h5.5v3.6h-5.5z" fill="#8cc068"/><polygon points="195.0,1612.0 215.0,1604.0 232.0,1604.0 238.0,1615.0 240.0,1630.0 238.0,1648.0 226.0,1648.0 216.0,1640.0 216.0,1630.0 195.0,1628.0" fill="#3b2085"/><polygon points="232.0,1604.0 245.0,1604.0 250.0,1620.0 252.0,1648.0 238.0,1648.0 240.0,1630.0 238.0,1615.0" fill="#30b0e8"/><polygon points="245.0,1600.0 270.0,1600.0 275.0,1648.0 252.0,1648.0 250.0,1620.0" fill="#7cc4a4"/><polygon points="285.0,1600.0 330.0,1596.0 400.0,1600.0 470.0,1608.0 520.0,1606.0 560.0,1600.0 600.0,1610.0 650.0,1628.0 700.0,1634.0 750.0,1636.0 700.0,1645.0 650.0,1658.0 600.0,1663.0 550.0,1665.0 500.0,1662.0 440.0,1665.0 425.0,1690.0 410.0,1705.0 380.0,1715.0 345.0,1710.0 325.0,1690.0 308.0,1660.0 292.0,1640.0" fill="#f6e000"/><polygon points="295.0,1612.0 330.0,1606.0 354.0,1601.0 385.0,1601.0 400.0,1607.0 440.0,1610.0 480.0,1613.0 520.0,1612.0 560.0,1608.0 600.0,1615.0 640.0,1625.0 680.0,1634.0 720.0,1637.0 690.0,1644.0 650.0,1653.0 600.0,1657.0 540.0,1655.0 480.0,1653.0 420.0,1653.0 405.0,1665.0 400.0,1682.0 385.0,1690.0 375.0,1675.0 365.0,1655.0 330.0,1650.0 300.0,1645.0" fill="#f6a010"/><polygon points="345.0,1625.0 358.0,1615.0 372.0,1612.0 385.0,1620.0 420.0,1628.0 480.0,1631.0 530.0,1630.0 580.0,1632.0 620.0,1635.0 660.0,1638.0 700.0,1640.0 660.0,1645.0 620.0,1648.0 560.0,1650.0 480.0,1649.0 420.0,1648.0 395.0,1655.0 385.0,1668.0 374.0,1655.0 360.0,1645.0 348.0,1638.0" fill="#ea5a14"/><polygon points="380.0,1632.0 440.0,1634.0 500.0,1636.0 560.0,1636.0 620.0,1638.0 660.0,1640.0 620.0,1646.0 560.0,1648.0 500.0,1647.0 440.0,1646.0 385.0,1645.0" fill="#d82a0e" fill-opacity="0.80"/><polygon points="560.0,1639.0 590.0,1638.0 615.0,1640.0 605.0,1647.0 575.0,1647.0" fill="#a01208"/><polygon points="277.0,1849.0 415.0,1849.0 415.0,1853.0 277.0,1853.0" fill="#f0a020"/><polygon points="300.0,1849.0 395.0,1849.0 395.0,1853.0 300.0,1853.0" fill="#e85018"/></g>
</g>
<g clip-path="url(#clip4)">
<g clip-path="url(#cp4)"><polygon points="291.0,2017.5 306.7,2015.0 308.0,1995.0 308.0,1970.0 317.6,1968.0 317.6,1948.0 324.0,1945.0 324.0,1933.0 343.0,1933.0 350.6,1925.0 350.6,1898.0 355.0,1894.0 360.0,1896.0 365.5,1898.0 365.5,1920.0 366.0,1930.0 371.0,1935.0 371.0,1958.0 386.7,1961.0 399.0,1967.0 413.0,1964.0 429.0,1950.0 444.7,1946.9 458.4,1952.4 483.1,1944.1 499.6,1944.1 518.8,1946.9 538.0,1949.6 546.0,1945.0 546.0,2034.7 527.0,2034.7 499.6,2037.4 472.2,2037.4 444.7,2034.7 417.3,2032.0 389.8,2029.2 362.4,2035.0 340.0,2030.0 312.9,2027.8 291.0,2027.8" fill="#3b2085"/><path d="M344.4 1996.4h5.5v3.6h-5.5zM344.4 2006.7h5.5v3.6h-5.5zM344.4 2017.0h5.5v3.6h-5.5zM349.8 1996.4h5.5v3.6h-5.5zM349.8 1999.8h5.5v3.6h-5.5zM349.8 2013.6h5.5v3.6h-5.5zM355.1 2006.7h5.5v3.6h-5.5zM355.1 2017.0h5.5v3.6h-5.5zM360.4 2003.3h5.5v3.6h-5.5zM360.4 2006.7h5.5v3.6h-5.5zM365.8 1996.4h5.5v3.6h-5.5zM365.8 1999.8h5.5v3.6h-5.5zM371.1 1996.4h5.5v3.6h-5.5zM371.1 2003.3h5.5v3.6h-5.5zM371.1 2013.6h5.5v3.6h-5.5zM376.4 2010.2h5.5v3.6h-5.5zM376.4 2013.6h5.5v3.6h-5.5zM376.4 2017.0h5.5v3.6h-5.5zM381.7 1999.8h5.5v3.6h-5.5zM387.1 1996.4h5.5v3.6h-5.5zM387.1 2006.7h5.5v3.6h-5.5zM387.1 2017.0h5.5v3.6h-5.5zM392.4 1999.8h5.5v3.6h-5.5zM392.4 2010.2h5.5v3.6h-5.5zM392.4 2013.6h5.5v3.6h-5.5zM397.7 1999.8h5.5v3.6h-5.5zM403.1 2003.3h5.5v3.6h-5.5zM403.1 2013.6h5.5v3.6h-5.5zM408.4 1999.8h5.5v3.6h-5.5zM408.4 2006.7h5.5v3.6h-5.5zM413.7 1996.4h5.5v3.6h-5.5zM413.7 2010.2h5.5v3.6h-5.5zM419.0 1996.4h5.5v3.6h-5.5zM419.0 1999.8h5.5v3.6h-5.5zM419.0 2003.3h5.5v3.6h-5.5zM419.0 2006.7h5.5v3.6h-5.5zM419.0 2010.2h5.5v3.6h-5.5zM419.0 2013.6h5.5v3.6h-5.5zM419.0 2017.0h5.5v3.6h-5.5zM424.4 1996.4h5.5v3.6h-5.5zM424.4 2010.2h5.5v3.6h-5.5zM424.4 2017.0h5.5v3.6h-5.5zM429.7 2003.3h5.5v3.6h-5.5zM429.7 2013.6h5.5v3.6h-5.5zM435.0 1996.4h5.5v3.6h-5.5zM435.0 1999.8h5.5v3.6h-5.5zM435.0 2006.7h5.5v3.6h-5.5zM435.0 2013.6h5.5v3.6h-5.5z" fill="#ffffff"/><path d="M344.4 1999.8h5.5v3.6h-5.5zM344.4 2003.3h5.5v3.6h-5.5zM344.4 2010.2h5.5v3.6h-5.5zM344.4 2013.6h5.5v3.6h-5.5zM349.8 2003.3h5.5v3.6h-5.5zM349.8 2006.7h5.5v3.6h-5.5zM349.8 2010.2h5.5v3.6h-5.5zM349.8 2017.0h5.5v3.6h-5.5zM355.1 1996.4h5.5v3.6h-5.5zM355.1 1999.8h5.5v3.6h-5.5zM355.1 2003.3h5.5v3.6h-5.5zM355.1 2010.2h5.5v3.6h-5.5zM355.1 2013.6h5.5v3.6h-5.5zM360.4 1996.4h5.5v3.6h-5.5zM360.4 1999.8h5.5v3.6h-5.5zM360.4 2010.2h5.5v3.6h-5.5zM360.4 2013.6h5.5v3.6h-5.5zM360.4 2017.0h5.5v3.6h-5.5zM365.8 2003.3h5.5v3.6h-5.5zM365.8 2006.7h5.5v3.6h-5.5zM365.8 2010.2h5.5v3.6h-5.5zM365.8 2013.6h5.5v3.6h-5.5zM365.8 2017.0h5.5v3.6h-5.5zM371.1 1999.8h5.5v3.6h-5.5zM371.1 2006.7h5.5v3.6h-5.5zM371.1 2010.2h5.5v3.6h-5.5zM371.1 2017.0h5.5v3.6h-5.5zM376.4 1996.4h5.5v3.6h-5.5zM376.4 1999.8h5.5v3.6h-5.5zM376.4 2003.3h5.5v3.6h-5.5zM376.4 2006.7h5.5v3.6h-5.5zM381.7 1996.4h5.5v3.6h-5.5zM381.7 2003.3h5.5v3.6h-5.5zM381.7 2006.7h5.5v3.6h-5.5zM381.7 2010.2h5.5v3.6h-5.5zM381.7 2013.6h5.5v3.6h-5.5zM381.7 2017.0h5.5v3.6h-5.5zM387.1 1999.8h5.5v3.6h-5.5zM387.1 2003.3h5.5v3.6h-5.5zM387.1 2010.2h5.5v3.6h-5.5zM387.1 2013.6h5.5v3.6h-5.5zM392.4 1996.4h5.5v3.6h-5.5zM392.4 2003.3h5.5v3.6h-5.5zM392.4 2006.7h5.5v3.6h-5.5zM392.4 2017.0h5.5v3.6h-5.5zM397.7 1996.4h5.5v3.6h-5.5zM397.7 2003.3h5.5v3.6h-5.5zM397.7 2006.7h5.5v3.6h-5.5zM397.7 2010.2h5.5v3.6h-5.5zM397.7 2013.6h5.5v3.6h-5.5zM397.7 2017.0h5.5v3.6h-5.5zM403.1 1996.4h5.5v3.6h-5.5zM403.1 1999.8h5.5v3.6h-5.5zM403.1 2006.7h5.5v3.6h-5.5zM403.1 2010.2h5.5v3.6h-5.5zM403.1 2017.0h5.5v3.6h-5.5zM408.4 1996.4h5.5v3.6h-5.5zM408.4 2003.3h5.5v3.6h-5.5zM408.4 2010.2h5.5v3.6h-5.5zM408.4 2013.6h5.5v3.6h-5.5zM408.4 2017.0h5.5v3.6h-5.5zM413.7 1999.8h5.5v3.6h-5.5zM413.7 2003.3h5.5v3.6h-5.5zM413.7 2006.7h5.5v3.6h-5.5zM413.7 2013.6h5.5v3.6h-5.5zM413.7 2017.0h5.5v3.6h-5.5zM424.4 1999.8h5.5v3.6h-5.5zM424.4 2003.3h5.5v3.6h-5.5zM424.4 2006.7h5.5v3.6h-5.5zM424.4 2013.6h5.5v3.6h-5.5zM429.7 1996.4h5.5v3.6h-5.5zM429.7 1999.8h5.5v3.6h-5.5zM429.7 2006.7h5.5v3.6h-5.5zM429.7 2010.2h5.5v3.6h-5.5zM429.7 2017.0h5.5v3.6h-5.5zM435.0 2003.3h5.5v3.6h-5.5zM435.0 2010.2h5.5v3.6h-5.5zM435.0 2017.0h5.5v3.6h-5.5z" fill="#3b2085"/><path d="M301.8 1889.7h5.5v3.6h-5.5zM301.8 1900.1h5.5v3.6h-5.5zM301.8 1903.5h5.5v3.6h-5.5zM301.8 1920.7h5.5v3.6h-5.5zM301.8 1934.5h5.5v3.6h-5.5zM301.8 1958.6h5.5v3.6h-5.5zM307.1 1924.1h5.5v3.6h-5.5zM307.1 1962.0h5.5v3.6h-5.5zM312.5 1955.1h5.5v3.6h-5.5zM317.8 1889.7h5.5v3.6h-5.5zM317.8 1934.5h5.5v3.6h-5.5zM317.8 1941.4h5.5v3.6h-5.5zM317.8 1965.4h5.5v3.6h-5.5zM323.1 1910.4h5.5v3.6h-5.5zM323.1 1927.6h5.5v3.6h-5.5zM328.5 1896.6h5.5v3.6h-5.5zM328.5 1955.1h5.5v3.6h-5.5zM328.5 1965.4h5.5v3.6h-5.5zM333.8 1906.9h5.5v3.6h-5.5zM333.8 1924.1h5.5v3.6h-5.5zM333.8 1937.9h5.5v3.6h-5.5zM333.8 1951.7h5.5v3.6h-5.5zM339.1 1906.9h5.5v3.6h-5.5zM339.1 1941.4h5.5v3.6h-5.5zM344.4 1900.1h5.5v3.6h-5.5zM349.8 1889.7h5.5v3.6h-5.5zM349.8 1896.6h5.5v3.6h-5.5zM349.8 1910.4h5.5v3.6h-5.5zM349.8 1924.1h5.5v3.6h-5.5zM355.1 1896.6h5.5v3.6h-5.5zM355.1 1903.5h5.5v3.6h-5.5zM355.1 1924.1h5.5v3.6h-5.5zM355.1 1944.8h5.5v3.6h-5.5zM355.1 1955.1h5.5v3.6h-5.5zM355.1 1958.6h5.5v3.6h-5.5zM360.4 1906.9h5.5v3.6h-5.5zM360.4 1944.8h5.5v3.6h-5.5zM360.4 1951.7h5.5v3.6h-5.5zM360.4 1962.0h5.5v3.6h-5.5zM365.8 1941.4h5.5v3.6h-5.5zM365.8 1951.7h5.5v3.6h-5.5z" fill="#ffffff"/><path d="M301.8 1893.2h5.5v3.6h-5.5zM301.8 1896.6h5.5v3.6h-5.5zM301.8 1906.9h5.5v3.6h-5.5zM301.8 1910.4h5.5v3.6h-5.5zM301.8 1913.8h5.5v3.6h-5.5zM301.8 1917.3h5.5v3.6h-5.5zM301.8 1924.1h5.5v3.6h-5.5zM301.8 1927.6h5.5v3.6h-5.5zM301.8 1931.0h5.5v3.6h-5.5zM301.8 1937.9h5.5v3.6h-5.5zM301.8 1941.4h5.5v3.6h-5.5zM301.8 1944.8h5.5v3.6h-5.5zM301.8 1948.2h5.5v3.6h-5.5zM301.8 1951.7h5.5v3.6h-5.5zM301.8 1955.1h5.5v3.6h-5.5zM301.8 1962.0h5.5v3.6h-5.5zM301.8 1965.4h5.5v3.6h-5.5zM307.1 1889.7h5.5v3.6h-5.5zM307.1 1893.2h5.5v3.6h-5.5zM307.1 1896.6h5.5v3.6h-5.5zM307.1 1900.1h5.5v3.6h-5.5zM307.1 1903.5h5.5v3.6h-5.5zM307.1 1906.9h5.5v3.6h-5.5zM307.1 1910.4h5.5v3.6h-5.5zM307.1 1913.8h5.5v3.6h-5.5zM307.1 1917.3h5.5v3.6h-5.5zM307.1 1920.7h5.5v3.6h-5.5zM307.1 1927.6h5.5v3.6h-5.5zM307.1 1931.0h5.5v3.6h-5.5zM307.1 1934.5h5.5v3.6h-5.5zM307.1 1937.9h5.5v3.6h-5.5zM307.1 1941.4h5.5v3.6h-5.5zM307.1 1944.8h5.5v3.6h-5.5zM307.1 1948.2h5.5v3.6h-5.5zM307.1 1951.7h5.5v3.6h-5.5zM307.1 1955.1h5.5v3.6h-5.5zM307.1 1958.6h5.5v3.6h-5.5zM307.1 1965.4h5.5v3.6h-5.5zM312.5 1889.7h5.5v3.6h-5.5zM312.5 1893.2h5.5v3.6h-5.5zM312.5 1896.6h5.5v3.6h-5.5zM312.5 1900.1h5.5v3.6h-5.5zM312.5 1903.5h5.5v3.6h-5.5zM312.5 1906.9h5.5v3.6h-5.5zM312.5 1910.4h5.5v3.6h-5.5zM312.5 1913.8h5.5v3.6h-5.5zM312.5 1917.3h5.5v3.6h-5.5zM312.5 1920.7h5.5v3.6h-5.5zM312.5 1924.1h5.5v3.6h-5.5zM312.5 1927.6h5.5v3.6h-5.5zM312.5 1931.0h5.5v3.6h-5.5zM312.5 1934.5h5.5v3.6h-5.5zM312.5 1937.9h5.5v3.6h-5.5zM312.5 1941.4h5.5v3.6h-5.5zM312.5 1944.8h5.5v3.6h-5.5zM312.5 1948.2h5.5v3.6h-5.5zM312.5 1951.7h5.5v3.6h-5.5zM312.5 1958.6h5.5v3.6h-5.5zM312.5 1962.0h5.5v3.6h-5.5zM312.5 1965.4h5.5v3.6h-5.5zM317.8 1893.2h5.5v3.6h-5.5zM317.8 1896.6h5.5v3.6h-5.5zM317.8 1900.1h5.5v3.6h-5.5zM317.8 1903.5h5.5v3.6h-5.5zM317.8 1906.9h5.5v3.6h-5.5zM317.8 1910.4h5.5v3.6h-5.5zM317.8 1913.8h5.5v3.6h-5.5zM317.8 1917.3h5.5v3.6h-5.5zM317.8 1920.7h5.5v3.6h-5.5zM317.8 1924.1h5.5v3.6h-5.5zM317.8 1927.6h5.5v3.6h-5.5zM317.8 1931.0h5.5v3.6h-5.5zM317.8 1937.9h5.5v3.6h-5.5zM317.8 1944.8h5.5v3.6h-5.5zM317.8 1948.2h5.5v3.6h-5.5zM317.8 1951.7h5.5v3.6h-5.5zM317.8 1955.1h5.5v3.6h-5.5zM317.8 1958.6h5.5v3.6h-5.5zM317.8 1962.0h5.5v3.6h-5.5zM323.1 1889.7h5.5v3.6h-5.5zM323.1 1893.2h5.5v3.6h-5.5zM323.1 1896.6h5.5v3.6h-5.5zM323.1 1900.1h5.5v3.6h-5.5zM323.1 1903.5h5.5v3.6h-5.5zM323.1 1906.9h5.5v3.6h-5.5zM323.1 1913.8h5.5v3.6h-5.5zM323.1 1917.3h5.5v3.6h-5.5zM323.1 1920.7h5.5v3.6h-5.5zM323.1 1924.1h5.5v3.6h-5.5zM323.1 1931.0h5.5v3.6h-5.5zM323.1 1934.5h5.5v3.6h-5.5zM323.1 1937.9h5.5v3.6h-5.5zM323.1 1941.4h5.5v3.6h-5.5zM323.1 1944.8h5.5v3.6h-5.5zM323.1 1948.2h5.5v3.6h-5.5zM323.1 1951.7h5.5v3.6h-5.5zM323.1 1955.1h5.5v3.6h-5.5zM323.1 1958.6h5.5v3.6h-5.5zM323.1 1962.0h5.5v3.6h-5.5zM323.1 1965.4h5.5v3.6h-5.5zM328.5 1889.7h5.5v3.6h-5.5zM328.5 1893.2h5.5v3.6h-5.5zM328.5 1900.1h5.5v3.6h-5.5zM328.5 1903.5h5.5v3.6h-5.5zM328.5 1906.9h5.5v3.6h-5.5zM328.5 1910.4h5.5v3.6h-5.5zM328.5 1913.8h5.5v3.6h-5.5zM328.5 1917.3h5.5v3.6h-5.5zM328.5 1920.7h5.5v3.6h-5.5zM328.5 1924.1h5.5v3.6h-5.5zM328.5 1927.6h5.5v3.6h-5.5zM328.5 1931.0h5.5v3.6h-5.5zM328.5 1934.5h5.5v3.6h-5.5zM328.5 1937.9h5.5v3.6h-5.5zM328.5 1941.4h5.5v3.6h-5.5zM328.5 1944.8h5.5v3.6h-5.5zM328.5 1948.2h5.5v3.6h-5.5zM328.5 1951.7h5.5v3.6h-5.5zM328.5 1958.6h5.5v3.6h-5.5zM328.5 1962.0h5.5v3.6h-5.5zM333.8 1889.7h5.5v3.6h-5.5zM333.8 1893.2h5.5v3.6h-5.5zM333.8 1896.6h5.5v3.6h-5.5zM333.8 1900.1h5.5v3.6h-5.5zM333.8 1903.5h5.5v3.6h-5.5zM333.8 1910.4h5.5v3.6h-5.5zM333.8 1913.8h5.5v3.6h-5.5zM333.8 1917.3h5.5v3.6h-5.5zM333.8 1920.7h5.5v3.6h-5.5zM333.8 1927.6h5.5v3.6h-5.5zM333.8 1931.0h5.5v3.6h-5.5zM333.8 1934.5h5.5v3.6h-5.5zM333.8 1941.4h5.5v3.6h-5.5zM333.8 1944.8h5.5v3.6h-5.5zM333.8 1948.2h5.5v3.6h-5.5zM333.8 1955.1h5.5v3.6h-5.5zM333.8 1958.6h5.5v3.6h-5.5zM333.8 1962.0h5.5v3.6h-5.5zM333.8 1965.4h5.5v3.6h-5.5zM339.1 1889.7h5.5v3.6h-5.5zM339.1 1893.2h5.5v3.6h-5.5zM339.1 1896.6h5.5v3.6h-5.5zM339.1 1900.1h5.5v3.6h-5.5zM339.1 1903.5h5.5v3.6h-5.5zM339.1 1910.4h5.5v3.6h-5.5zM339.1 1913.8h5.5v3.6h-5.5zM339.1 1917.3h5.5v3.6h-5.5zM339.1 1920.7h5.5v3.6h-5.5zM339.1 1924.1h5.5v3.6h-5.5zM339.1 1927.6h5.5v3.6h-5.5zM339.1 1931.0h5.5v3.6h-5.5zM339.1 1934.5h5.5v3.6h-5.5zM339.1 1937.9h5.5v3.6h-5.5zM339.1 1944.8h5.5v3.6h-5.5zM339.1 1948.2h5.5v3.6h-5.5zM339.1 1951.7h5.5v3.6h-5.5zM339.1 1955.1h5.5v3.6h-5.5zM339.1 1958.6h5.5v3.6h-5.5zM339.1 1962.0h5.5v3.6h-5.5zM339.1 1965.4h5.5v3.6h-5.5zM344.4 1889.7h5.5v3.6h-5.5zM344.4 1893.2h5.5v3.6h-5.5zM344.4 1896.6h5.5v3.6h-5.5zM344.4 1903.5h5.5v3.6h-5.5zM344.4 1906.9h5.5v3.6h-5.5zM344.4 1910.4h5.5v3.6h-5.5zM344.4 1913.8h5.5v3.6h-5.5zM344.4 1917.3h5.5v3.6h-5.5zM344.4 1920.7h5.5v3.6h-5.5zM344.4 1924.1h5.5v3.6h-5.5zM344.4 1927.6h5.5v3.6h-5.5zM344.4 1931.0h5.5v3.6h-5.5zM344.4 1934.5h5.5v3.6h-5.5zM344.4 1937.9h5.5v3.6h-5.5zM344.4 1941.4h5.5v3.6h-5.5zM344.4 1944.8h5.5v3.6h-5.5zM344.4 1948.2h5.5v3.6h-5.5zM344.4 1951.7h5.5v3.6h-5.5zM344.4 1955.1h5.5v3.6h-5.5zM344.4 1958.6h5.5v3.6h-5.5zM344.4 1962.0h5.5v3.6h-5.5zM344.4 1965.4h5.5v3.6h-5.5zM349.8 1893.2h5.5v3.6h-5.5zM349.8 1900.1h5.5v3.6h-5.5zM349.8 1903.5h5.5v3.6h-5.5zM349.8 1906.9h5.5v3.6h-5.5zM349.8 1913.8h5.5v3.6h-5.5zM349.8 1917.3h5.5v3.6h-5.5zM349.8 1920.7h5.5v3.6h-5.5zM349.8 1927.6h5.5v3.6h-5.5zM349.8 1931.0h5.5v3.6h-5.5zM349.8 1934.5h5.5v3.6h-5.5zM349.8 1937.9h5.5v3.6h-5.5zM349.8 1941.4h5.5v3.6h-5.5zM349.8 1944.8h5.5v3.6h-5.5zM349.8 1948.2h5.5v3.6h-5.5zM349.8 1951.7h5.5v3.6h-5.5zM349.8 1955.1h5.5v3.6h-5.5zM349.8 1958.6h5.5v3.6h-5.5zM349.8 1962.0h5.5v3.6h-5.5zM349.8 1965.4h5.5v3.6h-5.5zM355.1 1889.7h5.5v3.6h-5.5zM355.1 1893.2h5.5v3.6h-5.5zM355.1 1900.1h5.5v3.6h-5.5zM355.1 1906.9h5.5v3.6h-5.5zM355.1 1910.4h5.5v3.6h-5.5zM355.1 1913.8h5.5v3.6h-5.5zM355.1 1917.3h5.5v3.6h-5.5zM355.1 1920.7h5.5v3.6h-5.5zM355.1 1927.6h5.5v3.6h-5.5zM355.1 1931.0h5.5v3.6h-5.5zM355.1 1934.5h5.5v3.6h-5.5zM355.1 1937.9h5.5v3.6h-5.5zM355.1 1941.4h5.5v3.6h-5.5zM355.1 1948.2h5.5v3.6h-5.5zM355.1 1951.7h5.5v3.6h-5.5zM355.1 1962.0h5.5v3.6h-5.5zM355.1 1965.4h5.5v3.6h-5.5zM360.4 1889.7h5.5v3.6h-5.5zM360.4 1893.2h5.5v3.6h-5.5zM360.4 1896.6h5.5v3.6h-5.5zM360.4 1900.1h5.5v3.6h-5.5zM360.4 1903.5h5.5v3.6h-5.5zM360.4 1910.4h5.5v3.6h-5.5zM360.4 1913.8h5.5v3.6h-5.5zM360.4 1917.3h5.5v3.6h-5.5zM360.4 1920.7h5.5v3.6h-5.5zM360.4 1924.1h5.5v3.6h-5.5zM360.4 1927.6h5.5v3.6h-5.5zM360.4 1931.0h5.5v3.6h-5.5zM360.4 1934.5h5.5v3.6h-5.5zM360.4 1937.9h5.5v3.6h-5.5zM360.4 1941.4h5.5v3.6h-5.5zM360.4 1948.2h5.5v3.6h-5.5zM360.4 1955.1h5.5v3.6h-5.5zM360.4 1958.6h5.5v3.6h-5.5zM360.4 1965.4h5.5v3.6h-5.5zM365.8 1889.7h5.5v3.6h-5.5zM365.8 1893.2h5.5v3.6h-5.5zM365.8 1896.6h5.5v3.6h-5.5zM365.8 1900.1h5.5v3.6h-5.5zM365.8 1903.5h5.5v3.6h-5.5zM365.8 1906.9h5.5v3.6h-5.5zM365.8 1910.4h5.5v3.6h-5.5zM365.8 1913.8h5.5v3.6h-5.5zM365.8 1917.3h5.5v3.6h-5.5zM365.8 1920.7h5.5v3.6h-5.5zM365.8 1924.1h5.5v3.6h-5.5zM365.8 1927.6h5.5v3.6h-5.5zM365.8 1931.0h5.5v3.6h-5.5zM365.8 1934.5h5.5v3.6h-5.5zM365.8 1937.9h5.5v3.6h-5.5zM365.8 1944.8h5.5v3.6h-5.5zM365.8 1948.2h5.5v3.6h-5.5zM365.8 1955.1h5.5v3.6h-5.5zM365.8 1958.6h5.5v3.6h-5.5zM365.8 1962.0h5.5v3.6h-5.5zM365.8 1965.4h5.5v3.6h-5.5z" fill="#3b2085"/><path d="M419.0 1965.4h5.5v3.6h-5.5zM419.0 1968.9h5.5v3.6h-5.5zM419.0 1972.3h5.5v3.6h-5.5zM419.0 1975.8h5.5v3.6h-5.5zM419.0 1979.2h5.5v3.6h-5.5zM419.0 1986.1h5.5v3.6h-5.5zM419.0 1989.5h5.5v3.6h-5.5zM424.4 1965.4h5.5v3.6h-5.5zM424.4 1968.9h5.5v3.6h-5.5zM424.4 1972.3h5.5v3.6h-5.5zM424.4 1982.6h5.5v3.6h-5.5zM424.4 1986.1h5.5v3.6h-5.5zM429.7 1965.4h5.5v3.6h-5.5zM429.7 1968.9h5.5v3.6h-5.5zM429.7 1972.3h5.5v3.6h-5.5zM429.7 1982.6h5.5v3.6h-5.5zM429.7 1986.1h5.5v3.6h-5.5zM429.7 1989.5h5.5v3.6h-5.5zM429.7 1993.0h5.5v3.6h-5.5zM435.0 1968.9h5.5v3.6h-5.5zM435.0 1972.3h5.5v3.6h-5.5zM435.0 1975.8h5.5v3.6h-5.5zM435.0 1982.6h5.5v3.6h-5.5zM435.0 1993.0h5.5v3.6h-5.5zM440.3 1968.9h5.5v3.6h-5.5zM440.3 1979.2h5.5v3.6h-5.5zM440.3 1989.5h5.5v3.6h-5.5zM440.3 1993.0h5.5v3.6h-5.5z" fill="#3b2085"/><path d="M419.0 1982.6h5.5v3.6h-5.5zM419.0 1993.0h5.5v3.6h-5.5zM424.4 1979.2h5.5v3.6h-5.5zM424.4 1989.5h5.5v3.6h-5.5zM424.4 1993.0h5.5v3.6h-5.5zM429.7 1975.8h5.5v3.6h-5.5zM435.0 1979.2h5.5v3.6h-5.5zM435.0 1989.5h5.5v3.6h-5.5zM440.3 1965.4h5.5v3.6h-5.5zM440.3 1972.3h5.5v3.6h-5.5zM440.3 1975.8h5.5v3.6h-5.5zM440.3 1986.1h5.5v3.6h-5.5zM440.3 1996.4h5.5v3.6h-5.5z" fill="#3a6ad0"/><path d="M419.0 1996.4h5.5v3.6h-5.5zM424.4 1975.8h5.5v3.6h-5.5zM424.4 1996.4h5.5v3.6h-5.5zM429.7 1979.2h5.5v3.6h-5.5zM435.0 1965.4h5.5v3.6h-5.5zM435.0 1986.1h5.5v3.6h-5.5zM440.3 1982.6h5.5v3.6h-5.5z" fill="#ffffff"/><path d="M429.7 1996.4h5.5v3.6h-5.5zM435.0 1996.4h5.5v3.6h-5.5z" fill="#30b0e8"/><path d="M419.0 1999.8h5.5v3.6h-5.5zM419.0 2006.7h5.5v3.6h-5.5zM419.0 2023.9h5.5v3.6h-5.5zM424.4 1999.8h5.5v3.6h-5.5zM424.4 2006.7h5.5v3.6h-5.5zM424.4 2020.5h5.5v3.6h-5.5zM424.4 2030.8h5.5v3.6h-5.5zM429.7 1999.8h5.5v3.6h-5.5zM429.7 2003.3h5.5v3.6h-5.5zM429.7 2023.9h5.5v3.6h-5.5zM429.7 2034.2h5.5v3.6h-5.5zM429.7 2037.7h5.5v3.6h-5.5zM435.0 2003.3h5.5v3.6h-5.5zM435.0 2006.7h5.5v3.6h-5.5zM435.0 2010.2h5.5v3.6h-5.5zM435.0 2013.6h5.5v3.6h-5.5zM435.0 2023.9h5.5v3.6h-5.5zM435.0 2027.4h5.5v3.6h-5.5zM435.0 2037.7h5.5v3.6h-5.5zM440.3 1999.8h5.5v3.6h-5.5zM440.3 2010.2h5.5v3.6h-5.5zM440.3 2034.2h5.5v3.6h-5.5zM440.3 2037.7h5.5v3.6h-5.5z" fill="#3b2085"/><path d="M419.0 2003.3h5.5v3.6h-5.5zM419.0 2010.2h5.5v3.6h-5.5zM419.0 2017.0h5.5v3.6h-5.5zM419.0 2027.4h5.5v3.6h-5.5zM424.4 2017.0h5.5v3.6h-5.5zM429.7 2013.6h5.5v3.6h-5.5zM435.0 2030.8h5.5v3.6h-5.5zM440.3 2003.3h5.5v3.6h-5.5zM440.3 2006.7h5.5v3.6h-5.5zM440.3 2017.0h5.5v3.6h-5.5zM440.3 2030.8h5.5v3.6h-5.5z" fill="#3a6ad0"/><path d="M419.0 2013.6h5.5v3.6h-5.5zM419.0 2020.5h5.5v3.6h-5.5zM419.0 2034.2h5.5v3.6h-5.5zM419.0 2037.7h5.5v3.6h-5.5zM424.4 2003.3h5.5v3.6h-5.5zM424.4 2010.2h5.5v3.6h-5.5zM424.4 2013.6h5.5v3.6h-5.5zM424.4 2023.9h5.5v3.6h-5.5zM424.4 2027.4h5.5v3.6h-5.5zM424.4 2034.2h5.5v3.6h-5.5zM424.4 2037.7h5.5v3.6h-5.5zM429.7 2006.7h5.5v3.6h-5.5zM429.7 2010.2h5.5v3.6h-5.5zM429.7 2017.0h5.5v3.6h-5.5zM429.7 2020.5h5.5v3.6h-5.5zM429.7 2027.4h5.5v3.6h-5.5zM429.7 2030.8h5.5v3.6h-5.5zM435.0 1999.8h5.5v3.6h-5.5zM435.0 2017.0h5.5v3.6h-5.5zM435.0 2020.5h5.5v3.6h-5.5zM435.0 2034.2h5.5v3.6h-5.5zM440.3 2013.6h5.5v3.6h-5.5zM440.3 2020.5h5.5v3.6h-5.5zM440.3 2023.9h5.5v3.6h-5.5z" fill="#ffffff"/><path d="M419.0 2030.8h5.5v3.6h-5.5zM440.3 2027.4h5.5v3.6h-5.5z" fill="#30b0e8"/><path d="M445.7 1965.4h5.5v3.6h-5.5zM445.7 1968.9h5.5v3.6h-5.5zM445.7 1972.3h5.5v3.6h-5.5zM445.7 1975.8h5.5v3.6h-5.5zM445.7 1993.0h5.5v3.6h-5.5zM445.7 1996.4h5.5v3.6h-5.5zM445.7 2010.2h5.5v3.6h-5.5zM445.7 2017.0h5.5v3.6h-5.5zM445.7 2020.5h5.5v3.6h-5.5zM445.7 2023.9h5.5v3.6h-5.5zM451.0 1965.4h5.5v3.6h-5.5zM451.0 1968.9h5.5v3.6h-5.5zM451.0 1972.3h5.5v3.6h-5.5zM451.0 1989.5h5.5v3.6h-5.5zM451.0 2006.7h5.5v3.6h-5.5zM451.0 2013.6h5.5v3.6h-5.5zM451.0 2030.8h5.5v3.6h-5.5zM451.0 2034.2h5.5v3.6h-5.5zM456.3 1975.8h5.5v3.6h-5.5zM456.3 1979.2h5.5v3.6h-5.5zM456.3 2013.6h5.5v3.6h-5.5zM456.3 2023.9h5.5v3.6h-5.5zM461.7 1968.9h5.5v3.6h-5.5zM461.7 1986.1h5.5v3.6h-5.5zM461.7 1999.8h5.5v3.6h-5.5zM467.0 1979.2h5.5v3.6h-5.5zM467.0 1993.0h5.5v3.6h-5.5zM467.0 2003.3h5.5v3.6h-5.5zM467.0 2030.8h5.5v3.6h-5.5zM472.3 1968.9h5.5v3.6h-5.5zM472.3 1989.5h5.5v3.6h-5.5zM472.3 1999.8h5.5v3.6h-5.5zM472.3 2010.2h5.5v3.6h-5.5zM472.3 2023.9h5.5v3.6h-5.5zM472.3 2034.2h5.5v3.6h-5.5zM472.3 2037.7h5.5v3.6h-5.5zM477.6 1965.4h5.5v3.6h-5.5zM477.6 1968.9h5.5v3.6h-5.5zM477.6 1999.8h5.5v3.6h-5.5zM477.6 2010.2h5.5v3.6h-5.5zM483.0 1965.4h5.5v3.6h-5.5zM483.0 1975.8h5.5v3.6h-5.5zM483.0 1979.2h5.5v3.6h-5.5zM483.0 1986.1h5.5v3.6h-5.5zM483.0 1996.4h5.5v3.6h-5.5zM483.0 2003.3h5.5v3.6h-5.5zM483.0 2006.7h5.5v3.6h-5.5zM483.0 2027.4h5.5v3.6h-5.5zM488.3 1989.5h5.5v3.6h-5.5zM488.3 1996.4h5.5v3.6h-5.5zM488.3 1999.8h5.5v3.6h-5.5zM488.3 2017.0h5.5v3.6h-5.5zM488.3 2030.8h5.5v3.6h-5.5zM488.3 2037.7h5.5v3.6h-5.5z" fill="#3b2085"/><path d="M445.7 1979.2h5.5v3.6h-5.5zM445.7 1999.8h5.5v3.6h-5.5zM451.0 1975.8h5.5v3.6h-5.5zM451.0 2017.0h5.5v3.6h-5.5zM456.3 1972.3h5.5v3.6h-5.5zM456.3 1982.6h5.5v3.6h-5.5zM456.3 1986.1h5.5v3.6h-5.5zM456.3 1989.5h5.5v3.6h-5.5zM456.3 2003.3h5.5v3.6h-5.5zM456.3 2017.0h5.5v3.6h-5.5zM456.3 2020.5h5.5v3.6h-5.5zM461.7 1975.8h5.5v3.6h-5.5zM461.7 1979.2h5.5v3.6h-5.5zM461.7 2003.3h5.5v3.6h-5.5zM461.7 2006.7h5.5v3.6h-5.5zM461.7 2020.5h5.5v3.6h-5.5zM461.7 2023.9h5.5v3.6h-5.5zM467.0 1986.1h5.5v3.6h-5.5zM472.3 1996.4h5.5v3.6h-5.5zM472.3 2006.7h5.5v3.6h-5.5zM472.3 2020.5h5.5v3.6h-5.5zM472.3 2027.4h5.5v3.6h-5.5zM477.6 1972.3h5.5v3.6h-5.5zM477.6 1979.2h5.5v3.6h-5.5zM477.6 1986.1h5.5v3.6h-5.5zM477.6 1989.5h5.5v3.6h-5.5zM477.6 2013.6h5.5v3.6h-5.5zM477.6 2023.9h5.5v3.6h-5.5zM477.6 2037.7h5.5v3.6h-5.5zM483.0 2013.6h5.5v3.6h-5.5zM483.0 2017.0h5.5v3.6h-5.5zM483.0 2030.8h5.5v3.6h-5.5zM488.3 1975.8h5.5v3.6h-5.5zM488.3 2003.3h5.5v3.6h-5.5zM488.3 2023.9h5.5v3.6h-5.5zM488.3 2034.2h5.5v3.6h-5.5z" fill="#ffffff"/><path d="M445.7 1982.6h5.5v3.6h-5.5zM451.0 1993.0h5.5v3.6h-5.5zM451.0 1999.8h5.5v3.6h-5.5zM451.0 2037.7h5.5v3.6h-5.5zM456.3 2034.2h5.5v3.6h-5.5zM461.7 1965.4h5.5v3.6h-5.5zM467.0 2010.2h5.5v3.6h-5.5zM477.6 1982.6h5.5v3.6h-5.5zM483.0 1968.9h5.5v3.6h-5.5z" fill="#7cc4a4"/><path d="M445.7 1986.1h5.5v3.6h-5.5zM445.7 2003.3h5.5v3.6h-5.5zM445.7 2006.7h5.5v3.6h-5.5zM445.7 2037.7h5.5v3.6h-5.5zM451.0 1986.1h5.5v3.6h-5.5zM451.0 1996.4h5.5v3.6h-5.5zM451.0 2010.2h5.5v3.6h-5.5zM451.0 2020.5h5.5v3.6h-5.5zM451.0 2023.9h5.5v3.6h-5.5zM456.3 1965.4h5.5v3.6h-5.5zM456.3 1993.0h5.5v3.6h-5.5zM456.3 1999.8h5.5v3.6h-5.5zM456.3 2027.4h5.5v3.6h-5.5zM456.3 2037.7h5.5v3.6h-5.5zM461.7 1996.4h5.5v3.6h-5.5zM461.7 2010.2h5.5v3.6h-5.5zM461.7 2013.6h5.5v3.6h-5.5zM461.7 2027.4h5.5v3.6h-5.5zM461.7 2037.7h5.5v3.6h-5.5zM467.0 1965.4h5.5v3.6h-5.5zM467.0 1968.9h5.5v3.6h-5.5zM467.0 1982.6h5.5v3.6h-5.5zM467.0 1999.8h5.5v3.6h-5.5zM467.0 2017.0h5.5v3.6h-5.5zM467.0 2020.5h5.5v3.6h-5.5zM467.0 2027.4h5.5v3.6h-5.5zM467.0 2037.7h5.5v3.6h-5.5zM472.3 1965.4h5.5v3.6h-5.5zM472.3 1972.3h5.5v3.6h-5.5zM472.3 1979.2h5.5v3.6h-5.5zM472.3 1982.6h5.5v3.6h-5.5zM472.3 1986.1h5.5v3.6h-5.5zM472.3 1993.0h5.5v3.6h-5.5zM472.3 2003.3h5.5v3.6h-5.5zM477.6 1975.8h5.5v3.6h-5.5zM477.6 1993.0h5.5v3.6h-5.5zM477.6 2017.0h5.5v3.6h-5.5zM477.6 2020.5h5.5v3.6h-5.5zM477.6 2027.4h5.5v3.6h-5.5zM477.6 2034.2h5.5v3.6h-5.5zM483.0 1972.3h5.5v3.6h-5.5zM483.0 1993.0h5.5v3.6h-5.5zM483.0 2010.2h5.5v3.6h-5.5zM483.0 2023.9h5.5v3.6h-5.5zM483.0 2037.7h5.5v3.6h-5.5zM488.3 1968.9h5.5v3.6h-5.5zM488.3 2006.7h5.5v3.6h-5.5zM488.3 2013.6h5.5v3.6h-5.5zM488.3 2027.4h5.5v3.6h-5.5z" fill="#3a6ad0"/><path d="M445.7 1989.5h5.5v3.6h-5.5zM445.7 2013.6h5.5v3.6h-5.5zM445.7 2027.4h5.5v3.6h-5.5zM445.7 2030.8h5.5v3.6h-5.5zM445.7 2034.2h5.5v3.6h-5.5zM451.0 1979.2h5.5v3.6h-5.5zM451.0 1982.6h5.5v3.6h-5.5zM451.0 2003.3h5.5v3.6h-5.5zM451.0 2027.4h5.5v3.6h-5.5zM456.3 1968.9h5.5v3.6h-5.5zM456.3 1996.4h5.5v3.6h-5.5zM456.3 2006.7h5.5v3.6h-5.5zM456.3 2010.2h5.5v3.6h-5.5zM456.3 2030.8h5.5v3.6h-5.5zM461.7 1972.3h5.5v3.6h-5.5zM461.7 1982.6h5.5v3.6h-5.5zM461.7 1989.5h5.5v3.6h-5.5zM461.7 1993.0h5.5v3.6h-5.5zM461.7 2017.0h5.5v3.6h-5.5zM461.7 2030.8h5.5v3.6h-5.5zM461.7 2034.2h5.5v3.6h-5.5zM467.0 1972.3h5.5v3.6h-5.5zM467.0 1975.8h5.5v3.6h-5.5zM467.0 1989.5h5.5v3.6h-5.5zM467.0 1996.4h5.5v3.6h-5.5zM467.0 2006.7h5.5v3.6h-5.5zM467.0 2013.6h5.5v3.6h-5.5zM467.0 2023.9h5.5v3.6h-5.5zM467.0 2034.2h5.5v3.6h-5.5zM472.3 1975.8h5.5v3.6h-5.5zM472.3 2013.6h5.5v3.6h-5.5zM472.3 2017.0h5.5v3.6h-5.5zM472.3 2030.8h5.5v3.6h-5.5zM477.6 1996.4h5.5v3.6h-5.5zM477.6 2003.3h5.5v3.6h-5.5zM477.6 2006.7h5.5v3.6h-5.5zM477.6 2030.8h5.5v3.6h-5.5zM483.0 1982.6h5.5v3.6h-5.5zM483.0 1989.5h5.5v3.6h-5.5zM483.0 1999.8h5.5v3.6h-5.5zM483.0 2020.5h5.5v3.6h-5.5zM483.0 2034.2h5.5v3.6h-5.5zM488.3 1965.4h5.5v3.6h-5.5zM488.3 1972.3h5.5v3.6h-5.5zM488.3 1979.2h5.5v3.6h-5.5zM488.3 1982.6h5.5v3.6h-5.5zM488.3 1986.1h5.5v3.6h-5.5zM488.3 1993.0h5.5v3.6h-5.5zM488.3 2010.2h5.5v3.6h-5.5zM488.3 2020.5h5.5v3.6h-5.5z" fill="#30b0e8"/><path d="M493.6 1965.4h5.5v3.6h-5.5zM493.6 1979.2h5.5v3.6h-5.5zM493.6 1982.6h5.5v3.6h-5.5zM493.6 2030.8h5.5v3.6h-5.5zM493.6 2037.7h5.5v3.6h-5.5zM499.0 1965.4h5.5v3.6h-5.5zM499.0 1968.9h5.5v3.6h-5.5zM499.0 1972.3h5.5v3.6h-5.5zM499.0 1986.1h5.5v3.6h-5.5zM499.0 1989.5h5.5v3.6h-5.5zM499.0 2013.6h5.5v3.6h-5.5zM499.0 2017.0h5.5v3.6h-5.5zM499.0 2020.5h5.5v3.6h-5.5zM499.0 2027.4h5.5v3.6h-5.5zM504.3 1972.3h5.5v3.6h-5.5zM504.3 1989.5h5.5v3.6h-5.5zM504.3 2010.2h5.5v3.6h-5.5zM504.3 2027.4h5.5v3.6h-5.5zM509.6 1965.4h5.5v3.6h-5.5zM509.6 1972.3h5.5v3.6h-5.5zM509.6 1979.2h5.5v3.6h-5.5zM509.6 1986.1h5.5v3.6h-5.5zM509.6 1999.8h5.5v3.6h-5.5zM509.6 2006.7h5.5v3.6h-5.5zM509.6 2010.2h5.5v3.6h-5.5zM509.6 2013.6h5.5v3.6h-5.5zM509.6 2017.0h5.5v3.6h-5.5zM514.9 1975.8h5.5v3.6h-5.5zM514.9 1982.6h5.5v3.6h-5.5zM514.9 1986.1h5.5v3.6h-5.5zM514.9 1989.5h5.5v3.6h-5.5zM514.9 1993.0h5.5v3.6h-5.5zM514.9 1996.4h5.5v3.6h-5.5zM514.9 2006.7h5.5v3.6h-5.5zM514.9 2030.8h5.5v3.6h-5.5zM514.9 2034.2h5.5v3.6h-5.5zM520.3 1972.3h5.5v3.6h-5.5zM520.3 1975.8h5.5v3.6h-5.5zM520.3 1982.6h5.5v3.6h-5.5zM520.3 2003.3h5.5v3.6h-5.5zM520.3 2017.0h5.5v3.6h-5.5zM520.3 2023.9h5.5v3.6h-5.5zM520.3 2030.8h5.5v3.6h-5.5zM520.3 2034.2h5.5v3.6h-5.5zM520.3 2037.7h5.5v3.6h-5.5zM525.6 1968.9h5.5v3.6h-5.5zM525.6 1989.5h5.5v3.6h-5.5zM525.6 1993.0h5.5v3.6h-5.5zM525.6 2010.2h5.5v3.6h-5.5zM525.6 2020.5h5.5v3.6h-5.5zM525.6 2023.9h5.5v3.6h-5.5zM525.6 2030.8h5.5v3.6h-5.5zM525.6 2037.7h5.5v3.6h-5.5zM530.9 1965.4h5.5v3.6h-5.5zM530.9 1968.9h5.5v3.6h-5.5zM530.9 1979.2h5.5v3.6h-5.5zM530.9 1989.5h5.5v3.6h-5.5zM530.9 1996.4h5.5v3.6h-5.5zM530.9 1999.8h5.5v3.6h-5.5zM530.9 2003.3h5.5v3.6h-5.5zM530.9 2030.8h5.5v3.6h-5.5zM536.3 1968.9h5.5v3.6h-5.5zM536.3 1972.3h5.5v3.6h-5.5zM536.3 1979.2h5.5v3.6h-5.5zM536.3 1986.1h5.5v3.6h-5.5zM536.3 2006.7h5.5v3.6h-5.5zM536.3 2010.2h5.5v3.6h-5.5zM536.3 2013.6h5.5v3.6h-5.5zM536.3 2027.4h5.5v3.6h-5.5zM541.6 1972.3h5.5v3.6h-5.5zM541.6 1979.2h5.5v3.6h-5.5zM541.6 1986.1h5.5v3.6h-5.5zM541.6 1999.8h5.5v3.6h-5.5zM541.6 2003.3h5.5v3.6h-5.5zM541.6 2034.2h5.5v3.6h-5.5zM541.6 2037.7h5.5v3.6h-5.5zM546.9 1968.9h5.5v3.6h-5.5zM546.9 1972.3h5.5v3.6h-5.5zM546.9 1982.6h5.5v3.6h-5.5zM546.9 1986.1h5.5v3.6h-5.5zM546.9 1989.5h5.5v3.6h-5.5zM546.9 1996.4h5.5v3.6h-5.5zM546.9 2006.7h5.5v3.6h-5.5zM546.9 2010.2h5.5v3.6h-5.5zM546.9 2017.0h5.5v3.6h-5.5zM546.9 2023.9h5.5v3.6h-5.5zM546.9 2027.4h5.5v3.6h-5.5zM546.9 2030.8h5.5v3.6h-5.5zM546.9 2037.7h5.5v3.6h-5.5z" fill="#7cc4a4"/><path d="M493.6 1968.9h5.5v3.6h-5.5zM493.6 1972.3h5.5v3.6h-5.5zM493.6 1975.8h5.5v3.6h-5.5zM493.6 1996.4h5.5v3.6h-5.5zM493.6 1999.8h5.5v3.6h-5.5zM493.6 2003.3h5.5v3.6h-5.5zM493.6 2020.5h5.5v3.6h-5.5zM493.6 2027.4h5.5v3.6h-5.5zM499.0 1979.2h5.5v3.6h-5.5zM499.0 1996.4h5.5v3.6h-5.5zM499.0 2003.3h5.5v3.6h-5.5zM499.0 2006.7h5.5v3.6h-5.5zM499.0 2010.2h5.5v3.6h-5.5zM499.0 2023.9h5.5v3.6h-5.5zM499.0 2030.8h5.5v3.6h-5.5zM504.3 1965.4h5.5v3.6h-5.5zM504.3 2013.6h5.5v3.6h-5.5zM509.6 1982.6h5.5v3.6h-5.5zM509.6 1989.5h5.5v3.6h-5.5zM509.6 1993.0h5.5v3.6h-5.5zM509.6 2003.3h5.5v3.6h-5.5zM509.6 2020.5h5.5v3.6h-5.5zM509.6 2023.9h5.5v3.6h-5.5zM509.6 2027.4h5.5v3.6h-5.5zM509.6 2034.2h5.5v3.6h-5.5zM514.9 1979.2h5.5v3.6h-5.5zM514.9 2010.2h5.5v3.6h-5.5zM514.9 2027.4h5.5v3.6h-5.5zM520.3 1965.4h5.5v3.6h-5.5zM520.3 1979.2h5.5v3.6h-5.5zM520.3 1986.1h5.5v3.6h-5.5zM520.3 1989.5h5.5v3.6h-5.5zM520.3 1999.8h5.5v3.6h-5.5zM520.3 2020.5h5.5v3.6h-5.5zM520.3 2027.4h5.5v3.6h-5.5zM525.6 1975.8h5.5v3.6h-5.5zM525.6 1996.4h5.5v3.6h-5.5zM525.6 1999.8h5.5v3.6h-5.5zM525.6 2017.0h5.5v3.6h-5.5zM525.6 2027.4h5.5v3.6h-5.5zM530.9 1986.1h5.5v3.6h-5.5zM530.9 2020.5h5.5v3.6h-5.5zM530.9 2027.4h5.5v3.6h-5.5zM536.3 1965.4h5.5v3.6h-5.5zM536.3 1975.8h5.5v3.6h-5.5zM536.3 1982.6h5.5v3.6h-5.5zM536.3 1993.0h5.5v3.6h-5.5zM536.3 2017.0h5.5v3.6h-5.5zM536.3 2023.9h5.5v3.6h-5.5zM541.6 1982.6h5.5v3.6h-5.5zM541.6 1989.5h5.5v3.6h-5.5zM541.6 1993.0h5.5v3.6h-5.5zM541.6 1996.4h5.5v3.6h-5.5zM541.6 2010.2h5.5v3.6h-5.5zM541.6 2027.4h5.5v3.6h-5.5zM546.9 1979.2h5.5v3.6h-5.5zM546.9 2013.6h5.5v3.6h-5.5zM546.9 2020.5h5.5v3.6h-5.5z" fill="#ffffff"/><path d="M493.6 1986.1h5.5v3.6h-5.5zM493.6 1989.5h5.5v3.6h-5.5zM493.6 2010.2h5.5v3.6h-5.5zM493.6 2017.0h5.5v3.6h-5.5zM493.6 2034.2h5.5v3.6h-5.5zM499.0 1993.0h5.5v3.6h-5.5zM504.3 1975.8h5.5v3.6h-5.5zM504.3 1979.2h5.5v3.6h-5.5zM504.3 1986.1h5.5v3.6h-5.5zM504.3 1993.0h5.5v3.6h-5.5zM504.3 2003.3h5.5v3.6h-5.5zM504.3 2017.0h5.5v3.6h-5.5zM504.3 2030.8h5.5v3.6h-5.5zM509.6 1968.9h5.5v3.6h-5.5zM509.6 1975.8h5.5v3.6h-5.5zM509.6 1996.4h5.5v3.6h-5.5zM514.9 1968.9h5.5v3.6h-5.5zM514.9 1972.3h5.5v3.6h-5.5zM514.9 1999.8h5.5v3.6h-5.5zM514.9 2013.6h5.5v3.6h-5.5zM514.9 2017.0h5.5v3.6h-5.5zM514.9 2020.5h5.5v3.6h-5.5zM514.9 2037.7h5.5v3.6h-5.5zM520.3 1968.9h5.5v3.6h-5.5zM520.3 1996.4h5.5v3.6h-5.5zM525.6 1982.6h5.5v3.6h-5.5zM525.6 2003.3h5.5v3.6h-5.5zM525.6 2013.6h5.5v3.6h-5.5zM530.9 1982.6h5.5v3.6h-5.5zM530.9 2013.6h5.5v3.6h-5.5zM530.9 2017.0h5.5v3.6h-5.5zM536.3 1996.4h5.5v3.6h-5.5zM536.3 1999.8h5.5v3.6h-5.5zM536.3 2003.3h5.5v3.6h-5.5zM536.3 2020.5h5.5v3.6h-5.5zM536.3 2030.8h5.5v3.6h-5.5zM536.3 2037.7h5.5v3.6h-5.5zM541.6 2020.5h5.5v3.6h-5.5zM541.6 2030.8h5.5v3.6h-5.5zM546.9 1975.8h5.5v3.6h-5.5z" fill="#30b0e8"/><path d="M493.6 1993.0h5.5v3.6h-5.5zM493.6 2006.7h5.5v3.6h-5.5zM493.6 2013.6h5.5v3.6h-5.5zM493.6 2023.9h5.5v3.6h-5.5zM499.0 1975.8h5.5v3.6h-5.5zM499.0 1999.8h5.5v3.6h-5.5zM499.0 2034.2h5.5v3.6h-5.5zM499.0 2037.7h5.5v3.6h-5.5zM504.3 1968.9h5.5v3.6h-5.5zM504.3 1982.6h5.5v3.6h-5.5zM504.3 1996.4h5.5v3.6h-5.5zM504.3 1999.8h5.5v3.6h-5.5zM504.3 2006.7h5.5v3.6h-5.5zM504.3 2020.5h5.5v3.6h-5.5zM504.3 2034.2h5.5v3.6h-5.5zM504.3 2037.7h5.5v3.6h-5.5zM509.6 2030.8h5.5v3.6h-5.5zM509.6 2037.7h5.5v3.6h-5.5zM514.9 1965.4h5.5v3.6h-5.5zM514.9 2003.3h5.5v3.6h-5.5zM514.9 2023.9h5.5v3.6h-5.5zM520.3 1993.0h5.5v3.6h-5.5zM520.3 2006.7h5.5v3.6h-5.5zM520.3 2010.2h5.5v3.6h-5.5zM525.6 1965.4h5.5v3.6h-5.5zM525.6 1972.3h5.5v3.6h-5.5zM525.6 1979.2h5.5v3.6h-5.5zM525.6 2034.2h5.5v3.6h-5.5zM530.9 1972.3h5.5v3.6h-5.5zM530.9 2006.7h5.5v3.6h-5.5zM530.9 2010.2h5.5v3.6h-5.5zM530.9 2023.9h5.5v3.6h-5.5zM530.9 2034.2h5.5v3.6h-5.5zM530.9 2037.7h5.5v3.6h-5.5zM536.3 1989.5h5.5v3.6h-5.5zM541.6 1965.4h5.5v3.6h-5.5zM541.6 1968.9h5.5v3.6h-5.5zM541.6 1975.8h5.5v3.6h-5.5zM541.6 2006.7h5.5v3.6h-5.5zM541.6 2013.6h5.5v3.6h-5.5zM541.6 2017.0h5.5v3.6h-5.5zM541.6 2023.9h5.5v3.6h-5.5zM546.9 1965.4h5.5v3.6h-5.5zM546.9 1993.0h5.5v3.6h-5.5zM546.9 1999.8h5.5v3.6h-5.5z" fill="#8cc068"/><path d="M499.0 1982.6h5.5v3.6h-5.5zM504.3 2023.9h5.5v3.6h-5.5zM520.3 2013.6h5.5v3.6h-5.5zM525.6 1986.1h5.5v3.6h-5.5zM525.6 2006.7h5.5v3.6h-5.5zM530.9 1975.8h5.5v3.6h-5.5zM530.9 1993.0h5.5v3.6h-5.5zM536.3 2034.2h5.5v3.6h-5.5zM546.9 2003.3h5.5v3.6h-5.5zM546.9 2034.2h5.5v3.6h-5.5z" fill="#3a6ad0"/><path d="M419.0 1941.4h5.5v3.6h-5.5zM419.0 1944.8h5.5v3.6h-5.5zM419.0 1948.2h5.5v3.6h-5.5zM419.0 1951.7h5.5v3.6h-5.5zM419.0 1958.6h5.5v3.6h-5.5zM424.4 1941.4h5.5v3.6h-5.5zM424.4 1948.2h5.5v3.6h-5.5zM424.4 1955.1h5.5v3.6h-5.5zM424.4 1962.0h5.5v3.6h-5.5zM429.7 1941.4h5.5v3.6h-5.5zM429.7 1955.1h5.5v3.6h-5.5zM429.7 1958.6h5.5v3.6h-5.5zM435.0 1941.4h5.5v3.6h-5.5zM435.0 1944.8h5.5v3.6h-5.5zM435.0 1948.2h5.5v3.6h-5.5zM435.0 1955.1h5.5v3.6h-5.5zM435.0 1958.6h5.5v3.6h-5.5zM435.0 1962.0h5.5v3.6h-5.5zM440.3 1944.8h5.5v3.6h-5.5zM440.3 1948.2h5.5v3.6h-5.5zM440.3 1951.7h5.5v3.6h-5.5zM440.3 1958.6h5.5v3.6h-5.5zM440.3 1962.0h5.5v3.6h-5.5zM445.7 1941.4h5.5v3.6h-5.5zM445.7 1948.2h5.5v3.6h-5.5zM445.7 1951.7h5.5v3.6h-5.5zM445.7 1955.1h5.5v3.6h-5.5zM445.7 1962.0h5.5v3.6h-5.5zM451.0 1944.8h5.5v3.6h-5.5zM451.0 1948.2h5.5v3.6h-5.5zM451.0 1955.1h5.5v3.6h-5.5zM451.0 1958.6h5.5v3.6h-5.5zM451.0 1962.0h5.5v3.6h-5.5zM456.3 1941.4h5.5v3.6h-5.5zM456.3 1948.2h5.5v3.6h-5.5zM456.3 1955.1h5.5v3.6h-5.5zM456.3 1958.6h5.5v3.6h-5.5zM456.3 1962.0h5.5v3.6h-5.5zM461.7 1944.8h5.5v3.6h-5.5zM461.7 1948.2h5.5v3.6h-5.5zM461.7 1955.1h5.5v3.6h-5.5zM461.7 1958.6h5.5v3.6h-5.5zM461.7 1962.0h5.5v3.6h-5.5zM467.0 1941.4h5.5v3.6h-5.5zM467.0 1951.7h5.5v3.6h-5.5zM467.0 1958.6h5.5v3.6h-5.5zM467.0 1962.0h5.5v3.6h-5.5zM472.3 1944.8h5.5v3.6h-5.5zM472.3 1948.2h5.5v3.6h-5.5zM472.3 1951.7h5.5v3.6h-5.5zM472.3 1955.1h5.5v3.6h-5.5zM477.6 1941.4h5.5v3.6h-5.5zM477.6 1948.2h5.5v3.6h-5.5zM477.6 1958.6h5.5v3.6h-5.5zM483.0 1941.4h5.5v3.6h-5.5zM483.0 1944.8h5.5v3.6h-5.5zM483.0 1951.7h5.5v3.6h-5.5zM483.0 1955.1h5.5v3.6h-5.5zM483.0 1958.6h5.5v3.6h-5.5zM483.0 1962.0h5.5v3.6h-5.5zM488.3 1941.4h5.5v3.6h-5.5zM488.3 1944.8h5.5v3.6h-5.5zM488.3 1951.7h5.5v3.6h-5.5zM488.3 1955.1h5.5v3.6h-5.5zM488.3 1962.0h5.5v3.6h-5.5zM493.6 1944.8h5.5v3.6h-5.5zM493.6 1948.2h5.5v3.6h-5.5zM493.6 1951.7h5.5v3.6h-5.5zM493.6 1958.6h5.5v3.6h-5.5zM499.0 1941.4h5.5v3.6h-5.5zM499.0 1944.8h5.5v3.6h-5.5zM499.0 1951.7h5.5v3.6h-5.5zM504.3 1941.4h5.5v3.6h-5.5zM504.3 1944.8h5.5v3.6h-5.5zM504.3 1951.7h5.5v3.6h-5.5zM504.3 1962.0h5.5v3.6h-5.5zM509.6 1941.4h5.5v3.6h-5.5zM509.6 1944.8h5.5v3.6h-5.5zM509.6 1948.2h5.5v3.6h-5.5zM509.6 1951.7h5.5v3.6h-5.5zM509.6 1958.6h5.5v3.6h-5.5zM514.9 1944.8h5.5v3.6h-5.5zM514.9 1948.2h5.5v3.6h-5.5zM514.9 1955.1h5.5v3.6h-5.5zM514.9 1958.6h5.5v3.6h-5.5zM514.9 1962.0h5.5v3.6h-5.5zM520.3 1941.4h5.5v3.6h-5.5zM520.3 1944.8h5.5v3.6h-5.5zM520.3 1948.2h5.5v3.6h-5.5zM520.3 1951.7h5.5v3.6h-5.5zM520.3 1955.1h5.5v3.6h-5.5zM520.3 1958.6h5.5v3.6h-5.5zM525.6 1941.4h5.5v3.6h-5.5zM525.6 1944.8h5.5v3.6h-5.5zM525.6 1948.2h5.5v3.6h-5.5zM525.6 1955.1h5.5v3.6h-5.5zM525.6 1962.0h5.5v3.6h-5.5zM530.9 1941.4h5.5v3.6h-5.5zM530.9 1944.8h5.5v3.6h-5.5zM530.9 1948.2h5.5v3.6h-5.5zM530.9 1951.7h5.5v3.6h-5.5zM530.9 1958.6h5.5v3.6h-5.5zM536.3 1944.8h5.5v3.6h-5.5zM536.3 1948.2h5.5v3.6h-5.5zM536.3 1958.6h5.5v3.6h-5.5zM536.3 1962.0h5.5v3.6h-5.5zM541.6 1941.4h5.5v3.6h-5.5zM541.6 1955.1h5.5v3.6h-5.5zM541.6 1958.6h5.5v3.6h-5.5zM541.6 1962.0h5.5v3.6h-5.5zM546.9 1948.2h5.5v3.6h-5.5zM546.9 1958.6h5.5v3.6h-5.5zM546.9 1962.0h5.5v3.6h-5.5z" fill="#ffffff"/><path d="M419.0 1955.1h5.5v3.6h-5.5zM419.0 1962.0h5.5v3.6h-5.5zM424.4 1944.8h5.5v3.6h-5.5zM429.7 1948.2h5.5v3.6h-5.5zM429.7 1951.7h5.5v3.6h-5.5zM451.0 1951.7h5.5v3.6h-5.5zM456.3 1951.7h5.5v3.6h-5.5zM461.7 1941.4h5.5v3.6h-5.5zM461.7 1951.7h5.5v3.6h-5.5zM467.0 1955.1h5.5v3.6h-5.5zM472.3 1958.6h5.5v3.6h-5.5zM472.3 1962.0h5.5v3.6h-5.5zM477.6 1944.8h5.5v3.6h-5.5zM477.6 1962.0h5.5v3.6h-5.5zM499.0 1958.6h5.5v3.6h-5.5zM499.0 1962.0h5.5v3.6h-5.5zM514.9 1941.4h5.5v3.6h-5.5zM514.9 1951.7h5.5v3.6h-5.5zM525.6 1958.6h5.5v3.6h-5.5zM530.9 1955.1h5.5v3.6h-5.5zM530.9 1962.0h5.5v3.6h-5.5zM536.3 1941.4h5.5v3.6h-5.5zM536.3 1955.1h5.5v3.6h-5.5zM541.6 1944.8h5.5v3.6h-5.5zM541.6 1948.2h5.5v3.6h-5.5zM546.9 1944.8h5.5v3.6h-5.5zM546.9 1955.1h5.5v3.6h-5.5z" fill="#3b2085"/><path d="M424.4 1951.7h5.5v3.6h-5.5zM424.4 1958.6h5.5v3.6h-5.5zM440.3 1955.1h5.5v3.6h-5.5zM445.7 1944.8h5.5v3.6h-5.5zM477.6 1951.7h5.5v3.6h-5.5zM477.6 1955.1h5.5v3.6h-5.5zM483.0 1948.2h5.5v3.6h-5.5zM488.3 1958.6h5.5v3.6h-5.5zM493.6 1962.0h5.5v3.6h-5.5zM504.3 1958.6h5.5v3.6h-5.5zM520.3 1962.0h5.5v3.6h-5.5z" fill="#30b0e8"/><path d="M429.7 1944.8h5.5v3.6h-5.5zM429.7 1962.0h5.5v3.6h-5.5zM435.0 1951.7h5.5v3.6h-5.5zM440.3 1941.4h5.5v3.6h-5.5zM445.7 1958.6h5.5v3.6h-5.5zM451.0 1941.4h5.5v3.6h-5.5zM456.3 1944.8h5.5v3.6h-5.5zM467.0 1944.8h5.5v3.6h-5.5zM467.0 1948.2h5.5v3.6h-5.5zM472.3 1941.4h5.5v3.6h-5.5zM488.3 1948.2h5.5v3.6h-5.5zM493.6 1941.4h5.5v3.6h-5.5zM493.6 1955.1h5.5v3.6h-5.5zM499.0 1948.2h5.5v3.6h-5.5zM499.0 1955.1h5.5v3.6h-5.5zM504.3 1948.2h5.5v3.6h-5.5zM504.3 1955.1h5.5v3.6h-5.5zM509.6 1955.1h5.5v3.6h-5.5zM509.6 1962.0h5.5v3.6h-5.5zM525.6 1951.7h5.5v3.6h-5.5zM536.3 1951.7h5.5v3.6h-5.5zM541.6 1951.7h5.5v3.6h-5.5zM546.9 1941.4h5.5v3.6h-5.5zM546.9 1951.7h5.5v3.6h-5.5z" fill="#3a6ad0"/></g>
<rect x="360.0" y="1880.0" width="5.3" height="3.4" fill="#3b2085"/><rect x="355.0" y="1887.0" width="5.3" height="3.4" fill="#3b2085"/><rect x="366.0" y="1901.0" width="5.3" height="3.4" fill="#3b2085"/><rect x="323.0" y="1923.0" width="5.3" height="3.4" fill="#3b2085"/><rect x="328.0" y="1929.0" width="5.3" height="3.4" fill="#3b2085"/><rect x="332.0" y="1924.0" width="5.3" height="3.4" fill="#3b2085"/>
<g clip-path="url(#cm4)"><polygon points="200.0,2171.7 210.0,2166.7 210.0,2150.0 223.3,2140.0 250.0,2135.0 276.7,2128.3 300.0,2120.0 330.0,2106.7 350.0,2100.0 360.0,2092.0 385.5,2074.3 411.0,2066.7 433.9,2061.6 462.0,2051.4 482.4,2038.6 502.7,2025.9 523.1,2010.6 538.4,1995.3 544.0,1975.0 546.5,1924.1 546.5,1897.6 549.4,1891.8 554.0,1891.0 558.2,1909.4 567.0,1933.0 578.8,1953.5 587.6,1971.2 596.5,1980.0 617.0,1985.9 640.6,1988.8 661.2,1993.2 684.7,1997.6 693.5,2009.4 714.1,2015.3 728.8,2021.2 737.6,2027.0 742.0,2036.0 744.3,2100.0 749.8,2200.0 747.0,2312.0 697.0,2312.0 696.3,2200.0 692.0,2130.0 690.8,2112.0 686.7,2090.0 681.2,2071.0 674.3,2057.5 664.7,2052.0 646.5,2044.7 614.9,2056.5 589.4,2061.6 563.9,2064.1 548.6,2066.7 538.4,2076.9 523.1,2087.1 502.7,2094.7 482.4,2112.6 462.0,2122.7 436.5,2138.0 411.0,2155.9 390.0,2176.7 370.0,2186.7 323.3,2193.3 300.0,2201.7 260.0,2203.3 223.3,2190.0 223.3,2186.7 200.0,2173.3" fill="#ea5a14"/><polygon points="200.0,2171.7 210.0,2166.7 210.0,2150.0 223.3,2140.0 250.0,2135.0 276.7,2128.3 300.0,2120.0 330.0,2106.7 350.0,2100.0 360.0,2092.0 385.5,2074.3 411.0,2066.7 433.9,2061.6 462.0,2051.4 482.4,2038.6 502.7,2025.9 523.1,2010.6 538.4,1995.3 544.0,1975.0 546.5,1924.1 546.5,1897.6 549.4,1891.8 554.0,1891.0 558.2,1909.4 567.0,1933.0 578.8,1953.5 587.6,1971.2 596.5,1980.0 617.0,1985.9 640.6,1988.8 661.2,1993.2 684.7,1997.6 693.5,2009.4 714.1,2015.3 728.8,2021.2 737.6,2027.0 742.0,2036.0 744.3,2100.0 749.8,2200.0 747.0,2312.0 697.0,2312.0 696.3,2200.0 692.0,2130.0 690.8,2112.0 686.7,2090.0 681.2,2071.0 674.3,2057.5 664.7,2052.0 646.5,2044.7 614.9,2056.5 589.4,2061.6 563.9,2064.1 548.6,2066.7 538.4,2076.9 523.1,2087.1 502.7,2094.7 482.4,2112.6 462.0,2122.7 436.5,2138.0 411.0,2155.9 390.0,2176.7 370.0,2186.7 323.3,2193.3 300.0,2201.7 260.0,2203.3 223.3,2190.0 223.3,2186.7 200.0,2173.3" fill="none" stroke="#f6a010" stroke-width="22.0" stroke-linejoin="round"/><polygon points="200.0,2171.7 210.0,2166.7 210.0,2150.0 223.3,2140.0 250.0,2135.0 276.7,2128.3 300.0,2120.0 330.0,2106.7 350.0,2100.0 360.0,2092.0 385.5,2074.3 411.0,2066.7 433.9,2061.6 462.0,2051.4 482.4,2038.6 502.7,2025.9 523.1,2010.6 538.4,1995.3 544.0,1975.0 546.5,1924.1 546.5,1897.6 549.4,1891.8 554.0,1891.0 558.2,1909.4 567.0,1933.0 578.8,1953.5 587.6,1971.2 596.5,1980.0 617.0,1985.9 640.6,1988.8 661.2,1993.2 684.7,1997.6 693.5,2009.4 714.1,2015.3 728.8,2021.2 737.6,2027.0 742.0,2036.0 744.3,2100.0 749.8,2200.0 747.0,2312.0 697.0,2312.0 696.3,2200.0 692.0,2130.0 690.8,2112.0 686.7,2090.0 681.2,2071.0 674.3,2057.5 664.7,2052.0 646.5,2044.7 614.9,2056.5 589.4,2061.6 563.9,2064.1 548.6,2066.7 538.4,2076.9 523.1,2087.1 502.7,2094.7 482.4,2112.6 462.0,2122.7 436.5,2138.0 411.0,2155.9 390.0,2176.7 370.0,2186.7 323.3,2193.3 300.0,2201.7 260.0,2203.3 223.3,2190.0 223.3,2186.7 200.0,2173.3" fill="none" stroke="#f6e000" stroke-width="15.0" stroke-linejoin="round"/><polygon points="200.0,2171.7 210.0,2166.7 210.0,2150.0 223.3,2140.0 250.0,2135.0 276.7,2128.3 300.0,2120.0 330.0,2106.7 350.0,2100.0 360.0,2092.0 385.5,2074.3 411.0,2066.7 433.9,2061.6 462.0,2051.4 482.4,2038.6 502.7,2025.9 523.1,2010.6 538.4,1995.3 544.0,1975.0 546.5,1924.1 546.5,1897.6 549.4,1891.8 554.0,1891.0 558.2,1909.4 567.0,1933.0 578.8,1953.5 587.6,1971.2 596.5,1980.0 617.0,1985.9 640.6,1988.8 661.2,1993.2 684.7,1997.6 693.5,2009.4 714.1,2015.3 728.8,2021.2 737.6,2027.0 742.0,2036.0 744.3,2100.0 749.8,2200.0 747.0,2312.0 697.0,2312.0 696.3,2200.0 692.0,2130.0 690.8,2112.0 686.7,2090.0 681.2,2071.0 674.3,2057.5 664.7,2052.0 646.5,2044.7 614.9,2056.5 589.4,2061.6 563.9,2064.1 548.6,2066.7 538.4,2076.9 523.1,2087.1 502.7,2094.7 482.4,2112.6 462.0,2122.7 436.5,2138.0 411.0,2155.9 390.0,2176.7 370.0,2186.7 323.3,2193.3 300.0,2201.7 260.0,2203.3 223.3,2190.0 223.3,2186.7 200.0,2173.3" fill="none" stroke="#8cc068" stroke-width="10.0" stroke-linejoin="round"/><polygon points="200.0,2171.7 210.0,2166.7 210.0,2150.0 223.3,2140.0 250.0,2135.0 276.7,2128.3 300.0,2120.0 330.0,2106.7 350.0,2100.0 360.0,2092.0 385.5,2074.3 411.0,2066.7 433.9,2061.6 462.0,2051.4 482.4,2038.6 502.7,2025.9 523.1,2010.6 538.4,1995.3 544.0,1975.0 546.5,1924.1 546.5,1897.6 549.4,1891.8 554.0,1891.0 558.2,1909.4 567.0,1933.0 578.8,1953.5 587.6,1971.2 596.5,1980.0 617.0,1985.9 640.6,1988.8 661.2,1993.2 684.7,1997.6 693.5,2009.4 714.1,2015.3 728.8,2021.2 737.6,2027.0 742.0,2036.0 744.3,2100.0 749.8,2200.0 747.0,2312.0 697.0,2312.0 696.3,2200.0 692.0,2130.0 690.8,2112.0 686.7,2090.0 681.2,2071.0 674.3,2057.5 664.7,2052.0 646.5,2044.7 614.9,2056.5 589.4,2061.6 563.9,2064.1 548.6,2066.7 538.4,2076.9 523.1,2087.1 502.7,2094.7 482.4,2112.6 462.0,2122.7 436.5,2138.0 411.0,2155.9 390.0,2176.7 370.0,2186.7 323.3,2193.3 300.0,2201.7 260.0,2203.3 223.3,2190.0 223.3,2186.7 200.0,2173.3" fill="none" stroke="#7cc4a4" stroke-width="5.0" stroke-linejoin="round"/><polygon points="195.0,2125.0 300.0,2118.0 330.0,2104.0 345.0,2100.0 300.0,2135.0 275.0,2160.0 265.0,2185.0 262.0,2210.0 195.0,2210.0" fill="#7cc4a4"/><polygon points="345.0,2100.0 376.0,2077.0 397.0,2070.0 330.0,2123.0 310.0,2147.0 303.0,2187.0 300.0,2210.0 262.0,2210.0 265.0,2185.0 275.0,2160.0 300.0,2135.0" fill="#8cc068" fill-opacity="0.90"/><polygon points="397.0,2070.0 420.0,2066.0 350.0,2107.0 330.0,2125.0 312.0,2150.0 306.0,2190.0 303.0,2210.0 300.0,2210.0 303.0,2187.0 310.0,2147.0 330.0,2123.0" fill="#f6e000" fill-opacity="0.90"/><path d="M195.3 2140.9h5.5v3.6h-5.5zM195.3 2144.3h5.5v3.6h-5.5zM195.3 2147.8h5.5v3.6h-5.5zM195.3 2151.2h5.5v3.6h-5.5zM195.3 2154.7h5.5v3.6h-5.5zM195.3 2158.1h5.5v3.6h-5.5zM195.3 2161.6h5.5v3.6h-5.5zM195.3 2168.4h5.5v3.6h-5.5zM195.3 2175.3h5.5v3.6h-5.5zM195.3 2178.8h5.5v3.6h-5.5zM195.3 2192.5h5.5v3.6h-5.5zM195.3 2196.0h5.5v3.6h-5.5zM195.3 2202.8h5.5v3.6h-5.5zM195.3 2206.3h5.5v3.6h-5.5zM200.6 2144.3h5.5v3.6h-5.5zM200.6 2154.7h5.5v3.6h-5.5zM200.6 2161.6h5.5v3.6h-5.5zM200.6 2168.4h5.5v3.6h-5.5zM200.6 2171.9h5.5v3.6h-5.5zM200.6 2182.2h5.5v3.6h-5.5zM200.6 2202.8h5.5v3.6h-5.5zM200.6 2206.3h5.5v3.6h-5.5zM205.9 2140.9h5.5v3.6h-5.5zM205.9 2158.1h5.5v3.6h-5.5zM205.9 2171.9h5.5v3.6h-5.5zM205.9 2189.1h5.5v3.6h-5.5zM205.9 2202.8h5.5v3.6h-5.5zM205.9 2206.3h5.5v3.6h-5.5zM211.2 2140.9h5.5v3.6h-5.5zM211.2 2144.3h5.5v3.6h-5.5zM211.2 2171.9h5.5v3.6h-5.5zM211.2 2182.2h5.5v3.6h-5.5zM211.2 2185.6h5.5v3.6h-5.5zM211.2 2189.1h5.5v3.6h-5.5zM211.2 2196.0h5.5v3.6h-5.5zM211.2 2206.3h5.5v3.6h-5.5zM216.6 2144.3h5.5v3.6h-5.5zM216.6 2154.7h5.5v3.6h-5.5zM216.6 2161.6h5.5v3.6h-5.5zM216.6 2185.6h5.5v3.6h-5.5zM216.6 2196.0h5.5v3.6h-5.5zM221.9 2140.9h5.5v3.6h-5.5zM221.9 2144.3h5.5v3.6h-5.5zM221.9 2154.7h5.5v3.6h-5.5zM221.9 2161.6h5.5v3.6h-5.5zM221.9 2168.4h5.5v3.6h-5.5zM221.9 2175.3h5.5v3.6h-5.5zM221.9 2178.8h5.5v3.6h-5.5zM221.9 2182.2h5.5v3.6h-5.5zM221.9 2199.4h5.5v3.6h-5.5zM221.9 2206.3h5.5v3.6h-5.5zM227.2 2140.9h5.5v3.6h-5.5zM227.2 2144.3h5.5v3.6h-5.5zM227.2 2147.8h5.5v3.6h-5.5zM227.2 2154.7h5.5v3.6h-5.5zM227.2 2168.4h5.5v3.6h-5.5zM227.2 2182.2h5.5v3.6h-5.5zM227.2 2189.1h5.5v3.6h-5.5zM227.2 2192.5h5.5v3.6h-5.5zM227.2 2196.0h5.5v3.6h-5.5zM227.2 2202.8h5.5v3.6h-5.5zM227.2 2206.3h5.5v3.6h-5.5z" fill="#30b0e8"/><path d="M195.3 2165.0h5.5v3.6h-5.5zM195.3 2182.2h5.5v3.6h-5.5zM195.3 2185.6h5.5v3.6h-5.5zM195.3 2189.1h5.5v3.6h-5.5zM195.3 2199.4h5.5v3.6h-5.5zM200.6 2140.9h5.5v3.6h-5.5zM200.6 2151.2h5.5v3.6h-5.5zM200.6 2158.1h5.5v3.6h-5.5zM200.6 2175.3h5.5v3.6h-5.5zM200.6 2185.6h5.5v3.6h-5.5zM200.6 2192.5h5.5v3.6h-5.5zM200.6 2196.0h5.5v3.6h-5.5zM200.6 2199.4h5.5v3.6h-5.5zM205.9 2147.8h5.5v3.6h-5.5zM205.9 2151.2h5.5v3.6h-5.5zM205.9 2154.7h5.5v3.6h-5.5zM205.9 2161.6h5.5v3.6h-5.5zM205.9 2175.3h5.5v3.6h-5.5zM205.9 2178.8h5.5v3.6h-5.5zM205.9 2182.2h5.5v3.6h-5.5zM205.9 2196.0h5.5v3.6h-5.5zM205.9 2199.4h5.5v3.6h-5.5zM211.2 2147.8h5.5v3.6h-5.5zM211.2 2151.2h5.5v3.6h-5.5zM211.2 2154.7h5.5v3.6h-5.5zM211.2 2161.6h5.5v3.6h-5.5zM211.2 2175.3h5.5v3.6h-5.5zM211.2 2178.8h5.5v3.6h-5.5zM211.2 2192.5h5.5v3.6h-5.5zM211.2 2199.4h5.5v3.6h-5.5zM211.2 2202.8h5.5v3.6h-5.5zM216.6 2147.8h5.5v3.6h-5.5zM216.6 2151.2h5.5v3.6h-5.5zM216.6 2158.1h5.5v3.6h-5.5zM216.6 2165.0h5.5v3.6h-5.5zM216.6 2168.4h5.5v3.6h-5.5zM216.6 2175.3h5.5v3.6h-5.5zM216.6 2182.2h5.5v3.6h-5.5zM216.6 2192.5h5.5v3.6h-5.5zM216.6 2202.8h5.5v3.6h-5.5zM221.9 2151.2h5.5v3.6h-5.5zM221.9 2158.1h5.5v3.6h-5.5zM221.9 2185.6h5.5v3.6h-5.5zM221.9 2189.1h5.5v3.6h-5.5zM221.9 2202.8h5.5v3.6h-5.5zM227.2 2151.2h5.5v3.6h-5.5zM227.2 2161.6h5.5v3.6h-5.5zM227.2 2165.0h5.5v3.6h-5.5zM227.2 2171.9h5.5v3.6h-5.5zM227.2 2178.8h5.5v3.6h-5.5zM227.2 2199.4h5.5v3.6h-5.5z" fill="#3b2085"/><path d="M195.3 2171.9h5.5v3.6h-5.5zM200.6 2147.8h5.5v3.6h-5.5zM200.6 2165.0h5.5v3.6h-5.5zM200.6 2178.8h5.5v3.6h-5.5zM200.6 2189.1h5.5v3.6h-5.5zM205.9 2144.3h5.5v3.6h-5.5zM205.9 2165.0h5.5v3.6h-5.5zM205.9 2168.4h5.5v3.6h-5.5zM205.9 2185.6h5.5v3.6h-5.5zM205.9 2192.5h5.5v3.6h-5.5zM211.2 2158.1h5.5v3.6h-5.5zM211.2 2165.0h5.5v3.6h-5.5zM211.2 2168.4h5.5v3.6h-5.5zM216.6 2140.9h5.5v3.6h-5.5zM216.6 2171.9h5.5v3.6h-5.5zM216.6 2178.8h5.5v3.6h-5.5zM216.6 2189.1h5.5v3.6h-5.5zM216.6 2199.4h5.5v3.6h-5.5zM216.6 2206.3h5.5v3.6h-5.5zM221.9 2147.8h5.5v3.6h-5.5zM221.9 2165.0h5.5v3.6h-5.5zM221.9 2171.9h5.5v3.6h-5.5zM221.9 2192.5h5.5v3.6h-5.5zM221.9 2196.0h5.5v3.6h-5.5zM227.2 2158.1h5.5v3.6h-5.5zM227.2 2175.3h5.5v3.6h-5.5zM227.2 2185.6h5.5v3.6h-5.5z" fill="#3a6ad0"/><polygon points="195.0,2160.0 212.0,2160.0 220.0,2175.0 224.0,2195.0 210.0,2195.0 195.0,2180.0" fill="#3b2085"/><polygon points="655.0,1990.0 700.0,2000.0 705.0,2040.0 670.0,2055.0 650.0,2045.0" fill="#f6e000" fill-opacity="0.90"/><polygon points="680.0,1995.0 742.0,2025.0 745.0,2075.0 700.0,2080.0 672.0,2052.0 690.0,2030.0" fill="#8cc068" fill-opacity="0.95"/><polygon points="710.0,2030.0 745.0,2030.0 748.0,2090.0 700.0,2095.0 690.0,2070.0" fill="#7cc4a4" fill-opacity="0.90"/><path d="M690.8 2092.7h5.5v3.6h-5.5zM690.8 2171.9h5.5v3.6h-5.5zM690.8 2196.0h5.5v3.6h-5.5zM690.8 2199.4h5.5v3.6h-5.5zM690.8 2202.8h5.5v3.6h-5.5zM690.8 2209.7h5.5v3.6h-5.5zM690.8 2213.2h5.5v3.6h-5.5zM690.8 2216.6h5.5v3.6h-5.5zM690.8 2220.0h5.5v3.6h-5.5zM690.8 2237.2h5.5v3.6h-5.5zM690.8 2247.6h5.5v3.6h-5.5zM690.8 2257.9h5.5v3.6h-5.5zM690.8 2261.3h5.5v3.6h-5.5zM690.8 2268.2h5.5v3.6h-5.5zM690.8 2282.0h5.5v3.6h-5.5zM696.1 2092.7h5.5v3.6h-5.5zM696.1 2116.8h5.5v3.6h-5.5zM696.1 2120.3h5.5v3.6h-5.5zM696.1 2137.5h5.5v3.6h-5.5zM696.1 2144.3h5.5v3.6h-5.5zM696.1 2158.1h5.5v3.6h-5.5zM696.1 2182.2h5.5v3.6h-5.5zM696.1 2189.1h5.5v3.6h-5.5zM696.1 2206.3h5.5v3.6h-5.5zM696.1 2254.4h5.5v3.6h-5.5zM696.1 2257.9h5.5v3.6h-5.5zM696.1 2261.3h5.5v3.6h-5.5zM696.1 2268.2h5.5v3.6h-5.5zM696.1 2312.9h5.5v3.6h-5.5zM701.4 2147.8h5.5v3.6h-5.5zM701.4 2171.9h5.5v3.6h-5.5zM701.4 2178.8h5.5v3.6h-5.5zM701.4 2182.2h5.5v3.6h-5.5zM701.4 2199.4h5.5v3.6h-5.5zM701.4 2202.8h5.5v3.6h-5.5zM701.4 2244.1h5.5v3.6h-5.5zM701.4 2247.6h5.5v3.6h-5.5zM701.4 2268.2h5.5v3.6h-5.5zM701.4 2275.1h5.5v3.6h-5.5zM701.4 2282.0h5.5v3.6h-5.5zM701.4 2285.4h5.5v3.6h-5.5zM701.4 2295.7h5.5v3.6h-5.5zM701.4 2306.1h5.5v3.6h-5.5zM706.8 2103.1h5.5v3.6h-5.5zM706.8 2144.3h5.5v3.6h-5.5zM706.8 2161.6h5.5v3.6h-5.5zM706.8 2175.3h5.5v3.6h-5.5zM706.8 2182.2h5.5v3.6h-5.5zM706.8 2209.7h5.5v3.6h-5.5zM706.8 2233.8h5.5v3.6h-5.5zM706.8 2237.2h5.5v3.6h-5.5zM706.8 2302.6h5.5v3.6h-5.5zM712.1 2092.7h5.5v3.6h-5.5zM712.1 2109.9h5.5v3.6h-5.5zM712.1 2137.5h5.5v3.6h-5.5zM712.1 2140.9h5.5v3.6h-5.5zM712.1 2216.6h5.5v3.6h-5.5zM712.1 2233.8h5.5v3.6h-5.5zM712.1 2237.2h5.5v3.6h-5.5zM712.1 2244.1h5.5v3.6h-5.5zM712.1 2292.3h5.5v3.6h-5.5zM712.1 2306.1h5.5v3.6h-5.5zM712.1 2312.9h5.5v3.6h-5.5zM717.4 2099.6h5.5v3.6h-5.5zM717.4 2116.8h5.5v3.6h-5.5zM717.4 2140.9h5.5v3.6h-5.5zM717.4 2147.8h5.5v3.6h-5.5zM717.4 2223.5h5.5v3.6h-5.5zM717.4 2244.1h5.5v3.6h-5.5zM717.4 2285.4h5.5v3.6h-5.5zM717.4 2288.9h5.5v3.6h-5.5zM717.4 2312.9h5.5v3.6h-5.5zM722.7 2099.6h5.5v3.6h-5.5zM722.7 2109.9h5.5v3.6h-5.5zM722.7 2120.3h5.5v3.6h-5.5zM722.7 2123.7h5.5v3.6h-5.5zM722.7 2140.9h5.5v3.6h-5.5zM722.7 2206.3h5.5v3.6h-5.5zM722.7 2216.6h5.5v3.6h-5.5zM722.7 2233.8h5.5v3.6h-5.5zM722.7 2268.2h5.5v3.6h-5.5zM722.7 2288.9h5.5v3.6h-5.5zM722.7 2312.9h5.5v3.6h-5.5zM728.1 2120.3h5.5v3.6h-5.5zM728.1 2137.5h5.5v3.6h-5.5zM728.1 2140.9h5.5v3.6h-5.5zM728.1 2144.3h5.5v3.6h-5.5zM728.1 2165.0h5.5v3.6h-5.5zM728.1 2202.8h5.5v3.6h-5.5zM728.1 2216.6h5.5v3.6h-5.5zM728.1 2247.6h5.5v3.6h-5.5zM728.1 2251.0h5.5v3.6h-5.5zM728.1 2257.9h5.5v3.6h-5.5zM728.1 2268.2h5.5v3.6h-5.5zM728.1 2285.4h5.5v3.6h-5.5zM728.1 2302.6h5.5v3.6h-5.5zM733.4 2137.5h5.5v3.6h-5.5zM733.4 2161.6h5.5v3.6h-5.5zM733.4 2233.8h5.5v3.6h-5.5zM733.4 2254.4h5.5v3.6h-5.5zM733.4 2285.4h5.5v3.6h-5.5zM733.4 2306.1h5.5v3.6h-5.5zM738.7 2103.1h5.5v3.6h-5.5zM738.7 2113.4h5.5v3.6h-5.5zM738.7 2127.1h5.5v3.6h-5.5zM738.7 2171.9h5.5v3.6h-5.5zM738.7 2178.8h5.5v3.6h-5.5zM738.7 2206.3h5.5v3.6h-5.5zM738.7 2271.7h5.5v3.6h-5.5zM738.7 2275.1h5.5v3.6h-5.5zM738.7 2278.5h5.5v3.6h-5.5zM738.7 2282.0h5.5v3.6h-5.5zM738.7 2288.9h5.5v3.6h-5.5zM738.7 2295.7h5.5v3.6h-5.5zM738.7 2306.1h5.5v3.6h-5.5zM738.7 2312.9h5.5v3.6h-5.5zM744.0 2092.7h5.5v3.6h-5.5zM744.0 2120.3h5.5v3.6h-5.5zM744.0 2123.7h5.5v3.6h-5.5zM744.0 2130.6h5.5v3.6h-5.5zM744.0 2140.9h5.5v3.6h-5.5zM744.0 2165.0h5.5v3.6h-5.5zM744.0 2168.4h5.5v3.6h-5.5zM744.0 2171.9h5.5v3.6h-5.5zM744.0 2175.3h5.5v3.6h-5.5zM744.0 2192.5h5.5v3.6h-5.5zM744.0 2196.0h5.5v3.6h-5.5zM744.0 2209.7h5.5v3.6h-5.5zM744.0 2216.6h5.5v3.6h-5.5zM744.0 2240.7h5.5v3.6h-5.5zM744.0 2257.9h5.5v3.6h-5.5zM744.0 2275.1h5.5v3.6h-5.5zM744.0 2295.7h5.5v3.6h-5.5zM744.0 2299.2h5.5v3.6h-5.5zM744.0 2309.5h5.5v3.6h-5.5z" fill="#30b0e8"/><path d="M690.8 2096.2h5.5v3.6h-5.5zM690.8 2099.6h5.5v3.6h-5.5zM690.8 2103.1h5.5v3.6h-5.5zM690.8 2113.4h5.5v3.6h-5.5zM690.8 2116.8h5.5v3.6h-5.5zM690.8 2134.0h5.5v3.6h-5.5zM690.8 2137.5h5.5v3.6h-5.5zM690.8 2144.3h5.5v3.6h-5.5zM690.8 2154.7h5.5v3.6h-5.5zM690.8 2158.1h5.5v3.6h-5.5zM690.8 2161.6h5.5v3.6h-5.5zM690.8 2165.0h5.5v3.6h-5.5zM690.8 2168.4h5.5v3.6h-5.5zM690.8 2175.3h5.5v3.6h-5.5zM690.8 2178.8h5.5v3.6h-5.5zM690.8 2185.6h5.5v3.6h-5.5zM690.8 2192.5h5.5v3.6h-5.5zM690.8 2206.3h5.5v3.6h-5.5zM690.8 2223.5h5.5v3.6h-5.5zM690.8 2226.9h5.5v3.6h-5.5zM690.8 2230.4h5.5v3.6h-5.5zM690.8 2233.8h5.5v3.6h-5.5zM690.8 2240.7h5.5v3.6h-5.5zM690.8 2244.1h5.5v3.6h-5.5zM690.8 2251.0h5.5v3.6h-5.5zM690.8 2264.8h5.5v3.6h-5.5zM690.8 2271.7h5.5v3.6h-5.5zM690.8 2275.1h5.5v3.6h-5.5zM690.8 2292.3h5.5v3.6h-5.5zM690.8 2295.7h5.5v3.6h-5.5zM696.1 2103.1h5.5v3.6h-5.5zM696.1 2130.6h5.5v3.6h-5.5zM696.1 2134.0h5.5v3.6h-5.5zM696.1 2140.9h5.5v3.6h-5.5zM696.1 2151.2h5.5v3.6h-5.5zM696.1 2154.7h5.5v3.6h-5.5zM696.1 2161.6h5.5v3.6h-5.5zM696.1 2165.0h5.5v3.6h-5.5zM696.1 2171.9h5.5v3.6h-5.5zM696.1 2175.3h5.5v3.6h-5.5zM696.1 2185.6h5.5v3.6h-5.5zM696.1 2199.4h5.5v3.6h-5.5zM696.1 2209.7h5.5v3.6h-5.5zM696.1 2230.4h5.5v3.6h-5.5zM696.1 2233.8h5.5v3.6h-5.5zM696.1 2237.2h5.5v3.6h-5.5zM696.1 2240.7h5.5v3.6h-5.5zM696.1 2247.6h5.5v3.6h-5.5zM696.1 2264.8h5.5v3.6h-5.5zM696.1 2271.7h5.5v3.6h-5.5zM696.1 2278.5h5.5v3.6h-5.5zM696.1 2285.4h5.5v3.6h-5.5zM696.1 2292.3h5.5v3.6h-5.5zM696.1 2299.2h5.5v3.6h-5.5zM696.1 2309.5h5.5v3.6h-5.5zM701.4 2096.2h5.5v3.6h-5.5zM701.4 2099.6h5.5v3.6h-5.5zM701.4 2106.5h5.5v3.6h-5.5zM701.4 2116.8h5.5v3.6h-5.5zM701.4 2120.3h5.5v3.6h-5.5zM701.4 2127.1h5.5v3.6h-5.5zM701.4 2144.3h5.5v3.6h-5.5zM701.4 2151.2h5.5v3.6h-5.5zM701.4 2158.1h5.5v3.6h-5.5zM701.4 2168.4h5.5v3.6h-5.5zM701.4 2175.3h5.5v3.6h-5.5zM701.4 2185.6h5.5v3.6h-5.5zM701.4 2196.0h5.5v3.6h-5.5zM701.4 2209.7h5.5v3.6h-5.5zM701.4 2213.2h5.5v3.6h-5.5zM701.4 2216.6h5.5v3.6h-5.5zM701.4 2220.0h5.5v3.6h-5.5zM701.4 2251.0h5.5v3.6h-5.5zM701.4 2257.9h5.5v3.6h-5.5zM701.4 2264.8h5.5v3.6h-5.5zM701.4 2271.7h5.5v3.6h-5.5zM701.4 2302.6h5.5v3.6h-5.5zM701.4 2309.5h5.5v3.6h-5.5zM701.4 2312.9h5.5v3.6h-5.5zM706.8 2120.3h5.5v3.6h-5.5zM706.8 2127.1h5.5v3.6h-5.5zM706.8 2130.6h5.5v3.6h-5.5zM706.8 2154.7h5.5v3.6h-5.5zM706.8 2168.4h5.5v3.6h-5.5zM706.8 2189.1h5.5v3.6h-5.5zM706.8 2192.5h5.5v3.6h-5.5zM706.8 2196.0h5.5v3.6h-5.5zM706.8 2199.4h5.5v3.6h-5.5zM706.8 2202.8h5.5v3.6h-5.5zM706.8 2213.2h5.5v3.6h-5.5zM706.8 2216.6h5.5v3.6h-5.5zM706.8 2220.0h5.5v3.6h-5.5zM706.8 2223.5h5.5v3.6h-5.5zM706.8 2230.4h5.5v3.6h-5.5zM706.8 2240.7h5.5v3.6h-5.5zM706.8 2247.6h5.5v3.6h-5.5zM706.8 2257.9h5.5v3.6h-5.5zM706.8 2261.3h5.5v3.6h-5.5zM706.8 2264.8h5.5v3.6h-5.5zM706.8 2268.2h5.5v3.6h-5.5zM706.8 2271.7h5.5v3.6h-5.5zM712.1 2096.2h5.5v3.6h-5.5zM712.1 2116.8h5.5v3.6h-5.5zM712.1 2120.3h5.5v3.6h-5.5zM712.1 2123.7h5.5v3.6h-5.5zM712.1 2127.1h5.5v3.6h-5.5zM712.1 2130.6h5.5v3.6h-5.5zM712.1 2134.0h5.5v3.6h-5.5zM712.1 2144.3h5.5v3.6h-5.5zM712.1 2147.8h5.5v3.6h-5.5zM712.1 2151.2h5.5v3.6h-5.5zM712.1 2154.7h5.5v3.6h-5.5zM712.1 2161.6h5.5v3.6h-5.5zM712.1 2171.9h5.5v3.6h-5.5zM712.1 2178.8h5.5v3.6h-5.5zM712.1 2182.2h5.5v3.6h-5.5zM712.1 2185.6h5.5v3.6h-5.5zM712.1 2189.1h5.5v3.6h-5.5zM712.1 2192.5h5.5v3.6h-5.5zM712.1 2196.0h5.5v3.6h-5.5zM712.1 2220.0h5.5v3.6h-5.5zM712.1 2240.7h5.5v3.6h-5.5zM712.1 2247.6h5.5v3.6h-5.5zM712.1 2257.9h5.5v3.6h-5.5zM712.1 2264.8h5.5v3.6h-5.5zM712.1 2271.7h5.5v3.6h-5.5zM712.1 2278.5h5.5v3.6h-5.5zM712.1 2282.0h5.5v3.6h-5.5zM712.1 2288.9h5.5v3.6h-5.5zM712.1 2299.2h5.5v3.6h-5.5zM712.1 2302.6h5.5v3.6h-5.5zM712.1 2309.5h5.5v3.6h-5.5zM717.4 2092.7h5.5v3.6h-5.5zM717.4 2106.5h5.5v3.6h-5.5zM717.4 2109.9h5.5v3.6h-5.5zM717.4 2113.4h5.5v3.6h-5.5zM717.4 2123.7h5.5v3.6h-5.5zM717.4 2134.0h5.5v3.6h-5.5zM717.4 2151.2h5.5v3.6h-5.5zM717.4 2165.0h5.5v3.6h-5.5zM717.4 2171.9h5.5v3.6h-5.5zM717.4 2182.2h5.5v3.6h-5.5zM717.4 2185.6h5.5v3.6h-5.5zM717.4 2192.5h5.5v3.6h-5.5zM717.4 2196.0h5.5v3.6h-5.5zM717.4 2202.8h5.5v3.6h-5.5zM717.4 2206.3h5.5v3.6h-5.5zM717.4 2213.2h5.5v3.6h-5.5zM717.4 2216.6h5.5v3.6h-5.5zM717.4 2237.2h5.5v3.6h-5.5zM717.4 2247.6h5.5v3.6h-5.5zM717.4 2254.4h5.5v3.6h-5.5zM717.4 2264.8h5.5v3.6h-5.5zM717.4 2268.2h5.5v3.6h-5.5zM717.4 2275.1h5.5v3.6h-5.5zM717.4 2282.0h5.5v3.6h-5.5zM717.4 2295.7h5.5v3.6h-5.5zM717.4 2302.6h5.5v3.6h-5.5zM717.4 2306.1h5.5v3.6h-5.5zM717.4 2309.5h5.5v3.6h-5.5zM722.7 2103.1h5.5v3.6h-5.5zM722.7 2127.1h5.5v3.6h-5.5zM722.7 2130.6h5.5v3.6h-5.5zM722.7 2134.0h5.5v3.6h-5.5zM722.7 2137.5h5.5v3.6h-5.5zM722.7 2147.8h5.5v3.6h-5.5zM722.7 2154.7h5.5v3.6h-5.5zM722.7 2171.9h5.5v3.6h-5.5zM722.7 2175.3h5.5v3.6h-5.5zM722.7 2178.8h5.5v3.6h-5.5zM722.7 2185.6h5.5v3.6h-5.5zM722.7 2189.1h5.5v3.6h-5.5zM722.7 2196.0h5.5v3.6h-5.5zM722.7 2209.7h5.5v3.6h-5.5zM722.7 2220.0h5.5v3.6h-5.5zM722.7 2223.5h5.5v3.6h-5.5zM722.7 2226.9h5.5v3.6h-5.5zM722.7 2244.1h5.5v3.6h-5.5zM722.7 2254.4h5.5v3.6h-5.5zM722.7 2261.3h5.5v3.6h-5.5zM722.7 2264.8h5.5v3.6h-5.5zM722.7 2271.7h5.5v3.6h-5.5zM722.7 2282.0h5.5v3.6h-5.5zM722.7 2292.3h5.5v3.6h-5.5zM722.7 2295.7h5.5v3.6h-5.5zM722.7 2299.2h5.5v3.6h-5.5zM722.7 2306.1h5.5v3.6h-5.5zM722.7 2309.5h5.5v3.6h-5.5zM728.1 2092.7h5.5v3.6h-5.5zM728.1 2096.2h5.5v3.6h-5.5zM728.1 2099.6h5.5v3.6h-5.5zM728.1 2103.1h5.5v3.6h-5.5zM728.1 2109.9h5.5v3.6h-5.5zM728.1 2113.4h5.5v3.6h-5.5zM728.1 2147.8h5.5v3.6h-5.5zM728.1 2154.7h5.5v3.6h-5.5zM728.1 2158.1h5.5v3.6h-5.5zM728.1 2161.6h5.5v3.6h-5.5zM728.1 2168.4h5.5v3.6h-5.5zM728.1 2182.2h5.5v3.6h-5.5zM728.1 2192.5h5.5v3.6h-5.5zM728.1 2199.4h5.5v3.6h-5.5zM728.1 2209.7h5.5v3.6h-5.5zM728.1 2223.5h5.5v3.6h-5.5zM728.1 2240.7h5.5v3.6h-5.5zM728.1 2244.1h5.5v3.6h-5.5zM728.1 2264.8h5.5v3.6h-5.5zM728.1 2271.7h5.5v3.6h-5.5zM728.1 2288.9h5.5v3.6h-5.5zM728.1 2292.3h5.5v3.6h-5.5zM728.1 2299.2h5.5v3.6h-5.5zM733.4 2092.7h5.5v3.6h-5.5zM733.4 2096.2h5.5v3.6h-5.5zM733.4 2103.1h5.5v3.6h-5.5zM733.4 2106.5h5.5v3.6h-5.5zM733.4 2116.8h5.5v3.6h-5.5zM733.4 2123.7h5.5v3.6h-5.5zM733.4 2130.6h5.5v3.6h-5.5zM733.4 2134.0h5.5v3.6h-5.5zM733.4 2140.9h5.5v3.6h-5.5zM733.4 2144.3h5.5v3.6h-5.5zM733.4 2154.7h5.5v3.6h-5.5zM733.4 2158.1h5.5v3.6h-5.5zM733.4 2165.0h5.5v3.6h-5.5zM733.4 2168.4h5.5v3.6h-5.5zM733.4 2178.8h5.5v3.6h-5.5zM733.4 2182.2h5.5v3.6h-5.5zM733.4 2189.1h5.5v3.6h-5.5zM733.4 2192.5h5.5v3.6h-5.5zM733.4 2196.0h5.5v3.6h-5.5zM733.4 2202.8h5.5v3.6h-5.5zM733.4 2206.3h5.5v3.6h-5.5zM733.4 2220.0h5.5v3.6h-5.5zM733.4 2240.7h5.5v3.6h-5.5zM733.4 2244.1h5.5v3.6h-5.5zM733.4 2288.9h5.5v3.6h-5.5zM733.4 2309.5h5.5v3.6h-5.5zM738.7 2109.9h5.5v3.6h-5.5zM738.7 2120.3h5.5v3.6h-5.5zM738.7 2123.7h5.5v3.6h-5.5zM738.7 2154.7h5.5v3.6h-5.5zM738.7 2158.1h5.5v3.6h-5.5zM738.7 2175.3h5.5v3.6h-5.5zM738.7 2189.1h5.5v3.6h-5.5zM738.7 2192.5h5.5v3.6h-5.5zM738.7 2196.0h5.5v3.6h-5.5zM738.7 2216.6h5.5v3.6h-5.5zM738.7 2223.5h5.5v3.6h-5.5zM738.7 2230.4h5.5v3.6h-5.5zM738.7 2233.8h5.5v3.6h-5.5zM738.7 2254.4h5.5v3.6h-5.5zM738.7 2261.3h5.5v3.6h-5.5zM738.7 2264.8h5.5v3.6h-5.5zM738.7 2268.2h5.5v3.6h-5.5zM738.7 2285.4h5.5v3.6h-5.5zM738.7 2299.2h5.5v3.6h-5.5zM738.7 2309.5h5.5v3.6h-5.5zM744.0 2096.2h5.5v3.6h-5.5zM744.0 2103.1h5.5v3.6h-5.5zM744.0 2109.9h5.5v3.6h-5.5zM744.0 2144.3h5.5v3.6h-5.5zM744.0 2147.8h5.5v3.6h-5.5zM744.0 2154.7h5.5v3.6h-5.5zM744.0 2161.6h5.5v3.6h-5.5zM744.0 2182.2h5.5v3.6h-5.5zM744.0 2185.6h5.5v3.6h-5.5zM744.0 2206.3h5.5v3.6h-5.5zM744.0 2213.2h5.5v3.6h-5.5zM744.0 2223.5h5.5v3.6h-5.5zM744.0 2226.9h5.5v3.6h-5.5zM744.0 2230.4h5.5v3.6h-5.5zM744.0 2233.8h5.5v3.6h-5.5zM744.0 2251.0h5.5v3.6h-5.5zM744.0 2271.7h5.5v3.6h-5.5zM744.0 2278.5h5.5v3.6h-5.5zM744.0 2282.0h5.5v3.6h-5.5zM744.0 2285.4h5.5v3.6h-5.5zM744.0 2288.9h5.5v3.6h-5.5zM744.0 2292.3h5.5v3.6h-5.5z" fill="#3b2085"/><path d="M690.8 2106.5h5.5v3.6h-5.5zM690.8 2109.9h5.5v3.6h-5.5zM690.8 2120.3h5.5v3.6h-5.5zM690.8 2127.1h5.5v3.6h-5.5zM690.8 2130.6h5.5v3.6h-5.5zM690.8 2140.9h5.5v3.6h-5.5zM690.8 2147.8h5.5v3.6h-5.5zM690.8 2151.2h5.5v3.6h-5.5zM690.8 2182.2h5.5v3.6h-5.5zM690.8 2189.1h5.5v3.6h-5.5zM690.8 2254.4h5.5v3.6h-5.5zM690.8 2278.5h5.5v3.6h-5.5zM690.8 2285.4h5.5v3.6h-5.5zM690.8 2288.9h5.5v3.6h-5.5zM690.8 2299.2h5.5v3.6h-5.5zM690.8 2302.6h5.5v3.6h-5.5zM690.8 2306.1h5.5v3.6h-5.5zM690.8 2312.9h5.5v3.6h-5.5zM696.1 2096.2h5.5v3.6h-5.5zM696.1 2099.6h5.5v3.6h-5.5zM696.1 2106.5h5.5v3.6h-5.5zM696.1 2109.9h5.5v3.6h-5.5zM696.1 2113.4h5.5v3.6h-5.5zM696.1 2123.7h5.5v3.6h-5.5zM696.1 2127.1h5.5v3.6h-5.5zM696.1 2147.8h5.5v3.6h-5.5zM696.1 2168.4h5.5v3.6h-5.5zM696.1 2178.8h5.5v3.6h-5.5zM696.1 2192.5h5.5v3.6h-5.5zM696.1 2196.0h5.5v3.6h-5.5zM696.1 2202.8h5.5v3.6h-5.5zM696.1 2213.2h5.5v3.6h-5.5zM696.1 2216.6h5.5v3.6h-5.5zM696.1 2220.0h5.5v3.6h-5.5zM696.1 2223.5h5.5v3.6h-5.5zM696.1 2226.9h5.5v3.6h-5.5zM696.1 2244.1h5.5v3.6h-5.5zM696.1 2251.0h5.5v3.6h-5.5zM696.1 2275.1h5.5v3.6h-5.5zM696.1 2288.9h5.5v3.6h-5.5zM696.1 2295.7h5.5v3.6h-5.5zM696.1 2302.6h5.5v3.6h-5.5zM696.1 2306.1h5.5v3.6h-5.5zM701.4 2092.7h5.5v3.6h-5.5zM701.4 2109.9h5.5v3.6h-5.5zM701.4 2113.4h5.5v3.6h-5.5zM701.4 2123.7h5.5v3.6h-5.5zM701.4 2130.6h5.5v3.6h-5.5zM701.4 2134.0h5.5v3.6h-5.5zM701.4 2137.5h5.5v3.6h-5.5zM701.4 2140.9h5.5v3.6h-5.5zM701.4 2154.7h5.5v3.6h-5.5zM701.4 2165.0h5.5v3.6h-5.5zM701.4 2189.1h5.5v3.6h-5.5zM701.4 2192.5h5.5v3.6h-5.5zM701.4 2206.3h5.5v3.6h-5.5zM701.4 2226.9h5.5v3.6h-5.5zM701.4 2230.4h5.5v3.6h-5.5zM701.4 2233.8h5.5v3.6h-5.5zM701.4 2237.2h5.5v3.6h-5.5zM701.4 2240.7h5.5v3.6h-5.5zM701.4 2254.4h5.5v3.6h-5.5zM701.4 2261.3h5.5v3.6h-5.5zM701.4 2278.5h5.5v3.6h-5.5zM701.4 2288.9h5.5v3.6h-5.5zM701.4 2292.3h5.5v3.6h-5.5zM701.4 2299.2h5.5v3.6h-5.5zM706.8 2092.7h5.5v3.6h-5.5zM706.8 2096.2h5.5v3.6h-5.5zM706.8 2106.5h5.5v3.6h-5.5zM706.8 2109.9h5.5v3.6h-5.5zM706.8 2113.4h5.5v3.6h-5.5zM706.8 2123.7h5.5v3.6h-5.5zM706.8 2134.0h5.5v3.6h-5.5zM706.8 2137.5h5.5v3.6h-5.5zM706.8 2140.9h5.5v3.6h-5.5zM706.8 2151.2h5.5v3.6h-5.5zM706.8 2158.1h5.5v3.6h-5.5zM706.8 2165.0h5.5v3.6h-5.5zM706.8 2171.9h5.5v3.6h-5.5zM706.8 2178.8h5.5v3.6h-5.5zM706.8 2185.6h5.5v3.6h-5.5zM706.8 2206.3h5.5v3.6h-5.5zM706.8 2226.9h5.5v3.6h-5.5zM706.8 2244.1h5.5v3.6h-5.5zM706.8 2251.0h5.5v3.6h-5.5zM706.8 2275.1h5.5v3.6h-5.5zM706.8 2278.5h5.5v3.6h-5.5zM706.8 2282.0h5.5v3.6h-5.5zM706.8 2285.4h5.5v3.6h-5.5zM706.8 2288.9h5.5v3.6h-5.5zM706.8 2292.3h5.5v3.6h-5.5zM706.8 2295.7h5.5v3.6h-5.5zM706.8 2299.2h5.5v3.6h-5.5zM706.8 2306.1h5.5v3.6h-5.5zM706.8 2312.9h5.5v3.6h-5.5zM712.1 2099.6h5.5v3.6h-5.5zM712.1 2106.5h5.5v3.6h-5.5zM712.1 2113.4h5.5v3.6h-5.5zM712.1 2168.4h5.5v3.6h-5.5zM712.1 2175.3h5.5v3.6h-5.5zM712.1 2199.4h5.5v3.6h-5.5zM712.1 2202.8h5.5v3.6h-5.5zM712.1 2209.7h5.5v3.6h-5.5zM712.1 2213.2h5.5v3.6h-5.5zM712.1 2223.5h5.5v3.6h-5.5zM712.1 2226.9h5.5v3.6h-5.5zM712.1 2230.4h5.5v3.6h-5.5zM712.1 2251.0h5.5v3.6h-5.5zM712.1 2254.4h5.5v3.6h-5.5zM712.1 2268.2h5.5v3.6h-5.5zM712.1 2275.1h5.5v3.6h-5.5zM717.4 2096.2h5.5v3.6h-5.5zM717.4 2103.1h5.5v3.6h-5.5zM717.4 2120.3h5.5v3.6h-5.5zM717.4 2127.1h5.5v3.6h-5.5zM717.4 2130.6h5.5v3.6h-5.5zM717.4 2137.5h5.5v3.6h-5.5zM717.4 2144.3h5.5v3.6h-5.5zM717.4 2158.1h5.5v3.6h-5.5zM717.4 2161.6h5.5v3.6h-5.5zM717.4 2168.4h5.5v3.6h-5.5zM717.4 2175.3h5.5v3.6h-5.5zM717.4 2178.8h5.5v3.6h-5.5zM717.4 2189.1h5.5v3.6h-5.5zM717.4 2199.4h5.5v3.6h-5.5zM717.4 2209.7h5.5v3.6h-5.5zM717.4 2220.0h5.5v3.6h-5.5zM717.4 2230.4h5.5v3.6h-5.5zM717.4 2233.8h5.5v3.6h-5.5zM717.4 2251.0h5.5v3.6h-5.5zM717.4 2257.9h5.5v3.6h-5.5zM717.4 2261.3h5.5v3.6h-5.5zM717.4 2271.7h5.5v3.6h-5.5zM717.4 2278.5h5.5v3.6h-5.5zM717.4 2299.2h5.5v3.6h-5.5zM722.7 2092.7h5.5v3.6h-5.5zM722.7 2096.2h5.5v3.6h-5.5zM722.7 2106.5h5.5v3.6h-5.5zM722.7 2113.4h5.5v3.6h-5.5zM722.7 2116.8h5.5v3.6h-5.5zM722.7 2144.3h5.5v3.6h-5.5zM722.7 2151.2h5.5v3.6h-5.5zM722.7 2158.1h5.5v3.6h-5.5zM722.7 2161.6h5.5v3.6h-5.5zM722.7 2165.0h5.5v3.6h-5.5zM722.7 2168.4h5.5v3.6h-5.5zM722.7 2192.5h5.5v3.6h-5.5zM722.7 2199.4h5.5v3.6h-5.5zM722.7 2213.2h5.5v3.6h-5.5zM722.7 2230.4h5.5v3.6h-5.5zM722.7 2237.2h5.5v3.6h-5.5zM722.7 2240.7h5.5v3.6h-5.5zM722.7 2257.9h5.5v3.6h-5.5zM722.7 2275.1h5.5v3.6h-5.5zM722.7 2278.5h5.5v3.6h-5.5zM722.7 2302.6h5.5v3.6h-5.5zM728.1 2106.5h5.5v3.6h-5.5zM728.1 2123.7h5.5v3.6h-5.5zM728.1 2127.1h5.5v3.6h-5.5zM728.1 2130.6h5.5v3.6h-5.5zM728.1 2134.0h5.5v3.6h-5.5zM728.1 2151.2h5.5v3.6h-5.5zM728.1 2171.9h5.5v3.6h-5.5zM728.1 2175.3h5.5v3.6h-5.5zM728.1 2178.8h5.5v3.6h-5.5zM728.1 2185.6h5.5v3.6h-5.5zM728.1 2189.1h5.5v3.6h-5.5zM728.1 2196.0h5.5v3.6h-5.5zM728.1 2206.3h5.5v3.6h-5.5zM728.1 2213.2h5.5v3.6h-5.5zM728.1 2226.9h5.5v3.6h-5.5zM728.1 2230.4h5.5v3.6h-5.5zM728.1 2233.8h5.5v3.6h-5.5zM728.1 2237.2h5.5v3.6h-5.5zM728.1 2254.4h5.5v3.6h-5.5zM728.1 2275.1h5.5v3.6h-5.5zM728.1 2278.5h5.5v3.6h-5.5zM728.1 2282.0h5.5v3.6h-5.5zM728.1 2295.7h5.5v3.6h-5.5zM728.1 2306.1h5.5v3.6h-5.5zM728.1 2309.5h5.5v3.6h-5.5zM728.1 2312.9h5.5v3.6h-5.5zM733.4 2099.6h5.5v3.6h-5.5zM733.4 2109.9h5.5v3.6h-5.5zM733.4 2113.4h5.5v3.6h-5.5zM733.4 2120.3h5.5v3.6h-5.5zM733.4 2127.1h5.5v3.6h-5.5zM733.4 2147.8h5.5v3.6h-5.5zM733.4 2151.2h5.5v3.6h-5.5zM733.4 2171.9h5.5v3.6h-5.5zM733.4 2185.6h5.5v3.6h-5.5zM733.4 2199.4h5.5v3.6h-5.5zM733.4 2209.7h5.5v3.6h-5.5zM733.4 2213.2h5.5v3.6h-5.5zM733.4 2216.6h5.5v3.6h-5.5zM733.4 2223.5h5.5v3.6h-5.5zM733.4 2230.4h5.5v3.6h-5.5zM733.4 2237.2h5.5v3.6h-5.5zM733.4 2247.6h5.5v3.6h-5.5zM733.4 2251.0h5.5v3.6h-5.5zM733.4 2261.3h5.5v3.6h-5.5zM733.4 2264.8h5.5v3.6h-5.5zM733.4 2271.7h5.5v3.6h-5.5zM733.4 2275.1h5.5v3.6h-5.5zM733.4 2278.5h5.5v3.6h-5.5zM733.4 2282.0h5.5v3.6h-5.5zM733.4 2292.3h5.5v3.6h-5.5zM733.4 2299.2h5.5v3.6h-5.5zM733.4 2302.6h5.5v3.6h-5.5zM733.4 2312.9h5.5v3.6h-5.5zM738.7 2099.6h5.5v3.6h-5.5zM738.7 2106.5h5.5v3.6h-5.5zM738.7 2116.8h5.5v3.6h-5.5zM738.7 2130.6h5.5v3.6h-5.5zM738.7 2134.0h5.5v3.6h-5.5zM738.7 2137.5h5.5v3.6h-5.5zM738.7 2140.9h5.5v3.6h-5.5zM738.7 2144.3h5.5v3.6h-5.5zM738.7 2151.2h5.5v3.6h-5.5zM738.7 2161.6h5.5v3.6h-5.5zM738.7 2165.0h5.5v3.6h-5.5zM738.7 2168.4h5.5v3.6h-5.5zM738.7 2182.2h5.5v3.6h-5.5zM738.7 2185.6h5.5v3.6h-5.5zM738.7 2199.4h5.5v3.6h-5.5zM738.7 2202.8h5.5v3.6h-5.5zM738.7 2209.7h5.5v3.6h-5.5zM738.7 2220.0h5.5v3.6h-5.5zM738.7 2226.9h5.5v3.6h-5.5zM738.7 2237.2h5.5v3.6h-5.5zM738.7 2240.7h5.5v3.6h-5.5zM738.7 2244.1h5.5v3.6h-5.5zM738.7 2247.6h5.5v3.6h-5.5zM738.7 2251.0h5.5v3.6h-5.5zM738.7 2257.9h5.5v3.6h-5.5zM738.7 2292.3h5.5v3.6h-5.5zM738.7 2302.6h5.5v3.6h-5.5zM744.0 2099.6h5.5v3.6h-5.5zM744.0 2116.8h5.5v3.6h-5.5zM744.0 2127.1h5.5v3.6h-5.5zM744.0 2137.5h5.5v3.6h-5.5zM744.0 2151.2h5.5v3.6h-5.5zM744.0 2178.8h5.5v3.6h-5.5zM744.0 2189.1h5.5v3.6h-5.5zM744.0 2199.4h5.5v3.6h-5.5zM744.0 2202.8h5.5v3.6h-5.5zM744.0 2220.0h5.5v3.6h-5.5zM744.0 2237.2h5.5v3.6h-5.5zM744.0 2247.6h5.5v3.6h-5.5zM744.0 2254.4h5.5v3.6h-5.5zM744.0 2261.3h5.5v3.6h-5.5zM744.0 2264.8h5.5v3.6h-5.5zM744.0 2268.2h5.5v3.6h-5.5zM744.0 2302.6h5.5v3.6h-5.5zM744.0 2312.9h5.5v3.6h-5.5z" fill="#3a6ad0"/><path d="M690.8 2123.7h5.5v3.6h-5.5zM690.8 2309.5h5.5v3.6h-5.5zM696.1 2282.0h5.5v3.6h-5.5zM701.4 2103.1h5.5v3.6h-5.5zM701.4 2161.6h5.5v3.6h-5.5zM701.4 2223.5h5.5v3.6h-5.5zM706.8 2099.6h5.5v3.6h-5.5zM706.8 2116.8h5.5v3.6h-5.5zM706.8 2147.8h5.5v3.6h-5.5zM706.8 2254.4h5.5v3.6h-5.5zM706.8 2309.5h5.5v3.6h-5.5zM712.1 2103.1h5.5v3.6h-5.5zM712.1 2158.1h5.5v3.6h-5.5zM712.1 2165.0h5.5v3.6h-5.5zM712.1 2206.3h5.5v3.6h-5.5zM712.1 2261.3h5.5v3.6h-5.5zM712.1 2285.4h5.5v3.6h-5.5zM712.1 2295.7h5.5v3.6h-5.5zM717.4 2154.7h5.5v3.6h-5.5zM717.4 2226.9h5.5v3.6h-5.5zM717.4 2240.7h5.5v3.6h-5.5zM717.4 2292.3h5.5v3.6h-5.5zM722.7 2182.2h5.5v3.6h-5.5zM722.7 2202.8h5.5v3.6h-5.5zM722.7 2247.6h5.5v3.6h-5.5zM722.7 2251.0h5.5v3.6h-5.5zM722.7 2285.4h5.5v3.6h-5.5zM728.1 2116.8h5.5v3.6h-5.5zM728.1 2220.0h5.5v3.6h-5.5zM728.1 2261.3h5.5v3.6h-5.5zM733.4 2175.3h5.5v3.6h-5.5zM733.4 2226.9h5.5v3.6h-5.5zM733.4 2257.9h5.5v3.6h-5.5zM733.4 2268.2h5.5v3.6h-5.5zM733.4 2295.7h5.5v3.6h-5.5zM738.7 2092.7h5.5v3.6h-5.5zM738.7 2096.2h5.5v3.6h-5.5zM738.7 2147.8h5.5v3.6h-5.5zM738.7 2213.2h5.5v3.6h-5.5zM744.0 2106.5h5.5v3.6h-5.5zM744.0 2113.4h5.5v3.6h-5.5zM744.0 2134.0h5.5v3.6h-5.5zM744.0 2158.1h5.5v3.6h-5.5zM744.0 2244.1h5.5v3.6h-5.5zM744.0 2306.1h5.5v3.6h-5.5z" fill="#ffffff"/><path d="M685.4 2065.2h5.5v3.6h-5.5zM685.4 2075.5h5.5v3.6h-5.5zM690.8 2085.9h5.5v3.6h-5.5zM696.1 2075.5h5.5v3.6h-5.5zM701.4 2065.2h5.5v3.6h-5.5zM701.4 2072.1h5.5v3.6h-5.5zM706.8 2085.9h5.5v3.6h-5.5zM712.1 2058.3h5.5v3.6h-5.5zM712.1 2082.4h5.5v3.6h-5.5zM712.1 2085.9h5.5v3.6h-5.5zM717.4 2058.3h5.5v3.6h-5.5zM717.4 2075.5h5.5v3.6h-5.5zM717.4 2082.4h5.5v3.6h-5.5zM722.7 2061.8h5.5v3.6h-5.5zM722.7 2079.0h5.5v3.6h-5.5zM728.1 2079.0h5.5v3.6h-5.5zM728.1 2082.4h5.5v3.6h-5.5zM728.1 2085.9h5.5v3.6h-5.5zM728.1 2089.3h5.5v3.6h-5.5zM733.4 2058.3h5.5v3.6h-5.5zM733.4 2068.7h5.5v3.6h-5.5zM738.7 2051.5h5.5v3.6h-5.5zM738.7 2054.9h5.5v3.6h-5.5zM738.7 2068.7h5.5v3.6h-5.5zM738.7 2082.4h5.5v3.6h-5.5zM738.7 2085.9h5.5v3.6h-5.5zM744.0 2051.5h5.5v3.6h-5.5zM744.0 2068.7h5.5v3.6h-5.5z" fill="#3b2085"/><path d="M685.4 2068.7h5.5v3.6h-5.5zM690.8 2079.0h5.5v3.6h-5.5zM690.8 2089.3h5.5v3.6h-5.5zM696.1 2065.2h5.5v3.6h-5.5zM696.1 2068.7h5.5v3.6h-5.5zM696.1 2079.0h5.5v3.6h-5.5zM696.1 2082.4h5.5v3.6h-5.5zM701.4 2068.7h5.5v3.6h-5.5zM701.4 2079.0h5.5v3.6h-5.5zM701.4 2085.9h5.5v3.6h-5.5zM706.8 2061.8h5.5v3.6h-5.5zM712.1 2065.2h5.5v3.6h-5.5zM712.1 2072.1h5.5v3.6h-5.5zM712.1 2089.3h5.5v3.6h-5.5zM717.4 2061.8h5.5v3.6h-5.5zM717.4 2065.2h5.5v3.6h-5.5zM717.4 2072.1h5.5v3.6h-5.5zM717.4 2079.0h5.5v3.6h-5.5zM717.4 2085.9h5.5v3.6h-5.5zM717.4 2089.3h5.5v3.6h-5.5zM722.7 2065.2h5.5v3.6h-5.5zM722.7 2068.7h5.5v3.6h-5.5zM722.7 2075.5h5.5v3.6h-5.5zM728.1 2061.8h5.5v3.6h-5.5zM728.1 2065.2h5.5v3.6h-5.5zM728.1 2072.1h5.5v3.6h-5.5zM733.4 2054.9h5.5v3.6h-5.5zM733.4 2072.1h5.5v3.6h-5.5zM733.4 2082.4h5.5v3.6h-5.5zM738.7 2072.1h5.5v3.6h-5.5zM738.7 2075.5h5.5v3.6h-5.5zM738.7 2089.3h5.5v3.6h-5.5zM744.0 2072.1h5.5v3.6h-5.5zM744.0 2079.0h5.5v3.6h-5.5zM744.0 2082.4h5.5v3.6h-5.5zM744.0 2085.9h5.5v3.6h-5.5zM744.0 2089.3h5.5v3.6h-5.5z" fill="#7cc4a4"/><path d="M685.4 2072.1h5.5v3.6h-5.5zM690.8 2068.7h5.5v3.6h-5.5zM690.8 2075.5h5.5v3.6h-5.5zM701.4 2089.3h5.5v3.6h-5.5zM706.8 2058.3h5.5v3.6h-5.5zM706.8 2089.3h5.5v3.6h-5.5zM712.1 2068.7h5.5v3.6h-5.5zM722.7 2054.9h5.5v3.6h-5.5zM728.1 2058.3h5.5v3.6h-5.5zM728.1 2075.5h5.5v3.6h-5.5zM733.4 2061.8h5.5v3.6h-5.5zM733.4 2065.2h5.5v3.6h-5.5zM733.4 2085.9h5.5v3.6h-5.5zM744.0 2061.8h5.5v3.6h-5.5z" fill="#3a6ad0"/><path d="M685.4 2079.0h5.5v3.6h-5.5zM690.8 2065.2h5.5v3.6h-5.5zM690.8 2072.1h5.5v3.6h-5.5zM690.8 2082.4h5.5v3.6h-5.5zM696.1 2061.8h5.5v3.6h-5.5zM696.1 2072.1h5.5v3.6h-5.5zM696.1 2085.9h5.5v3.6h-5.5zM696.1 2089.3h5.5v3.6h-5.5zM701.4 2061.8h5.5v3.6h-5.5zM701.4 2075.5h5.5v3.6h-5.5zM701.4 2082.4h5.5v3.6h-5.5zM706.8 2065.2h5.5v3.6h-5.5zM706.8 2068.7h5.5v3.6h-5.5zM706.8 2072.1h5.5v3.6h-5.5zM706.8 2075.5h5.5v3.6h-5.5zM706.8 2079.0h5.5v3.6h-5.5zM706.8 2082.4h5.5v3.6h-5.5zM712.1 2061.8h5.5v3.6h-5.5zM712.1 2075.5h5.5v3.6h-5.5zM712.1 2079.0h5.5v3.6h-5.5zM717.4 2068.7h5.5v3.6h-5.5zM722.7 2058.3h5.5v3.6h-5.5zM722.7 2072.1h5.5v3.6h-5.5zM722.7 2082.4h5.5v3.6h-5.5zM722.7 2085.9h5.5v3.6h-5.5zM722.7 2089.3h5.5v3.6h-5.5zM728.1 2054.9h5.5v3.6h-5.5zM728.1 2068.7h5.5v3.6h-5.5zM733.4 2075.5h5.5v3.6h-5.5zM733.4 2079.0h5.5v3.6h-5.5zM733.4 2089.3h5.5v3.6h-5.5zM738.7 2058.3h5.5v3.6h-5.5zM738.7 2061.8h5.5v3.6h-5.5zM738.7 2065.2h5.5v3.6h-5.5zM738.7 2079.0h5.5v3.6h-5.5zM744.0 2054.9h5.5v3.6h-5.5zM744.0 2058.3h5.5v3.6h-5.5zM744.0 2065.2h5.5v3.6h-5.5zM744.0 2075.5h5.5v3.6h-5.5z" fill="#30b0e8"/><path d="M717.4 2044.6h5.5v3.6h-5.5zM717.4 2054.9h5.5v3.6h-5.5zM722.7 2051.5h5.5v3.6h-5.5zM728.1 2041.1h5.5v3.6h-5.5zM728.1 2048.0h5.5v3.6h-5.5zM733.4 2044.6h5.5v3.6h-5.5zM738.7 2048.0h5.5v3.6h-5.5zM744.0 2044.6h5.5v3.6h-5.5zM744.0 2054.9h5.5v3.6h-5.5z" fill="#30b0e8"/><path d="M717.4 2048.0h5.5v3.6h-5.5zM722.7 2041.1h5.5v3.6h-5.5zM722.7 2058.3h5.5v3.6h-5.5zM728.1 2051.5h5.5v3.6h-5.5zM733.4 2051.5h5.5v3.6h-5.5zM733.4 2058.3h5.5v3.6h-5.5zM744.0 2041.1h5.5v3.6h-5.5zM744.0 2061.8h5.5v3.6h-5.5z" fill="#3a6ad0"/><path d="M717.4 2058.3h5.5v3.6h-5.5zM722.7 2054.9h5.5v3.6h-5.5zM722.7 2061.8h5.5v3.6h-5.5zM738.7 2044.6h5.5v3.6h-5.5zM738.7 2058.3h5.5v3.6h-5.5zM738.7 2061.8h5.5v3.6h-5.5zM744.0 2058.3h5.5v3.6h-5.5z" fill="#3b2085"/><polygon points="544.0,1890.0 556.0,1890.0 565.0,1935.0 560.0,1950.0 548.0,1955.0 543.0,1935.0" fill="#8cc068" fill-opacity="0.90"/><polygon points="549.0,1930.0 560.0,1935.0 572.0,1960.0 560.0,1975.0 548.0,1970.0" fill="#f6e000" fill-opacity="0.90"/><polygon points="520.0,2010.0 552.0,1965.0 572.0,1970.0 600.0,1990.0 560.0,2010.0 530.0,2030.0" fill="#f6a010" fill-opacity="0.80"/><polygon points="610.0,1992.0 660.0,1996.0 690.0,2005.0 680.0,2025.0 660.0,2035.0 640.0,2030.0 625.0,2010.0" fill="#f6a010" fill-opacity="0.80"/><polygon points="300.0,2185.0 330.0,2160.0 380.0,2130.0 430.0,2110.0 480.0,2090.0 530.0,2060.0 580.0,2030.0 610.0,2018.0 630.0,2025.0 610.0,2045.0 570.0,2055.0 520.0,2070.0 470.0,2090.0 420.0,2120.0 380.0,2150.0 340.0,2175.0" fill="#d82a0e" fill-opacity="0.35"/><polygon points="576.0,2030.0 595.0,2018.0 612.0,2020.0 612.0,2036.0 595.0,2046.0 578.0,2044.0" fill="#a01208" fill-opacity="0.90"/><polygon points="515.0,2058.0 535.0,2055.0 538.0,2066.0 520.0,2070.0" fill="#a01208" fill-opacity="0.50"/><polygon points="444.0,2095.0 470.0,2088.0 500.0,2088.0 503.0,2100.0 490.0,2122.0 470.0,2132.0 452.0,2133.0 444.0,2110.0" fill="#f6c808"/><polygon points="444.0,2100.0 470.0,2093.0 490.0,2095.0 485.0,2110.0 468.0,2120.0 452.0,2118.0" fill="#f6a010" fill-opacity="0.60"/></g>
</g>
<line x1="720" y1="548.9" x2="829.2" y2="456.9" stroke="#ff0000" stroke-width="4.6" stroke-dasharray="17.2 5" clip-path="url(#clip0)"/>
<line x1="720" y1="989.3" x2="829.2" y2="897.3" stroke="#ff0000" stroke-width="4.6" stroke-dasharray="17.2 5" clip-path="url(#clip1)"/>
<line x1="720" y1="1429.7" x2="829.2" y2="1337.7" stroke="#ff0000" stroke-width="4.6" stroke-dasharray="17.2 5" clip-path="url(#clip2)"/>
<rect x="829.2" y="107.5" width="34.1" height="440.4" fill="url(#gjet)"/>
<rect x="829.2" y="547.9" width="34.1" height="440.4" fill="url(#gwin)"/>
<rect x="829.2" y="988.3" width="34.1" height="440.4" fill="url(#gsum)"/>
<rect x="829.2" y="1428.7" width="34.1" height="440.4" fill="url(#gjet)"/>
<rect x="829.2" y="1869.1" width="34.1" height="440.4" fill="url(#gjet)"/>
<rect x="147.0" y="107.5" width="682.2" height="440.4" fill="none" stroke="#000" stroke-width="3.2"/>
<rect x="829.2" y="107.5" width="34.1" height="440.4" fill="none" stroke="#000" stroke-width="3.2"/>
<rect x="147.0" y="547.9" width="682.2" height="440.4" fill="none" stroke="#000" stroke-width="3.2"/>
<rect x="829.2" y="547.9" width="34.1" height="440.4" fill="none" stroke="#000" stroke-width="3.2"/>
<rect x="147.0" y="988.3" width="682.2" height="440.4" fill="none" stroke="#000" stroke-width="3.2"/>
<rect x="829.2" y="988.3" width="34.1" height="440.4" fill="none" stroke="#000" stroke-width="3.2"/>
<rect x="147.0" y="1428.7" width="682.2" height="440.4" fill="none" stroke="#000" stroke-width="3.2"/>
<rect x="829.2" y="1428.7" width="34.1" height="440.4" fill="none" stroke="#000" stroke-width="3.2"/>
<rect x="147.0" y="1869.1" width="682.2" height="440.4" fill="none" stroke="#000" stroke-width="3.2"/>
<rect x="829.2" y="1869.1" width="34.1" height="440.4" fill="none" stroke="#000" stroke-width="3.2"/>
<path d="M217.5 107.5L217.5 113.5M217.5 547.9L217.5 541.9M287.7 107.5L287.7 118.0M287.7 547.9L287.7 537.4M357.9 107.5L357.9 113.5M357.9 547.9L357.9 541.9M428.1 107.5L428.1 118.0M428.1 547.9L428.1 537.4M498.3 107.5L498.3 113.5M498.3 547.9L498.3 541.9M568.5 107.5L568.5 118.0M568.5 547.9L568.5 537.4M638.7 107.5L638.7 113.5M638.7 547.9L638.7 541.9M708.9 107.5L708.9 118.0M708.9 547.9L708.9 537.4M779.1 107.5L779.1 113.5M779.1 547.9L779.1 541.9M147.0 506.3L157.5 506.3M829.2 506.3L818.7 506.3M147.0 446.7L153.0 446.7M829.2 446.7L823.2 446.7M147.0 387.1L157.5 387.1M829.2 387.1L818.7 387.1M147.0 327.5L153.0 327.5M829.2 327.5L823.2 327.5M147.0 267.9L157.5 267.9M829.2 267.9L818.7 267.9M147.0 208.3L153.0 208.3M829.2 208.3L823.2 208.3M147.0 148.7L157.5 148.7M829.2 148.7L818.7 148.7M217.5 547.9L217.5 553.9M217.5 988.3L217.5 982.3M287.7 547.9L287.7 558.4M287.7 988.3L287.7 977.8M357.9 547.9L357.9 553.9M357.9 988.3L357.9 982.3M428.1 547.9L428.1 558.4M428.1 988.3L428.1 977.8M498.3 547.9L498.3 553.9M498.3 988.3L498.3 982.3M568.5 547.9L568.5 558.4M568.5 988.3L568.5 977.8M638.7 547.9L638.7 553.9M638.7 988.3L638.7 982.3M708.9 547.9L708.9 558.4M708.9 988.3L708.9 977.8M779.1 547.9L779.1 553.9M779.1 988.3L779.1 982.3M147.0 946.7L157.5 946.7M829.2 946.7L818.7 946.7M147.0 887.1L153.0 887.1M829.2 887.1L823.2 887.1M147.0 827.5L157.5 827.5M829.2 827.5L818.7 827.5M147.0 767.9L153.0 767.9M829.2 767.9L823.2 767.9M147.0 708.3L157.5 708.3M829.2 708.3L818.7 708.3M147.0 648.7L153.0 648.7M829.2 648.7L823.2 648.7M147.0 589.1L157.5 589.1M829.2 589.1L818.7 589.1M217.5 988.3L217.5 994.3M217.5 1428.7L217.5 1422.7M287.7 988.3L287.7 998.8M287.7 1428.7L287.7 1418.2M357.9 988.3L357.9 994.3M357.9 1428.7L357.9 1422.7M428.1 988.3L428.1 998.8M428.1 1428.7L428.1 1418.2M498.3 988.3L498.3 994.3M498.3 1428.7L498.3 1422.7M568.5 988.3L568.5 998.8M568.5 1428.7L568.5 1418.2M638.7 988.3L638.7 994.3M638.7 1428.7L638.7 1422.7M708.9 988.3L708.9 998.8M708.9 1428.7L708.9 1418.2M779.1 988.3L779.1 994.3M779.1 1428.7L779.1 1422.7M147.0 1387.1L157.5 1387.1M829.2 1387.1L818.7 1387.1M147.0 1327.5L153.0 1327.5M829.2 1327.5L823.2 1327.5M147.0 1267.9L157.5 1267.9M829.2 1267.9L818.7 1267.9M147.0 1208.3L153.0 1208.3M829.2 1208.3L823.2 1208.3M147.0 1148.7L157.5 1148.7M829.2 1148.7L818.7 1148.7M147.0 1089.1L153.0 1089.1M829.2 1089.1L823.2 1089.1M147.0 1029.5L157.5 1029.5M829.2 1029.5L818.7 1029.5M217.5 1428.7L217.5 1434.7M217.5 1869.1L217.5 1863.1M287.7 1428.7L287.7 1439.2M287.7 1869.1L287.7 1858.6M357.9 1428.7L357.9 1434.7M357.9 1869.1L357.9 1863.1M428.1 1428.7L428.1 1439.2M428.1 1869.1L428.1 1858.6M498.3 1428.7L498.3 1434.7M498.3 1869.1L498.3 1863.1M568.5 1428.7L568.5 1439.2M568.5 1869.1L568.5 1858.6M638.7 1428.7L638.7 1434.7M638.7 1869.1L638.7 1863.1M708.9 1428.7L708.9 1439.2M708.9 1869.1L708.9 1858.6M779.1 1428.7L779.1 1434.7M779.1 1869.1L779.1 1863.1M147.0 1850.7L157.5 1850.7M829.2 1850.7L818.7 1850.7M147.0 1787.8L153.0 1787.8M829.2 1787.8L823.2 1787.8M147.0 1725.0L157.5 1725.0M829.2 1725.0L818.7 1725.0M147.0 1662.1L153.0 1662.1M829.2 1662.1L823.2 1662.1M147.0 1599.3L157.5 1599.3M829.2 1599.3L818.7 1599.3M147.0 1536.4L153.0 1536.4M829.2 1536.4L823.2 1536.4M147.0 1473.6L157.5 1473.6M829.2 1473.6L818.7 1473.6M217.5 1869.1L217.5 1875.1M217.5 2309.5L217.5 2303.5M287.7 1869.1L287.7 1879.6M287.7 2309.5L287.7 2299.0M357.9 1869.1L357.9 1875.1M357.9 2309.5L357.9 2303.5M428.1 1869.1L428.1 1879.6M428.1 2309.5L428.1 2299.0M498.3 1869.1L498.3 1875.1M498.3 2309.5L498.3 2303.5M568.5 1869.1L568.5 1879.6M568.5 2309.5L568.5 2299.0M638.7 1869.1L638.7 1875.1M638.7 2309.5L638.7 2303.5M708.9 1869.1L708.9 1879.6M708.9 2309.5L708.9 2299.0M779.1 1869.1L779.1 1875.1M779.1 2309.5L779.1 2303.5M147.0 2266.8L153.0 2266.8M829.2 2266.8L823.2 2266.8M147.0 2203.8L157.5 2203.8M829.2 2203.8L818.7 2203.8M147.0 2140.8L153.0 2140.8M829.2 2140.8L823.2 2140.8M147.0 2077.8L157.5 2077.8M829.2 2077.8L818.7 2077.8M147.0 2014.8L153.0 2014.8M829.2 2014.8L823.2 2014.8M147.0 1951.8L157.5 1951.8M829.2 1951.8L818.7 1951.8M147.0 1888.8L153.0 1888.8M829.2 1888.8L823.2 1888.8" stroke="#000" stroke-width="2.6" fill="none"/>
<path d="M863.3 461.0L867.3 461.0M863.3 372.8L870.3 372.8M863.3 284.6L867.3 284.6M863.3 196.4L870.3 196.4M863.3 108.2L867.3 108.2M863.3 548.1L870.3 548.1M863.3 658.1L870.3 658.1M863.3 768.1L870.3 768.1M863.3 878.1L870.3 878.1M863.3 988.1L870.3 988.1M863.3 938.3L867.3 938.3M863.3 988.1L870.3 988.1M863.3 1038.8L867.3 1038.8M863.3 1089.6L870.3 1089.6M863.3 1140.3L867.3 1140.3M863.3 1191.1L870.3 1191.1M863.3 1241.8L867.3 1241.8M863.3 1292.6L870.3 1292.6M863.3 1343.3L867.3 1343.3M863.3 1394.1L870.3 1394.1M863.3 1867.0L867.3 1867.0M863.3 1778.5L870.3 1778.5M863.3 1690.0L867.3 1690.0M863.3 1601.5L870.3 1601.5M863.3 1513.0L867.3 1513.0M863.3 2272.2L867.3 2272.2M863.3 2184.0L870.3 2184.0M863.3 2095.8L867.3 2095.8M863.3 2007.5L870.3 2007.5M863.3 1919.2L867.3 1919.2" stroke="#000" stroke-width="2.6" fill="none"/>
<g font-family="'Liberation Serif', 'DejaVu Serif', serif" fill="#000"><text x="148.3" y="90.0" text-anchor="middle" font-size="45.5">10<tspan font-size="32.0" dx="-2" dy="-15.5">−4</tspan></text><text x="148.3" y="2364.5" text-anchor="middle" font-size="45.5">10<tspan font-size="32.0" dx="-2" dy="-15.5">−4</tspan></text><text x="288.7" y="90.0" text-anchor="middle" font-size="45.5">10<tspan font-size="32.0" dx="-2" dy="-15.5">−2</tspan></text><text x="288.7" y="2364.5" text-anchor="middle" font-size="45.5">10<tspan font-size="32.0" dx="-2" dy="-15.5">−2</tspan></text><text x="429.1" y="90.0" text-anchor="middle" font-size="45.5">10<tspan font-size="32.0" dx="-2" dy="-15.5">0</tspan></text><text x="429.1" y="2364.5" text-anchor="middle" font-size="45.5">10<tspan font-size="32.0" dx="-2" dy="-15.5">0</tspan></text><text x="569.5" y="90.0" text-anchor="middle" font-size="45.5">10<tspan font-size="32.0" dx="-2" dy="-15.5">2</tspan></text><text x="569.5" y="2364.5" text-anchor="middle" font-size="45.5">10<tspan font-size="32.0" dx="-2" dy="-15.5">2</tspan></text><text x="709.9" y="90.0" text-anchor="middle" font-size="45.5">10<tspan font-size="32.0" dx="-2" dy="-15.5">4</tspan></text><text x="709.9" y="2364.5" text-anchor="middle" font-size="45.5">10<tspan font-size="32.0" dx="-2" dy="-15.5">4</tspan></text><text x="138.0" y="165.7" text-anchor="end" font-size="45.5">10<tspan font-size="32.0" dx="-2" dy="-15.5">8</tspan></text><text x="138.0" y="284.9" text-anchor="end" font-size="45.5">10<tspan font-size="32.0" dx="-2" dy="-15.5">6</tspan></text><text x="138.0" y="404.1" text-anchor="end" font-size="45.5">10<tspan font-size="32.0" dx="-2" dy="-15.5">4</tspan></text><text x="138.0" y="523.3" text-anchor="end" font-size="45.5">10<tspan font-size="32.0" dx="-2" dy="-15.5">2</tspan></text><text x="138.0" y="606.1" text-anchor="end" font-size="45.5">10<tspan font-size="32.0" dx="-2" dy="-15.5">8</tspan></text><text x="138.0" y="725.3" text-anchor="end" font-size="45.5">10<tspan font-size="32.0" dx="-2" dy="-15.5">6</tspan></text><text x="138.0" y="844.5" text-anchor="end" font-size="45.5">10<tspan font-size="32.0" dx="-2" dy="-15.5">4</tspan></text><text x="138.0" y="963.7" text-anchor="end" font-size="45.5">10<tspan font-size="32.0" dx="-2" dy="-15.5">2</tspan></text><text x="138.0" y="1046.5" text-anchor="end" font-size="45.5">10<tspan font-size="32.0" dx="-2" dy="-15.5">8</tspan></text><text x="138.0" y="1165.7" text-anchor="end" font-size="45.5">10<tspan font-size="32.0" dx="-2" dy="-15.5">6</tspan></text><text x="138.0" y="1284.9" text-anchor="end" font-size="45.5">10<tspan font-size="32.0" dx="-2" dy="-15.5">4</tspan></text><text x="138.0" y="1404.1" text-anchor="end" font-size="45.5">10<tspan font-size="32.0" dx="-2" dy="-15.5">2</tspan></text><text x="138.0" y="1490.6" text-anchor="end" font-size="45.5">10<tspan font-size="32.0" dx="-2" dy="-15.5">0</tspan></text><text x="138.0" y="1616.3" text-anchor="end" font-size="45.5">10<tspan font-size="32.0" dx="-2" dy="-15.5">−2</tspan></text><text x="138.0" y="1742.0" text-anchor="end" font-size="45.5">10<tspan font-size="32.0" dx="-2" dy="-15.5">−4</tspan></text><text x="138.0" y="1867.7" text-anchor="end" font-size="45.5">10<tspan font-size="32.0" dx="-2" dy="-15.5">−6</tspan></text><text x="138.0" y="1968.8" text-anchor="end" font-size="45.5">10<tspan font-size="32.0" dx="-2" dy="-15.5">6</tspan></text><text x="138.0" y="2094.8" text-anchor="end" font-size="45.5">10<tspan font-size="32.0" dx="-2" dy="-15.5">4</tspan></text><text x="138.0" y="2220.8" text-anchor="end" font-size="45.5">10<tspan font-size="32.0" dx="-2" dy="-15.5">2</tspan></text><text x="881.0" y="211.9" text-anchor="start" font-size="45.5">10<tspan font-size="32.0" dx="-2" dy="-15.5">4</tspan></text><text x="881.0" y="388.3" text-anchor="start" font-size="45.5">10<tspan font-size="32.0" dx="-2" dy="-15.5">2</tspan></text><text x="881" y="563.6" font-size="45.5">1.00</text><text x="881" y="673.6" font-size="45.5">0.75</text><text x="881" y="783.6" font-size="45.5">0.50</text><text x="881" y="893.6" font-size="45.5">0.25</text><text x="881.0" y="1003.6" text-anchor="start" font-size="45.5">10<tspan font-size="32.0" dx="-2" dy="-15.5">0</tspan></text><text x="881.0" y="1105.1" text-anchor="start" font-size="45.5">10<tspan font-size="32.0" dx="-2" dy="-15.5">−2</tspan></text><text x="881.0" y="1206.6" text-anchor="start" font-size="45.5">10<tspan font-size="32.0" dx="-2" dy="-15.5">−4</tspan></text><text x="881.0" y="1308.1" text-anchor="start" font-size="45.5">10<tspan font-size="32.0" dx="-2" dy="-15.5">−6</tspan></text><text x="881.0" y="1409.6" text-anchor="start" font-size="45.5">10<tspan font-size="32.0" dx="-2" dy="-15.5">−8</tspan></text><text x="881.0" y="1617.0" text-anchor="start" font-size="45.5">10<tspan font-size="32.0" dx="-2" dy="-15.5">3</tspan></text><text x="881.0" y="1794.0" text-anchor="start" font-size="45.5">10<tspan font-size="32.0" dx="-2" dy="-15.5">1</tspan></text><text x="881.0" y="2023.0" text-anchor="start" font-size="45.5">10<tspan font-size="32.0" dx="-2" dy="-15.5">3</tspan></text><text x="881.0" y="2199.5" text-anchor="start" font-size="45.5">10<tspan font-size="32.0" dx="-2" dy="-15.5">1</tspan></text><text x="486" y="39.5" text-anchor="middle" font-size="45.5"><tspan font-style="italic">n</tspan><tspan font-size="32.0" dy="8">H</tspan><tspan dy="-8"> [cm</tspan><tspan font-size="32.0" dy="-17">−3</tspan><tspan dy="17">]</tspan></text><text x="486" y="2420.0" text-anchor="middle" font-size="45.5"><tspan font-style="italic">n</tspan><tspan font-size="32.0" dy="8">H</tspan><tspan dy="-8"> [cm</tspan><tspan font-size="32.0" dy="-17">−3</tspan><tspan dy="17">]</tspan></text><text transform="translate(62.0 331.6) rotate(-90)" text-anchor="middle" font-size="45.5"><tspan font-style="italic">T</tspan> [K]</text><text transform="translate(62.0 772.0) rotate(-90)" text-anchor="middle" font-size="45.5"><tspan font-style="italic">T</tspan> [K]</text><text transform="translate(62.0 1212.4) rotate(-90)" text-anchor="middle" font-size="45.5"><tspan font-style="italic">T</tspan> [K]</text><text transform="translate(38.0 1651.0) rotate(-90)" text-anchor="middle" font-size="45.5"><tspan font-style="italic">Z</tspan> [<tspan font-style="italic">Z</tspan><tspan font-size="32" dy="8">⊙</tspan><tspan dy="-8">]</tspan></text><text transform="translate(60.0 2090.0) rotate(-90)" text-anchor="middle" font-size="45.5"><tspan font-style="italic">J</tspan><tspan font-size="32" dy="8">21</tspan></text><text transform="translate(985.0 329.0) rotate(-90)" text-anchor="middle" font-size="45.5"><tspan font-style="italic">M</tspan><tspan font-size="32" dy="8">gas</tspan><tspan dy="-8"> [</tspan><tspan font-style="italic">M</tspan><tspan font-size="32" dy="8">⊙</tspan><tspan dy="-8">]</tspan></text><text transform="translate(985.0 1650.0) rotate(-90)" text-anchor="middle" font-size="45.5"><tspan font-style="italic">M</tspan><tspan font-size="32" dy="8">gas</tspan><tspan dy="-8"> [</tspan><tspan font-style="italic">M</tspan><tspan font-size="32" dy="8">⊙</tspan><tspan dy="-8">]</tspan></text><text transform="translate(985.0 2090.0) rotate(-90)" text-anchor="middle" font-size="45.5"><tspan font-style="italic">M</tspan><tspan font-size="32" dy="8">gas</tspan><tspan dy="-8"> [</tspan><tspan font-style="italic">M</tspan><tspan font-size="32" dy="8">⊙</tspan><tspan dy="-8">]</tspan></text><text transform="translate(1009.0 770.0) rotate(-90)" text-anchor="middle" font-size="45.5"><tspan font-style="italic">y</tspan>(H<tspan font-size="32" dy="-17">+</tspan><tspan dy="17">)</tspan></text><text transform="translate(1005.0 1210.0) rotate(-90)" text-anchor="middle" font-size="45.5"><tspan font-style="italic">y</tspan>(H<tspan font-size="32" dy="8">2</tspan><tspan dy="-8">)</tspan></text></g>
</svg>
</body></html>
